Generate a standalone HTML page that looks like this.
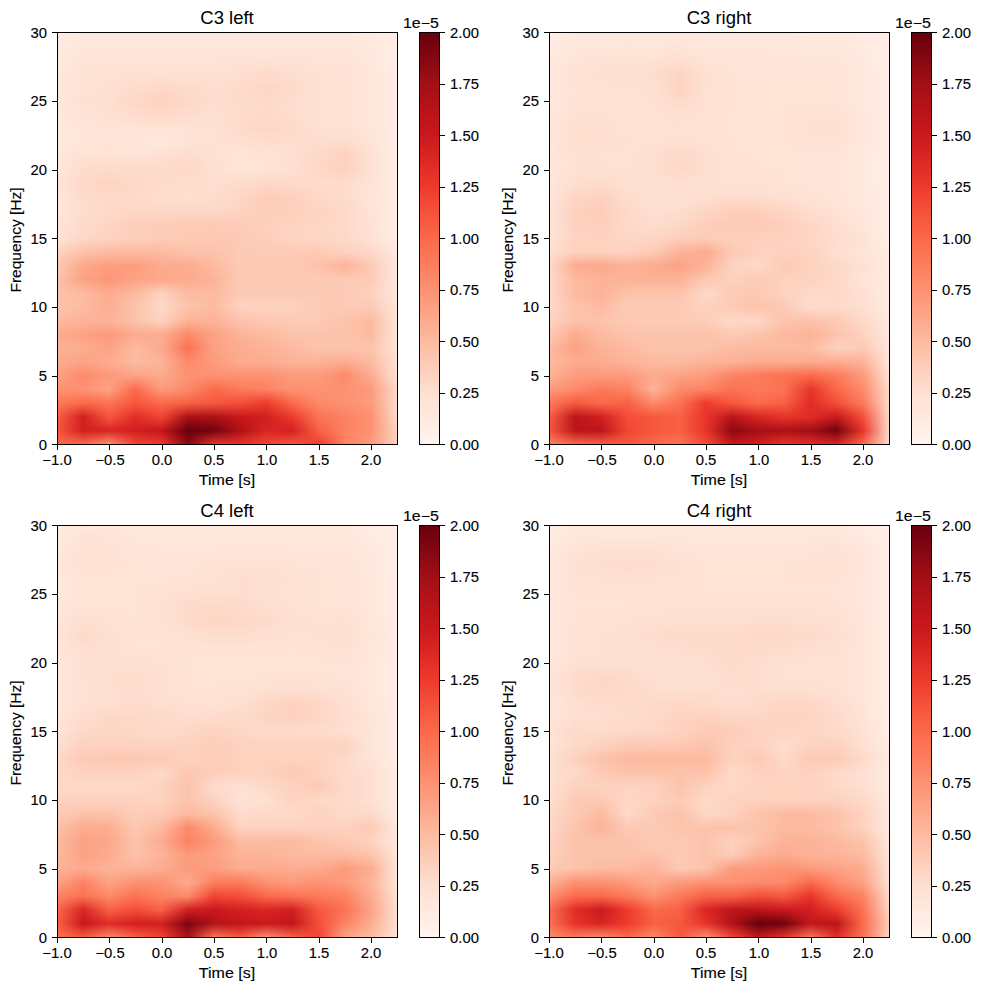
<!DOCTYPE html><html><head><meta charset="utf-8"><style>
html,body{margin:0;padding:0;background:#fff;}
body{width:982px;height:990px;position:relative;overflow:hidden;font-family:"Liberation Sans",sans-serif;color:#000;}
.hm{position:absolute;overflow:hidden;}
.hm i{display:block;height:1px;margin-left:0.40px;width:340.10px;}
.cb{position:absolute;}
.sp{position:absolute;border:1px solid #000;}
b{position:absolute;background:#000;}
span{position:absolute;white-space:nowrap;line-height:1;transform-origin:0 0;-webkit-text-stroke:0.12px #000;}
.tl{font-size:13.89px;}
.ti{font-size:18.4px;}
.xt{transform:scaleX(1.07) translateX(-50%);}
.yt{transform:scaleX(1.07) translateX(-100%);}
.cl{transform:scaleX(1.07);}
.of{transform:scaleX(1.15);}
.xl{font-size:14.3px;transform:scaleX(1.12) translateX(-50%);}
.yl{font-size:14.3px;transform:rotate(-90deg) scaleX(1.085) translate(-50%,-50%);}
.tt{font-size:18.4px;-webkit-text-stroke:0;transform:scaleX(1.005) translateX(-50%);}
</style></head><body>
<div class="hm" style="left:57px;top:32px;width:341px;height:413px">
<i style="background:linear-gradient(90deg,#ffece3,#fee8dd,#fee8dd,#fee8dd,#fee8dd,#fee8dd,#fee8dd,#fee8dd,#fee8dd,#fee8dd,#fee8dd,#fee8dd,#feeae1,#ffede5)"></i>
<i style="background:linear-gradient(90deg,#ffece3,#fee8dd,#fee8dd,#fee8dd,#fee8dd,#fee8dd,#fee8dd,#fee8dd,#fee8dd,#fee8dd,#fee8dd,#fee8dd,#feeae1,#ffede5)"></i>
<i style="background:linear-gradient(90deg,#ffece3,#fee8dd,#fee8dd,#fee8dd,#fee8dd,#fee8dd,#fee8dd,#fee8dd,#fee8dd,#fee8dd,#fee8dd,#fee8dd,#feeae1,#ffede5)"></i>
<i style="background:linear-gradient(90deg,#ffebe2,#fee7dd,#fee7dd,#fee7dd,#fee7dd,#fee7dd,#fee7dd,#fee7dd,#fee7dd,#fee7dd,#fee7dd,#fee7dd,#feeae1,#ffede5)"></i>
<i style="background:linear-gradient(90deg,#ffebe2,#fee7dc,#fee7dc,#fee7dc,#fee7dc,#fee7dc,#fee7dc,#fee7dc,#fee7dc,#fee7dc,#fee7dc,#fee7dc,#feeae0,#ffede5)"></i>
<i style="background:linear-gradient(90deg,#ffebe2,#fee7dc,#fee7dc,#fee7dc,#fee7dc,#fee7dc,#fee7dc,#fee7dc,#fee7dc,#fee7dc,#fee7dc,#fee7dc,#feeae0,#ffede5)"></i>
<i style="background:linear-gradient(90deg,#ffebe2,#fee7dc,#fee7dc,#fee7dc,#fee7dc,#fee7dc,#fee7dc,#fee7dc,#fee7dc,#fee7dc,#fee7dc,#fee7dc,#feeae0,#ffede5)"></i>
<i style="background:linear-gradient(90deg,#ffebe2,#fee7dc,#fee7dc,#fee7dc,#fee7dc,#fee7dc,#fee7dc,#fee7dc,#fee7dc,#fee7dc,#fee7dc,#fee7dc,#feeae0,#ffede5)"></i>
<i style="background:linear-gradient(90deg,#ffebe2,#fee7dc,#fee7dc,#fee7dc,#fee7dc,#fee7dc,#fee7dc,#fee7dc,#fee7dc,#fee7dc,#fee7dc,#fee7dc,#feeae0,#ffede5)"></i>
<i style="background:linear-gradient(90deg,#ffebe2,#fee7db,#fee7db,#fee7db,#fee7db,#fee7db,#fee7db,#fee7db,#fee7db,#fee7db,#fee7db,#fee7db,#feeae0,#ffede5)"></i>
<i style="background:linear-gradient(90deg,#ffebe1,#fee6db,#fee6db,#fee6db,#fee6db,#fee6db,#fee6db,#fee6db,#fee6db,#fee6db,#fee6db,#fee6db,#fee9e0,#ffede5)"></i>
<i style="background:linear-gradient(90deg,#ffebe1,#fee6db,#fee6db,#fee6db,#fee6db,#fee6db,#fee6db,#fee6db,#fee6db,#fee6db,#fee6db,#fee6db,#fee9df,#ffede5)"></i>
<i style="background:linear-gradient(90deg,#ffebe1,#fee6db,#fee6db,#fee6db,#fee6db,#fee6db,#fee6db,#fee6db,#fee6db,#fee6db,#fee6db,#fee6db,#fee9df,#ffede5)"></i>
<i style="background:linear-gradient(90deg,#ffebe1,#fee6da,#fee6da,#fee6da,#fee6da,#fee6da,#fee6da,#fee6da,#fee6da,#fee6da,#fee6da,#fee6da,#fee9df,#ffede5)"></i>
<i style="background:linear-gradient(90deg,#feeae1,#fee6da,#fee6da,#fee6da,#fee6da,#fee6da,#fee6da,#fee6da,#fee6da,#fee6da,#fee6da,#fee6da,#fee9df,#ffede5)"></i>
<i style="background:linear-gradient(90deg,#feeae1,#fee6da,#fee6da,#fee6da,#fee6da,#fee6da,#fee6da,#fee6da,#fee6da,#fee6da,#fee6da,#fee6da,#fee9df,#ffede5)"></i>
<i style="background:linear-gradient(90deg,#feeae1,#fee6da,#fee6da,#fee6da,#fee6da,#fee6da,#fee6da,#fee5da,#fee5da,#fee5da,#fee6da,#fee6da,#fee9df,#ffede5)"></i>
<i style="background:linear-gradient(90deg,#feeae0,#fee5da,#fee5da,#fee5da,#fee5da,#fee5da,#fee5da,#fee5d9,#fee5d9,#fee5d9,#fee5da,#fee5da,#fee9de,#ffede5)"></i>
<i style="background:linear-gradient(90deg,#feeae0,#fee5d9,#fee5d9,#fee5d9,#fee5d9,#fee5d9,#fee5d9,#fee5d9,#fee5d9,#fee5d9,#fee5d9,#fee5d9,#fee9de,#ffede5)"></i>
<i style="background:linear-gradient(90deg,#feeae0,#fee5d9,#fee5d9,#fee5d9,#fee5d9,#fee5d9,#fee5d9,#fee5d9,#fee5d9,#fee5d9,#fee5d9,#fee5d9,#fee8de,#ffede5)"></i>
<i style="background:linear-gradient(90deg,#feeae0,#fee5d9,#fee5d9,#fee5d9,#fee5d9,#fee5d9,#fee5d9,#fee5d9,#fee4d8,#fee5d9,#fee5d9,#fee5d9,#fee8de,#ffede5)"></i>
<i style="background:linear-gradient(90deg,#feeae0,#fee5d9,#fee5d9,#fee5d9,#fee5d9,#fee5d9,#fee5d9,#fee4d8,#fee4d8,#fee4d8,#fee5d9,#fee5d9,#fee8de,#ffede5)"></i>
<i style="background:linear-gradient(90deg,#feeae0,#fee5d9,#fee5d9,#fee5d9,#fee5d9,#fee5d9,#fee5d9,#fee4d8,#fee4d7,#fee4d8,#fee5d9,#fee5d9,#fee8dd,#ffede5)"></i>
<i style="background:linear-gradient(90deg,#feeae0,#fee4d8,#fee4d8,#fee4d8,#fee4d8,#fee4d8,#fee4d8,#fee4d8,#fee4d7,#fee4d8,#fee4d8,#fee4d8,#fee8dd,#ffede5)"></i>
<i style="background:linear-gradient(90deg,#fee9e0,#fee4d8,#fee4d8,#fee4d8,#fee4d8,#fee4d8,#fee4d8,#fee4d8,#fee3d7,#fee4d8,#fee4d8,#fee4d8,#fee8dd,#ffede5)"></i>
<i style="background:linear-gradient(90deg,#fee9df,#fee4d8,#fee4d8,#fee4d8,#fee4d8,#fee4d8,#fee4d8,#fee4d7,#fee3d6,#fee4d7,#fee4d8,#fee4d8,#fee8dd,#ffede5)"></i>
<i style="background:linear-gradient(90deg,#fee9df,#fee4d8,#fee4d8,#fee4d8,#fee4d8,#fee4d8,#fee4d8,#fee3d7,#fee3d6,#fee3d7,#fee4d8,#fee4d8,#fee7dd,#ffede5)"></i>
<i style="background:linear-gradient(90deg,#fee9df,#fee4d8,#fee4d8,#fee4d8,#fee4d8,#fee4d8,#fee4d8,#fee3d7,#fee3d6,#fee3d7,#fee4d8,#fee4d8,#fee7dc,#ffede5)"></i>
<i style="background:linear-gradient(90deg,#fee9df,#fee4d7,#fee4d7,#fee4d7,#fee4d7,#fee4d7,#fee4d7,#fee3d6,#fee2d5,#fee3d6,#fee4d7,#fee4d7,#fee7dc,#ffede5)"></i>
<i style="background:linear-gradient(90deg,#fee9df,#fee4d7,#fee4d7,#fee4d7,#fee3d7,#fee4d7,#fee4d7,#fee3d6,#fee2d4,#fee3d6,#fee4d7,#fee4d7,#fee7dc,#ffede5)"></i>
<i style="background:linear-gradient(90deg,#fee9df,#fee3d7,#fee3d7,#fee3d7,#fee3d7,#fee3d7,#fee3d7,#fee2d5,#fee1d4,#fee2d5,#fee3d7,#fee3d7,#fee7dc,#ffede5)"></i>
<i style="background:linear-gradient(90deg,#fee9df,#fee3d7,#fee3d7,#fee3d7,#fee3d6,#fee3d7,#fee3d7,#fee2d5,#fee1d3,#fee2d5,#fee3d7,#fee3d7,#fee7dc,#ffede5)"></i>
<i style="background:linear-gradient(90deg,#fee9de,#fee3d7,#fee3d7,#fee3d6,#fee3d6,#fee3d6,#fee3d6,#fee2d4,#fee0d2,#fee2d4,#fee3d6,#fee3d7,#fee7dc,#ffede5)"></i>
<i style="background:linear-gradient(90deg,#fee9de,#fee3d6,#fee3d6,#fee3d6,#fee3d6,#fee3d6,#fee3d6,#fee1d4,#fee0d2,#fee1d4,#fee3d6,#fee3d6,#fee7db,#ffede5)"></i>
<i style="background:linear-gradient(90deg,#fee9de,#fee3d6,#fee3d6,#fee3d6,#fee2d5,#fee3d6,#fee3d6,#fee1d4,#fedfd1,#fee1d4,#fee3d6,#fee3d6,#fee7db,#ffede5)"></i>
<i style="background:linear-gradient(90deg,#fee8de,#fee3d6,#fee3d6,#fee2d5,#fee2d5,#fee2d5,#fee2d5,#fee1d3,#feded0,#fee1d3,#fee2d5,#fee3d6,#fee6db,#ffede5)"></i>
<i style="background:linear-gradient(90deg,#fee8de,#fee3d6,#fee3d6,#fee2d5,#fee2d5,#fee2d5,#fee2d5,#fee0d3,#fedecf,#fee0d3,#fee2d5,#fee3d6,#fee6db,#ffede5)"></i>
<i style="background:linear-gradient(90deg,#fee8de,#fee2d6,#fee2d6,#fee2d5,#fee2d4,#fee2d5,#fee2d5,#fee0d2,#feddcf,#fee0d2,#fee2d5,#fee2d6,#fee6db,#ffede5)"></i>
<i style="background:linear-gradient(90deg,#fee8de,#fee2d5,#fee2d5,#fee2d5,#fee1d4,#fee2d5,#fee2d5,#fee0d2,#feddce,#fee0d2,#fee2d5,#fee2d5,#fee6db,#ffede5)"></i>
<i style="background:linear-gradient(90deg,#fee8dd,#fee2d5,#fee2d5,#fee2d4,#fee1d4,#fee2d4,#fee2d4,#fedfd1,#fedccd,#fedfd1,#fee2d4,#fee2d5,#fee6db,#ffede5)"></i>
<i style="background:linear-gradient(90deg,#fee8dd,#fee2d5,#fee2d5,#fee1d4,#fee1d3,#fee1d4,#fee1d4,#fedfd1,#fedccc,#fedfd1,#fee1d4,#fee2d5,#fee6db,#ffede5)"></i>
<i style="background:linear-gradient(90deg,#fee8dd,#fee2d5,#fee2d5,#fee1d4,#fee1d3,#fee1d4,#fee1d4,#fedfd0,#fedbcc,#fedfd0,#fee1d4,#fee2d5,#fee6da,#ffede5)"></i>
<i style="background:linear-gradient(90deg,#fee8dd,#fee2d5,#fee2d5,#fee1d3,#fee0d2,#fee1d3,#fee1d4,#feded0,#fedbcb,#feded0,#fee1d4,#fee2d5,#fee6da,#ffede5)"></i>
<i style="background:linear-gradient(90deg,#fee8dd,#fee2d5,#fee2d4,#fee1d3,#fee0d1,#fee0d3,#fee1d3,#feded0,#fedacb,#feded0,#fee1d4,#fee2d5,#fee6da,#ffede5)"></i>
<i style="background:linear-gradient(90deg,#fee8dd,#fee2d5,#fee2d4,#fee0d2,#fedfd1,#fee0d2,#fee1d3,#fedecf,#fedaca,#fedecf,#fee1d4,#fee2d5,#fee6da,#ffede5)"></i>
<i style="background:linear-gradient(90deg,#fee8dd,#fee2d5,#fee2d4,#fee0d2,#feded0,#fee0d1,#fee1d3,#fedecf,#fedac9,#fedecf,#fee1d4,#fee2d5,#fee6da,#ffede5)"></i>
<i style="background:linear-gradient(90deg,#fee8dd,#fee2d5,#fee1d4,#fee0d1,#fedecf,#fedfd1,#fee0d3,#feddcf,#fed9c9,#feddcf,#fee1d4,#fee2d5,#fee6da,#ffede5)"></i>
<i style="background:linear-gradient(90deg,#fee8dd,#fee2d5,#fee1d4,#fedfd1,#feddce,#fedfd0,#fee0d2,#feddce,#fed9c8,#feddce,#fee1d4,#fee2d5,#fee6da,#ffede5)"></i>
<i style="background:linear-gradient(90deg,#fee8dd,#fee2d5,#fee1d4,#fedfd0,#feddce,#feded0,#fee0d2,#feddce,#fed8c8,#feddce,#fee1d4,#fee2d5,#fee6da,#ffede5)"></i>
<i style="background:linear-gradient(90deg,#fee8dd,#fee2d5,#fee1d4,#feded0,#fedccd,#fedecf,#fee0d2,#feddce,#fed8c7,#feddce,#fee1d4,#fee2d5,#fee6da,#ffede5)"></i>
<i style="background:linear-gradient(90deg,#fee8dd,#fee2d5,#fee1d3,#feded0,#fedccc,#feddcf,#fee0d2,#fedccd,#fed7c7,#fedccd,#fee1d4,#fee2d5,#fee6da,#ffede5)"></i>
<i style="background:linear-gradient(90deg,#fee8dd,#fee2d5,#fee1d3,#fedecf,#fedbcb,#feddce,#fedfd1,#fedccd,#fed7c6,#fedccd,#fee1d4,#fee2d5,#fee6da,#ffede5)"></i>
<i style="background:linear-gradient(90deg,#fee8dd,#fee2d5,#fee1d3,#feddcf,#fedacb,#fedccd,#fedfd1,#fedccd,#fdd7c6,#fedccd,#fee1d4,#fee2d5,#fee6da,#ffede5)"></i>
<i style="background:linear-gradient(90deg,#fee8dd,#fee2d5,#fee1d3,#feddce,#fedaca,#fedccd,#fedfd1,#fedccc,#fdd6c5,#fedccc,#fee1d4,#fee2d5,#fee6da,#ffede5)"></i>
<i style="background:linear-gradient(90deg,#fee8dd,#fee2d5,#fee1d3,#feddce,#fed9c9,#fedccc,#fedfd0,#fedbcc,#fdd6c4,#fedbcc,#fee1d4,#fee2d5,#fee6da,#ffede5)"></i>
<i style="background:linear-gradient(90deg,#fee8dd,#fee2d5,#fee1d3,#fedccd,#fed9c8,#fedbcc,#fedfd0,#fedbcc,#fdd5c4,#fedbcc,#fee1d4,#fee2d5,#fee6da,#ffede5)"></i>
<i style="background:linear-gradient(90deg,#fee8dd,#fee2d5,#fee0d3,#fedccd,#fed8c8,#fedbcb,#fedfd0,#fedbcc,#fdd6c4,#fedbcc,#fee1d4,#fee2d5,#fee6da,#ffede5)"></i>
<i style="background:linear-gradient(90deg,#fee8dd,#fee2d5,#fee0d2,#fedbcc,#fed8c7,#fedacb,#fedfd0,#fedbcc,#fdd6c5,#fedccc,#fee1d4,#fee2d5,#fee6da,#ffede5)"></i>
<i style="background:linear-gradient(90deg,#fee8dd,#fee2d4,#fee0d2,#fedbcb,#fed7c6,#fedaca,#feded0,#fedbcc,#fdd6c5,#fedccc,#fee1d4,#fee2d5,#fee6da,#ffede5)"></i>
<i style="background:linear-gradient(90deg,#fee8dd,#fee2d4,#fee0d2,#fedbcb,#fed7c6,#fedaca,#feded0,#fedccc,#fdd6c5,#fedccd,#fee1d4,#fee2d5,#fee6da,#ffede5)"></i>
<i style="background:linear-gradient(90deg,#fee8dd,#fee2d4,#fee0d2,#fedaca,#fdd6c5,#fed9c9,#feded0,#fedccc,#fdd7c6,#fedccd,#fee1d4,#fee2d5,#fee6da,#ffede5)"></i>
<i style="background:linear-gradient(90deg,#fee8dd,#fee2d4,#fee0d2,#fedaca,#fdd6c4,#fed9c9,#feded0,#fedccc,#fed7c6,#fedccd,#fee1d4,#fee2d5,#fee6da,#ffede5)"></i>
<i style="background:linear-gradient(90deg,#fee8dd,#fee2d4,#fee0d1,#fed9c9,#fdd5c4,#fed9c8,#fedecf,#fedccc,#fed7c6,#fedccd,#fee1d4,#fee2d5,#fee6da,#ffede5)"></i>
<i style="background:linear-gradient(90deg,#fee8dd,#fee2d4,#fedfd1,#fed9c9,#fdd5c3,#fed8c8,#fedecf,#fedccd,#fed7c7,#feddcd,#fee1d4,#fee2d5,#fee6da,#ffede5)"></i>
<i style="background:linear-gradient(90deg,#fee8dd,#fee1d4,#fedfd1,#fed8c8,#fdd4c2,#fed8c8,#fedecf,#fedccd,#fed8c7,#feddce,#fee1d4,#fee2d5,#fee6da,#ffede5)"></i>
<i style="background:linear-gradient(90deg,#fee8dd,#fee1d4,#fedfd1,#fed8c8,#fdd4c2,#fed8c7,#fedecf,#fedccd,#fed8c7,#feddce,#fee1d4,#fee2d5,#fee6da,#ffede5)"></i>
<i style="background:linear-gradient(90deg,#fee8dd,#fee1d4,#fedfd1,#fed8c7,#fdd3c1,#fed7c7,#fedecf,#fedccd,#fed8c8,#feddce,#fee1d4,#fee2d5,#fee6da,#ffede5)"></i>
<i style="background:linear-gradient(90deg,#fee8dd,#fee1d4,#fedfd1,#fed7c6,#fdd3c0,#fed7c6,#fedecf,#fedccd,#fed8c8,#feddce,#fee1d4,#fee2d5,#fee6da,#ffede5)"></i>
<i style="background:linear-gradient(90deg,#fee8dd,#fee1d4,#fedfd0,#fed7c6,#fdd2c0,#fed7c6,#fedecf,#fedccd,#fed9c8,#feddcf,#fee1d4,#fee2d5,#fee6da,#ffede5)"></i>
<i style="background:linear-gradient(90deg,#fee8dd,#fee1d4,#fedfd0,#fed7c6,#fdd2c0,#fed7c6,#fedecf,#fedccd,#fed9c9,#fedecf,#fee1d4,#fee2d5,#fee6da,#ffede5)"></i>
<i style="background:linear-gradient(90deg,#fee8dd,#fee1d4,#fedfd1,#fed7c6,#fdd3c0,#fed7c6,#fedecf,#fedccd,#fed9c9,#fedecf,#fee1d4,#fee2d5,#fee6da,#ffede5)"></i>
<i style="background:linear-gradient(90deg,#fee8dd,#fee1d4,#fedfd1,#fed8c7,#fdd3c1,#fed8c7,#fedecf,#fedccd,#fed9c9,#fedecf,#fee1d4,#fee2d5,#fee6da,#ffede5)"></i>
<i style="background:linear-gradient(90deg,#fee8dd,#fee2d4,#fedfd1,#fed8c7,#fdd4c2,#fed8c7,#feded0,#fedccd,#fed9c9,#fedecf,#fee1d4,#fee2d5,#fee6da,#ffede5)"></i>
<i style="background:linear-gradient(90deg,#fee8dd,#fee2d4,#fedfd1,#fed8c8,#fdd4c2,#fed8c8,#feded0,#fedccd,#fed9c9,#fedecf,#fee1d4,#fee2d5,#fee6da,#ffede5)"></i>
<i style="background:linear-gradient(90deg,#fee8dd,#fee2d5,#fedfd1,#fed9c9,#fdd5c3,#fed9c9,#feded0,#fedccd,#fed9c9,#fedecf,#fee1d4,#fee2d5,#fee6da,#ffede5)"></i>
<i style="background:linear-gradient(90deg,#fee8dd,#fee2d5,#fee0d1,#fed9c9,#fdd5c4,#fed9c9,#fedfd0,#fedccd,#fed9c9,#fedecf,#fee1d4,#fee2d5,#fee6da,#ffede5)"></i>
<i style="background:linear-gradient(90deg,#fee8dd,#fee2d5,#fee0d2,#fedaca,#fdd6c4,#fedaca,#fedfd0,#fedccd,#fed9c9,#fedecf,#fee1d4,#fee2d5,#fee6da,#ffede5)"></i>
<i style="background:linear-gradient(90deg,#fee8dd,#fee2d5,#fee0d2,#fedaca,#fdd6c5,#fedaca,#fedfd1,#fedccd,#fed9c9,#fedecf,#fee1d4,#fee2d5,#fee6da,#ffede5)"></i>
<i style="background:linear-gradient(90deg,#fee8dd,#fee2d5,#fee0d2,#fedbcb,#fdd7c6,#fedbcb,#fedfd1,#fedccd,#fed9c9,#fedecf,#fee1d4,#fee2d5,#fee6da,#ffede5)"></i>
<i style="background:linear-gradient(90deg,#fee8dd,#fee2d5,#fee0d2,#fedbcb,#fed7c6,#fedbcb,#fedfd1,#fedccd,#fed9c9,#fedecf,#fee1d4,#fee2d5,#fee6da,#ffede5)"></i>
<i style="background:linear-gradient(90deg,#fee8dd,#fee2d5,#fee0d2,#fedbcc,#fed8c7,#fedbcc,#fedfd1,#fedccd,#fed9c9,#fedecf,#fee1d4,#fee2d5,#fee6da,#ffede5)"></i>
<i style="background:linear-gradient(90deg,#fee8dd,#fee2d5,#fee0d3,#fedccc,#fed8c8,#fedccc,#fee0d2,#fedccd,#fed9c9,#fedecf,#fee1d4,#fee2d5,#fee6da,#ffede5)"></i>
<i style="background:linear-gradient(90deg,#fee8dd,#fee3d6,#fee1d3,#fedccd,#fed9c8,#fedccd,#fee0d2,#fedccd,#fed9c9,#fedecf,#fee1d4,#fee2d5,#fee6da,#ffede5)"></i>
<i style="background:linear-gradient(90deg,#fee8dd,#fee3d6,#fee1d3,#feddce,#fed9c9,#feddce,#fee0d2,#fedccd,#fed9c8,#feddcf,#fee1d4,#fee2d5,#fee6da,#ffede5)"></i>
<i style="background:linear-gradient(90deg,#fee8dd,#fee3d6,#fee1d3,#feddce,#fedaca,#feddce,#fee0d2,#fedccd,#fed8c8,#feddce,#fee1d4,#fee2d5,#fee6da,#ffede5)"></i>
<i style="background:linear-gradient(90deg,#fee8de,#fee3d6,#fee1d4,#fedecf,#fedbcb,#fedecf,#fee0d2,#fedccd,#fed8c8,#feddce,#fee1d4,#fee2d5,#fee6da,#ffede5)"></i>
<i style="background:linear-gradient(90deg,#fee8de,#fee3d7,#fee1d4,#feded0,#fedccc,#fedecf,#fee0d2,#fedccd,#fed8c7,#feddce,#fee1d4,#fee2d4,#fee6da,#ffede5)"></i>
<i style="background:linear-gradient(90deg,#fee8de,#fee3d7,#fee2d4,#fedfd0,#fedccd,#feded0,#fee0d2,#fedccd,#fed8c7,#feddce,#fee1d3,#fee2d4,#fee6da,#ffede5)"></i>
<i style="background:linear-gradient(90deg,#fee8de,#fee4d7,#fee2d5,#fedfd1,#feddce,#fedfd1,#fee0d2,#fedccd,#fed7c7,#feddcd,#fee1d3,#fee2d4,#fee6da,#ffede5)"></i>
<i style="background:linear-gradient(90deg,#fee8de,#fee4d7,#fee2d5,#fee0d2,#fedecf,#fedfd1,#fee0d2,#fedccc,#fed7c6,#fedccd,#fee1d3,#fee2d4,#fee6da,#ffede5)"></i>
<i style="background:linear-gradient(90deg,#fee9de,#fee4d8,#fee2d5,#fee0d2,#fedfd0,#fee0d2,#fee0d2,#fedccc,#fed7c6,#fedccd,#fee1d3,#fee2d4,#fee6da,#ffede5)"></i>
<i style="background:linear-gradient(90deg,#fee9de,#fee4d8,#fee3d6,#fee1d3,#fedfd1,#fee0d3,#fee0d2,#fedccc,#fdd7c6,#fedccd,#fee1d3,#fee1d4,#fee6da,#ffede5)"></i>
<i style="background:linear-gradient(90deg,#fee9df,#fee4d8,#fee3d6,#fee1d4,#fee0d2,#fee1d3,#fee0d3,#fedccc,#fdd6c5,#fedccd,#fee1d3,#fee1d4,#fee6da,#ffede5)"></i>
<i style="background:linear-gradient(90deg,#fee9df,#fee5d9,#fee3d6,#fee2d5,#fee1d3,#fee1d4,#fee0d3,#fedbcc,#fdd6c5,#fedccc,#fee1d3,#fee1d4,#fee6da,#ffede5)"></i>
<i style="background:linear-gradient(90deg,#fee9df,#fee5d9,#fee3d7,#fee2d5,#fee2d5,#fee2d4,#fee0d3,#fedbcc,#fdd6c5,#fedccc,#fee1d3,#fee1d4,#fee6da,#ffede5)"></i>
<i style="background:linear-gradient(90deg,#fee9df,#fee5d9,#fee4d7,#fee3d6,#fee2d6,#fee2d5,#fee1d3,#fedbcc,#fdd6c4,#fedbcc,#fee1d3,#fee1d4,#fee6da,#ffede5)"></i>
<i style="background:linear-gradient(90deg,#fee9df,#fee5d9,#fee4d8,#fee3d7,#fee3d7,#fee3d6,#fee1d3,#fedbcc,#fdd5c4,#fedbcc,#fee1d3,#fee1d4,#fee6da,#ffede5)"></i>
<i style="background:linear-gradient(90deg,#fee9df,#fee5d9,#fee4d8,#fee3d7,#fee3d7,#fee3d6,#fee1d3,#fedccc,#fdd6c5,#fedbcc,#fee0d3,#fee1d3,#fee6da,#ffede5)"></i>
<i style="background:linear-gradient(90deg,#fee9df,#fee5d9,#fee4d8,#fee4d7,#fee4d7,#fee3d6,#fee1d3,#fedccd,#fdd6c5,#fedccc,#fee0d2,#fee1d3,#fee6da,#ffede5)"></i>
<i style="background:linear-gradient(90deg,#fee9df,#fee5d9,#fee4d8,#fee4d7,#fee4d8,#fee3d6,#fee1d3,#fedccd,#fed7c6,#fedccc,#fee0d2,#fee0d2,#fee5da,#ffede5)"></i>
<i style="background:linear-gradient(90deg,#fee9df,#fee5d9,#fee4d8,#fee4d8,#fee4d8,#fee3d6,#fee1d3,#feddcd,#fed7c7,#fedccd,#fee0d2,#fee0d2,#fee5da,#ffede5)"></i>
<i style="background:linear-gradient(90deg,#fee9df,#fee5d9,#fee4d8,#fee4d8,#fee5d9,#fee3d6,#fee1d3,#feddce,#fed8c7,#fedccd,#fedfd1,#fedfd1,#fee5d9,#ffede5)"></i>
<i style="background:linear-gradient(90deg,#fee9df,#fee5d9,#fee4d8,#fee4d8,#fee5d9,#fee3d6,#fee1d3,#feddce,#fed8c8,#fedccd,#fedfd1,#fedfd1,#fee5d9,#ffede5)"></i>
<i style="background:linear-gradient(90deg,#fee9df,#fee5d9,#fee4d8,#fee5d8,#fee5d9,#fee3d6,#fee1d3,#fedecf,#fed9c9,#fedccd,#fedfd1,#fedfd0,#fee5d9,#ffede5)"></i>
<i style="background:linear-gradient(90deg,#fee9df,#fee5d9,#fee4d8,#fee5d9,#fee6da,#fee3d6,#fee1d3,#fedecf,#fed9c9,#feddcd,#fedfd0,#feded0,#fee5d9,#ffede5)"></i>
<i style="background:linear-gradient(90deg,#fee9df,#fee5d9,#fee4d8,#fee5d9,#fee6da,#fee3d6,#fee1d3,#feded0,#fedaca,#feddce,#fedfd0,#fedecf,#fee5d9,#ffede5)"></i>
<i style="background:linear-gradient(90deg,#fee9df,#fee5d9,#fee4d8,#fee5d9,#fee6db,#fee3d6,#fee1d4,#fedfd0,#fedacb,#feddce,#feded0,#fedecf,#fee4d8,#ffede5)"></i>
<i style="background:linear-gradient(90deg,#fee9df,#fee5d9,#fee4d8,#fee5da,#fee6db,#fee3d6,#fee1d4,#fedfd1,#fedbcb,#feddce,#feded0,#feddcf,#fee4d8,#ffede5)"></i>
<i style="background:linear-gradient(90deg,#fee9df,#fee5d9,#fee4d8,#fee6da,#fee7dc,#fee3d6,#fee1d4,#fedfd1,#fedbcc,#feddce,#fedecf,#feddce,#fee4d8,#ffede5)"></i>
<i style="background:linear-gradient(90deg,#fee9df,#fee5d9,#fee4d8,#fee6da,#fee7dc,#fee3d7,#fee1d4,#fee0d1,#fedccd,#feddcf,#fedecf,#feddce,#fee4d8,#ffede5)"></i>
<i style="background:linear-gradient(90deg,#fee9df,#fee5d9,#fee4d8,#fee6da,#fee7dc,#fee3d6,#fee1d4,#fee0d2,#fedccd,#fedecf,#feddcf,#fedccd,#fee4d7,#ffede5)"></i>
<i style="background:linear-gradient(90deg,#fee9df,#fee5d9,#fee4d8,#fee5da,#fee7db,#fee2d6,#fee1d4,#fee0d2,#feddce,#fedecf,#feddce,#fedbcc,#fee4d7,#ffede5)"></i>
<i style="background:linear-gradient(90deg,#fee9df,#fee5d9,#fee4d8,#fee5d9,#fee6db,#fee2d5,#fee1d4,#fee1d3,#feddcf,#fedecf,#feddcd,#fedacb,#fee3d7,#ffede5)"></i>
<i style="background:linear-gradient(90deg,#fee9df,#fee4d8,#fee4d7,#fee5d9,#fee6da,#fee1d4,#fee1d4,#fee1d3,#fedecf,#fedecf,#fedccd,#fedaca,#fee3d6,#ffede5)"></i>
<i style="background:linear-gradient(90deg,#fee9de,#fee4d8,#fee4d7,#fee5d9,#fee5d9,#fee1d3,#fee1d3,#fee1d4,#feded0,#feded0,#fedccc,#fed9c8,#fee3d6,#ffede5)"></i>
<i style="background:linear-gradient(90deg,#fee9de,#fee4d8,#fee3d7,#fee4d8,#fee5d9,#fee0d2,#fee1d3,#fee2d4,#fedfd1,#feded0,#fedbcc,#fed8c7,#fee3d6,#ffede5)"></i>
<i style="background:linear-gradient(90deg,#fee9de,#fee4d7,#fee3d6,#fee4d8,#fee4d8,#fee0d2,#fee1d3,#fee2d5,#fedfd1,#fedfd0,#fedbcb,#fed7c6,#fee2d5,#ffede5)"></i>
<i style="background:linear-gradient(90deg,#fee8de,#fee3d7,#fee3d6,#fee4d7,#fee4d7,#fedfd1,#fee1d3,#fee2d5,#fee0d2,#fedfd0,#fedacb,#fdd6c5,#fee2d5,#ffede5)"></i>
<i style="background:linear-gradient(90deg,#fee8de,#fee3d7,#fee3d6,#fee3d7,#fee3d7,#feded0,#fee1d3,#fee3d6,#fee0d3,#fedfd1,#fedaca,#fdd5c4,#fee2d5,#ffede5)"></i>
<i style="background:linear-gradient(90deg,#fee8de,#fee3d6,#fee2d5,#fee3d7,#fee3d6,#fedecf,#fee1d3,#fee3d6,#fee1d4,#fedfd1,#fedaca,#fdd5c3,#fee2d4,#ffede5)"></i>
<i style="background:linear-gradient(90deg,#fee8de,#fee3d6,#fee2d5,#fee3d6,#fee2d5,#feddce,#fee1d3,#fee3d7,#fee1d4,#fedfd1,#fed9c9,#fdd4c2,#fee1d4,#ffede5)"></i>
<i style="background:linear-gradient(90deg,#fee8de,#fee2d6,#fee2d5,#fee3d6,#fee2d5,#feddce,#fee1d3,#fee4d7,#fee2d5,#fedfd1,#fed9c8,#fdd3c1,#fee1d4,#ffede5)"></i>
<i style="background:linear-gradient(90deg,#fee8dd,#fee2d5,#fee2d4,#fee2d5,#fee1d4,#fedccd,#fee1d3,#fee4d8,#fee2d6,#fee0d1,#fed8c8,#fdd2c0,#fee1d3,#ffede5)"></i>
<i style="background:linear-gradient(90deg,#fee8dd,#fee2d5,#fee1d4,#fee2d5,#fee1d3,#fedccc,#fee1d3,#fee4d8,#fee3d6,#fee0d2,#fed8c7,#fdd1be,#fee1d3,#ffede5)"></i>
<i style="background:linear-gradient(90deg,#fee8dd,#fee2d4,#fee1d3,#fee2d4,#fee0d3,#fedbcb,#fee1d3,#fee5d8,#fee3d7,#fee0d2,#fed8c7,#fdd1be,#fee1d3,#ffede5)"></i>
<i style="background:linear-gradient(90deg,#fee8dd,#fee1d4,#fee0d3,#fee1d4,#fee0d2,#fedbcb,#fee0d3,#fee4d8,#fee3d6,#fee0d2,#fed8c7,#fdd1be,#fee1d3,#ffede5)"></i>
<i style="background:linear-gradient(90deg,#fee8dd,#fee1d3,#fee0d2,#fee1d3,#fedfd1,#fedbcb,#fee0d3,#fee4d8,#fee3d6,#fee0d2,#fed8c7,#fdd1be,#fee1d3,#ffede5)"></i>
<i style="background:linear-gradient(90deg,#fee7dd,#fee0d3,#fedfd1,#fee0d2,#fedfd1,#fedaca,#fee0d3,#fee4d8,#fee3d6,#fee0d2,#fed8c7,#fdd1be,#fee1d3,#ffede5)"></i>
<i style="background:linear-gradient(90deg,#fee7dd,#fee0d2,#fedfd1,#fee0d2,#feded0,#fedaca,#fee0d2,#fee4d8,#fee3d6,#fee0d2,#fed8c7,#fdd1be,#fee1d3,#ffede5)"></i>
<i style="background:linear-gradient(90deg,#fee7dc,#fee0d2,#feded0,#fedfd1,#fedecf,#fedaca,#fee0d2,#fee4d8,#fee3d6,#fee0d2,#fed8c7,#fdd1be,#fee1d3,#ffede5)"></i>
<i style="background:linear-gradient(90deg,#fee7dc,#fedfd1,#fedecf,#fedfd0,#feddcf,#fedac9,#fee0d2,#fee4d8,#fee3d6,#fee0d2,#fed8c7,#fdd1be,#fee1d3,#ffede5)"></i>
<i style="background:linear-gradient(90deg,#fee7dc,#fedfd1,#feddce,#feded0,#feddce,#fed9c9,#fee0d2,#fee4d8,#fee3d6,#fee0d2,#fed8c7,#fdd1be,#fee1d3,#ffede5)"></i>
<i style="background:linear-gradient(90deg,#fee7dc,#feded0,#feddce,#fedecf,#feddcd,#fed9c9,#fee0d2,#fee4d8,#fee3d6,#fee0d2,#fed8c7,#fdd1be,#fee1d3,#ffede5)"></i>
<i style="background:linear-gradient(90deg,#fee7dc,#feded0,#fedccd,#feddce,#fedccd,#fed9c8,#fee0d2,#fee4d8,#fee3d6,#fee0d2,#fed8c7,#fdd1be,#fee1d3,#ffede5)"></i>
<i style="background:linear-gradient(90deg,#fee7dc,#fedecf,#fedccc,#feddce,#fedccc,#fed9c8,#fee0d2,#fee4d8,#fee3d6,#fee0d2,#fed8c7,#fdd1be,#fee1d3,#ffede5)"></i>
<i style="background:linear-gradient(90deg,#fee7dc,#feddce,#fedbcc,#fedccd,#fedbcc,#fed8c8,#fee0d2,#fee4d8,#fee3d6,#fee0d2,#fed8c7,#fdd1be,#fee1d3,#ffede5)"></i>
<i style="background:linear-gradient(90deg,#fee7db,#feddce,#fedbcb,#fedccc,#fedbcb,#fed8c7,#fee0d2,#fee4d8,#fee3d6,#fee0d2,#fed8c7,#fdd1be,#fee1d3,#ffede5)"></i>
<i style="background:linear-gradient(90deg,#fee7db,#fedccd,#fedaca,#fedbcc,#fedaca,#fed8c7,#fee0d2,#fee4d8,#fee3d6,#fee0d2,#fed8c7,#fdd1be,#fee1d3,#ffede5)"></i>
<i style="background:linear-gradient(90deg,#fee6db,#fedccd,#fedaca,#fedbcb,#fedaca,#fed8c7,#fee0d2,#fee3d7,#fee2d5,#fee0d1,#fed8c7,#fdd1bf,#fee1d3,#ffede5)"></i>
<i style="background:linear-gradient(90deg,#fee6db,#fedccc,#fed9c9,#fedbcb,#fedacb,#fed8c8,#fee0d2,#fee3d6,#fee1d4,#fedfd1,#fed8c8,#fdd2c0,#fee1d3,#ffede5)"></i>
<i style="background:linear-gradient(90deg,#fee6db,#fedbcc,#fed9c8,#fedbcb,#fedbcb,#fed9c9,#fee0d1,#fee2d5,#fee0d3,#fedfd0,#fed8c8,#fdd3c1,#fee1d4,#ffede5)"></i>
<i style="background:linear-gradient(90deg,#fee6db,#fedbcc,#fed8c8,#fedaca,#fedbcb,#fed9c9,#fee0d1,#fee2d5,#fee0d2,#feded0,#fed9c8,#fdd4c2,#fee1d4,#ffede5)"></i>
<i style="background:linear-gradient(90deg,#fee6db,#fedbcb,#fed8c7,#fedaca,#fedbcb,#fedaca,#fedfd1,#fee1d4,#fedfd1,#fedecf,#fed9c9,#fdd4c3,#fee1d4,#ffede5)"></i>
<i style="background:linear-gradient(90deg,#fee6db,#fedacb,#fed7c6,#fedaca,#fedbcb,#fedaca,#fedfd1,#fee1d3,#feded0,#feddcf,#fed9c9,#fdd5c4,#fee2d4,#ffede5)"></i>
<i style="background:linear-gradient(90deg,#fee6db,#fedaca,#fdd7c6,#fed9c9,#fedbcc,#fedbcb,#fedfd1,#fee0d2,#feddce,#feddce,#fed9c9,#fdd6c5,#fee2d5,#ffede5)"></i>
<i style="background:linear-gradient(90deg,#fee6db,#fedaca,#fdd6c5,#fed9c9,#fedbcc,#fedbcb,#fedfd1,#fee0d2,#fedccd,#feddcd,#fedaca,#fdd7c6,#fee2d5,#ffede5)"></i>
<i style="background:linear-gradient(90deg,#fee6db,#fed9c9,#fdd6c4,#fed9c9,#fedccc,#fedbcc,#fedfd1,#fedfd1,#fedccc,#fedccd,#fedaca,#fed7c7,#fee2d5,#ffede5)"></i>
<i style="background:linear-gradient(90deg,#fee6db,#fed9c9,#fdd5c4,#fed9c8,#fedccc,#fedccd,#fedfd1,#fedfd0,#fedbcb,#fedccc,#fedaca,#fed8c8,#fee2d6,#ffede5)"></i>
<i style="background:linear-gradient(90deg,#fee6db,#fed9c8,#fdd5c3,#fed8c8,#fedccd,#fedccd,#fedfd1,#fedecf,#fedaca,#fedbcc,#fedacb,#fed9c9,#fee3d6,#ffede5)"></i>
<i style="background:linear-gradient(90deg,#fee6da,#fed8c8,#fdd4c2,#fed8c8,#fedccd,#feddce,#fedfd0,#feddcf,#fed9c9,#fedbcb,#fedbcb,#fedaca,#fee3d6,#ffede5)"></i>
<i style="background:linear-gradient(90deg,#fee6da,#fed8c7,#fdd4c2,#fed8c7,#fedccd,#feddce,#fedfd0,#feddce,#fed8c8,#fedacb,#fedbcb,#fedacb,#fee3d6,#ffede5)"></i>
<i style="background:linear-gradient(90deg,#fee6da,#fed8c7,#fdd3c1,#fed8c7,#fedccd,#fedecf,#fedfd0,#fedccd,#fed8c7,#fedaca,#fedbcc,#fedbcc,#fee3d7,#ffede5)"></i>
<i style="background:linear-gradient(90deg,#fee6da,#fed8c7,#fdd3c1,#fed8c7,#fedccd,#fedecf,#fedfd0,#fedccd,#fed7c6,#fed9c9,#fedbcb,#fedbcc,#fee3d7,#ffede5)"></i>
<i style="background:linear-gradient(90deg,#fee6da,#fed8c8,#fdd4c2,#fed8c8,#feddcd,#fedecf,#fedfd0,#fedbcc,#fdd6c5,#fed9c8,#fedbcb,#fedbcc,#fee3d7,#ffede5)"></i>
<i style="background:linear-gradient(90deg,#fee6db,#fed8c8,#fdd4c2,#fed8c8,#feddce,#fedecf,#feded0,#fedbcb,#fdd5c4,#fed8c7,#fedacb,#fedbcc,#fee3d7,#ffede5)"></i>
<i style="background:linear-gradient(90deg,#fee6db,#fed9c8,#fdd4c3,#fed8c8,#feddce,#fedecf,#feded0,#fedaca,#fdd4c3,#fed7c7,#fedaca,#fedccc,#fee3d7,#ffede5)"></i>
<i style="background:linear-gradient(90deg,#fee6db,#fed9c9,#fdd5c3,#fed9c8,#feddce,#fedecf,#feded0,#fedaca,#fdd3c1,#fdd7c6,#fedaca,#fedccc,#fee3d7,#ffede5)"></i>
<i style="background:linear-gradient(90deg,#fee6db,#fed9c9,#fdd5c4,#fed9c8,#feddce,#fedecf,#feded0,#fed9c9,#fdd3c0,#fdd6c5,#fedaca,#fedccc,#fee4d7,#ffede5)"></i>
<i style="background:linear-gradient(90deg,#fee6db,#fedac9,#fdd5c4,#fed9c9,#feddce,#feded0,#fedecf,#fed9c8,#fdd2bf,#fdd5c4,#fed9c9,#fedccc,#fee4d7,#ffede5)"></i>
<i style="background:linear-gradient(90deg,#fee6db,#fedaca,#fdd6c4,#fed9c9,#feddce,#feded0,#fedecf,#fed8c8,#fdd1be,#fdd5c3,#fed9c9,#fedccd,#fee4d7,#ffede5)"></i>
<i style="background:linear-gradient(90deg,#fee6db,#fedaca,#fdd6c5,#fed9c9,#feddce,#feded0,#fedecf,#fed8c7,#fdd0bd,#fdd4c2,#fed9c9,#fedccd,#fee4d7,#ffede5)"></i>
<i style="background:linear-gradient(90deg,#fee6db,#fedaca,#fdd6c5,#fed9c9,#feddce,#feded0,#fedecf,#fed7c6,#fdcfbc,#fdd3c1,#fed9c8,#fedccd,#fee4d7,#ffede5)"></i>
<i style="background:linear-gradient(90deg,#fee6db,#fedbcb,#fed7c6,#fedaca,#feddce,#feded0,#fedecf,#fed7c6,#fdcebb,#fdd3c0,#fed8c8,#fedccd,#fee4d7,#ffede5)"></i>
<i style="background:linear-gradient(90deg,#fee6db,#fedbcb,#fed7c6,#fedaca,#feddcf,#fedfd0,#fedecf,#fdd6c5,#fdceba,#fdd2bf,#fed8c8,#fedccd,#fee4d7,#ffede5)"></i>
<i style="background:linear-gradient(90deg,#fee6db,#fedbcb,#fed7c7,#fedaca,#feddcf,#fedfd0,#fedecf,#fdd6c4,#fdcdb8,#fdd1be,#fed8c7,#fedccd,#fee4d7,#ffede5)"></i>
<i style="background:linear-gradient(90deg,#fee7db,#fedbcc,#fed8c7,#fedaca,#feddcf,#fedfd0,#feddcf,#fdd5c4,#fdccb8,#fdd1be,#fed8c7,#fedccd,#fee4d8,#ffede5)"></i>
<i style="background:linear-gradient(90deg,#fee7db,#fedbcc,#fed8c7,#fedaca,#feddce,#fedecf,#feddce,#fdd5c4,#fdccb8,#fdd1be,#fed7c6,#fedccd,#fee4d7,#ffede5)"></i>
<i style="background:linear-gradient(90deg,#fee7db,#fedccc,#fed8c7,#fed9c9,#fedccd,#fedecf,#feddcd,#fdd5c3,#fdcdb8,#fdd1be,#fed7c6,#fedccc,#fee4d7,#ffede5)"></i>
<i style="background:linear-gradient(90deg,#fee7db,#fedccc,#fed8c7,#fed9c9,#fedccd,#feddce,#fedccd,#fdd5c3,#fdcdb8,#fdd0bd,#fdd7c6,#fedbcc,#fee4d7,#ffede5)"></i>
<i style="background:linear-gradient(90deg,#fee7db,#fedccd,#fed8c8,#fed9c9,#fedbcc,#feddcd,#fedccc,#fdd5c3,#fdcdb9,#fdd0bd,#fdd6c5,#fedbcb,#fee4d7,#ffede5)"></i>
<i style="background:linear-gradient(90deg,#fee7db,#fedccd,#fed8c8,#fed9c8,#fedbcb,#fedccd,#fedbcc,#fdd5c3,#fdcdb9,#fdd0bd,#fdd6c5,#fedbcb,#fee4d7,#ffede5)"></i>
<i style="background:linear-gradient(90deg,#fee7db,#fedccd,#fed8c8,#fed8c8,#fedacb,#fedbcc,#fedbcb,#fdd4c3,#fdcdb9,#fdd0bd,#fdd6c4,#fedaca,#fee4d7,#ffede5)"></i>
<i style="background:linear-gradient(90deg,#fee7db,#fedccd,#fed8c8,#fed8c8,#fedaca,#fedbcb,#fedacb,#fdd4c2,#fdcdb9,#fdd0bd,#fdd5c4,#fedaca,#fee4d7,#ffede5)"></i>
<i style="background:linear-gradient(90deg,#fee7db,#feddce,#fed8c8,#fed8c7,#fed9c9,#fedacb,#fedaca,#fdd4c2,#fdceba,#fdd0bd,#fdd5c3,#fedac9,#fee3d7,#ffede5)"></i>
<i style="background:linear-gradient(90deg,#fee7db,#feddce,#fed9c8,#fed8c7,#fed9c8,#fedaca,#fedaca,#fdd4c2,#fdceba,#fdd0bd,#fdd5c3,#fed9c9,#fee3d7,#ffede5)"></i>
<i style="background:linear-gradient(90deg,#fee7db,#feddce,#fed9c8,#fed7c7,#fed8c8,#fed9c9,#fed9c9,#fdd4c2,#fdceba,#fdd0bd,#fdd4c2,#fed9c9,#fee3d7,#ffede5)"></i>
<i style="background:linear-gradient(90deg,#fee7db,#feddce,#fed9c8,#fed7c6,#fed8c7,#fed9c9,#fed9c8,#fdd3c1,#fdceba,#fdd0bd,#fdd4c2,#fed9c8,#fee3d7,#ffede5)"></i>
<i style="background:linear-gradient(90deg,#fee7db,#feddce,#fed9c8,#fed7c6,#fed7c6,#fed8c8,#fed8c8,#fdd3c1,#fdceba,#fdd0bc,#fdd4c2,#fed8c8,#fee3d7,#ffede5)"></i>
<i style="background:linear-gradient(90deg,#fee7db,#feddcf,#fed9c9,#fdd7c6,#fed7c6,#fed8c7,#fed8c7,#fdd3c1,#fdcebb,#fdd0bc,#fdd3c1,#fed8c7,#fee3d7,#ffede5)"></i>
<i style="background:linear-gradient(90deg,#fee6db,#feddcf,#fed9c8,#fdd6c5,#fdd6c5,#fed7c6,#fed7c6,#fdd3c1,#fdcebb,#fdd0bc,#fdd3c1,#fed8c7,#fee3d7,#ffede5)"></i>
<i style="background:linear-gradient(90deg,#fee6db,#feddce,#fed8c8,#fdd6c4,#fdd5c4,#fdd6c5,#fdd6c5,#fdd2c0,#fdcfbb,#fdd0bd,#fdd3c1,#fed8c7,#fee3d6,#ffede5)"></i>
<i style="background:linear-gradient(90deg,#fee6db,#feddce,#fed8c7,#fdd5c3,#fdd5c3,#fdd5c4,#fdd5c4,#fdd2bf,#fdcfbb,#fdd0bd,#fdd4c1,#fed8c7,#fee3d6,#ffede5)"></i>
<i style="background:linear-gradient(90deg,#fee6db,#feddce,#fed8c7,#fdd4c3,#fdd4c2,#fdd4c3,#fdd4c3,#fdd1bf,#fdcfbb,#fdd1bd,#fdd4c2,#fed8c7,#fee3d6,#ffede5)"></i>
<i style="background:linear-gradient(90deg,#fee6db,#fedccd,#fed7c7,#fdd4c2,#fdd3c1,#fdd3c1,#fdd3c1,#fdd1be,#fdcfbb,#fdd1be,#fdd4c2,#fed8c8,#fee3d6,#ffede5)"></i>
<i style="background:linear-gradient(90deg,#fee6db,#fedccd,#fed7c6,#fdd3c1,#fdd2c0,#fdd3c0,#fdd3c0,#fdd0bd,#fdcfbb,#fdd1be,#fdd4c2,#fed8c8,#fee3d6,#ffede5)"></i>
<i style="background:linear-gradient(90deg,#fee6da,#fedccd,#fdd7c6,#fdd3c0,#fdd2bf,#fdd2bf,#fdd2bf,#fdd0bc,#fdcfbb,#fdd1be,#fdd4c2,#fed8c8,#fee3d6,#ffede5)"></i>
<i style="background:linear-gradient(90deg,#fee6da,#fedccc,#fdd6c5,#fdd2c0,#fdd1be,#fdd1be,#fdd1be,#fdcfbc,#fdcfbc,#fdd2bf,#fdd4c3,#fed8c8,#fee3d6,#ffede5)"></i>
<i style="background:linear-gradient(90deg,#fee6da,#fedbcc,#fdd6c5,#fdd2bf,#fdd0bd,#fdd0bc,#fdd0bc,#fdcfbb,#fdcfbc,#fdd2bf,#fdd5c3,#fed8c8,#fee3d6,#ffede5)"></i>
<i style="background:linear-gradient(90deg,#fee6da,#fedbcc,#fdd6c4,#fdd1be,#fdcfbc,#fdcfbb,#fdcfbb,#fdceba,#fdcfbc,#fdd2bf,#fdd5c3,#fed9c8,#fee3d6,#ffede5)"></i>
<i style="background:linear-gradient(90deg,#fee5da,#fedbcb,#fdd5c4,#fdd0bd,#fdcfbb,#fdceba,#fdceba,#fdceba,#fdcfbc,#fdd2c0,#fdd5c3,#fed9c8,#fee3d6,#ffede5)"></i>
<i style="background:linear-gradient(90deg,#fee5da,#fedbcb,#fdd5c3,#fdd0bc,#fdceba,#fdcdb9,#fdcdb9,#fdcdb9,#fdcfbc,#fdd3c0,#fdd5c3,#fed9c8,#fee3d6,#ffede5)"></i>
<i style="background:linear-gradient(90deg,#fee5da,#fedacb,#fdd5c3,#fdcfbc,#fdcdb9,#fdccb8,#fdccb8,#fdcdb8,#fdd0bc,#fdd3c1,#fdd5c4,#fed9c8,#fee3d6,#ffede5)"></i>
<i style="background:linear-gradient(90deg,#fee5d9,#fedaca,#fdd4c3,#fdcfbb,#fdccb8,#fdcbb6,#fdcbb6,#fdccb8,#fdd0bc,#fdd3c1,#fdd5c4,#fed9c9,#fee3d6,#ffede5)"></i>
<i style="background:linear-gradient(90deg,#fee5d9,#fedaca,#fdd4c2,#fdcfbb,#fdccb8,#fdcbb6,#fdcbb6,#fdccb7,#fdd0bc,#fdd3c1,#fdd5c4,#fed9c8,#fee2d6,#ffede5)"></i>
<i style="background:linear-gradient(90deg,#fee5d9,#fedaca,#fdd4c2,#fdcfbb,#fdccb8,#fdcbb6,#fdcab6,#fdccb7,#fdcfbc,#fdd3c1,#fdd6c4,#fed9c8,#fee2d5,#ffede5)"></i>
<i style="background:linear-gradient(90deg,#fee5d9,#fed9c9,#fdd4c2,#fdcfbb,#fdccb8,#fdcbb6,#fdcab5,#fdccb7,#fdcfbc,#fdd3c1,#fdd6c4,#fed9c8,#fee2d5,#ffede5)"></i>
<i style="background:linear-gradient(90deg,#fee5d9,#fed9c9,#fdd4c2,#fdcfbb,#fdccb8,#fdcbb6,#fdcab5,#fdcbb7,#fdcfbc,#fdd3c1,#fdd6c4,#fed9c8,#fee2d5,#ffede5)"></i>
<i style="background:linear-gradient(90deg,#fee4d8,#fed9c8,#fdd4c2,#fdcfbb,#fdccb8,#fdcbb6,#fdcab5,#fdcbb7,#fdcfbc,#fdd3c1,#fdd6c5,#fed8c8,#fee2d5,#ffede5)"></i>
<i style="background:linear-gradient(90deg,#fee4d8,#fed9c8,#fdd4c2,#fdcfbb,#fdccb8,#fdcab5,#fdc9b4,#fdcbb6,#fdcfbc,#fdd4c2,#fdd6c5,#fed8c8,#fee2d5,#ffede5)"></i>
<i style="background:linear-gradient(90deg,#fee4d8,#fed8c8,#fdd4c2,#fdcfbc,#fdccb8,#fdcab5,#fdc9b4,#fdcbb6,#fdcfbc,#fdd4c2,#fdd6c5,#fed8c8,#fee2d5,#ffede5)"></i>
<i style="background:linear-gradient(90deg,#fee4d8,#fed8c7,#fdd4c2,#fdcfbc,#fdccb8,#fdcab5,#fdc9b4,#fdcbb6,#fdcfbb,#fdd4c2,#fdd6c5,#fed8c8,#fee2d5,#ffede5)"></i>
<i style="background:linear-gradient(90deg,#fee4d8,#fed8c7,#fdd4c1,#fdcfbc,#fdccb8,#fdcab5,#fdc9b3,#fdcbb6,#fdcfbb,#fdd4c2,#fdd6c5,#fed8c8,#fee2d4,#ffede5)"></i>
<i style="background:linear-gradient(90deg,#fee4d7,#fed8c7,#fdd3c1,#fdcfbc,#fdccb8,#fdcab5,#fdc8b3,#fdcab5,#fdcfbb,#fdd4c2,#fdd6c5,#fed8c7,#fee2d4,#ffede5)"></i>
<i style="background:linear-gradient(90deg,#fee4d7,#fed7c6,#fdd3c1,#fdcfbc,#fdccb8,#fdcab5,#fdc8b2,#fdcab5,#fdcfbb,#fdd4c2,#fdd6c5,#fed8c7,#fee2d4,#ffede5)"></i>
<i style="background:linear-gradient(90deg,#fee3d7,#fed7c6,#fdd3c1,#fdcfbc,#fdccb8,#fdcab5,#fdc8b2,#fdcab5,#fdcfbb,#fdd4c2,#fdd6c5,#fed8c7,#fee1d4,#ffede5)"></i>
<i style="background:linear-gradient(90deg,#fee3d7,#fed7c6,#fdd3c1,#fdd0bc,#fdccb8,#fdcab5,#fdc8b2,#fdcab5,#fdcfbb,#fdd4c2,#fdd6c5,#fed8c7,#fee1d4,#ffede5)"></i>
<i style="background:linear-gradient(90deg,#fee3d6,#fdd6c5,#fdd3c1,#fdcfbc,#fdccb8,#fdcab5,#fdc7b1,#fdcab5,#fdcebb,#fdd4c2,#fdd6c5,#fed8c7,#fee1d4,#ffede5)"></i>
<i style="background:linear-gradient(90deg,#fee2d5,#fdd5c3,#fdd1be,#fdceba,#fdcbb6,#fdc9b4,#fdc7b1,#fdcab5,#fdceba,#fdd3c1,#fdd6c4,#fed7c6,#fee1d3,#ffede4)"></i>
<i style="background:linear-gradient(90deg,#fee1d3,#fdd4c2,#fdcfbc,#fdccb8,#fdc9b4,#fdc9b3,#fdc7b1,#fdcab5,#fdceba,#fdd3c0,#fdd5c3,#fed7c6,#fee0d2,#ffece4)"></i>
<i style="background:linear-gradient(90deg,#fedfd1,#fdd2c0,#fdceba,#fdcbb6,#fdc8b2,#fdc8b3,#fdc6b0,#fdcab5,#fdcdb9,#fdd2bf,#fdd4c2,#fdd6c5,#fedfd1,#ffece3)"></i>
<i style="background:linear-gradient(90deg,#feded0,#fdd1be,#fdccb7,#fdc9b4,#fdc7b1,#fdc8b2,#fdc6b0,#fdcab5,#fdcdb9,#fdd1be,#fdd3c0,#fdd6c5,#fedfd0,#ffece3)"></i>
<i style="background:linear-gradient(90deg,#feddce,#fdcfbc,#fdcab5,#fdc8b2,#fdc6af,#fdc7b1,#fdc6af,#fdcab5,#fdcdb8,#fdd0bd,#fdd2bf,#fdd6c4,#feded0,#ffebe2)"></i>
<i style="background:linear-gradient(90deg,#fedccc,#fdceba,#fdc8b3,#fdc6b0,#fdc4ad,#fdc7b1,#fdc5af,#fdcab5,#fdccb8,#fdd0bc,#fdd1be,#fdd5c4,#fedecf,#ffebe2)"></i>
<i style="background:linear-gradient(90deg,#fedacb,#fdccb8,#fdc6b0,#fdc5ae,#fcc3ac,#fdc6b0,#fdc5ae,#fdcab5,#fdccb8,#fdcfbb,#fdd0bd,#fdd5c3,#feddce,#ffebe1)"></i>
<i style="background:linear-gradient(90deg,#fed9c9,#fdcbb6,#fdc5ae,#fcc3ac,#fcc2aa,#fdc6af,#fdc5ae,#fdcab5,#fdccb7,#fdceba,#fdcfbc,#fdd4c3,#fedccd,#feeae1)"></i>
<i style="background:linear-gradient(90deg,#fed8c7,#fdc9b4,#fcc3ac,#fcc2aa,#fcc1a8,#fdc5ae,#fdc4ad,#fdcab5,#fdcbb7,#fdcdb9,#fdceba,#fdd4c2,#fedccc,#feeae0)"></i>
<i style="background:linear-gradient(90deg,#fdd6c6,#fdc8b2,#fcc1a9,#fcc0a8,#fcbfa7,#fdc5ae,#fcc4ad,#fdcab5,#fdcbb6,#fdcdb8,#fdcdb9,#fdd3c1,#fedbcc,#feeae0)"></i>
<i style="background:linear-gradient(90deg,#fdd5c4,#fdc7b0,#fcbfa7,#fcbfa6,#fcbea5,#fcc4ad,#fcc4ad,#fdcab5,#fdcbb6,#fdccb7,#fdccb8,#fdd3c1,#fedacb,#fee9df)"></i>
<i style="background:linear-gradient(90deg,#fdd4c2,#fdc5ae,#fcbea4,#fcbda4,#fcbda3,#fcc4ac,#fcc3ac,#fdcab5,#fdcab5,#fdcbb6,#fdcbb7,#fdd3c0,#fedaca,#fee9df)"></i>
<i style="background:linear-gradient(90deg,#fdd3c0,#fcc4ad,#fcbca2,#fcbca2,#fcbba2,#fcc3ac,#fcc3ac,#fdcab5,#fdcab5,#fdcab5,#fdcab5,#fdd2c0,#fed9c9,#fee9de)"></i>
<i style="background:linear-gradient(90deg,#fdd2bf,#fcc2aa,#fcbaa0,#fcbaa0,#fcbaa0,#fcc2ab,#fcc3ab,#fdcab5,#fdcab5,#fdcab5,#fdcab4,#fdd1be,#fed8c8,#fee8de)"></i>
<i style="background:linear-gradient(90deg,#fdd1be,#fcc0a8,#fcb89d,#fcb89d,#fcb99f,#fcc0a9,#fcc2aa,#fdcab5,#fdcab5,#fdcab5,#fdc9b4,#fdcfbb,#fed7c7,#fee8de)"></i>
<i style="background:linear-gradient(90deg,#fdd1be,#fcbea6,#fcb69b,#fcb69b,#fcb89e,#fcbfa6,#fcc1aa,#fdcab5,#fdcab5,#fdcab5,#fdc9b3,#fdcdb9,#fdd6c5,#fee8de)"></i>
<i style="background:linear-gradient(90deg,#fdd0bd,#fcbca3,#fcb398,#fcb398,#fcb79c,#fcbda4,#fcc1a9,#fdcab5,#fdcab5,#fdcab5,#fdc8b2,#fdcab6,#fdd5c4,#fee8de)"></i>
<i style="background:linear-gradient(90deg,#fdcfbc,#fcbaa1,#fcb196,#fcb196,#fcb69b,#fcbba2,#fcc0a8,#fdcab5,#fdcab5,#fdcab5,#fdc8b2,#fdc8b3,#fdd4c2,#fee8de)"></i>
<i style="background:linear-gradient(90deg,#fdcfbb,#fcb89f,#fcaf93,#fcaf93,#fcb59a,#fcbaa0,#fcc0a7,#fdcab5,#fdcab5,#fdcab5,#fdc7b1,#fdc6b0,#fdd3c1,#fee8de)"></i>
<i style="background:linear-gradient(90deg,#fdceba,#fcb69c,#fcad91,#fcad91,#fcb498,#fcb89e,#fcbfa6,#fdcab5,#fdcab5,#fdcab5,#fdc7b0,#fdc4ad,#fdd2bf,#fee8de)"></i>
<i style="background:linear-gradient(90deg,#fdceba,#fcb49a,#fcab8e,#fcab8e,#fcb297,#fcb69c,#fcbea6,#fdcab5,#fdcab5,#fdcab5,#fdc6b0,#fdc1aa,#fdd1be,#fee8de)"></i>
<i style="background:linear-gradient(90deg,#fdcdb9,#fcb297,#fca98c,#fca98c,#fcb196,#fcb49a,#fcbea5,#fdcab5,#fdcab5,#fdcab5,#fdc6af,#fcbfa7,#fdd0bc,#fee8de)"></i>
<i style="background:linear-gradient(90deg,#fdccb8,#fcb095,#fca78a,#fca78a,#fcb095,#fcb398,#fcbda4,#fdcab5,#fdcab5,#fdcab5,#fdc5ae,#fcbda4,#fdcfbb,#fee8de)"></i>
<i style="background:linear-gradient(90deg,#fdccb7,#fcae93,#fca487,#fca487,#fcaf93,#fcb196,#fcbda3,#fdcab5,#fdcab5,#fdcab5,#fdc5ae,#fcbba1,#fdcdb9,#fee8de)"></i>
<i style="background:linear-gradient(90deg,#fdcbb6,#fcac90,#fca285,#fca285,#fcae92,#fcaf94,#fcbca2,#fdcab5,#fdcab5,#fdcab5,#fcc4ad,#fcb89f,#fdccb8,#fee8de)"></i>
<i style="background:linear-gradient(90deg,#fdcbb6,#fcaa8e,#fca082,#fca082,#fcad91,#fcae92,#fcbba2,#fdcab5,#fdcab5,#fdcab5,#fcc4ac,#fcb69c,#fdcbb7,#fee8de)"></i>
<i style="background:linear-gradient(90deg,#fdcab5,#fca88b,#fc9e80,#fc9e80,#fcac8f,#fcac90,#fcbba1,#fdcab5,#fdcab5,#fdcab5,#fcc3ac,#fcb499,#fdcab5,#fee8de)"></i>
<i style="background:linear-gradient(90deg,#fdc9b4,#fca78a,#fc9d7e,#fc9d7f,#fcab8f,#fcab8f,#fcbaa0,#fdcab5,#fdcab5,#fdcab5,#fcc3ac,#fcb499,#fdcab5,#fee8de)"></i>
<i style="background:linear-gradient(90deg,#fdc9b4,#fca78a,#fc9c7e,#fc9e7f,#fcab8e,#fcab8f,#fcbaa0,#fdcab5,#fdcab5,#fdcab5,#fcc4ac,#fcb69b,#fdcab5,#fee8de)"></i>
<i style="background:linear-gradient(90deg,#fdc8b3,#fca689,#fc9c7d,#fc9e80,#fcab8e,#fcab8f,#fcb99f,#fdcab5,#fdcab5,#fdcab5,#fcc4ad,#fcb79d,#fdcab5,#fee8de)"></i>
<i style="background:linear-gradient(90deg,#fdc8b2,#fca689,#fc9b7d,#fc9e80,#fcaa8e,#fcab8f,#fcb99e,#fdcab5,#fdcab5,#fdcab5,#fdc5ae,#fcb99f,#fdcab5,#fee8de)"></i>
<i style="background:linear-gradient(90deg,#fdc7b1,#fca689,#fc9b7c,#fc9f81,#fcaa8d,#fcab8f,#fcb89e,#fdcab5,#fdcab5,#fdcab5,#fdc5ae,#fcbba2,#fdcab5,#fee8de)"></i>
<i style="background:linear-gradient(90deg,#fdc7b1,#fca588,#fc9a7c,#fc9f81,#fcaa8d,#fcab8f,#fcb89d,#fdcab5,#fdcab5,#fdcab5,#fdc6af,#fcbca4,#fdcab5,#fee8de)"></i>
<i style="background:linear-gradient(90deg,#fdc6b0,#fca588,#fc9a7b,#fca082,#fca98d,#fcab8f,#fcb79c,#fdcab5,#fdcab5,#fdcab5,#fdc6b0,#fcbea6,#fdcab5,#fee8de)"></i>
<i style="background:linear-gradient(90deg,#fdc6af,#fca587,#fc9a7b,#fca082,#fca98c,#fcab8f,#fcb69c,#fdcab5,#fdcab5,#fdcab5,#fdc7b1,#fcc0a8,#fdcab5,#fee8de)"></i>
<i style="background:linear-gradient(90deg,#fdc5af,#fca487,#fc997a,#fca082,#fca98c,#fcab8f,#fcb69b,#fdcab5,#fdcab5,#fdcab5,#fdc7b1,#fdc1aa,#fdcab5,#fee8de)"></i>
<i style="background:linear-gradient(90deg,#fdc5ae,#fca486,#fc997a,#fca183,#fca98c,#fcab8f,#fcb59a,#fdcab5,#fdcab5,#fdcab5,#fdc8b2,#fdc3ac,#fdcab5,#fee8de)"></i>
<i style="background:linear-gradient(90deg,#fdc4ad,#fca386,#fc9879,#fca183,#fca88c,#fcab8f,#fcb59a,#fdcab5,#fdcab5,#fdcab5,#fdc8b3,#fdc5ae,#fdcab5,#fee8de)"></i>
<i style="background:linear-gradient(90deg,#fcc4ad,#fca386,#fc9878,#fca184,#fca88b,#fcab8f,#fcb499,#fdcab5,#fdcab5,#fdcab5,#fdc9b3,#fdc6b0,#fdcab5,#fee8de)"></i>
<i style="background:linear-gradient(90deg,#fcc3ac,#fca385,#fc9778,#fca284,#fca88b,#fcab8f,#fcb498,#fdcab5,#fdcab5,#fdcab5,#fdc9b4,#fdc8b2,#fdcab5,#fee8de)"></i>
<i style="background:linear-gradient(90deg,#fcc3ab,#fca285,#fc9777,#fca285,#fca78b,#fcab8f,#fcb398,#fdcab5,#fdcab5,#fdcab5,#fdcab5,#fdcab4,#fdcab5,#fee8de)"></i>
<i style="background:linear-gradient(90deg,#fcc3ab,#fca486,#fc9879,#fca486,#fcaa8e,#fcac90,#fcb398,#fdcab5,#fdcab5,#fdcab5,#fdcab5,#fdcab5,#fdcab5,#fee8de)"></i>
<i style="background:linear-gradient(90deg,#fcc3ab,#fca688,#fc9a7b,#fca688,#fcad92,#fcad91,#fcb499,#fdcab5,#fdcab5,#fdcab5,#fdcab5,#fdcab5,#fdcbb6,#fee8de)"></i>
<i style="background:linear-gradient(90deg,#fcc3ab,#fca78b,#fc9b7c,#fca78b,#fcb096,#fcaf93,#fcb59a,#fdcab5,#fdcab5,#fdcab5,#fdcab5,#fdcab5,#fdccb7,#fee8de)"></i>
<i style="background:linear-gradient(90deg,#fcc3ab,#fca98d,#fc9d7e,#fca98d,#fcb39a,#fcb094,#fcb59a,#fdcab5,#fdcab5,#fdcab5,#fdcab5,#fdcab5,#fdccb8,#fee8de)"></i>
<i style="background:linear-gradient(90deg,#fcc3ab,#fcab8f,#fc9e80,#fcab8f,#fcb79d,#fcb195,#fcb69b,#fdcab5,#fdcab5,#fdcab5,#fdcab5,#fdcab5,#fdcdb8,#fee8de)"></i>
<i style="background:linear-gradient(90deg,#fcc3ab,#fcad91,#fca081,#fcad91,#fdbaa1,#fcb297,#fcb69c,#fdcab5,#fdcab5,#fdcab5,#fdcab5,#fdcab5,#fdcdb9,#fee8de)"></i>
<i style="background:linear-gradient(90deg,#fcc3ab,#fcaf93,#fca183,#fcaf93,#fdbda5,#fcb398,#fcb79c,#fdcab5,#fdcab5,#fdcab5,#fdcab5,#fdcab5,#fdceba,#fee8de)"></i>
<i style="background:linear-gradient(90deg,#fcc3ab,#fcb095,#fca385,#fcb095,#fdc0a9,#fcb499,#fcb79d,#fdcab5,#fdcab5,#fdcab5,#fdcab5,#fdcab5,#fdcebb,#fee8de)"></i>
<i style="background:linear-gradient(90deg,#fcc3ab,#fcb297,#fca487,#fcb297,#fdc3ad,#fcb59a,#fcb89e,#fdcab5,#fdcab5,#fdcab5,#fdcab5,#fdcab5,#fdcfbc,#fee8de)"></i>
<i style="background:linear-gradient(90deg,#fcc3ab,#fcb499,#fca588,#fcb499,#fdc6b1,#fcb69c,#fcb99e,#fdcab5,#fdcab5,#fdcab5,#fdcab5,#fdcab5,#fdd0bc,#fee8de)"></i>
<i style="background:linear-gradient(90deg,#fcc3ab,#fcb69b,#fca78a,#fcb69b,#fdc9b4,#fcb79d,#fcb99f,#fdcab5,#fdcab5,#fdcab5,#fdcab5,#fdcab5,#fdd0bd,#fee8de)"></i>
<i style="background:linear-gradient(90deg,#fcc3ab,#fcb79d,#fca88c,#fcb79d,#fdccb8,#fcb99e,#fcba9f,#fdcab5,#fdcab5,#fdcab5,#fdcab5,#fdcab5,#fdd1be,#fee8de)"></i>
<i style="background:linear-gradient(90deg,#fcc3ab,#fcb99f,#fcaa8e,#fcb99f,#fdcfbc,#fcbaa0,#fcbaa0,#fdcab5,#fdcab5,#fdcab5,#fdcab5,#fdcab5,#fdd1bf,#fee8de)"></i>
<i style="background:linear-gradient(90deg,#fcc3ab,#fcbba1,#fcab8f,#fcbba1,#fdd2bf,#fcbba1,#fcbba1,#fdcab5,#fdcab5,#fdcab5,#fdcab5,#fdcab5,#fdd2bf,#fee8de)"></i>
<i style="background:linear-gradient(90deg,#fcc3ab,#fcbba1,#fcab8f,#fcbba2,#fdd3c0,#fcbba2,#fcbba1,#fdcab6,#fdcab6,#fdcab6,#fdcab5,#fdcab5,#fdd1be,#fee8de)"></i>
<i style="background:linear-gradient(90deg,#fcc3ab,#fcbba1,#fcac8f,#fcbca2,#fdd3c1,#fcbca2,#fcbba1,#fdcbb6,#fdcbb6,#fdcbb6,#fdcab5,#fdcab5,#fdd1be,#fee8dd)"></i>
<i style="background:linear-gradient(90deg,#fcc3ab,#fcbba1,#fcac90,#fcbda3,#fdd4c1,#fcbda3,#fcbba1,#fdccb7,#fdccb7,#fdccb7,#fdcab5,#fdcab5,#fdd0bd,#fee8dd)"></i>
<i style="background:linear-gradient(90deg,#fcc3ab,#fcbba1,#fcac90,#fcbda4,#fdd4c2,#fcbda4,#fcbba1,#fdccb8,#fdccb8,#fdccb8,#fdcab5,#fdcab5,#fdcfbc,#fee7dc)"></i>
<i style="background:linear-gradient(90deg,#fcc3ab,#fcbba1,#fcac90,#fcbea5,#fdd5c3,#fcbea5,#fcbba1,#fdcdb9,#fdcdb9,#fdcdb9,#fdcab5,#fdcab5,#fdcfbb,#fee7dc)"></i>
<i style="background:linear-gradient(90deg,#fcc3ab,#fcbba1,#fcac90,#fcbea5,#fdd5c4,#fcbea5,#fcbba1,#fdcdb9,#fdcdb9,#fdcdb9,#fdcab5,#fdcab5,#fdcebb,#fee7dc)"></i>
<i style="background:linear-gradient(90deg,#fcc3ab,#fcbba1,#fcad90,#fcbfa6,#fdd6c4,#fcbfa6,#fcbba1,#fdceba,#fdceba,#fdceba,#fdcab5,#fdcab5,#fdceba,#fee6db)"></i>
<i style="background:linear-gradient(90deg,#fcc3ab,#fcbba1,#fcad91,#fcc0a7,#fdd6c5,#fcc0a7,#fcbba1,#fdcfbb,#fdcfbb,#fdcfbb,#fdcab5,#fdcab5,#fdcdb9,#fee6db)"></i>
<i style="background:linear-gradient(90deg,#fcc3ab,#fcbba1,#fcad91,#fcc0a8,#fdd7c6,#fcc0a8,#fcbba1,#fdcfbc,#fdcfbc,#fdcfbc,#fdcab5,#fdcab5,#fdcdb8,#fee6da)"></i>
<i style="background:linear-gradient(90deg,#fcc3ab,#fcbba1,#fcad91,#fcc1a9,#fed7c6,#fcc1a9,#fcbba1,#fdd0bd,#fdd0bd,#fdd0bd,#fdcab5,#fdcab5,#fdccb7,#fee6da)"></i>
<i style="background:linear-gradient(90deg,#fcc3ab,#fcbba1,#fcad91,#fcc1a9,#fed8c7,#fcc1a9,#fcbba1,#fdd0bd,#fdd0bd,#fdd0bd,#fdcab5,#fdcab5,#fdcbb7,#fee5da)"></i>
<i style="background:linear-gradient(90deg,#fcc3ab,#fcbba1,#fcae92,#fcc2aa,#fed8c8,#fcc2aa,#fcbba1,#fdd1be,#fdd1be,#fdd1be,#fdcab5,#fdcab5,#fdcbb6,#fee5d9)"></i>
<i style="background:linear-gradient(90deg,#fcc3ab,#fcbba1,#fcae92,#fcc2ab,#fed9c8,#fcc2ab,#fcbba1,#fdd2bf,#fdd2bf,#fdd2bf,#fdcab5,#fdcab5,#fdcab5,#fee5d9)"></i>
<i style="background:linear-gradient(90deg,#fcc3ab,#fcbaa0,#fcae92,#fcc3ab,#fed9c8,#fcc2ab,#fcbaa0,#fdd1bf,#fdd2bf,#fdd2bf,#fdcab5,#fdcab4,#fdc9b4,#fee5d8)"></i>
<i style="background:linear-gradient(90deg,#fcc2aa,#fcbaa0,#fcae93,#fcc3ab,#fed8c8,#fcc1a9,#fcbaa0,#fdd0bd,#fdd1be,#fdd1be,#fdcab5,#fdc9b4,#fdc8b3,#fee5d8)"></i>
<i style="background:linear-gradient(90deg,#fcc1a9,#fcb99f,#fcaf93,#fcc3ab,#fed8c7,#fcc0a8,#fcb99f,#fdcfbc,#fdd0bd,#fdd0bd,#fdcab5,#fdc9b3,#fdc7b1,#fee5d8)"></i>
<i style="background:linear-gradient(90deg,#fcc1a9,#fcb99e,#fcaf93,#fcc3ab,#fed7c6,#fcbfa6,#fcb99e,#fdceba,#fdd0bd,#fdd0bd,#fdcab5,#fdc8b2,#fdc6b0,#fee5d8)"></i>
<i style="background:linear-gradient(90deg,#fcc0a8,#fcb89e,#fcaf94,#fcc3ab,#fdd7c6,#fcbea5,#fcb89e,#fdcdb9,#fdcfbc,#fdcfbc,#fdcab5,#fdc8b2,#fdc5ae,#fee5d8)"></i>
<i style="background:linear-gradient(90deg,#fcc0a7,#fcb89d,#fcb094,#fcc3ab,#fdd6c5,#fcbda4,#fcb89d,#fdccb7,#fdcfbb,#fdcfbb,#fdcab5,#fdc7b1,#fcc4ad,#fee5d8)"></i>
<i style="background:linear-gradient(90deg,#fcbfa6,#fcb79c,#fcb095,#fcc3ab,#fdd6c4,#fcbba2,#fcb79c,#fdcbb6,#fdceba,#fdceba,#fdcab5,#fdc7b0,#fcc3ab,#fee5d8)"></i>
<i style="background:linear-gradient(90deg,#fcbea6,#fcb79c,#fcb195,#fcc3ab,#fdd5c4,#fcbaa1,#fcb79c,#fdcab5,#fdceba,#fdceba,#fdcab5,#fdc6b0,#fcc2aa,#fee5d8)"></i>
<i style="background:linear-gradient(90deg,#fcbea5,#fcb69b,#fcb196,#fcc3ab,#fdd5c3,#fcb99f,#fcb69b,#fdc9b3,#fdcdb9,#fdcdb9,#fdcab5,#fdc6af,#fcc1a8,#fee5d8)"></i>
<i style="background:linear-gradient(90deg,#fcbda4,#fcb59b,#fcb196,#fcc3ab,#fdd4c2,#fcb89e,#fcb59b,#fdc8b2,#fdccb8,#fdccb8,#fdcab5,#fdc5ae,#fcbfa7,#fee5d8)"></i>
<i style="background:linear-gradient(90deg,#fcbda3,#fcb59a,#fcb296,#fcc3ab,#fdd4c2,#fcb79c,#fcb59a,#fdc6b0,#fdccb7,#fdccb7,#fdcab5,#fdc5ae,#fcbea5,#fee5d8)"></i>
<i style="background:linear-gradient(90deg,#fcbca2,#fcb499,#fcb297,#fcc3ab,#fdd3c1,#fcb69b,#fcb499,#fdc5af,#fdcbb6,#fdcbb6,#fdcab5,#fcc4ad,#fcbda4,#fee5d8)"></i>
<i style="background:linear-gradient(90deg,#fcbba2,#fcb499,#fcb297,#fcc3ab,#fdd3c0,#fcb49a,#fcb499,#fdc4ad,#fdcbb6,#fdcbb6,#fdcab5,#fcc3ac,#fcbca3,#fee5d8)"></i>
<i style="background:linear-gradient(90deg,#fcbba1,#fcb398,#fcb398,#fcc3ab,#fdd2c0,#fcb398,#fcb398,#fcc3ac,#fdcab5,#fdcab5,#fdcab5,#fcc3ac,#fcbba1,#fee5d8)"></i>
<i style="background:linear-gradient(90deg,#fcbaa0,#fcb297,#fcb296,#fcc2aa,#fdd0bd,#fcb195,#fcb297,#fcc2aa,#fdc9b4,#fdc9b4,#fdc9b4,#fcc3ab,#fcbba1,#fee5d8)"></i>
<i style="background:linear-gradient(90deg,#fcb99e,#fcb195,#fcb094,#fcc0a8,#fdcdb9,#fcae92,#fcb195,#fcc1a9,#fdc8b2,#fdc9b3,#fdc9b3,#fcc3ab,#fcbba1,#fee5d8)"></i>
<i style="background:linear-gradient(90deg,#fcb89d,#fcb094,#fcae92,#fcbea6,#fdcab6,#fcab8f,#fcb094,#fcc0a8,#fdc7b1,#fdc8b3,#fdc8b3,#fcc3ab,#fcbba1,#fee5d8)"></i>
<i style="background:linear-gradient(90deg,#fcb79c,#fcae93,#fcac90,#fcbca4,#fdc8b2,#fca88b,#fcae93,#fcbfa6,#fdc6af,#fdc8b2,#fdc8b2,#fcc3ab,#fcbba1,#fee5d8)"></i>
<i style="background:linear-gradient(90deg,#fcb59b,#fcad91,#fcab8e,#fcbba2,#fdc5af,#fca588,#fcad91,#fcbda5,#fdc5ae,#fdc7b1,#fdc7b1,#fcc3ab,#fcbba1,#fee5d8)"></i>
<i style="background:linear-gradient(90deg,#fcb499,#fcac90,#fca98c,#fcb9a0,#fdc2ab,#fca285,#fcac90,#fcbca3,#fcc4ac,#fdc7b1,#fdc7b1,#fcc3ab,#fcbba1,#fee5d8)"></i>
<i style="background:linear-gradient(90deg,#fcb398,#fcab8e,#fca78a,#fcb79e,#fdbfa8,#fc9f81,#fcab8e,#fcbba2,#fcc2ab,#fdc6b0,#fdc6b0,#fcc3ab,#fcbba1,#fee5d8)"></i>
<i style="background:linear-gradient(90deg,#fcb297,#fcaa8d,#fca588,#fcb69b,#fdbca4,#fc9c7e,#fcaa8d,#fcbaa0,#fcc1a9,#fdc6af,#fdc6af,#fcc3ab,#fcbba1,#fee5d8)"></i>
<i style="background:linear-gradient(90deg,#fcb195,#fca88c,#fca386,#fcb499,#fcb9a1,#fc997b,#fca88c,#fcb99f,#fcc0a8,#fdc5af,#fdc5af,#fcc3ab,#fcbba1,#fee5d8)"></i>
<i style="background:linear-gradient(90deg,#fcb094,#fca78a,#fca284,#fcb297,#fcb79d,#fc9677,#fca78a,#fcb89e,#fcbfa6,#fdc5ae,#fdc5ae,#fcc3ab,#fcbba1,#fee5d8)"></i>
<i style="background:linear-gradient(90deg,#fcaf93,#fca689,#fca082,#fcb095,#fcb49a,#fc9374,#fca689,#fcb69c,#fcbea5,#fdc4ad,#fdc4ad,#fcc3ab,#fcbba1,#fee5d8)"></i>
<i style="background:linear-gradient(90deg,#fcae92,#fca587,#fc9e80,#fcaf93,#fcb196,#fc9071,#fca587,#fcb59b,#fcbda4,#fcc4ad,#fcc4ad,#fcc3ab,#fcbba1,#fee5d8)"></i>
<i style="background:linear-gradient(90deg,#fcac90,#fca386,#fc9c7e,#fcad91,#fcae93,#fc8d6d,#fca386,#fcb499,#fcbca2,#fcc3ac,#fcc3ac,#fcc3ab,#fcbba1,#fee5d8)"></i>
<i style="background:linear-gradient(90deg,#fcab8f,#fca285,#fc9b7c,#fcab8f,#fcab8f,#fc8a6a,#fca285,#fcb398,#fcbba1,#fcc3ab,#fcc3ab,#fcc3ab,#fcbba1,#fee5d8)"></i>
<i style="background:linear-gradient(90deg,#fcac90,#fca385,#fc9b7c,#fcac90,#fcab8f,#fc8868,#fca285,#fcb297,#fcbaa0,#fcc2ab,#fcc3ab,#fcc3ab,#fcbba1,#fee5d8)"></i>
<i style="background:linear-gradient(90deg,#fcac90,#fca486,#fc9c7d,#fcad91,#fcab8f,#fc8767,#fca285,#fcb297,#fcba9f,#fcc2aa,#fcc3ab,#fcc3ab,#fcbca2,#fee5d8)"></i>
<i style="background:linear-gradient(90deg,#fcad91,#fca487,#fc9c7e,#fcaf93,#fcab8f,#fc8565,#fca285,#fcb196,#fcb99f,#fcc1a9,#fcc3ab,#fcc3ab,#fcbca3,#fee5d8)"></i>
<i style="background:linear-gradient(90deg,#fcad91,#fca588,#fc9d7e,#fcb094,#fcab8f,#fc8363,#fca285,#fcb195,#fcb89e,#fcc0a8,#fcc3ab,#fcc3ab,#fcbda4,#fee5d8)"></i>
<i style="background:linear-gradient(90deg,#fcae92,#fca588,#fc9d7f,#fcb195,#fcab8f,#fc8161,#fca285,#fcb095,#fcb89d,#fcc0a7,#fcc3ab,#fcc3ab,#fcbea5,#fee5d8)"></i>
<i style="background:linear-gradient(90deg,#fcaf93,#fca689,#fc9e80,#fcb297,#fcab8f,#fc8060,#fca285,#fcb094,#fcb79d,#fcbfa7,#fcc3ab,#fcc3ab,#fcbea5,#fee5d8)"></i>
<i style="background:linear-gradient(90deg,#fcaf93,#fca78a,#fc9e80,#fcb398,#fcab8f,#fb7e5e,#fca285,#fcaf93,#fcb79c,#fcbfa6,#fcc3ab,#fcc3ab,#fcbfa6,#fee5d8)"></i>
<i style="background:linear-gradient(90deg,#fcb094,#fca78b,#fc9f81,#fcb499,#fcab8f,#fb7c5c,#fca285,#fcae93,#fcb69b,#fcbea5,#fcc3ab,#fcc3ab,#fcbfa7,#fee5d8)"></i>
<i style="background:linear-gradient(90deg,#fcb095,#fca88b,#fca082,#fcb59a,#fcab8f,#fb7a5a,#fca285,#fcae92,#fcb69b,#fcbea4,#fcc3ab,#fcc3ab,#fcc0a8,#fee5d8)"></i>
<i style="background:linear-gradient(90deg,#fcb195,#fca98c,#fca082,#fcb69c,#fcab8f,#fb7959,#fca285,#fcad91,#fcb59a,#fcbda4,#fcc3ab,#fcc3ab,#fcc1a8,#fee5d8)"></i>
<i style="background:linear-gradient(90deg,#fcb196,#fca98d,#fca183,#fcb89d,#fcab8f,#fb7757,#fca285,#fcad91,#fcb59a,#fcbca3,#fcc3ab,#fcc3ab,#fcc1a9,#fee5d8)"></i>
<i style="background:linear-gradient(90deg,#fcb297,#fcaa8e,#fca183,#fcb99e,#fcab8f,#fb7555,#fca285,#fcac90,#fcb499,#fcbca2,#fcc3ab,#fcc3ab,#fcc2aa,#fee5d8)"></i>
<i style="background:linear-gradient(90deg,#fcb397,#fcab8e,#fca284,#fcbaa0,#fcab8f,#fb7353,#fca285,#fcac8f,#fcb398,#fcbba1,#fcc3ab,#fcc3ab,#fcc2ab,#fee5d8)"></i>
<i style="background:linear-gradient(90deg,#fcb398,#fcab8f,#fca285,#fcbba1,#fcab8f,#fb7353,#fca284,#fcab8f,#fcb398,#fcbba0,#fcc3ab,#fcc2ab,#fcc3ab,#fee4d8)"></i>
<i style="background:linear-gradient(90deg,#fcb297,#fcaa8e,#fca386,#fcbba1,#fcac90,#fb7454,#fca284,#fcab8f,#fcb297,#fcbaa0,#fcc1aa,#fcc1a9,#fcc2aa,#fee4d8)"></i>
<i style="background:linear-gradient(90deg,#fcb296,#fcaa8d,#fca486,#fcbba1,#fcac90,#fb7656,#fca183,#fcab8f,#fcb296,#fcb99f,#fcc0a8,#fcbfa7,#fcc2aa,#fee4d7)"></i>
<i style="background:linear-gradient(90deg,#fcb196,#fca98d,#fca487,#fcbba1,#fcad91,#fb7858,#fca083,#fcab8f,#fcb196,#fcb99f,#fcbfa7,#fcbda5,#fcc1a9,#fee3d7)"></i>
<i style="background:linear-gradient(90deg,#fcb195,#fca88c,#fca588,#fcbba1,#fcae92,#fb7a5a,#fca082,#fcab8f,#fcb195,#fcb89e,#fcbea5,#fcbca3,#fcc0a8,#fee3d6)"></i>
<i style="background:linear-gradient(90deg,#fcb094,#fca88b,#fca689,#fcbba1,#fcae92,#fb7b5b,#fc9f81,#fcab8f,#fcb094,#fcb89d,#fcbda4,#fcbaa1,#fcc0a7,#fee3d6)"></i>
<i style="background:linear-gradient(90deg,#fcaf94,#fca78a,#fca689,#fcbba1,#fcaf93,#fb7d5d,#fc9f81,#fcab8f,#fcaf94,#fcb79d,#fcbca2,#fcb89e,#fcbfa6,#fee2d5)"></i>
<i style="background:linear-gradient(90deg,#fcaf93,#fca78a,#fca78a,#fcbba1,#fcaf94,#fc7f5f,#fc9e80,#fcab8f,#fcaf93,#fcb79c,#fcbaa1,#fcb69c,#fcbfa6,#fee2d5)"></i>
<i style="background:linear-gradient(90deg,#fcae92,#fca689,#fca88b,#fcbba1,#fcb094,#fc8060,#fc9e7f,#fcab8f,#fcae92,#fcb69b,#fcb9a0,#fcb59a,#fcbea5,#fee2d4)"></i>
<i style="background:linear-gradient(90deg,#fcae92,#fca588,#fca88c,#fcbba1,#fcb095,#fc8262,#fc9d7f,#fcab8f,#fcae92,#fcb59b,#fcb89e,#fcb398,#fcbda4,#fee1d4)"></i>
<i style="background:linear-gradient(90deg,#fcad91,#fca587,#fca98c,#fcbba1,#fcb196,#fc8464,#fc9c7e,#fcab8f,#fcad91,#fcb59a,#fcb79d,#fcb196,#fcbda3,#fee1d4)"></i>
<i style="background:linear-gradient(90deg,#fcad91,#fca486,#fcaa8d,#fcbba1,#fcb296,#fc8666,#fc9c7d,#fcab8f,#fcad91,#fcb499,#fcb69b,#fcb094,#fcbca3,#fee1d3)"></i>
<i style="background:linear-gradient(90deg,#fcac90,#fca386,#fcaa8e,#fcbba1,#fcb297,#fc8767,#fc9b7d,#fcab8f,#fcac90,#fcb499,#fcb59a,#fcae92,#fcbca2,#fee0d3)"></i>
<i style="background:linear-gradient(90deg,#fcac8f,#fca385,#fcab8f,#fcbba1,#fcb397,#fc8969,#fc9b7c,#fcab8f,#fcac8f,#fcb398,#fcb498,#fcac90,#fcbba1,#fee0d2)"></i>
<i style="background:linear-gradient(90deg,#fcab8f,#fca184,#fcab8e,#fcbaa0,#fcb397,#fc8a6a,#fc9a7b,#fcaa8e,#fcaa8e,#fcb297,#fcb297,#fcaa8e,#fcbaa0,#fee0d2)"></i>
<i style="background:linear-gradient(90deg,#fcaa8e,#fca082,#fca98d,#fcb89e,#fcb297,#fc8b6b,#fc9a7b,#fca88c,#fca88c,#fcb095,#fcb095,#fca88b,#fcb99f,#fee0d2)"></i>
<i style="background:linear-gradient(90deg,#fcaa8d,#fc9e80,#fca88b,#fcb69c,#fcb296,#fc8b6b,#fc997a,#fca78a,#fca78a,#fcaf93,#fcaf93,#fca588,#fcb89d,#fee0d2)"></i>
<i style="background:linear-gradient(90deg,#fca98c,#fc9c7e,#fca78a,#fcb499,#fcb196,#fc8c6c,#fc9879,#fca587,#fca587,#fcad91,#fcad91,#fca386,#fcb79c,#fee0d2)"></i>
<i style="background:linear-gradient(90deg,#fca88c,#fc9a7c,#fca689,#fcb397,#fcb095,#fc8c6c,#fc9878,#fca385,#fca385,#fcab8f,#fcab8f,#fca083,#fcb69b,#fee0d2)"></i>
<i style="background:linear-gradient(90deg,#fca88b,#fc997a,#fca587,#fcb195,#fcb094,#fc8d6d,#fc9778,#fca183,#fca183,#fca98d,#fca98d,#fc9e80,#fcb49a,#fee0d2)"></i>
<i style="background:linear-gradient(90deg,#fca78a,#fc9778,#fca386,#fcaf93,#fcaf94,#fc8e6e,#fc9677,#fc9f81,#fc9f81,#fca78b,#fca78b,#fc9c7d,#fcb398,#fee0d2)"></i>
<i style="background:linear-gradient(90deg,#fca689,#fc9576,#fca284,#fcad91,#fcaf93,#fc8e6e,#fc9676,#fc9d7f,#fc9d7f,#fca688,#fca688,#fc997b,#fcb297,#fee0d2)"></i>
<i style="background:linear-gradient(90deg,#fca689,#fc9374,#fca183,#fcac8f,#fcae92,#fc8f6f,#fc9575,#fc9b7d,#fc9b7d,#fca486,#fca486,#fc9778,#fcb196,#fee0d2)"></i>
<i style="background:linear-gradient(90deg,#fca588,#fc9172,#fca082,#fcaa8d,#fcae92,#fc8f6f,#fc9475,#fc997b,#fc997b,#fca284,#fca284,#fc9475,#fcb094,#fee0d2)"></i>
<i style="background:linear-gradient(90deg,#fca487,#fc9070,#fc9e80,#fca88b,#fcad91,#fc9070,#fc9474,#fc9878,#fc9878,#fca082,#fca082,#fc9273,#fcaf93,#fee0d2)"></i>
<i style="background:linear-gradient(90deg,#fca486,#fc8e6e,#fc9d7f,#fca689,#fcac90,#fc9070,#fc9373,#fc9676,#fc9676,#fc9e80,#fc9e80,#fc8f70,#fcae92,#fee0d2)"></i>
<i style="background:linear-gradient(90deg,#fca386,#fc8c6c,#fc9c7d,#fca487,#fcac90,#fc9171,#fc9272,#fc9474,#fc9474,#fc9d7e,#fc9d7e,#fc8d6d,#fcad91,#fee0d2)"></i>
<i style="background:linear-gradient(90deg,#fca285,#fc8a6a,#fc9b7c,#fca385,#fcab8f,#fc9171,#fc9272,#fc9272,#fc9272,#fc9b7c,#fc9b7c,#fc8b6b,#fcac8f,#fee0d2)"></i>
<i style="background:linear-gradient(90deg,#fca184,#fc8a6a,#fc9b7c,#fc9f81,#fcaa8e,#fc9171,#fc8f6f,#fc9070,#fc9171,#fc9a7b,#fc9a7b,#fc8a6a,#fcaa8e,#fedfd1)"></i>
<i style="background:linear-gradient(90deg,#fca082,#fc8b6b,#fc9c7d,#fc9b7d,#fca98c,#fc9171,#fc8c6c,#fc8e6e,#fc9070,#fc997a,#fc997a,#fc8b6b,#fca98c,#fedfd1)"></i>
<i style="background:linear-gradient(90deg,#fc9f81,#fc8c6c,#fc9c7e,#fc9779,#fca88b,#fc9070,#fc8969,#fc8d6d,#fc8e6e,#fc997a,#fc997a,#fc8c6c,#fca88b,#feded0)"></i>
<i style="background:linear-gradient(90deg,#fc9e7f,#fc8c6c,#fc9d7e,#fc9374,#fca78a,#fc8f6f,#fc8667,#fc8b6b,#fc8d6d,#fc9879,#fc9879,#fc8c6c,#fca78a,#fedecf)"></i>
<i style="background:linear-gradient(90deg,#fc9c7e,#fc8d6d,#fc9d7f,#fc8e70,#fca588,#fc8f6f,#fc8464,#fc8969,#fc8c6c,#fc9778,#fc9778,#fc8d6d,#fca588,#feddcf)"></i>
<i style="background:linear-gradient(90deg,#fc9b7d,#fc8d6d,#fc9e7f,#fc8a6c,#fca487,#fc8e6e,#fb8161,#fc8868,#fc8b6b,#fc9777,#fc9777,#fc8d6d,#fca487,#feddce)"></i>
<i style="background:linear-gradient(90deg,#fc9a7b,#fc8e6e,#fc9e80,#fb8668,#fca385,#fc8e6e,#fb7e5e,#fc8666,#fc8a6a,#fc9677,#fc9677,#fc8e6e,#fca385,#fedccd)"></i>
<i style="background:linear-gradient(90deg,#fc997a,#fc8e6e,#fc9f81,#fb8263,#fca284,#fc8d6d,#fb7b5b,#fc8464,#fc8969,#fc9576,#fc9576,#fc8e6e,#fca284,#fedccd)"></i>
<i style="background:linear-gradient(90deg,#fc9878,#fc8f6f,#fc9f81,#fb7e5f,#fca183,#fc8d6d,#fb7858,#fc8262,#fc8868,#fc9575,#fc9575,#fc8f6f,#fca183,#fedbcc)"></i>
<i style="background:linear-gradient(90deg,#fc9677,#fc8f6f,#fca082,#fb7a5b,#fc9f81,#fc8c6c,#fb7555,#fc8161,#fc8767,#fc9474,#fc9474,#fc8f6f,#fc9f81,#fedbcb)"></i>
<i style="background:linear-gradient(90deg,#fc9576,#fc9070,#fca183,#fb7656,#fc9e80,#fc8c6c,#fb7252,#fc7f5f,#fc8666,#fc9374,#fc9374,#fc9070,#fc9e80,#fedacb)"></i>
<i style="background:linear-gradient(90deg,#fc9474,#fc9070,#fca183,#fb7152,#fc9d7f,#fc8b6b,#fb6f4f,#fb7d5d,#fc8565,#fc9373,#fc9373,#fc9070,#fc9d7f,#fedaca)"></i>
<i style="background:linear-gradient(90deg,#fc9373,#fc9171,#fca284,#fb6d4e,#fc9c7d,#fc8b6b,#fb6c4c,#fb7b5b,#fc8464,#fc9272,#fc9272,#fc9171,#fc9c7d,#fed9c9)"></i>
<i style="background:linear-gradient(90deg,#fc9171,#fc9171,#fca284,#fb694a,#fc9a7c,#fc8a6a,#fb694a,#fb7a5a,#fc8262,#fc9171,#fc9272,#fc9272,#fc9b7c,#fed9c9)"></i>
<i style="background:linear-gradient(90deg,#fc9070,#fc8e6f,#fc9f81,#fa6849,#fc9778,#fc8767,#fa6849,#fb7657,#fb7d5e,#fc8e6f,#fc9171,#fc9272,#fc9b7c,#fed9c9)"></i>
<i style="background:linear-gradient(90deg,#fc8e6e,#fc8c6c,#fc9b7d,#fa6748,#fc9374,#fb8464,#fa6748,#fa7355,#fa785a,#fc8c6c,#fc9070,#fc9272,#fc9b7c,#fed9c9)"></i>
<i style="background:linear-gradient(90deg,#fc8c6c,#fc8969,#fc9879,#fa6547,#fc9071,#fb8162,#fa6547,#fa7052,#f97356,#fc8969,#fc9070,#fc9272,#fc9b7c,#fed9c9)"></i>
<i style="background:linear-gradient(90deg,#fc8b6b,#fc8666,#fc9476,#f96446,#fc8c6d,#fb7e5f,#f96446,#f96d50,#f86d52,#fc8666,#fc8f6f,#fc9272,#fc9b7c,#fed9c9)"></i>
<i style="background:linear-gradient(90deg,#fc8969,#fc8363,#fc9172,#f96345,#fc8869,#fb7b5c,#f96345,#f9694d,#f7684e,#fc8363,#fc8f6f,#fc9272,#fc9b7c,#fed9c9)"></i>
<i style="background:linear-gradient(90deg,#fc8767,#fb8060,#fc8d6e,#f96145,#fb8566,#fa7859,#f96145,#f8664b,#f6634a,#fb8060,#fc8e6e,#fc9272,#fc9b7c,#fed9c9)"></i>
<i style="background:linear-gradient(90deg,#fc8565,#fb7d5d,#fc8a6b,#f86044,#fb8162,#fa7556,#f86044,#f76348,#f55e46,#fb7d5d,#fc8e6e,#fc9272,#fc9b7c,#fed9c9)"></i>
<i style="background:linear-gradient(90deg,#fc8464,#fb7a5a,#fc8667,#f85f43,#fb7e5e,#fa7254,#f85f43,#f76046,#f45842,#fb7a5a,#fc8d6d,#fc9272,#fc9b7c,#fed9c9)"></i>
<i style="background:linear-gradient(90deg,#fc8262,#fb7757,#fb8363,#f85e42,#fb7a5b,#fa6f51,#f85e42,#f65c43,#f3533e,#fb7757,#fc8d6d,#fc9272,#fc9b7c,#fed9c9)"></i>
<i style="background:linear-gradient(90deg,#fc8060,#fb7454,#fb7f60,#f85c41,#fb7757,#f96c4e,#f85c41,#f65941,#f24e3a,#fb7454,#fc8c6c,#fc9272,#fc9b7c,#fed9c9)"></i>
<i style="background:linear-gradient(90deg,#fc7e5e,#fb7151,#fb7c5c,#f75b40,#fb7353,#f9694b,#f75b40,#f5563e,#f14836,#fb7151,#fc8b6b,#fc9272,#fc9b7c,#fed9c9)"></i>
<i style="background:linear-gradient(90deg,#fb7d5d,#fb6e4e,#fb7858,#f75a40,#fb6f50,#f96649,#f75a40,#f5533c,#f04332,#fb6e4e,#fc8b6b,#fc9272,#fc9b7c,#fed9c9)"></i>
<i style="background:linear-gradient(90deg,#fb7b5b,#fb6b4c,#fb7555,#f7583f,#fb6c4c,#f96346,#f7583f,#f45039,#ef3e2e,#fb6b4c,#fc8a6a,#fc9272,#fc9b7c,#fed9c9)"></i>
<i style="background:linear-gradient(90deg,#fb7959,#fa6849,#fb7252,#f6573e,#fb6849,#f75f43,#f5563d,#f34c37,#ee3a2b,#fb6849,#fc8969,#fc9171,#fc9a7c,#fed9c9)"></i>
<i style="background:linear-gradient(90deg,#fb7758,#f76246,#fb7050,#f4543c,#fa6647,#f15940,#ef513a,#f04835,#ec382b,#fa6547,#fc8868,#fc9070,#fc9a7b,#fed9c9)"></i>
<i style="background:linear-gradient(90deg,#fb7556,#f45d43,#fa6e4f,#f3503a,#f96346,#ec533c,#ea4c38,#ed4433,#ea362a,#f96145,#fc8666,#fc8f6f,#fc997a,#fed9c9)"></i>
<i style="background:linear-gradient(90deg,#fb7454,#f15740,#fa6c4d,#f14d38,#f96044,#e64d39,#e54735,#ea4031,#e83429,#f85e42,#fc8464,#fc8e6e,#fc9879,#fed9c9)"></i>
<i style="background:linear-gradient(90deg,#fb7253,#ee523d,#fa6a4c,#f04a37,#f85e42,#e14736,#df4132,#e73d2f,#e53228,#f75b40,#fc8363,#fc8d6d,#fc9879,#fed9c9)"></i>
<i style="background:linear-gradient(90deg,#fa7051,#eb4d39,#f9684a,#ee4735,#f75b40,#db4232,#da3c2f,#e4392d,#e33027,#f6573e,#fc8161,#fc8c6c,#fc9778,#fed9c9)"></i>
<i style="background:linear-gradient(90deg,#fa6e50,#e84736,#f96649,#ec4433,#f6583f,#d63c2f,#d4372c,#e1352b,#e12e26,#f5543c,#fc7f5f,#fc8b6b,#fc9677,#fed9c9)"></i>
<i style="background:linear-gradient(90deg,#fa6c4e,#e54233,#f96448,#eb4131,#f6563d,#d0362c,#cf3229,#de3129,#df2c25,#f4503a,#fb7d5d,#fc8a6a,#fc9676,#fed9c9)"></i>
<i style="background:linear-gradient(90deg,#fa6a4d,#e23c30,#f86246,#e93e30,#f5533b,#ca3028,#ca2d26,#db2d27,#dd2a25,#f34d38,#fb7c5c,#fc8868,#fc9576,#fed9c9)"></i>
<i style="background:linear-gradient(90deg,#f9694b,#df372d,#f86045,#e83b2e,#f4503a,#c52a25,#c42823,#d82925,#db2824,#f24935,#fb7a5a,#fc8767,#fc9475,#fed9c9)"></i>
<i style="background:linear-gradient(90deg,#f96749,#dc312a,#f85e43,#e6382c,#f44e38,#bf2522,#bf2220,#d42524,#d92623,#f14633,#fb7858,#fc8666,#fc9474,#fed9c9)"></i>
<i style="background:linear-gradient(90deg,#f96548,#d92c27,#f75c42,#e5352a,#f34b36,#ba1f1f,#b91d1e,#d12122,#d72422,#f14331,#fb7656,#fc8565,#fc9373,#fed9c9)"></i>
<i style="background:linear-gradient(90deg,#f96346,#d62724,#f75a40,#e33229,#f24834,#b4191b,#b4181b,#ce1d20,#d52221,#f03f2f,#fb7555,#fc8464,#fc9273,#fed9c9)"></i>
<i style="background:linear-gradient(90deg,#f96145,#d32121,#f6583f,#e12e27,#f24633,#af1318,#af1318,#cb191e,#d32020,#ef3c2d,#fb7353,#fc8363,#fc9272,#fed9c9)"></i>
<i style="background:linear-gradient(90deg,#f86044,#d21f20,#f5563d,#e02d26,#ef4231,#a91016,#aa1016,#c9171d,#d21f20,#ed392b,#fb7152,#fc8262,#fc9272,#fed9c8)"></i>
<i style="background:linear-gradient(90deg,#f85f43,#d21f20,#f3523b,#df2c25,#ec3f2f,#a40f15,#a60f16,#c7171c,#d32020,#eb372a,#fb7051,#fc8262,#fc9272,#fed8c8)"></i>
<i style="background:linear-gradient(90deg,#f85f43,#d21f20,#f14e39,#de2a25,#e93c2e,#9f0e15,#a20e15,#c5161c,#d32020,#e9352a,#fb6f4f,#fc8262,#fc9272,#fed8c7)"></i>
<i style="background:linear-gradient(90deg,#f85e42,#d21f20,#ef4b37,#dd2924,#e5382c,#9a0c14,#9d0d14,#c2161b,#d42121,#e73329,#fb6e4e,#fc8262,#fc9272,#fed7c6)"></i>
<i style="background:linear-gradient(90deg,#f85d42,#d21f20,#ec4735,#dc2824,#e2352a,#950b13,#990c14,#c0151b,#d42121,#e53128,#fa6c4d,#fc8262,#fc9272,#fdd7c6)"></i>
<i style="background:linear-gradient(90deg,#f85d42,#d21f20,#ea4333,#db2724,#df3229,#900a13,#950b13,#be151a,#d52221,#e32f27,#fa6b4c,#fc8262,#fc9272,#fdd6c5)"></i>
<i style="background:linear-gradient(90deg,#f75c41,#d21f20,#e84031,#da2623,#db2e27,#8b0912,#910a13,#bc141a,#d52221,#e12d26,#fa6a4b,#fc8262,#fc9272,#fdd6c4)"></i>
<i style="background:linear-gradient(90deg,#f75c41,#d21f20,#e63c2f,#d92523,#d82b25,#860811,#8d0912,#ba1419,#d62221,#df2b25,#fa684a,#fc8262,#fc9272,#fdd5c4)"></i>
<i style="background:linear-gradient(90deg,#f75b40,#d21f20,#e4382d,#d82422,#d42824,#810611,#880812,#b81319,#d62322,#dd2924,#fa6749,#fc8262,#fc9272,#fdd5c3)"></i>
<i style="background:linear-gradient(90deg,#f75a40,#d21f20,#e2352b,#d72322,#d12422,#7c0510,#840711,#b51318,#d72322,#db2724,#f96648,#fc8262,#fc9272,#fdd4c2)"></i>
<i style="background:linear-gradient(90deg,#f75a40,#d21f20,#e03129,#d52221,#ce2121,#77040f,#800610,#b31218,#d72422,#d92523,#f96547,#fc8262,#fc9272,#fdd4c1)"></i>
<i style="background:linear-gradient(90deg,#f7593f,#d21f20,#dd2d27,#d42121,#ca1d1f,#72030f,#7c0510,#b11218,#d82422,#d72322,#f96346,#fc8262,#fc9272,#fdd3c1)"></i>
<i style="background:linear-gradient(90deg,#f6583f,#d21f20,#db2a25,#d32020,#c71a1d,#6d010e,#78040f,#af1117,#d82523,#d42121,#f96245,#fc8262,#fc9272,#fdd3c0)"></i>
<i style="background:linear-gradient(90deg,#f6583e,#d21f20,#d92623,#d21f20,#c4171c,#68000d,#73030f,#ad1117,#d92523,#d21f20,#f96144,#fc8262,#fc9272,#fdd2bf)"></i>
<i style="background:linear-gradient(90deg,#f7593f,#d52322,#db2c28,#d42121,#c6181c,#69010d,#7a0610,#b01318,#da2724,#d42222,#f85e42,#fc8262,#fc9272,#fdd2bf)"></i>
<i style="background:linear-gradient(90deg,#f75a40,#d72925,#de342d,#d62422,#c91b1d,#6c010e,#820912,#b41519,#dc2a25,#d72624,#f75b41,#fc8262,#fc9373,#fdd2bf)"></i>
<i style="background:linear-gradient(90deg,#f75b41,#da2e29,#e03c33,#d92724,#cc1e1f,#6f020e,#8b0d14,#b9181a,#de2c26,#da2b26,#f6593f,#fc8262,#fc9374,#fdd2bf)"></i>
<i style="background:linear-gradient(90deg,#f85d41,#dd342c,#e34439,#db2925,#cf2020,#71020e,#931016,#bd1a1c,#e02e27,#dc2f28,#f6563d,#fc8262,#fc9474,#fdd2bf)"></i>
<i style="background:linear-gradient(90deg,#f85e42,#e0392f,#e54b3e,#dd2c26,#d22321,#74030f,#9c1418,#c11d1d,#e13028,#df332b,#f5533b,#fc8262,#fc9575,#fdd2bf)"></i>
<i style="background:linear-gradient(90deg,#f85f43,#e33e32,#e85344,#df2f28,#d52522,#77040f,#a4181a,#c5201e,#e33329,#e1372d,#f4503a,#fc8262,#fc9576,#fdd2bf)"></i>
<i style="background:linear-gradient(90deg,#f96044,#e64435,#ea5b4a,#e23229,#d92823,#79040f,#ad1b1c,#ca2220,#e5352a,#e43b2f,#f34d38,#fc8262,#fc9677,#fdd2bf)"></i>
<i style="background:linear-gradient(90deg,#f96245,#e94938,#ed6350,#e4342a,#dc2b25,#7c0510,#b51f1e,#ce2521,#e7372b,#e73f31,#f34b36,#fc8262,#fc9777,#fdd2bf)"></i>
<i style="background:linear-gradient(90deg,#f96345,#ec4f3b,#ef6b55,#e6372c,#df2d26,#7f0610,#be221f,#d22722,#e9392d,#e94333,#f24834,#fc8262,#fc9778,#fdd2bf)"></i>
<i style="background:linear-gradient(90deg,#fa6446,#ef543e,#f2735b,#e83a2d,#e23027,#810610,#c62621,#d72a24,#ea3c2e,#ec4736,#f14533,#fc8262,#fc9879,#fdd2bf)"></i>
<i style="background:linear-gradient(90deg,#fa6647,#f25a41,#f57b61,#eb3c2e,#e53328,#840711,#cf2923,#db2c25,#ec3e2f,#ef4c38,#f04231,#fc8262,#fc997a,#fdd2bf)"></i>
<i style="background:linear-gradient(90deg,#fa6748,#f55f44,#f78367,#ed3f30,#e83529,#870811,#d72d25,#df2f26,#ee4030,#f1503a,#f0402f,#fc8262,#fc997a,#fdd2bf)"></i>
<i style="background:linear-gradient(90deg,#fb6849,#f86447,#fa8a6c,#ef4231,#eb382b,#8a0811,#e03127,#e43128,#f04231,#f4543c,#ef3d2d,#fc8262,#fc9a7b,#fdd2bf)"></i>
<i style="background:linear-gradient(90deg,#fb694a,#fb694a,#fc9272,#f14432,#ee3a2c,#8c0912,#e83429,#e83429,#f14432,#f6583e,#ee3a2c,#fc8262,#fc9b7c,#fdd2bf)"></i>
</div>
<div class="sp" style="left:57px;top:32px;width:339px;height:411px"></div>
<b style="left:57px;top:445px;width:1px;height:5px"></b>
<span class="tl xt" style="left:57.40px;top:453.50px;">−1.0</span>
<b style="left:109px;top:445px;width:1px;height:5px"></b>
<span class="tl xt" style="left:109.72px;top:453.50px;">−0.5</span>
<b style="left:162px;top:445px;width:1px;height:5px"></b>
<span class="tl xt" style="left:162.05px;top:453.50px;">0.0</span>
<b style="left:214px;top:445px;width:1px;height:5px"></b>
<span class="tl xt" style="left:214.37px;top:453.50px;">0.5</span>
<b style="left:266px;top:445px;width:1px;height:5px"></b>
<span class="tl xt" style="left:266.69px;top:453.50px;">1.0</span>
<b style="left:319px;top:445px;width:1px;height:5px"></b>
<span class="tl xt" style="left:319.02px;top:453.50px;">1.5</span>
<b style="left:371px;top:445px;width:1px;height:5px"></b>
<span class="tl xt" style="left:371.34px;top:453.50px;">2.0</span>
<b style="left:52px;top:444px;width:5px;height:1px"></b>
<span class="tl yt" style="left:46.50px;top:438.60px;">0</span>
<b style="left:52px;top:376px;width:5px;height:1px"></b>
<span class="tl yt" style="left:46.50px;top:369.93px;">5</span>
<b style="left:52px;top:307px;width:5px;height:1px"></b>
<span class="tl yt" style="left:46.50px;top:301.27px;">10</span>
<b style="left:52px;top:238px;width:5px;height:1px"></b>
<span class="tl yt" style="left:46.50px;top:232.60px;">15</span>
<b style="left:52px;top:170px;width:5px;height:1px"></b>
<span class="tl yt" style="left:46.50px;top:163.93px;">20</span>
<b style="left:52px;top:101px;width:5px;height:1px"></b>
<span class="tl yt" style="left:46.50px;top:95.27px;">25</span>
<b style="left:52px;top:32px;width:5px;height:1px"></b>
<span class="tl yt" style="left:46.50px;top:26.60px;">30</span>
<div class="cb" style="left:419px;top:32px;width:21px;height:413px;background:linear-gradient(0deg,#fff5f0 0.00%,#feeae1 6.25%,#fee0d2 12.50%,#fdcdb9 18.75%,#fcbba1 25.00%,#fca689 31.25%,#fc9272 37.50%,#fb7d5d 43.75%,#fb694a 50.00%,#f5523a 56.25%,#ee3a2c 62.50%,#dc2924 68.75%,#ca181d 75.00%,#b71319 81.25%,#a30f15 87.50%,#840711 93.75%,#67000d 100.00%)"></div>
<div class="sp" style="left:419px;top:32px;width:19px;height:411px;background:none"></div>
<b style="left:440px;top:444px;width:5px;height:1px"></b>
<span class="tl cl" style="left:450.00px;top:438.60px;">0.00</span>
<b style="left:440px;top:393px;width:5px;height:1px"></b>
<span class="tl cl" style="left:450.00px;top:387.10px;">0.25</span>
<b style="left:440px;top:341px;width:5px;height:1px"></b>
<span class="tl cl" style="left:450.00px;top:335.60px;">0.50</span>
<b style="left:440px;top:290px;width:5px;height:1px"></b>
<span class="tl cl" style="left:450.00px;top:284.10px;">0.75</span>
<b style="left:440px;top:238px;width:5px;height:1px"></b>
<span class="tl cl" style="left:450.00px;top:232.60px;">1.00</span>
<b style="left:440px;top:187px;width:5px;height:1px"></b>
<span class="tl cl" style="left:450.00px;top:181.10px;">1.25</span>
<b style="left:440px;top:135px;width:5px;height:1px"></b>
<span class="tl cl" style="left:450.00px;top:129.60px;">1.50</span>
<b style="left:440px;top:84px;width:5px;height:1px"></b>
<span class="tl cl" style="left:450.00px;top:78.10px;">1.75</span>
<b style="left:440px;top:32px;width:5px;height:1px"></b>
<span class="tl cl" style="left:450.00px;top:26.60px;">2.00</span>
<span class="tl of" style="left:402.50px;top:17.00px;">1e−5</span>
<span class="xl" style="left:227.45px;top:472.70px;">Time [s]</span>
<span class="yl" style="left:15.60px;top:239.60px;">Frequency [Hz]</span>
<span class="tt" style="left:227.45px;top:8.80px;">C3 left</span>
<div class="hm" style="left:549px;top:32px;width:341px;height:413px">
<i style="background:linear-gradient(90deg,#ffece4,#fee8de,#fee8de,#fee8de,#fee8de,#fee8de,#fee8de,#fee8de,#fee8de,#fee8de,#fee9df,#fee9df,#ffece3,#ffede5)"></i>
<i style="background:linear-gradient(90deg,#ffece4,#fee8de,#fee8de,#fee8de,#fee8de,#fee8de,#fee8de,#fee8de,#fee8de,#fee8de,#fee9df,#fee9df,#ffece3,#ffede5)"></i>
<i style="background:linear-gradient(90deg,#ffece3,#fee8de,#fee8de,#fee8dd,#fee8de,#fee8dd,#fee8de,#fee8de,#fee8de,#fee8de,#fee9df,#fee9df,#ffece3,#ffede5)"></i>
<i style="background:linear-gradient(90deg,#ffece3,#fee8dd,#fee8dd,#fee8dd,#fee8dd,#fee8dd,#fee8dd,#fee8dd,#fee8dd,#fee8dd,#fee9de,#fee9de,#ffebe2,#ffede5)"></i>
<i style="background:linear-gradient(90deg,#ffece3,#fee8dd,#fee8dd,#fee7dd,#fee8dd,#fee7dc,#fee8dd,#fee8dd,#fee8dd,#fee8dd,#fee9de,#fee9de,#ffebe2,#ffede5)"></i>
<i style="background:linear-gradient(90deg,#ffece3,#fee8dd,#fee8dd,#fee7dc,#fee8dd,#fee7dc,#fee8dd,#fee8dd,#fee8dd,#fee8dd,#fee8de,#fee8de,#ffebe2,#ffede5)"></i>
<i style="background:linear-gradient(90deg,#ffece3,#fee8dd,#fee7dc,#fee7dc,#fee7dc,#fee7dc,#fee8dd,#fee8dd,#fee8dd,#fee8dd,#fee8de,#fee8de,#ffebe2,#ffede5)"></i>
<i style="background:linear-gradient(90deg,#ffebe2,#fee7dd,#fee7dc,#fee7dc,#fee7dc,#fee6db,#fee7dd,#fee7dd,#fee7dd,#fee7dd,#fee8de,#fee8de,#ffebe2,#ffede5)"></i>
<i style="background:linear-gradient(90deg,#ffebe2,#fee7dc,#fee7dc,#fee7db,#fee7dc,#fee6db,#fee7dc,#fee7dc,#fee7dc,#fee7dc,#fee8dd,#fee8dd,#ffebe2,#ffede5)"></i>
<i style="background:linear-gradient(90deg,#ffebe2,#fee7dc,#fee7dc,#fee6db,#fee7dc,#fee6da,#fee7dc,#fee7dc,#fee7dc,#fee7dc,#fee8dd,#fee8dd,#ffebe2,#ffede5)"></i>
<i style="background:linear-gradient(90deg,#ffebe2,#fee7dc,#fee7db,#fee6db,#fee7db,#fee6da,#fee7dc,#fee7dc,#fee7dc,#fee7dc,#fee8dd,#fee8dd,#ffebe1,#ffede5)"></i>
<i style="background:linear-gradient(90deg,#ffebe1,#fee7dc,#fee6db,#fee6da,#fee6db,#fee5da,#fee7dc,#fee7dc,#fee7dc,#fee7dc,#fee8dd,#fee8dd,#ffebe1,#ffede5)"></i>
<i style="background:linear-gradient(90deg,#ffebe1,#fee7dc,#fee6db,#fee6da,#fee6db,#fee5d9,#fee7dc,#fee7dc,#fee7dc,#fee7dc,#fee7dd,#fee7dd,#ffebe1,#ffede5)"></i>
<i style="background:linear-gradient(90deg,#ffebe1,#fee7db,#fee6db,#fee5da,#fee6db,#fee5d9,#fee7db,#fee7db,#fee7db,#fee7db,#fee7dc,#fee7dc,#ffebe1,#ffede5)"></i>
<i style="background:linear-gradient(90deg,#feeae1,#fee6db,#fee6da,#fee5d9,#fee6da,#fee4d8,#fee6db,#fee6db,#fee6db,#fee6db,#fee7dc,#fee7dc,#feeae1,#ffede5)"></i>
<i style="background:linear-gradient(90deg,#feeae1,#fee6db,#fee5da,#fee5d9,#fee5da,#fee4d8,#fee6db,#fee6db,#fee6db,#fee6db,#fee7dc,#fee7dc,#feeae1,#ffede5)"></i>
<i style="background:linear-gradient(90deg,#feeae1,#fee6db,#fee5d9,#fee5d8,#fee5d9,#fee4d7,#fee6da,#fee6db,#fee6db,#fee6db,#fee7dc,#fee7dc,#feeae1,#ffede5)"></i>
<i style="background:linear-gradient(90deg,#feeae0,#fee6da,#fee5d9,#fee4d8,#fee5d9,#fee3d6,#fee6da,#fee6db,#fee6db,#fee6db,#fee7dc,#fee7dc,#feeae0,#ffede5)"></i>
<i style="background:linear-gradient(90deg,#feeae0,#fee6da,#fee5d9,#fee4d8,#fee5d9,#fee3d6,#fee5da,#fee6da,#fee6da,#fee6db,#fee7db,#fee7db,#feeae0,#ffede5)"></i>
<i style="background:linear-gradient(90deg,#feeae0,#fee5da,#fee4d8,#fee4d7,#fee4d8,#fee2d5,#fee5d9,#fee6da,#fee6da,#fee6db,#fee6db,#fee6db,#feeae0,#ffede5)"></i>
<i style="background:linear-gradient(90deg,#feeae0,#fee5da,#fee4d8,#fee3d7,#fee4d8,#fee2d5,#fee5d9,#fee6da,#fee6da,#fee6da,#fee6db,#fee6db,#feeae0,#ffede5)"></i>
<i style="background:linear-gradient(90deg,#feeae0,#fee5d9,#fee4d7,#fee3d6,#fee4d7,#fee1d4,#fee5d9,#fee5da,#fee5da,#fee6da,#fee6db,#fee6db,#feeae0,#ffede5)"></i>
<i style="background:linear-gradient(90deg,#feeae0,#fee5d9,#fee3d7,#fee3d6,#fee3d7,#fee1d3,#fee4d8,#fee5da,#fee5da,#fee6da,#fee6db,#fee6db,#feeae0,#ffede5)"></i>
<i style="background:linear-gradient(90deg,#feeae0,#fee5d9,#fee3d7,#fee2d6,#fee3d7,#fee1d3,#fee4d8,#fee5d9,#fee5d9,#fee6da,#fee6da,#fee6da,#feeae0,#ffede5)"></i>
<i style="background:linear-gradient(90deg,#fee9e0,#fee5d8,#fee3d6,#fee2d5,#fee3d6,#fee0d2,#fee4d8,#fee5d9,#fee5d9,#fee6da,#fee6da,#fee6da,#fee9e0,#ffede5)"></i>
<i style="background:linear-gradient(90deg,#fee9df,#fee4d8,#fee3d6,#fee2d5,#fee3d6,#fee0d2,#fee4d7,#fee5d9,#fee5d9,#fee5da,#fee6da,#fee6da,#fee9df,#ffede5)"></i>
<i style="background:linear-gradient(90deg,#fee9df,#fee4d8,#fee2d5,#fee2d4,#fee2d5,#fedfd1,#fee4d7,#fee5d9,#fee5d9,#fee5da,#fee5da,#fee5da,#fee9df,#ffede5)"></i>
<i style="background:linear-gradient(90deg,#fee9df,#fee4d8,#fee2d5,#fee1d4,#fee2d5,#fedfd0,#fee3d7,#fee5d9,#fee5d9,#fee5d9,#fee5d9,#fee5d9,#fee9df,#ffede5)"></i>
<i style="background:linear-gradient(90deg,#fee9df,#fee4d7,#fee2d5,#fee1d4,#fee2d4,#feded0,#fee3d6,#fee4d8,#fee4d8,#fee5d9,#fee5d9,#fee5d9,#fee9df,#ffede5)"></i>
<i style="background:linear-gradient(90deg,#fee9df,#fee4d7,#fee2d4,#fee1d3,#fee1d4,#feddcf,#fee3d6,#fee4d8,#fee4d8,#fee5d9,#fee5d9,#fee5d9,#fee9df,#ffede5)"></i>
<i style="background:linear-gradient(90deg,#fee9df,#fee3d7,#fee2d4,#fee1d3,#fee1d4,#feddce,#fee3d6,#fee4d8,#fee4d8,#fee5d9,#fee5d9,#fee5d9,#fee9df,#ffede5)"></i>
<i style="background:linear-gradient(90deg,#fee9df,#fee3d7,#fee1d4,#fee1d3,#fee1d3,#fedccd,#fee3d6,#fee4d8,#fee4d8,#fee5d9,#fee5d9,#fee5d9,#fee9df,#ffede5)"></i>
<i style="background:linear-gradient(90deg,#fee9de,#fee3d7,#fee1d4,#fee0d3,#fee0d3,#fedbcc,#fee2d5,#fee4d8,#fee4d8,#fee5d8,#fee5d8,#fee5d9,#fee9de,#ffede5)"></i>
<i style="background:linear-gradient(90deg,#fee9de,#fee3d6,#fee1d4,#fee0d2,#fee0d2,#fedacb,#fee2d5,#fee4d7,#fee4d7,#fee4d8,#fee4d8,#fee5d9,#fee9de,#ffede5)"></i>
<i style="background:linear-gradient(90deg,#fee9de,#fee3d6,#fee1d3,#fee0d2,#fee0d2,#fedaca,#fee2d5,#fee4d7,#fee4d7,#fee4d8,#fee4d8,#fee5d9,#fee9de,#ffede5)"></i>
<i style="background:linear-gradient(90deg,#fee8de,#fee3d6,#fee1d3,#fee0d2,#fedfd1,#fed9c9,#fee2d4,#fee3d7,#fee3d7,#fee4d8,#fee4d8,#fee4d8,#fee8de,#ffede5)"></i>
<i style="background:linear-gradient(90deg,#fee8de,#fee3d6,#fee1d3,#fee0d2,#fedfd1,#fed8c8,#fee2d4,#fee3d7,#fee3d7,#fee4d8,#fee4d8,#fee4d8,#fee8de,#ffede5)"></i>
<i style="background:linear-gradient(90deg,#fee8de,#fee2d6,#fee0d3,#fedfd1,#fedfd1,#fed7c7,#fee1d4,#fee3d6,#fee3d6,#fee4d7,#fee4d7,#fee4d8,#fee8de,#ffede5)"></i>
<i style="background:linear-gradient(90deg,#fee8de,#fee2d5,#fee0d2,#fedfd1,#fedfd0,#fdd7c6,#fee1d4,#fee3d6,#fee3d6,#fee4d7,#fee4d7,#fee4d8,#fee8de,#ffede5)"></i>
<i style="background:linear-gradient(90deg,#fee8dd,#fee2d5,#fee0d2,#fedfd1,#feded0,#fdd6c5,#fee1d3,#fee3d6,#fee3d6,#fee4d7,#fee4d7,#fee4d8,#fee8dd,#ffede5)"></i>
<i style="background:linear-gradient(90deg,#fee8dd,#fee2d5,#fee0d2,#fedfd1,#fedecf,#fdd5c4,#fee1d3,#fee3d6,#fee3d6,#fee3d7,#fee3d7,#fee4d8,#fee8dd,#ffede5)"></i>
<i style="background:linear-gradient(90deg,#fee8dd,#fee2d5,#fee0d2,#fedfd0,#fedecf,#fdd4c3,#fee1d3,#fee3d6,#fee3d6,#fee3d7,#fee3d7,#fee4d8,#fee8dd,#ffede5)"></i>
<i style="background:linear-gradient(90deg,#fee8dd,#fee2d5,#fee0d2,#fedfd0,#fedecf,#fdd4c2,#fee1d3,#fee3d6,#fee3d6,#fee3d7,#fee3d7,#fee4d8,#fee8dd,#ffede5)"></i>
<i style="background:linear-gradient(90deg,#fee8dd,#fee2d5,#fee0d2,#fedfd1,#fedecf,#fdd4c2,#fee1d3,#fee3d6,#fee3d6,#fee3d7,#fee3d7,#fee4d8,#fee8dd,#ffede5)"></i>
<i style="background:linear-gradient(90deg,#fee8dd,#fee2d5,#fee0d2,#fedfd1,#fedecf,#fdd4c2,#fee1d3,#fee3d6,#fee3d6,#fee3d7,#fee3d7,#fee4d8,#fee8dd,#ffede5)"></i>
<i style="background:linear-gradient(90deg,#fee8dd,#fee2d5,#fee0d3,#fedfd1,#feded0,#fdd4c2,#fee1d3,#fee3d6,#fee3d6,#fee3d7,#fee3d7,#fee4d8,#fee8dd,#ffede5)"></i>
<i style="background:linear-gradient(90deg,#fee8dd,#fee2d5,#fee1d3,#fee0d2,#feded0,#fdd4c2,#fee1d3,#fee3d6,#fee3d6,#fee3d7,#fee3d7,#fee4d8,#fee8dd,#ffede5)"></i>
<i style="background:linear-gradient(90deg,#fee8dd,#fee2d5,#fee1d3,#fee0d2,#fedfd0,#fdd4c2,#fee1d3,#fee3d6,#fee3d6,#fee3d7,#fee3d7,#fee4d8,#fee8dd,#ffede5)"></i>
<i style="background:linear-gradient(90deg,#fee8dd,#fee2d5,#fee1d3,#fee0d2,#fedfd0,#fdd4c2,#fee1d3,#fee3d6,#fee3d6,#fee3d7,#fee3d7,#fee4d8,#fee8dd,#ffede5)"></i>
<i style="background:linear-gradient(90deg,#fee8dd,#fee2d5,#fee1d3,#fee0d2,#fedfd1,#fdd4c2,#fee1d3,#fee3d6,#fee3d6,#fee3d7,#fee3d7,#fee4d8,#fee8dd,#ffede5)"></i>
<i style="background:linear-gradient(90deg,#fee8dd,#fee2d5,#fee1d4,#fee0d3,#fedfd1,#fdd3c1,#fee1d3,#fee3d6,#fee3d6,#fee3d7,#fee3d7,#fee4d8,#fee8dd,#ffede5)"></i>
<i style="background:linear-gradient(90deg,#fee8dd,#fee2d5,#fee1d4,#fee1d3,#fedfd1,#fdd3c1,#fee1d3,#fee3d6,#fee3d6,#fee3d7,#fee3d7,#fee4d8,#fee8dd,#ffede5)"></i>
<i style="background:linear-gradient(90deg,#fee8dd,#fee2d5,#fee1d4,#fee1d3,#fedfd1,#fdd3c1,#fee1d3,#fee3d6,#fee3d6,#fee3d7,#fee3d7,#fee4d8,#fee8dd,#ffede5)"></i>
<i style="background:linear-gradient(90deg,#fee8dd,#fee2d6,#fee2d4,#fee1d3,#fee0d1,#fdd3c1,#fee1d3,#fee3d6,#fee3d6,#fee3d7,#fee3d7,#fee4d8,#fee8dd,#ffede5)"></i>
<i style="background:linear-gradient(90deg,#fee8dd,#fee3d6,#fee2d5,#fee1d4,#fee0d2,#fdd3c1,#fee1d3,#fee3d6,#fee3d6,#fee3d7,#fee3d7,#fee4d8,#fee8dd,#ffede5)"></i>
<i style="background:linear-gradient(90deg,#fee8dd,#fee3d6,#fee2d5,#fee1d4,#fee0d2,#fdd3c1,#fee1d3,#fee3d6,#fee3d6,#fee3d7,#fee3d7,#fee4d8,#fee8dd,#ffede5)"></i>
<i style="background:linear-gradient(90deg,#fee8dd,#fee3d6,#fee2d5,#fee1d4,#fee0d2,#fdd4c2,#fee1d3,#fee3d6,#fee3d6,#fee3d7,#fee3d7,#fee4d8,#fee8dd,#ffede5)"></i>
<i style="background:linear-gradient(90deg,#fee8dd,#fee3d6,#fee2d5,#fee1d4,#fee0d2,#fdd4c2,#fee1d3,#fee3d6,#fee3d6,#fee3d7,#fee3d7,#fee4d8,#fee8dd,#ffede5)"></i>
<i style="background:linear-gradient(90deg,#fee8dd,#fee3d6,#fee2d5,#fee2d4,#fee0d2,#fdd4c3,#fee1d3,#fee3d6,#fee3d6,#fee3d7,#fee3d7,#fee4d8,#fee8dd,#ffede5)"></i>
<i style="background:linear-gradient(90deg,#fee8dd,#fee3d6,#fee2d5,#fee2d4,#fee0d2,#fdd5c3,#fee1d3,#fee3d6,#fee3d6,#fee3d7,#fee3d7,#fee4d8,#fee8dd,#ffede5)"></i>
<i style="background:linear-gradient(90deg,#fee8dd,#fee3d6,#fee2d5,#fee2d4,#fee0d3,#fdd5c4,#fee1d3,#fee3d6,#fee3d6,#fee3d7,#fee3d7,#fee4d8,#fee8dd,#ffede5)"></i>
<i style="background:linear-gradient(90deg,#fee8dd,#fee3d6,#fee2d5,#fee2d5,#fee0d3,#fdd6c4,#fee1d3,#fee3d6,#fee3d6,#fee3d7,#fee3d7,#fee4d8,#fee8dd,#ffede5)"></i>
<i style="background:linear-gradient(90deg,#fee8dd,#fee3d6,#fee2d5,#fee2d5,#fee1d3,#fdd6c5,#fee1d3,#fee3d6,#fee3d6,#fee3d7,#fee3d7,#fee4d8,#fee8dd,#ffede5)"></i>
<i style="background:linear-gradient(90deg,#fee8dd,#fee3d6,#fee2d5,#fee2d5,#fee1d3,#fdd7c5,#fee1d3,#fee3d6,#fee3d6,#fee3d7,#fee3d7,#fee4d8,#fee8dd,#ffede5)"></i>
<i style="background:linear-gradient(90deg,#fee8dd,#fee3d6,#fee2d5,#fee2d5,#fee1d3,#fed7c6,#fee1d3,#fee3d6,#fee3d6,#fee3d7,#fee3d7,#fee4d8,#fee8dd,#ffede5)"></i>
<i style="background:linear-gradient(90deg,#fee8dd,#fee3d6,#fee2d5,#fee2d5,#fee1d3,#fed7c7,#fee1d4,#fee3d6,#fee3d6,#fee3d7,#fee3d7,#fee4d8,#fee8dd,#ffede5)"></i>
<i style="background:linear-gradient(90deg,#fee8dd,#fee3d6,#fee2d5,#fee2d5,#fee1d3,#fed8c7,#fee1d4,#fee3d6,#fee3d6,#fee3d7,#fee3d7,#fee4d8,#fee8dd,#ffede5)"></i>
<i style="background:linear-gradient(90deg,#fee8dd,#fee3d6,#fee2d6,#fee2d5,#fee1d4,#fed8c8,#fee1d4,#fee3d6,#fee3d6,#fee3d7,#fee3d7,#fee4d8,#fee8dd,#ffede5)"></i>
<i style="background:linear-gradient(90deg,#fee8dd,#fee3d6,#fee3d6,#fee2d6,#fee1d4,#fed9c8,#fee1d4,#fee3d6,#fee3d6,#fee3d7,#fee3d7,#fee4d8,#fee8dd,#ffede5)"></i>
<i style="background:linear-gradient(90deg,#fee8dd,#fee3d6,#fee3d6,#fee3d6,#fee1d4,#fed9c9,#fee1d4,#fee3d6,#fee3d6,#fee3d7,#fee3d7,#fee4d7,#fee8dd,#ffede5)"></i>
<i style="background:linear-gradient(90deg,#fee8dd,#fee2d5,#fee2d5,#fee3d6,#fee1d4,#fedaca,#fee1d4,#fee3d6,#fee3d6,#fee3d6,#fee3d6,#fee4d7,#fee8dd,#ffede5)"></i>
<i style="background:linear-gradient(90deg,#fee8dd,#fee2d5,#fee2d5,#fee3d6,#fee1d4,#fedaca,#fee1d4,#fee3d6,#fee3d6,#fee3d6,#fee3d6,#fee4d7,#fee8dd,#ffede5)"></i>
<i style="background:linear-gradient(90deg,#fee8dd,#fee2d5,#fee2d5,#fee3d6,#fee1d4,#fedbcb,#fee1d4,#fee3d6,#fee3d6,#fee3d6,#fee3d6,#fee3d7,#fee8dd,#ffede5)"></i>
<i style="background:linear-gradient(90deg,#fee8dd,#fee2d5,#fee2d5,#fee3d6,#fee1d4,#fedbcc,#fee1d4,#fee3d6,#fee3d6,#fee3d6,#fee3d6,#fee3d7,#fee8dd,#ffede5)"></i>
<i style="background:linear-gradient(90deg,#fee8dd,#fee2d5,#fee2d5,#fee3d6,#fee1d4,#fedccc,#fee1d4,#fee3d6,#fee3d6,#fee3d6,#fee3d6,#fee3d6,#fee8dd,#ffede5)"></i>
<i style="background:linear-gradient(90deg,#fee8dd,#fee2d5,#fee2d5,#fee3d6,#fee2d4,#fedccd,#fee2d4,#fee3d6,#fee3d6,#fee3d6,#fee3d6,#fee3d6,#fee8dd,#ffede5)"></i>
<i style="background:linear-gradient(90deg,#fee7dd,#fee2d5,#fee2d5,#fee3d6,#fee2d4,#feddce,#fee2d4,#fee3d6,#fee3d6,#fee3d6,#fee2d6,#fee3d6,#fee7dd,#ffede5)"></i>
<i style="background:linear-gradient(90deg,#fee7dd,#fee2d4,#fee2d4,#fee3d6,#fee2d4,#feddce,#fee2d4,#fee3d6,#fee3d6,#fee3d6,#fee2d5,#fee3d6,#fee7dd,#ffede5)"></i>
<i style="background:linear-gradient(90deg,#fee7dd,#fee2d4,#fee2d4,#fee3d6,#fee2d4,#fedecf,#fee2d4,#fee3d6,#fee3d6,#fee3d6,#fee2d5,#fee3d6,#fee7dd,#ffede5)"></i>
<i style="background:linear-gradient(90deg,#fee7dc,#fee2d4,#fee2d4,#fee3d6,#fee2d4,#feded0,#fee2d4,#fee3d6,#fee3d6,#fee3d6,#fee2d5,#fee2d5,#fee7dc,#ffede5)"></i>
<i style="background:linear-gradient(90deg,#fee7dc,#fee1d4,#fee1d4,#fee3d6,#fee2d5,#fedfd0,#fee2d5,#fee3d6,#fee3d6,#fee3d6,#fee2d5,#fee2d5,#fee7dc,#ffede5)"></i>
<i style="background:linear-gradient(90deg,#fee7dc,#fee1d4,#fee1d4,#fee3d6,#fee2d5,#fedfd1,#fee2d5,#fee3d6,#fee3d6,#fee3d6,#fee2d5,#fee2d5,#fee7dc,#ffede5)"></i>
<i style="background:linear-gradient(90deg,#fee7dc,#fee1d4,#fee1d4,#fee3d6,#fee2d5,#fee0d2,#fee2d5,#fee3d6,#fee3d6,#fee3d6,#fee2d5,#fee2d5,#fee7dc,#ffede5)"></i>
<i style="background:linear-gradient(90deg,#fee7dc,#fee1d4,#fee1d4,#fee3d6,#fee2d5,#fee0d2,#fee2d5,#fee3d6,#fee3d6,#fee3d6,#fee2d5,#fee2d5,#fee7dc,#ffede5)"></i>
<i style="background:linear-gradient(90deg,#fee7dc,#fee1d3,#fee1d3,#fee2d6,#fee2d5,#fee0d2,#fee2d5,#fee3d6,#fee3d6,#fee3d6,#fee2d4,#fee2d4,#fee7dc,#ffede5)"></i>
<i style="background:linear-gradient(90deg,#fee7dc,#fee1d3,#fee1d3,#fee2d5,#fee2d5,#fee0d2,#fee2d5,#fee3d6,#fee3d6,#fee3d6,#fee2d4,#fee1d4,#fee7dc,#ffede5)"></i>
<i style="background:linear-gradient(90deg,#fee7dc,#fee0d2,#fee1d3,#fee2d5,#fee2d5,#fee0d2,#fee2d5,#fee3d6,#fee3d6,#fee3d6,#fee2d4,#fee1d4,#fee7dc,#ffede5)"></i>
<i style="background:linear-gradient(90deg,#fee7dc,#fee0d2,#fee0d3,#fee2d5,#fee2d5,#fee0d2,#fee2d5,#fee3d6,#fee3d6,#fee3d6,#fee1d4,#fee1d4,#fee7dc,#ffede5)"></i>
<i style="background:linear-gradient(90deg,#fee7dc,#fee0d2,#fee0d2,#fee2d5,#fee2d5,#fee0d3,#fee2d5,#fee3d6,#fee3d6,#fee3d6,#fee1d4,#fee1d4,#fee7dc,#ffede5)"></i>
<i style="background:linear-gradient(90deg,#fee7dc,#fedfd1,#fee0d2,#fee2d5,#fee2d5,#fee1d3,#fee2d5,#fee3d6,#fee3d6,#fee3d6,#fee1d4,#fee1d3,#fee7dc,#ffede5)"></i>
<i style="background:linear-gradient(90deg,#fee7dc,#fedfd1,#fee0d2,#fee2d5,#fee2d5,#fee1d3,#fee2d5,#fee3d6,#fee3d6,#fee3d6,#fee1d4,#fee1d3,#fee7dc,#ffede5)"></i>
<i style="background:linear-gradient(90deg,#fee7dc,#fedfd1,#fee0d2,#fee2d5,#fee2d5,#fee1d3,#fee2d5,#fee3d6,#fee3d6,#fee3d6,#fee1d4,#fee1d3,#fee7dc,#ffede5)"></i>
<i style="background:linear-gradient(90deg,#fee7dc,#fedfd0,#fedfd1,#fee2d5,#fee2d5,#fee1d3,#fee2d5,#fee3d6,#fee3d6,#fee3d6,#fee1d3,#fee0d3,#fee7dc,#ffede5)"></i>
<i style="background:linear-gradient(90deg,#fee7dc,#feded0,#fedfd1,#fee2d5,#fee2d5,#fee1d3,#fee2d5,#fee3d6,#fee3d6,#fee3d6,#fee1d3,#fee0d2,#fee7dc,#ffede5)"></i>
<i style="background:linear-gradient(90deg,#fee7db,#fedecf,#fedfd1,#fee2d5,#fee2d6,#fee1d3,#fee2d6,#fee3d6,#fee3d6,#fee3d6,#fee1d3,#fee0d2,#fee7db,#ffede5)"></i>
<i style="background:linear-gradient(90deg,#fee7db,#fedecf,#fedfd1,#fee2d5,#fee3d6,#fee1d4,#fee3d6,#fee3d6,#fee3d6,#fee3d6,#fee1d3,#fee0d2,#fee7db,#ffede5)"></i>
<i style="background:linear-gradient(90deg,#fee7db,#fedecf,#fedfd0,#fee2d5,#fee3d6,#fee1d4,#fee3d6,#fee3d6,#fee3d6,#fee3d6,#fee1d3,#fee0d2,#fee7db,#ffede5)"></i>
<i style="background:linear-gradient(90deg,#fee7db,#fedecf,#fedfd0,#fee2d5,#fee2d6,#fee1d4,#fee2d6,#fee3d6,#fee3d6,#fee3d6,#fee1d3,#fee0d2,#fee7db,#ffede5)"></i>
<i style="background:linear-gradient(90deg,#fee7db,#fedecf,#fedfd0,#fee2d5,#fee2d5,#fee1d3,#fee2d5,#fee3d6,#fee3d6,#fee3d6,#fee1d3,#fee0d2,#fee7db,#ffede5)"></i>
<i style="background:linear-gradient(90deg,#fee7db,#fedecf,#fedfd0,#fee2d5,#fee2d5,#fee1d3,#fee2d5,#fee3d6,#fee3d6,#fee3d6,#fee1d3,#fee0d2,#fee7db,#ffede5)"></i>
<i style="background:linear-gradient(90deg,#fee7db,#fedecf,#fedfd0,#fee2d4,#fee2d5,#fee1d3,#fee2d5,#fee3d6,#fee3d6,#fee3d6,#fee1d3,#fee0d3,#fee7dc,#ffede5)"></i>
<i style="background:linear-gradient(90deg,#fee7db,#fedecf,#fedfd0,#fee2d4,#fee2d5,#fee1d3,#fee2d5,#fee3d6,#fee3d6,#fee3d6,#fee1d4,#fee1d3,#fee7dc,#ffede5)"></i>
<i style="background:linear-gradient(90deg,#fee7db,#fedecf,#fedfd0,#fee2d4,#fee2d5,#fee1d3,#fee2d5,#fee3d6,#fee3d6,#fee3d6,#fee1d4,#fee1d3,#fee7dc,#ffede5)"></i>
<i style="background:linear-gradient(90deg,#fee7db,#fedecf,#fedfd0,#fee2d4,#fee2d5,#fee1d3,#fee2d5,#fee3d6,#fee3d6,#fee3d6,#fee1d4,#fee1d3,#fee7dc,#ffede5)"></i>
<i style="background:linear-gradient(90deg,#fee7db,#fedecf,#fedfd0,#fee2d4,#fee2d5,#fee0d3,#fee2d5,#fee3d6,#fee3d6,#fee3d6,#fee1d4,#fee1d3,#fee7dc,#ffede5)"></i>
<i style="background:linear-gradient(90deg,#fee7db,#fedecf,#fedfd0,#fee1d4,#fee2d4,#fee0d2,#fee2d4,#fee3d6,#fee3d6,#fee3d6,#fee1d4,#fee1d4,#fee7dc,#ffede5)"></i>
<i style="background:linear-gradient(90deg,#fee7db,#fedecf,#fedfd0,#fee1d4,#fee2d4,#fee0d2,#fee2d4,#fee3d6,#fee3d6,#fee3d6,#fee2d4,#fee1d4,#fee7dc,#ffede5)"></i>
<i style="background:linear-gradient(90deg,#fee7db,#fedecf,#fedfd0,#fee1d4,#fee2d4,#fee0d2,#fee2d4,#fee3d6,#fee3d6,#fee3d6,#fee2d4,#fee1d4,#fee7dc,#ffede5)"></i>
<i style="background:linear-gradient(90deg,#fee7db,#fedecf,#fedfd0,#fee1d4,#fee1d4,#fee0d2,#fee1d4,#fee3d6,#fee3d6,#fee3d6,#fee2d4,#fee2d4,#fee7dc,#ffede5)"></i>
<i style="background:linear-gradient(90deg,#fee7db,#fedecf,#fedfd0,#fee1d4,#fee1d4,#fee0d2,#fee1d4,#fee3d6,#fee3d6,#fee3d6,#fee2d5,#fee2d5,#fee7dc,#ffede5)"></i>
<i style="background:linear-gradient(90deg,#fee7db,#fedecf,#fedfd0,#fee1d4,#fee1d4,#fee0d2,#fee1d4,#fee3d6,#fee3d6,#fee3d6,#fee2d5,#fee2d5,#fee7dc,#ffede5)"></i>
<i style="background:linear-gradient(90deg,#fee7db,#fedecf,#fedfd1,#fee1d4,#fee1d3,#fedfd1,#fee1d3,#fee3d6,#fee3d6,#fee3d6,#fee2d5,#fee2d5,#fee7dc,#ffede5)"></i>
<i style="background:linear-gradient(90deg,#fee7db,#fedecf,#fedfd1,#fee1d4,#fee1d3,#fedfd0,#fee1d3,#fee3d6,#fee3d6,#fee3d6,#fee2d5,#fee2d5,#fee7dd,#ffede5)"></i>
<i style="background:linear-gradient(90deg,#fee7dc,#feded0,#fedfd1,#fee1d4,#fee1d3,#fedecf,#fee1d3,#fee3d6,#fee3d6,#fee3d6,#fee2d5,#fee3d6,#fee7dd,#ffede5)"></i>
<i style="background:linear-gradient(90deg,#fee7dc,#feded0,#fedfd1,#fee1d4,#fee0d3,#feddce,#fee0d3,#fee3d6,#fee3d6,#fee3d6,#fee3d6,#fee3d6,#fee8dd,#ffede5)"></i>
<i style="background:linear-gradient(90deg,#fee7dc,#fedfd0,#fee0d2,#fee1d4,#fee0d2,#feddce,#fee0d2,#fee3d6,#fee3d6,#fee3d6,#fee3d6,#fee3d6,#fee8dd,#ffede5)"></i>
<i style="background:linear-gradient(90deg,#fee7dc,#fedfd1,#fee0d2,#fee2d4,#fee0d2,#fedccd,#fee0d2,#fee3d6,#fee3d6,#fee3d6,#fee3d6,#fee3d6,#fee8dd,#ffede5)"></i>
<i style="background:linear-gradient(90deg,#fee7dc,#fedfd1,#fee0d2,#fee2d4,#fee0d2,#fedccc,#fee0d2,#fee3d6,#fee3d6,#fee3d6,#fee3d6,#fee3d7,#fee8dd,#ffede5)"></i>
<i style="background:linear-gradient(90deg,#fee7dc,#fedfd1,#fee0d2,#fee2d4,#fee0d2,#fedbcb,#fee0d2,#fee3d6,#fee3d6,#fee3d6,#fee3d6,#fee3d7,#fee8dd,#ffede5)"></i>
<i style="background:linear-gradient(90deg,#fee7dc,#fee0d1,#fee0d3,#fee2d4,#fee0d1,#fedacb,#fee0d1,#fee3d6,#fee3d6,#fee3d6,#fee3d7,#fee4d7,#fee8de,#ffede5)"></i>
<i style="background:linear-gradient(90deg,#fee7dc,#fee0d2,#fee1d3,#fee2d4,#fedfd1,#fedaca,#fedfd1,#fee3d6,#fee3d6,#fee3d6,#fee3d7,#fee4d8,#fee8de,#ffede5)"></i>
<i style="background:linear-gradient(90deg,#fee7dc,#fee0d2,#fee1d3,#fee2d5,#fedfd1,#fed9c9,#fedfd1,#fee3d6,#fee3d6,#fee3d6,#fee4d7,#fee4d8,#fee8de,#ffede5)"></i>
<i style="background:linear-gradient(90deg,#fee7dc,#fee0d2,#fee1d3,#fee2d5,#fedfd1,#fed9c8,#fedfd1,#fee3d6,#fee3d6,#fee3d6,#fee4d7,#fee4d8,#fee8de,#ffede5)"></i>
<i style="background:linear-gradient(90deg,#fee7dc,#fee0d3,#fee1d4,#fee2d5,#fedfd0,#fed8c7,#fedfd0,#fee3d6,#fee3d6,#fee3d7,#fee4d7,#fee4d8,#fee8de,#ffede5)"></i>
<i style="background:linear-gradient(90deg,#fee7dc,#fee1d3,#fee1d4,#fee2d5,#fedfd0,#fed8c7,#fedfd0,#fee3d6,#fee3d6,#fee3d7,#fee4d8,#fee5d9,#fee9de,#ffede5)"></i>
<i style="background:linear-gradient(90deg,#fee7dc,#fee1d3,#fee1d4,#fee2d5,#fedfd0,#fed8c7,#fedfd0,#fee2d6,#fee3d6,#fee3d7,#fee4d8,#fee5d9,#fee9de,#ffede5)"></i>
<i style="background:linear-gradient(90deg,#fee7dc,#fee1d3,#fee1d4,#fee2d5,#fedfd0,#fed8c7,#fedfd0,#fee2d5,#fee3d6,#fee3d7,#fee4d8,#fee5d9,#fee9de,#ffede5)"></i>
<i style="background:linear-gradient(90deg,#fee7dc,#fee1d3,#fee1d4,#fee2d4,#fedfd0,#fed8c7,#fedfd0,#fee2d5,#fee3d6,#fee3d7,#fee4d8,#fee5d9,#fee9de,#ffede5)"></i>
<i style="background:linear-gradient(90deg,#fee7dc,#fee1d3,#fee1d3,#fee2d4,#fedfd0,#fed8c7,#fedfd0,#fee2d5,#fee3d6,#fee3d7,#fee4d8,#fee5d9,#fee9de,#ffede5)"></i>
<i style="background:linear-gradient(90deg,#fee7dc,#fee1d3,#fee1d3,#fee2d4,#fedfd0,#fed8c7,#fedfd0,#fee2d5,#fee3d6,#fee3d7,#fee4d8,#fee5d9,#fee9de,#ffede5)"></i>
<i style="background:linear-gradient(90deg,#fee7dc,#fee1d3,#fee1d3,#fee2d4,#fedfd0,#fed8c7,#fedfd0,#fee2d5,#fee3d6,#fee3d7,#fee4d8,#fee5d9,#fee9df,#ffede5)"></i>
<i style="background:linear-gradient(90deg,#fee7dc,#fee1d3,#fee1d3,#fee2d4,#fedfd0,#fed8c7,#fedfd0,#fee2d5,#fee3d6,#fee3d7,#fee4d8,#fee5d9,#fee9df,#ffede5)"></i>
<i style="background:linear-gradient(90deg,#fee7dc,#fee1d3,#fee1d3,#fee1d4,#fedfd0,#fed8c7,#fedfd0,#fee2d5,#fee3d6,#fee3d7,#fee4d8,#fee5d9,#fee9df,#ffede5)"></i>
<i style="background:linear-gradient(90deg,#fee7dc,#fee1d3,#fee1d3,#fee1d4,#fedfd0,#fed8c7,#fedfd0,#fee2d5,#fee3d6,#fee3d7,#fee4d8,#fee5d9,#fee9df,#ffede5)"></i>
<i style="background:linear-gradient(90deg,#fee7dc,#fee1d4,#fee1d3,#fee1d4,#fedfd0,#fed8c7,#fedfd0,#fee2d5,#fee3d6,#fee3d7,#fee4d8,#fee5d9,#fee9df,#ffede5)"></i>
<i style="background:linear-gradient(90deg,#fee7dc,#fee1d4,#fee1d3,#fee1d4,#fedfd0,#fed8c7,#fedfd0,#fee2d5,#fee3d6,#fee3d7,#fee4d8,#fee5d9,#fee9df,#ffede5)"></i>
<i style="background:linear-gradient(90deg,#fee7dc,#fee1d4,#fee1d3,#fee1d4,#fedfd0,#fed8c7,#fedfd0,#fee2d5,#fee3d6,#fee3d7,#fee4d8,#fee5d9,#fee9df,#ffede5)"></i>
<i style="background:linear-gradient(90deg,#fee7dc,#fee1d4,#fee1d3,#fee1d4,#fedfd0,#fed8c7,#fedfd0,#fee2d5,#fee3d6,#fee3d7,#fee4d8,#fee5d9,#fee9df,#ffede5)"></i>
<i style="background:linear-gradient(90deg,#fee7dc,#fee1d3,#fee0d2,#fee1d4,#fedfd0,#fed8c8,#fedfd0,#fee2d5,#fee3d6,#fee3d7,#fee4d8,#fee5d9,#fee9df,#ffede5)"></i>
<i style="background:linear-gradient(90deg,#fee7dc,#fee1d3,#fee0d2,#fee1d4,#fedfd1,#fed9c8,#fedfd1,#fee2d5,#fee2d6,#fee3d6,#fee4d8,#fee5d9,#fee9df,#ffede5)"></i>
<i style="background:linear-gradient(90deg,#fee7dc,#fee0d3,#fedfd1,#fee1d3,#fedfd1,#fed9c9,#fedfd1,#fee2d5,#fee2d5,#fee3d6,#fee4d8,#fee5d9,#fee9df,#ffede5)"></i>
<i style="background:linear-gradient(90deg,#fee7dc,#fee0d2,#fedfd1,#fee1d3,#fedfd1,#fedaca,#fedfd1,#fee2d5,#fee2d5,#fee3d6,#fee4d8,#fee5d9,#fee9df,#ffede5)"></i>
<i style="background:linear-gradient(90deg,#fee7dc,#fee0d2,#fedfd0,#fee1d3,#fedfd1,#fedaca,#fedfd1,#fee2d5,#fee2d5,#fee3d6,#fee4d8,#fee5d9,#fee9df,#ffede5)"></i>
<i style="background:linear-gradient(90deg,#fee7dc,#fee0d2,#feded0,#fee1d3,#fedfd1,#fedbcb,#fedfd1,#fee2d5,#fee2d5,#fee3d6,#fee4d8,#fee5d9,#fee9df,#ffede5)"></i>
<i style="background:linear-gradient(90deg,#fee7dc,#fedfd1,#fedecf,#fee1d3,#fee0d2,#fedbcc,#fee0d2,#fee2d5,#fee2d5,#fee3d6,#fee4d8,#fee5d9,#fee9df,#ffede5)"></i>
<i style="background:linear-gradient(90deg,#fee7dc,#fedfd1,#fedecf,#fee0d3,#fee0d2,#fedccc,#fee0d2,#fee2d5,#fee2d5,#fee3d6,#fee4d8,#fee5d9,#fee9df,#ffede5)"></i>
<i style="background:linear-gradient(90deg,#fee7dc,#fedfd1,#feddce,#fee0d3,#fee0d2,#fedccd,#fee0d2,#fee2d5,#fee2d5,#fee3d6,#fee4d8,#fee5d9,#fee9de,#ffede5)"></i>
<i style="background:linear-gradient(90deg,#fee7dc,#fedfd0,#feddce,#fee0d2,#fee0d2,#feddce,#fee0d2,#fee2d5,#fee2d5,#fee3d6,#fee4d8,#fee5d9,#fee9de,#ffede5)"></i>
<i style="background:linear-gradient(90deg,#fee7db,#feded0,#fedccd,#fee0d2,#fee0d2,#feddce,#fee0d2,#fee2d5,#fee2d5,#fee3d6,#fee4d8,#fee5d9,#fee9de,#ffede5)"></i>
<i style="background:linear-gradient(90deg,#fee7db,#fedecf,#fedccd,#fee0d2,#fee0d2,#fedecf,#fee0d2,#fee2d5,#fee2d5,#fee3d6,#fee4d8,#fee5d9,#fee9de,#ffede5)"></i>
<i style="background:linear-gradient(90deg,#fee7db,#fedecf,#fedccc,#fee0d2,#fee0d3,#feded0,#fee0d3,#fee2d5,#fee2d5,#fee3d6,#fee4d8,#fee5d9,#fee9de,#ffede5)"></i>
<i style="background:linear-gradient(90deg,#fee7db,#fedecf,#fedbcc,#fee0d2,#fee1d3,#fedfd0,#fee1d3,#fee2d5,#fee2d5,#fee3d6,#fee4d8,#fee5d9,#fee8de,#ffede5)"></i>
<i style="background:linear-gradient(90deg,#fee6db,#feddce,#fedbcb,#fee0d1,#fee1d3,#fedfd0,#fee0d3,#fee1d4,#fee2d4,#fee2d5,#fee4d7,#fee5d9,#fee8de,#ffede5)"></i>
<i style="background:linear-gradient(90deg,#fee6db,#fedccd,#fedaca,#fedfd1,#fee1d3,#fedfd1,#fee0d2,#fee1d4,#fee1d4,#fee2d5,#fee4d7,#fee5d9,#fee8de,#ffede5)"></i>
<i style="background:linear-gradient(90deg,#fee6db,#fedccc,#fed9c9,#fedfd1,#fee1d3,#fedfd1,#fee0d2,#fee1d3,#fee1d3,#fee2d5,#fee4d7,#fee5d9,#fee8de,#ffede5)"></i>
<i style="background:linear-gradient(90deg,#fee6db,#fedbcc,#fed8c8,#fedfd0,#fee1d3,#fedfd1,#fee0d2,#fee0d3,#fee1d3,#fee2d5,#fee3d7,#fee5d9,#fee8de,#ffede5)"></i>
<i style="background:linear-gradient(90deg,#fee6db,#fedbcb,#fed8c7,#fedfd0,#fee1d3,#fedfd1,#fee0d2,#fee0d2,#fee0d3,#fee2d4,#fee3d7,#fee5d9,#fee8de,#ffede5)"></i>
<i style="background:linear-gradient(90deg,#fee6db,#fedaca,#fed7c6,#feded0,#fee1d3,#fee0d1,#fee0d2,#fedfd1,#fee0d2,#fee1d4,#fee3d7,#fee5d9,#fee8de,#ffede5)"></i>
<i style="background:linear-gradient(90deg,#fee6db,#fed9c9,#fdd6c5,#fedecf,#fee1d3,#fee0d2,#fee0d2,#fedfd1,#fee0d2,#fee1d4,#fee3d7,#fee5d9,#fee8de,#ffede5)"></i>
<i style="background:linear-gradient(90deg,#fee6db,#fed9c8,#fdd6c4,#fedecf,#fee1d3,#fee0d2,#fedfd1,#fedfd0,#fedfd1,#fee1d3,#fee3d6,#fee5d9,#fee8de,#ffede5)"></i>
<i style="background:linear-gradient(90deg,#fee6db,#fed8c8,#fdd5c4,#fedecf,#fee1d3,#fee0d2,#fedfd1,#feded0,#fedfd1,#fee1d3,#fee3d6,#fee5d9,#fee8de,#ffede5)"></i>
<i style="background:linear-gradient(90deg,#fee6db,#fed8c7,#fdd4c3,#feddce,#fee1d4,#fee0d2,#fedfd1,#fedecf,#fedfd0,#fee1d3,#fee3d6,#fee5d9,#fee8de,#ffede5)"></i>
<i style="background:linear-gradient(90deg,#fee6db,#fed7c6,#fdd4c2,#feddce,#fee1d4,#fee0d2,#fedfd1,#feddcf,#feded0,#fee0d3,#fee3d6,#fee5d9,#fee8de,#ffede5)"></i>
<i style="background:linear-gradient(90deg,#fee6da,#fdd6c5,#fdd3c1,#feddce,#fee1d4,#fee0d3,#fedfd1,#feddce,#fedecf,#fee0d2,#fee3d6,#fee5d9,#fee8de,#ffede5)"></i>
<i style="background:linear-gradient(90deg,#fee6da,#fdd6c5,#fdd2c0,#feddcd,#fee1d4,#fee0d3,#fedfd0,#feddce,#fedecf,#fee0d2,#fee3d6,#fee5d9,#fee8de,#ffede5)"></i>
<i style="background:linear-gradient(90deg,#fee6da,#fdd5c4,#fdd2bf,#fedccd,#fee1d4,#fee1d3,#feded0,#fedccd,#feddce,#fee0d2,#fee2d5,#fee4d8,#fee8de,#ffede5)"></i>
<i style="background:linear-gradient(90deg,#fee6da,#fdd5c3,#fdd1bf,#fedccd,#fee1d4,#fee0d2,#fedecf,#fedbcb,#fedccd,#fedfd0,#fee2d5,#fee4d8,#fee8de,#ffede5)"></i>
<i style="background:linear-gradient(90deg,#fee6da,#fdd5c3,#fdd1be,#fedccc,#fee1d3,#fee0d2,#feddce,#fedaca,#fedbcc,#fedecf,#fee2d4,#fee4d8,#fee8de,#ffede5)"></i>
<i style="background:linear-gradient(90deg,#fee6da,#fdd4c2,#fdd1be,#fedccc,#fee1d3,#fee0d2,#fedccd,#fed9c9,#fedaca,#feddce,#fee1d4,#fee4d8,#fee8de,#ffede5)"></i>
<i style="background:linear-gradient(90deg,#fee5da,#fdd4c2,#fdd0bd,#fedbcc,#fee1d3,#fee0d2,#fedccc,#fed8c7,#fed9c9,#feddcd,#fee1d3,#fee4d8,#fee8de,#ffede5)"></i>
<i style="background:linear-gradient(90deg,#fee5da,#fdd4c2,#fdd0bd,#fedbcb,#fee1d3,#fedfd1,#fedbcc,#fed7c6,#fed8c8,#fedccc,#fee1d3,#fee4d7,#fee8dd,#ffede5)"></i>
<i style="background:linear-gradient(90deg,#fee5d9,#fdd3c1,#fdd0bd,#fedbcb,#fee1d3,#fedfd1,#fedacb,#fdd6c5,#fed7c6,#fedbcb,#fee0d2,#fee4d7,#fee8dd,#ffede5)"></i>
<i style="background:linear-gradient(90deg,#fee5d9,#fdd3c1,#fdcfbc,#fedbcb,#fee1d3,#fedfd1,#fedaca,#fdd5c3,#fdd6c5,#fedaca,#fee0d2,#fee3d7,#fee8dd,#ffede5)"></i>
<i style="background:linear-gradient(90deg,#fee5d9,#fdd3c0,#fdcfbc,#fedaca,#fee0d3,#fedfd0,#fed9c9,#fdd4c2,#fdd5c4,#fedac9,#fee0d1,#fee3d7,#fee8dd,#ffede5)"></i>
<i style="background:linear-gradient(90deg,#fee5d9,#fdd2c0,#fdcfbb,#fedaca,#fee0d2,#fedfd0,#fed8c8,#fdd3c1,#fdd4c2,#fed9c8,#fedfd1,#fee3d7,#fee8dd,#ffede5)"></i>
<i style="background:linear-gradient(90deg,#fee5d9,#fdd2bf,#fdcebb,#fedaca,#fee0d2,#feded0,#fed8c7,#fdd2bf,#fdd3c1,#fed8c7,#fedfd0,#fee3d6,#fee7dd,#ffede5)"></i>
<i style="background:linear-gradient(90deg,#fee5d9,#fdd2bf,#fdceba,#fedac9,#fee0d2,#fedecf,#fed7c6,#fdd1be,#fdd2c0,#fed7c6,#feded0,#fee3d6,#fee7dd,#ffede5)"></i>
<i style="background:linear-gradient(90deg,#fee5d9,#fdd1be,#fdceba,#fed9c9,#fee0d2,#fedecf,#fdd6c5,#fdd0bd,#fdd1be,#fdd6c5,#fedecf,#fee3d6,#fee7dc,#ffede5)"></i>
<i style="background:linear-gradient(90deg,#fee5d9,#fdd1be,#fdcdb9,#fed9c9,#fee0d2,#fedecf,#fdd6c4,#fdcfbb,#fdd0bd,#fdd6c4,#fedecf,#fee3d6,#fee7dc,#ffede5)"></i>
<i style="background:linear-gradient(90deg,#fee5d8,#fdd1be,#fdcdb9,#fed9c9,#fee0d2,#feddce,#fdd5c4,#fdceba,#fdcfbc,#fdd5c4,#feddce,#fee2d5,#fee7dc,#ffede5)"></i>
<i style="background:linear-gradient(90deg,#fee4d8,#fdd1be,#fdcdb9,#fed9c8,#fedfd1,#feddce,#fdd5c3,#fdceba,#fdcfbc,#fdd5c3,#feddce,#fee2d5,#fee7dc,#ffede5)"></i>
<i style="background:linear-gradient(90deg,#fee4d8,#fdd1be,#fdcdb9,#fed9c8,#fedfd1,#fedccd,#fdd4c2,#fdceba,#fdcfbb,#fdd4c2,#fedccd,#fee2d5,#fee7dc,#ffede5)"></i>
<i style="background:linear-gradient(90deg,#fee4d8,#fdd1be,#fdceba,#fed9c8,#fedfd1,#fedccc,#fdd4c2,#fdcdb9,#fdcebb,#fdd4c2,#fedccc,#fee2d5,#fee7dc,#ffede5)"></i>
<i style="background:linear-gradient(90deg,#fee4d8,#fdd1be,#fdceba,#fed9c8,#fedfd0,#fedbcc,#fdd3c1,#fdcdb9,#fdceba,#fdd3c1,#fedbcc,#fee2d4,#fee7dc,#ffede5)"></i>
<i style="background:linear-gradient(90deg,#fee4d8,#fdd1be,#fdceba,#fed8c8,#feded0,#fedbcb,#fdd3c0,#fdcdb8,#fdceba,#fdd3c0,#fedbcb,#fee1d4,#fee7db,#ffede5)"></i>
<i style="background:linear-gradient(90deg,#fee4d8,#fdd1bf,#fdceba,#fed8c8,#feded0,#fedaca,#fdd2c0,#fdccb8,#fdcdb9,#fdd2c0,#fedaca,#fee1d4,#fee7db,#ffede5)"></i>
<i style="background:linear-gradient(90deg,#fee4d8,#fdd1bf,#fdceba,#fed8c8,#fedecf,#fedaca,#fdd2bf,#fdccb7,#fdcdb9,#fdd2bf,#fedaca,#fee1d4,#fee6db,#ffede5)"></i>
<i style="background:linear-gradient(90deg,#fee4d8,#fdd1bf,#fdceba,#fed8c8,#fedecf,#fed9c9,#fdd1be,#fdccb7,#fdcdb8,#fdd1be,#fed9c9,#fee1d3,#fee6db,#ffede5)"></i>
<i style="background:linear-gradient(90deg,#fee4d8,#fdd2bf,#fdceba,#fed8c8,#feddcf,#fed9c8,#fdd1be,#fdcbb6,#fdccb8,#fdd1be,#fed9c8,#fee1d3,#fee6db,#ffede5)"></i>
<i style="background:linear-gradient(90deg,#fee4d8,#fdd2bf,#fdceba,#fed8c7,#feddce,#fed8c8,#fdd0bd,#fdcbb6,#fdccb8,#fdd0bd,#fed8c8,#fee0d3,#fee6db,#ffede5)"></i>
<i style="background:linear-gradient(90deg,#fee4d8,#fdd2bf,#fdcebb,#fed8c7,#feddce,#fed8c7,#fdd0bc,#fdcbb6,#fdccb7,#fdd0bc,#fed8c7,#fee0d2,#fee6db,#ffede5)"></i>
<i style="background:linear-gradient(90deg,#fee4d8,#fdd2bf,#fdcebb,#fed8c7,#feddce,#fed7c6,#fdcfbc,#fdcab5,#fdcbb7,#fdcfbc,#fed7c6,#fee0d2,#fee6db,#ffede5)"></i>
<i style="background:linear-gradient(90deg,#fee4d8,#fdd2bf,#fdcebb,#fed8c7,#fedccd,#fdd7c6,#fdcfbb,#fdcab5,#fdcbb6,#fdcfbb,#fdd7c6,#fee0d2,#fee6da,#ffede5)"></i>
<i style="background:linear-gradient(90deg,#fee4d7,#fdd2bf,#fdcfbb,#fed8c7,#fedccd,#fdd6c5,#fdcebb,#fdcab5,#fdcbb7,#fdcfbb,#fdd6c5,#fee0d1,#fee6da,#ffede5)"></i>
<i style="background:linear-gradient(90deg,#fee4d7,#fdd2c0,#fdcfbb,#fed8c7,#fedbcc,#fdd5c4,#fdceba,#fdcbb6,#fdccb7,#fdcfbb,#fdd6c5,#fedfd1,#fee5da,#ffede5)"></i>
<i style="background:linear-gradient(90deg,#fee4d7,#fdd2c0,#fdcfbc,#fed7c7,#fedbcb,#fdd5c3,#fdceba,#fdcbb6,#fdccb8,#fdcfbc,#fdd6c5,#fedfd1,#fee5da,#ffede5)"></i>
<i style="background:linear-gradient(90deg,#fee4d7,#fdd2c0,#fdcfbc,#fed7c7,#fedacb,#fdd4c3,#fdceba,#fdcbb7,#fdcdb8,#fdcfbc,#fdd6c5,#fedfd0,#fee5d9,#ffede5)"></i>
<i style="background:linear-gradient(90deg,#fee3d7,#fdd2c0,#fdd0bc,#fed7c7,#fedaca,#fdd4c2,#fdceba,#fdccb7,#fdcdb9,#fdd0bc,#fdd6c5,#feded0,#fee5d9,#ffede5)"></i>
<i style="background:linear-gradient(90deg,#fee3d7,#fdd2c0,#fdd0bd,#fed7c6,#fed9c9,#fdd3c1,#fdcdb9,#fdccb8,#fdcdb9,#fdd0bd,#fdd6c5,#fedecf,#fee5d9,#ffede5)"></i>
<i style="background:linear-gradient(90deg,#fee3d7,#fdd3c0,#fdd0bd,#fed7c6,#fed9c9,#fdd3c0,#fdcdb9,#fdcdb8,#fdceba,#fdd0bd,#fdd6c5,#fedecf,#fee5d8,#ffede5)"></i>
<i style="background:linear-gradient(90deg,#fee3d6,#fdd3c0,#fdd0bd,#fed7c6,#fed8c8,#fdd2bf,#fdcdb9,#fdcdb9,#fdcebb,#fdd0bd,#fdd6c5,#feddce,#fee4d8,#ffede5)"></i>
<i style="background:linear-gradient(90deg,#fee3d6,#fdd3c0,#fdd1be,#fed7c6,#fed8c7,#fdd1bf,#fdcdb9,#fdceba,#fdcfbb,#fdd1be,#fdd6c5,#feddce,#fee4d8,#ffede5)"></i>
<i style="background:linear-gradient(90deg,#fee3d6,#fdd3c0,#fdd1be,#fed7c6,#fed7c7,#fdd1be,#fdcdb9,#fdceba,#fdcfbc,#fdd1be,#fdd6c4,#feddcd,#fee4d8,#ffede5)"></i>
<i style="background:linear-gradient(90deg,#fee3d6,#fdd3c1,#fdd1be,#fed7c6,#fed7c6,#fdd0bd,#fdcdb8,#fdcebb,#fdd0bc,#fdd1be,#fdd6c4,#fedccd,#fee4d7,#ffede5)"></i>
<i style="background:linear-gradient(90deg,#fee3d6,#fdd3c1,#fdd1bf,#fdd7c6,#fdd6c5,#fdd0bc,#fdccb8,#fdcfbb,#fdd0bd,#fdd1bf,#fdd6c4,#fedccd,#fee4d7,#ffede5)"></i>
<i style="background:linear-gradient(90deg,#fee3d6,#fdd3c1,#fdd2bf,#fdd7c6,#fdd6c5,#fdcfbb,#fdccb8,#fdcfbc,#fdd0bd,#fdd2bf,#fdd5c4,#fedccc,#fee3d7,#ffede5)"></i>
<i style="background:linear-gradient(90deg,#fee3d6,#fdd3c1,#fdd2bf,#fdd7c5,#fdd5c4,#fdceba,#fdccb7,#fdd0bc,#fdd1be,#fdd2bf,#fdd5c4,#fedbcc,#fee3d7,#ffede5)"></i>
<i style="background:linear-gradient(90deg,#fee2d5,#fdd3c1,#fdd2bf,#fdd6c5,#fdd4c3,#fdccb8,#fdc9b4,#fdcfbc,#fdd1be,#fdd2bf,#fdd5c4,#fedccc,#fee3d7,#ffede4)"></i>
<i style="background:linear-gradient(90deg,#fee2d5,#fdd3c1,#fdd2bf,#fdd6c5,#fdd4c2,#fdcab5,#fdc7b1,#fdcfbb,#fdd1be,#fdd2bf,#fdd5c3,#fedccd,#fee3d7,#ffede4)"></i>
<i style="background:linear-gradient(90deg,#fee2d5,#fdd3c1,#fdd2bf,#fdd6c4,#fdd3c1,#fdc8b3,#fdc5ae,#fdcebb,#fdd1be,#fdd2bf,#fdd5c3,#fedccd,#fee4d7,#ffede4)"></i>
<i style="background:linear-gradient(90deg,#fee2d5,#fdd3c0,#fdd2bf,#fdd5c4,#fdd2bf,#fdc6b0,#fdc2ac,#fdceba,#fdd1be,#fdd2bf,#fdd4c3,#feddcd,#fee4d7,#ffede4)"></i>
<i style="background:linear-gradient(90deg,#fee2d4,#fdd3c0,#fdd2bf,#fdd5c3,#fdd1be,#fdc4ae,#fdc0a9,#fdcdb9,#fdd1be,#fdd2bf,#fdd4c2,#feddce,#fee4d7,#ffece4)"></i>
<i style="background:linear-gradient(90deg,#fee1d4,#fdd3c0,#fdd2bf,#fdd5c3,#fdd0bd,#fdc2ab,#fdbea6,#fdcdb9,#fdd1bf,#fdd2bf,#fdd4c2,#feddce,#fee4d7,#ffece3)"></i>
<i style="background:linear-gradient(90deg,#fee1d4,#fdd2c0,#fdd2bf,#fdd4c2,#fdcfbc,#fdc0a9,#fcbba3,#fdcdb8,#fdd1bf,#fdd2bf,#fdd4c2,#fedecf,#fee4d8,#ffece3)"></i>
<i style="background:linear-gradient(90deg,#fee1d3,#fdd2c0,#fdd2bf,#fdd4c2,#fdcfbb,#fcbea6,#fcb9a0,#fdccb8,#fdd1bf,#fdd2bf,#fdd3c1,#fedecf,#fee4d8,#ffece3)"></i>
<i style="background:linear-gradient(90deg,#fee1d3,#fdd2c0,#fdd2bf,#fdd3c1,#fdceba,#fcbca4,#fcb69d,#fdccb7,#fdd2bf,#fdd2bf,#fdd3c1,#feded0,#fee4d8,#ffece3)"></i>
<i style="background:linear-gradient(90deg,#fee1d3,#fdd2c0,#fdd2bf,#fdd3c1,#fdcdb9,#fcbaa1,#fcb49a,#fdcbb7,#fdd2bf,#fdd2bf,#fdd3c1,#fedfd0,#fee4d8,#ffece3)"></i>
<i style="background:linear-gradient(90deg,#fee0d3,#fdd2c0,#fdd2bf,#fdd3c1,#fdccb8,#fcb89e,#fcb297,#fdcbb6,#fdd2bf,#fdd2bf,#fdd3c0,#fedfd1,#fee4d8,#ffebe2)"></i>
<i style="background:linear-gradient(90deg,#fee0d2,#fdd2c0,#fdd2bf,#fdd2c0,#fdcbb6,#fcb69c,#fcaf94,#fdcab6,#fdd2bf,#fdd2bf,#fdd2c0,#fedfd1,#fee4d8,#ffebe2)"></i>
<i style="background:linear-gradient(90deg,#fee0d2,#fdd2bf,#fdd2bf,#fdd2c0,#fdcab5,#fcb499,#fcad91,#fdcab5,#fdd2bf,#fdd2bf,#fdd2c0,#fee0d2,#fee4d8,#ffebe2)"></i>
<i style="background:linear-gradient(90deg,#fee0d2,#fdd1be,#fdd1be,#fdd1be,#fdc9b4,#fcb397,#fcab8f,#fdcab5,#fdd2c0,#fdd2bf,#fdd2bf,#fee0d2,#fee4d8,#ffebe2)"></i>
<i style="background:linear-gradient(90deg,#fedfd1,#fdcebb,#fdceba,#fdcfbb,#fdc7b1,#fcb196,#fcac90,#fdcbb6,#fdd3c0,#fdd1be,#fdd2bf,#fedfd1,#fee4d8,#ffebe2)"></i>
<i style="background:linear-gradient(90deg,#fedfd0,#fdcbb7,#fdcbb6,#fdcdb9,#fdc5ae,#fcb094,#fcad90,#fdcbb6,#fdd3c1,#fdd1be,#fdd2bf,#fedfd0,#fee4d7,#ffebe2)"></i>
<i style="background:linear-gradient(90deg,#feded0,#fdc8b3,#fdc7b2,#fdcab6,#fdc2ab,#fcaf93,#fcad91,#fdccb7,#fdd4c2,#fdd0bd,#fdd2bf,#feded0,#fee3d7,#ffebe2)"></i>
<i style="background:linear-gradient(90deg,#fedecf,#fdc6b0,#fdc4af,#fdc8b3,#fdc0a9,#fcae92,#fcae92,#fdccb8,#fdd4c2,#fdcfbc,#fdd2bf,#fedecf,#fee3d6,#ffebe2)"></i>
<i style="background:linear-gradient(90deg,#feddce,#fdc3ac,#fdc1ab,#fdc6b0,#fcbea6,#fcac90,#fcae92,#fdcdb9,#fdd5c3,#fdcfbb,#fdd2bf,#feddce,#fee3d6,#ffebe2)"></i>
<i style="background:linear-gradient(90deg,#feddce,#fdc0a9,#fdbea7,#fdc4ad,#fcbca3,#fcab8f,#fcaf93,#fdceba,#fdd5c4,#fdceba,#fdd2bf,#feddce,#fee2d5,#ffebe2)"></i>
<i style="background:linear-gradient(90deg,#fedccd,#fdbda5,#fdbba3,#fdc1aa,#fcb9a0,#fcaa8e,#fcaf94,#fdceba,#fdd6c4,#fdceba,#fdd2bf,#fedccd,#fee2d5,#ffebe2)"></i>
<i style="background:linear-gradient(90deg,#fedccc,#fcbaa2,#fcb89f,#fcbfa7,#fcb79e,#fca98c,#fcb094,#fdcfbb,#fdd6c5,#fdcdb9,#fdd2bf,#fedccc,#fee2d4,#ffebe2)"></i>
<i style="background:linear-gradient(90deg,#fedbcc,#fcb89e,#fcb59b,#fcbda4,#fcb59b,#fca88b,#fcb195,#fdcfbc,#fdd7c6,#fdccb8,#fdd2bf,#fedbcc,#fee1d4,#ffebe2)"></i>
<i style="background:linear-gradient(90deg,#fedbcb,#fcb59b,#fcb297,#fcbba1,#fcb398,#fca689,#fcb196,#fdd0bd,#fed7c6,#fdccb7,#fdd2bf,#fedbcb,#fee1d3,#ffebe2)"></i>
<i style="background:linear-gradient(90deg,#fedaca,#fcb297,#fcaf94,#fcb89f,#fcb195,#fca588,#fcb296,#fdd1be,#fed8c7,#fdcbb6,#fdd2bf,#fedaca,#fee1d3,#ffebe2)"></i>
<i style="background:linear-gradient(90deg,#fedaca,#fcaf94,#fcac90,#fcb69c,#fcae93,#fca487,#fcb297,#fdd1be,#fed8c8,#fdcbb6,#fdd2bf,#fedaca,#fee0d2,#ffebe2)"></i>
<i style="background:linear-gradient(90deg,#fed9c9,#fcac90,#fca98c,#fcb499,#fcac90,#fca385,#fcb398,#fdd2bf,#fed9c8,#fdcab5,#fdd2bf,#fed9c9,#fee0d2,#ffebe2)"></i>
<i style="background:linear-gradient(90deg,#fed9c9,#fcac90,#fca88b,#fcb398,#fcac8f,#fca385,#fcb499,#fdd2bf,#fed8c8,#fdcab5,#fdd2bf,#fed9c9,#fee0d2,#ffebe2)"></i>
<i style="background:linear-gradient(90deg,#fed9c9,#fcad91,#fca98c,#fcb398,#fcac90,#fca487,#fcb59b,#fdd2bf,#fed7c6,#fdcbb6,#fdd2bf,#fed9c9,#fee0d3,#ffebe2)"></i>
<i style="background:linear-gradient(90deg,#fed9c9,#fcae92,#fcaa8d,#fcb398,#fcad91,#fca588,#fcb79d,#fdd2bf,#fdd6c5,#fdcbb7,#fdd2bf,#fed9c9,#fee1d3,#ffebe2)"></i>
<i style="background:linear-gradient(90deg,#fed9c9,#fcaf94,#fcaa8e,#fcb398,#fcad91,#fca78a,#fcb89f,#fdd2bf,#fdd5c3,#fdccb7,#fdd2bf,#fed9c9,#fee1d4,#ffebe2)"></i>
<i style="background:linear-gradient(90deg,#fed9c9,#fcb095,#fcab8f,#fcb398,#fcae92,#fca88b,#fcbaa0,#fdd2bf,#fdd4c2,#fdcdb8,#fdd2bf,#fed9c9,#fee1d4,#ffebe2)"></i>
<i style="background:linear-gradient(90deg,#fed9c9,#fcb296,#fcac90,#fcb398,#fcae93,#fca98c,#fcbba2,#fdd2bf,#fdd3c0,#fdcdb9,#fdd2bf,#fed9c9,#fee2d5,#ffebe2)"></i>
<i style="background:linear-gradient(90deg,#fed9c9,#fcb397,#fcad91,#fcb398,#fcaf93,#fcaa8e,#fcbda4,#fdd2bf,#fdd2bf,#fdceba,#fdd2bf,#fed9c9,#fee2d5,#ffebe2)"></i>
<i style="background:linear-gradient(90deg,#fed9c9,#fcb499,#fcae92,#fcb398,#fcb094,#fcac8f,#fcbea6,#fdd2bf,#fdd1bd,#fdcebb,#fdd2bf,#fed9c9,#fee2d6,#ffebe2)"></i>
<i style="background:linear-gradient(90deg,#fed9c9,#fcb59a,#fcaf93,#fcb398,#fcb094,#fcad91,#fcc0a8,#fdd2bf,#fdcfbc,#fdcfbb,#fdd2bf,#fed9c9,#fee3d6,#ffebe2)"></i>
<i style="background:linear-gradient(90deg,#fed9c9,#fcb69b,#fcb094,#fcb398,#fcb195,#fcae92,#fcc1aa,#fdd2bf,#fdcebb,#fdcfbc,#fdd2bf,#fed9c9,#fee3d6,#ffebe2)"></i>
<i style="background:linear-gradient(90deg,#fed9c9,#fcb79d,#fcb095,#fcb398,#fcb196,#fcaf93,#fdc3ac,#fdd2bf,#fdcdb9,#fdd0bd,#fdd2bf,#fed9c9,#fee3d7,#ffebe2)"></i>
<i style="background:linear-gradient(90deg,#fed9c9,#fcb89e,#fcb196,#fcb398,#fcb296,#fcb095,#fdc4ae,#fdd2bf,#fdccb8,#fdd1be,#fdd2bf,#fed9c9,#fee4d7,#ffebe2)"></i>
<i style="background:linear-gradient(90deg,#fed9c9,#fcb99f,#fcb297,#fcb398,#fcb297,#fcb296,#fdc6af,#fdd2bf,#fdcbb6,#fdd1be,#fdd2bf,#fed9c9,#fee4d8,#ffebe2)"></i>
<i style="background:linear-gradient(90deg,#fed9c9,#fcbba1,#fcb398,#fcb398,#fcb398,#fcb398,#fdc7b1,#fdd2bf,#fdcab5,#fdd2bf,#fdd2bf,#fed9c9,#fee4d8,#ffebe2)"></i>
<i style="background:linear-gradient(90deg,#fed9c9,#fcbba1,#fcb398,#fcb499,#fcb499,#fcb499,#fdc9b3,#fdd1bf,#fdcab5,#fdd2bf,#fdd2c0,#fed9c9,#fee4d8,#ffebe2)"></i>
<i style="background:linear-gradient(90deg,#fed9c9,#fcbba1,#fcb398,#fcb59a,#fcb59a,#fcb59a,#fdcab5,#fdd1be,#fdcab5,#fdd2bf,#fdd3c1,#fed9c9,#fee4d8,#ffebe2)"></i>
<i style="background:linear-gradient(90deg,#fed9c9,#fcbba1,#fcb398,#fcb69c,#fcb69c,#fcb69c,#fdcbb6,#fdd0bd,#fdcab5,#fdd2bf,#fdd3c1,#fed9c9,#fee4d7,#ffebe2)"></i>
<i style="background:linear-gradient(90deg,#fed9c9,#fcbba1,#fcb398,#fcb79d,#fcb79d,#fcb79d,#fdccb8,#fdd0bc,#fdcab5,#fdd2bf,#fdd4c2,#fed9c9,#fee3d7,#ffebe2)"></i>
<i style="background:linear-gradient(90deg,#fed9c9,#fcbba1,#fcb398,#fcb99f,#fcb99f,#fcb99f,#fdceba,#fdcfbc,#fdcab5,#fdd2bf,#fdd4c3,#fed9c9,#fee3d6,#ffebe2)"></i>
<i style="background:linear-gradient(90deg,#fed9c9,#fcbba1,#fcb398,#fcbaa0,#fcbaa0,#fcbaa0,#fdcfbb,#fdcebb,#fdcab5,#fdd2bf,#fdd5c3,#fed9c9,#fee3d6,#ffebe2)"></i>
<i style="background:linear-gradient(90deg,#fed9c9,#fcbba1,#fcb398,#fcbba2,#fcbba2,#fcbba2,#fdd0bd,#fdceba,#fdcab5,#fdd2bf,#fdd5c4,#fed9c9,#fee2d5,#ffebe2)"></i>
<i style="background:linear-gradient(90deg,#fed9c9,#fcbba1,#fcb398,#fcbca3,#fcbca3,#fcbca3,#fdd1bf,#fdcdb9,#fdcab5,#fdd2bf,#fdd6c5,#fed9c9,#fee2d5,#ffebe2)"></i>
<i style="background:linear-gradient(90deg,#fed9c9,#fcbba1,#fcb398,#fcbda4,#fcbda4,#fcbda4,#fdd3c0,#fdcdb8,#fdcab5,#fdd2bf,#fdd6c5,#fed9c9,#fee2d4,#ffebe2)"></i>
<i style="background:linear-gradient(90deg,#fed9c9,#fcbba1,#fcb398,#fcbea6,#fcbea6,#fcbea6,#fdd4c2,#fdccb8,#fdcab5,#fdd2bf,#fed7c6,#fed9c9,#fee1d4,#ffebe2)"></i>
<i style="background:linear-gradient(90deg,#fed9c9,#fcbba1,#fcb398,#fcc0a7,#fcc0a7,#fcc0a7,#fdd5c4,#fdcbb7,#fdcab5,#fdd2bf,#fed7c7,#fed9c9,#fee1d3,#ffebe2)"></i>
<i style="background:linear-gradient(90deg,#fed9c9,#fcbba1,#fcb398,#fcc1a9,#fcc1a9,#fcc1a9,#fdd7c6,#fdcbb6,#fdcab5,#fdd2bf,#fed8c7,#fed9c9,#fee0d3,#ffebe2)"></i>
<i style="background:linear-gradient(90deg,#fed9c9,#fcbba1,#fcb398,#fcc2aa,#fcc2aa,#fcc2aa,#fed8c7,#fdcab5,#fdcab5,#fdd2bf,#fed8c8,#fed9c9,#fee0d2,#ffebe2)"></i>
<i style="background:linear-gradient(90deg,#fed9c9,#fcbba1,#fcb398,#fcc3ab,#fcc3ab,#fcc3ab,#fed9c8,#fdcab5,#fdcab4,#fdd2bf,#fed9c9,#fed9c9,#fee0d2,#ffebe2)"></i>
<i style="background:linear-gradient(90deg,#fed9c9,#fcbba2,#fcb499,#fcc3ac,#fcc3ac,#fcc3ac,#fed8c8,#fdcab5,#fdc9b4,#fdd1be,#fed9c9,#fed9c9,#fee0d2,#ffebe2)"></i>
<i style="background:linear-gradient(90deg,#fed9c9,#fcbca2,#fcb499,#fcc4ad,#fcc4ad,#fcc4ad,#fed8c7,#fdcab5,#fdc9b3,#fdd1be,#fed9c9,#fed9c9,#fee0d2,#ffebe2)"></i>
<i style="background:linear-gradient(90deg,#fed9c9,#fcbda3,#fcb59a,#fdc4ae,#fdc4ae,#fdc4ae,#fed7c6,#fdcab5,#fdc8b2,#fdd0bd,#fedaca,#fed9c9,#fee0d2,#ffebe2)"></i>
<i style="background:linear-gradient(90deg,#fed9c9,#fcbda4,#fcb59a,#fdc5ae,#fdc5ae,#fdc5ae,#fed7c6,#fdcab5,#fdc8b2,#fdcfbc,#fedaca,#fed9c9,#fee0d2,#ffebe2)"></i>
<i style="background:linear-gradient(90deg,#fed9c9,#fcbea5,#fcb69b,#fdc5af,#fdc5af,#fdc5af,#fdd6c5,#fdcab5,#fdc7b1,#fdcfbb,#fedaca,#fed9c9,#fee0d2,#ffebe2)"></i>
<i style="background:linear-gradient(90deg,#fed9c9,#fcbea5,#fcb69c,#fdc6b0,#fdc6b0,#fdc6b0,#fdd6c4,#fdcab5,#fdc7b0,#fdcebb,#fedacb,#fed9c9,#fee0d2,#ffebe2)"></i>
<i style="background:linear-gradient(90deg,#fed9c9,#fcbfa6,#fcb79c,#fdc6b0,#fdc6b0,#fdc6b0,#fdd5c4,#fdcab5,#fdc6b0,#fdceba,#fedbcb,#fed9c9,#fee0d2,#ffebe2)"></i>
<i style="background:linear-gradient(90deg,#fed9c9,#fcc0a7,#fcb89d,#fdc7b1,#fdc7b1,#fdc7b1,#fdd5c3,#fdcab5,#fdc6af,#fdcdb9,#fedbcb,#fed9c9,#fee0d2,#ffebe2)"></i>
<i style="background:linear-gradient(90deg,#fed9c9,#fcc0a8,#fcb89e,#fdc7b2,#fdc7b2,#fdc7b2,#fdd4c2,#fdcab5,#fdc5ae,#fdcdb8,#fedbcc,#fed9c9,#fee0d2,#ffebe2)"></i>
<i style="background:linear-gradient(90deg,#fed9c9,#fcc1a9,#fcb99e,#fdc8b2,#fdc8b2,#fdc8b2,#fdd4c2,#fdcab5,#fdc5ae,#fdccb7,#fedbcc,#fed9c9,#fee0d2,#ffebe2)"></i>
<i style="background:linear-gradient(90deg,#fed9c9,#fcc1a9,#fcb99f,#fdc8b3,#fdc8b3,#fdc8b3,#fdd3c1,#fdcab5,#fcc4ad,#fdcbb7,#fedccc,#fed9c9,#fee0d2,#ffebe2)"></i>
<i style="background:linear-gradient(90deg,#fed9c9,#fcc2aa,#fcbaa0,#fdc9b4,#fdc9b4,#fdc9b4,#fdd3c0,#fdcab5,#fcc4ac,#fdcbb6,#fedccd,#fed9c9,#fee0d2,#ffebe2)"></i>
<i style="background:linear-gradient(90deg,#fed9c9,#fcc2ab,#fcbaa0,#fdcab4,#fdcab4,#fdcab4,#fdd2c0,#fdcab5,#fcc3ac,#fdcab5,#fedccd,#fed9c9,#fee0d2,#ffebe2)"></i>
<i style="background:linear-gradient(90deg,#fed9c8,#fcc3ab,#fcbba1,#fdcab5,#fdcab5,#fdcab5,#fdd2bf,#fdcab5,#fcc3ac,#fdcab4,#fedccc,#fed8c8,#fee0d2,#ffebe2)"></i>
<i style="background:linear-gradient(90deg,#fed8c8,#fcc3ab,#fcbca2,#fdcab5,#fdcab5,#fdcab5,#fdd1bf,#fdcbb7,#fdc5ae,#fdc9b4,#fedaca,#fed7c6,#fedfd1,#ffebe1)"></i>
<i style="background:linear-gradient(90deg,#fed8c7,#fcc3ab,#fcbca3,#fdcab5,#fdcab5,#fdcab5,#fdd1be,#fdccb8,#fdc6b0,#fdc9b3,#fed8c7,#fdd6c5,#fedfd0,#ffebe1)"></i>
<i style="background:linear-gradient(90deg,#fed7c6,#fcc3ab,#fcbda3,#fdcab5,#fdcab5,#fdcab5,#fdd1be,#fdceba,#fdc8b2,#fdc8b2,#fdd6c5,#fdd5c4,#feded0,#feeae1)"></i>
<i style="background:linear-gradient(90deg,#fdd7c6,#fcc3ab,#fcbda4,#fdcab5,#fdcab5,#fdcab5,#fdd0bd,#fdcfbb,#fdc9b4,#fdc8b2,#fdd4c2,#fdd4c2,#fedecf,#feeae1)"></i>
<i style="background:linear-gradient(90deg,#fdd6c5,#fcc3ab,#fcbea5,#fdcab5,#fdcab5,#fdcab5,#fdd0bd,#fdd0bd,#fdcbb6,#fdc7b1,#fdd2c0,#fdd3c1,#feddce,#feeae0)"></i>
<i style="background:linear-gradient(90deg,#fdd6c4,#fcc3ab,#fcbea6,#fdcab5,#fdcab5,#fdcab5,#fdd0bc,#fdd1be,#fdccb8,#fdc7b0,#fdd0bd,#fdd2bf,#feddcd,#feeae0)"></i>
<i style="background:linear-gradient(90deg,#fdd5c4,#fcc3ab,#fcbfa6,#fdcab5,#fdcab5,#fdcab5,#fdcfbc,#fdd2bf,#fdceba,#fdc6b0,#fdcfbb,#fdd1be,#fedccd,#feeae0)"></i>
<i style="background:linear-gradient(90deg,#fdd5c3,#fcc3ab,#fcc0a7,#fdcab5,#fdcab5,#fdcab5,#fdcfbc,#fdd3c1,#fdcfbb,#fdc6af,#fdcdb8,#fdd0bc,#fedccc,#fee9e0)"></i>
<i style="background:linear-gradient(90deg,#fdd4c2,#fcc3ab,#fcc0a8,#fdcab5,#fdcab5,#fdcab5,#fdcfbb,#fdd4c2,#fdd0bd,#fdc5ae,#fdcbb6,#fdcfbb,#fedbcb,#fee9df)"></i>
<i style="background:linear-gradient(90deg,#fdd4c2,#fcc3ab,#fcc1a9,#fdcab5,#fdcab5,#fdcab5,#fdcebb,#fdd5c4,#fdd2bf,#fdc5ae,#fdc9b4,#fdcdb9,#fedbcb,#fee9df)"></i>
<i style="background:linear-gradient(90deg,#fdd3c1,#fcc3ab,#fcc1aa,#fdcab5,#fdcab5,#fdcab5,#fdceba,#fdd6c5,#fdd3c1,#fcc4ad,#fdc7b1,#fdccb8,#fedaca,#fee9df)"></i>
<i style="background:linear-gradient(90deg,#fdd3c0,#fcc3ab,#fcc2aa,#fdcab5,#fdcab5,#fdcab5,#fdceba,#fed7c7,#fdd5c3,#fcc3ac,#fdc5af,#fdcbb6,#fedac9,#fee9de)"></i>
<i style="background:linear-gradient(90deg,#fdd2c0,#fcc3ab,#fcc3ab,#fdcab5,#fdcab5,#fdcab5,#fdcdb9,#fed9c8,#fdd6c5,#fcc3ac,#fcc3ac,#fdcab5,#fed9c9,#fee9de)"></i>
<i style="background:linear-gradient(90deg,#fdd2bf,#fcc2aa,#fcc2ab,#fdc9b4,#fdc9b4,#fdc9b4,#fdcdb9,#fed8c8,#fdd6c4,#fcc2ab,#fcc2aa,#fdc9b4,#fed9c8,#fee8de)"></i>
<i style="background:linear-gradient(90deg,#fdd1be,#fcc0a8,#fcc2aa,#fdc9b3,#fdc9b3,#fdc9b3,#fdccb7,#fed7c6,#fdd4c2,#fcc2aa,#fcc1a9,#fdc9b3,#fed8c7,#fee8de)"></i>
<i style="background:linear-gradient(90deg,#fdd0bd,#fcbea6,#fcc1a9,#fdc8b3,#fdc8b3,#fdc8b3,#fdcbb6,#fdd6c5,#fdd3c0,#fcc1a9,#fcc0a8,#fdc8b3,#fed8c7,#fee8de)"></i>
<i style="background:linear-gradient(90deg,#fdd0bc,#fcbca4,#fcc1a8,#fdc8b2,#fdc8b2,#fdc8b2,#fdcab5,#fdd5c3,#fdd1be,#fcc1a8,#fcbfa6,#fdc8b2,#fed7c6,#fee8de)"></i>
<i style="background:linear-gradient(90deg,#fdcfbc,#fcbba2,#fcc0a8,#fdc7b1,#fdc7b1,#fdc7b1,#fdcab4,#fdd4c2,#fdd0bd,#fcc0a8,#fcbda5,#fdc7b1,#fdd7c5,#fee8de)"></i>
<i style="background:linear-gradient(90deg,#fdcfbb,#fcb9a0,#fcbfa7,#fdc7b1,#fdc7b1,#fdc7b1,#fdc9b3,#fdd3c0,#fdcebb,#fcbfa7,#fcbca3,#fdc7b1,#fdd6c5,#fee8de)"></i>
<i style="background:linear-gradient(90deg,#fdceba,#fcb79e,#fcbfa6,#fdc6b0,#fdc6b0,#fdc6b0,#fdc8b2,#fdd2bf,#fdcdb9,#fcbfa6,#fcbba2,#fdc6b0,#fdd5c4,#fee8de)"></i>
<i style="background:linear-gradient(90deg,#fdcdb9,#fcb69b,#fcbea5,#fdc6af,#fdc6af,#fdc6af,#fdc7b1,#fdd0bd,#fdccb7,#fcbea5,#fcbaa0,#fdc6af,#fdd5c3,#fee8de)"></i>
<i style="background:linear-gradient(90deg,#fdcdb9,#fcb499,#fcbea5,#fdc5af,#fdc5af,#fdc5af,#fdc7b0,#fdcfbc,#fdcab5,#fcbea5,#fcb99f,#fdc5af,#fdd4c3,#fee8de)"></i>
<i style="background:linear-gradient(90deg,#fdccb8,#fcb297,#fcbda4,#fdc5ae,#fdc5ae,#fdc5ae,#fdc6af,#fdceba,#fdc9b3,#fcbda4,#fcb89e,#fdc5ae,#fdd4c2,#fee8de)"></i>
<i style="background:linear-gradient(90deg,#fdccb7,#fcb095,#fcbca3,#fdc4ad,#fdc4ad,#fdc4ad,#fdc5ae,#fdcdb9,#fdc7b1,#fcbca3,#fcb69c,#fdc4ad,#fdd3c1,#fee8de)"></i>
<i style="background:linear-gradient(90deg,#fdcbb6,#fcaf93,#fcbca2,#fcc4ad,#fcc4ad,#fcc4ad,#fdc4ad,#fdccb8,#fdc6af,#fcbca2,#fcb59b,#fcc4ad,#fdd3c1,#fee8de)"></i>
<i style="background:linear-gradient(90deg,#fdcab5,#fcad91,#fcbba1,#fcc3ac,#fcc3ac,#fcc3ac,#fcc4ac,#fdcbb6,#fdc4ad,#fcbba1,#fcb499,#fcc3ac,#fdd2c0,#fee8de)"></i>
<i style="background:linear-gradient(90deg,#fdcab5,#fcab8f,#fcbba1,#fcc3ab,#fcc3ab,#fcc3ab,#fcc3ab,#fdcab5,#fcc3ab,#fcbba1,#fcb398,#fcc3ab,#fdd2bf,#fee8de)"></i>
<i style="background:linear-gradient(90deg,#fdc9b3,#fcab8e,#fcbaa0,#fcc2ab,#fcc3ab,#fcc3ab,#fcc3ab,#fdc9b3,#fcc2ab,#fcbba1,#fcb498,#fcc4ad,#fdd1bf,#fee8de)"></i>
<i style="background:linear-gradient(90deg,#fdc8b2,#fcaa8d,#fcba9f,#fcc2aa,#fcc3ab,#fcc3ab,#fcc3ab,#fdc8b2,#fcc2aa,#fcbba1,#fcb499,#fdc5ae,#fdd1be,#fee8de)"></i>
<i style="background:linear-gradient(90deg,#fdc7b0,#fca98d,#fcb99f,#fcc1a9,#fcc3ab,#fcc3ab,#fcc3ab,#fdc7b0,#fcc1a9,#fcbba1,#fcb59a,#fdc6b0,#fdd0bd,#fee8dd)"></i>
<i style="background:linear-gradient(90deg,#fdc5af,#fca98c,#fcb89e,#fcc0a8,#fcc3ab,#fcc3ab,#fcc3ab,#fdc5af,#fcc0a8,#fcbba1,#fcb59a,#fdc7b1,#fdd0bc,#fee8dd)"></i>
<i style="background:linear-gradient(90deg,#fdc4ad,#fca88b,#fcb89d,#fcc0a7,#fcc3ab,#fcc3ab,#fcc3ab,#fdc4ad,#fcc0a7,#fcbba1,#fcb69b,#fdc8b3,#fdcfbb,#fee8dd)"></i>
<i style="background:linear-gradient(90deg,#fcc3ac,#fca78a,#fcb79d,#fcbfa7,#fcc3ab,#fcc3ab,#fcc3ab,#fcc3ac,#fcbfa7,#fcbba1,#fcb69c,#fdc9b4,#fdcebb,#fee7dc)"></i>
<i style="background:linear-gradient(90deg,#fcc2aa,#fca78a,#fcb79c,#fcbfa6,#fcc3ab,#fcc3ab,#fcc3ab,#fcc2aa,#fcbfa6,#fcbba1,#fcb79c,#fdcab6,#fdceba,#fee7dc)"></i>
<i style="background:linear-gradient(90deg,#fcc1a9,#fca689,#fcb69b,#fcbea5,#fcc3ab,#fcc3ab,#fcc3ab,#fcc1a9,#fcbea5,#fcbba1,#fcb79d,#fdccb7,#fdcdb9,#fee7dc)"></i>
<i style="background:linear-gradient(90deg,#fcc0a8,#fca588,#fcb69b,#fcbea4,#fcc3ab,#fcc3ab,#fcc3ab,#fcc0a8,#fcbea4,#fcbba1,#fcb89e,#fdcdb8,#fdcdb8,#fee7dc)"></i>
<i style="background:linear-gradient(90deg,#fcbfa6,#fca587,#fcb59a,#fcbda4,#fcc3ab,#fcc3ab,#fcc3ab,#fcbfa6,#fcbda4,#fcbba1,#fcb99e,#fdceba,#fdccb8,#fee7db)"></i>
<i style="background:linear-gradient(90deg,#fcbea5,#fca487,#fcb59a,#fcbca3,#fcc3ab,#fcc3ab,#fcc3ab,#fcbea5,#fcbca3,#fcbba1,#fcb99f,#fdcfbb,#fdcbb7,#fee6db)"></i>
<i style="background:linear-gradient(90deg,#fcbda3,#fca386,#fcb499,#fcbca2,#fcc3ab,#fcc3ab,#fcc3ab,#fcbda3,#fcbca2,#fcbba1,#fcba9f,#fdd0bd,#fdcbb6,#fee6db)"></i>
<i style="background:linear-gradient(90deg,#fcbca2,#fca385,#fcb398,#fcbba1,#fcc3ab,#fcc3ab,#fcc3ab,#fcbca2,#fcbba1,#fcbba1,#fcbaa0,#fdd1be,#fdcab5,#fee6db)"></i>
<i style="background:linear-gradient(90deg,#fcbba1,#fca285,#fcb398,#fcbba0,#fcc3ab,#fcc3ab,#fcc3ab,#fcbba0,#fcbaa0,#fcbaa0,#fcbaa0,#fdd1bf,#fdc9b4,#fee6da)"></i>
<i style="background:linear-gradient(90deg,#fcbba1,#fca386,#fcb297,#fcbaa0,#fcc2aa,#fcc2aa,#fcc1aa,#fcbaa0,#fcb99f,#fcb99f,#fcb99f,#fdcebb,#fdc8b2,#fee6da)"></i>
<i style="background:linear-gradient(90deg,#fcbba1,#fca486,#fcb296,#fcb99f,#fcc2aa,#fcc2aa,#fcc0a8,#fcb99f,#fcb89e,#fcb89e,#fcb89e,#fdccb7,#fdc6b0,#fee6da)"></i>
<i style="background:linear-gradient(90deg,#fcbba1,#fca487,#fcb196,#fcb99f,#fcc1a9,#fcc1a9,#fcbfa7,#fcb99f,#fcb79c,#fcb79c,#fcb79c,#fdc9b4,#fdc4ae,#fee6da)"></i>
<i style="background:linear-gradient(90deg,#fcbba1,#fca588,#fcb195,#fcb89e,#fcc0a8,#fcc0a8,#fcbea5,#fcb89e,#fcb69b,#fcb69b,#fcb69b,#fdc6b0,#fdc3ac,#fee5da)"></i>
<i style="background:linear-gradient(90deg,#fcbba1,#fca689,#fcb094,#fcb89d,#fcc0a7,#fcc0a7,#fcbda4,#fcb89d,#fcb59a,#fcb59a,#fcb59a,#fdc3ad,#fcc1aa,#fee5da)"></i>
<i style="background:linear-gradient(90deg,#fcbba1,#fca689,#fcaf94,#fcb79d,#fcbfa6,#fcbfa6,#fcbca2,#fcb79d,#fcb499,#fcb499,#fcb499,#fdc0a9,#fcbfa8,#fee5d9)"></i>
<i style="background:linear-gradient(90deg,#fcbba1,#fca78a,#fcaf93,#fcb79c,#fcbfa6,#fcbfa6,#fcbaa1,#fcb79c,#fcb397,#fcb397,#fcb397,#fdbea6,#fcbea5,#fee5d9)"></i>
<i style="background:linear-gradient(90deg,#fcbba1,#fca88b,#fcae92,#fcb69b,#fcbea5,#fcbea5,#fcb9a0,#fcb69b,#fcb196,#fcb196,#fcb196,#fcbba2,#fcbca3,#fee5d9)"></i>
<i style="background:linear-gradient(90deg,#fcbba1,#fca88c,#fcae92,#fcb59b,#fcbda4,#fcbda4,#fcb89e,#fcb59b,#fcb095,#fcb095,#fcb095,#fcb89f,#fcbaa1,#fee5d9)"></i>
<i style="background:linear-gradient(90deg,#fcbba1,#fca98c,#fcad91,#fcb59a,#fcbda3,#fcbda3,#fcb79d,#fcb59a,#fcaf93,#fcaf93,#fcaf93,#fcb59b,#fcb99f,#fee5d9)"></i>
<i style="background:linear-gradient(90deg,#fcbba1,#fcaa8d,#fcad91,#fcb499,#fcbca3,#fcbca3,#fcb69b,#fcb499,#fcae92,#fcae92,#fcae92,#fcb298,#fcb79d,#fee5d9)"></i>
<i style="background:linear-gradient(90deg,#fcbba1,#fcaa8e,#fcac90,#fcb499,#fcbca2,#fcbca2,#fcb59a,#fcb499,#fcad91,#fcad91,#fcad91,#fcaf94,#fcb59b,#fee5d9)"></i>
<i style="background:linear-gradient(90deg,#fcbba1,#fcab8f,#fcac8f,#fcb398,#fcbba1,#fcbba1,#fcb498,#fcb398,#fcac90,#fcac90,#fcac90,#fcad91,#fcb499,#fee5d9)"></i>
<i style="background:linear-gradient(90deg,#fcbaa0,#fcab8e,#fcab8e,#fcb297,#fcbaa0,#fcbaa0,#fcb297,#fcb196,#fca98d,#fca98d,#fca98c,#fca98d,#fcb297,#fee4d8)"></i>
<i style="background:linear-gradient(90deg,#fcbaa0,#fca98d,#fca98d,#fcb095,#fcb99f,#fcb89e,#fcb095,#fcae92,#fca689,#fca588,#fca487,#fca689,#fcb095,#fee4d8)"></i>
<i style="background:linear-gradient(90deg,#fcb99f,#fca88b,#fca88b,#fcaf93,#fcb89d,#fcb69c,#fcaf93,#fcaa8e,#fca285,#fca184,#fc9f82,#fca285,#fcaf93,#fee4d7)"></i>
<i style="background:linear-gradient(90deg,#fcb99e,#fca78a,#fca78a,#fcad91,#fcb79c,#fcb499,#fcad91,#fca78a,#fc9f81,#fc9d7f,#fc9a7d,#fc9f81,#fcad91,#fee3d7)"></i>
<i style="background:linear-gradient(90deg,#fcb89e,#fca689,#fca689,#fcab8f,#fcb69b,#fcb397,#fcab8f,#fca386,#fc9b7d,#fc997b,#fc9678,#fc9b7d,#fcab8f,#fee3d6)"></i>
<i style="background:linear-gradient(90deg,#fcb89d,#fca587,#fca587,#fca98d,#fcb49a,#fcb195,#fca98d,#fca082,#fc977a,#fc9477,#fc9173,#fc977a,#fca98d,#fee3d6)"></i>
<i style="background:linear-gradient(90deg,#fcb79c,#fca386,#fca386,#fca78b,#fcb398,#fcaf93,#fca78b,#fc9c7f,#fc9476,#fc9072,#fb8c6e,#fc9476,#fca78b,#fee2d5)"></i>
<i style="background:linear-gradient(90deg,#fcb69c,#fca284,#fca284,#fca688,#fcb297,#fcad91,#fca688,#fc987b,#fc9072,#fc8c6e,#fb8769,#fc9072,#fca688,#fee2d5)"></i>
<i style="background:linear-gradient(90deg,#fcb69b,#fca183,#fca183,#fca486,#fcb196,#fcac8f,#fca486,#fc9577,#fc8d6e,#fc8869,#fb8264,#fc8d6e,#fca486,#fee2d4)"></i>
<i style="background:linear-gradient(90deg,#fcb59b,#fca082,#fca082,#fca284,#fcb094,#fcaa8d,#fca284,#fc9173,#fc896a,#fb8465,#fb7e5f,#fc896a,#fca284,#fee1d4)"></i>
<i style="background:linear-gradient(90deg,#fcb59a,#fc9e80,#fc9e80,#fca082,#fcaf93,#fca88b,#fca082,#fc8e6f,#fc8566,#fb8060,#fb795a,#fc8566,#fca082,#fee1d3)"></i>
<i style="background:linear-gradient(90deg,#fcb499,#fc9d7f,#fc9d7f,#fc9e80,#fcae92,#fca689,#fc9e80,#fc8a6b,#fb8262,#fb7b5c,#fb7455,#fb8262,#fc9e80,#fee1d3)"></i>
<i style="background:linear-gradient(90deg,#fcb499,#fc9c7d,#fc9c7d,#fc9d7e,#fcad91,#fca487,#fc9d7e,#fc8767,#fb7e5e,#fb7758,#fb6f50,#fb7e5e,#fc9d7e,#fee0d2)"></i>
<i style="background:linear-gradient(90deg,#fcb398,#fc9b7c,#fc9b7c,#fc9b7c,#fcac8f,#fca385,#fc9b7c,#fc8363,#fb7b5b,#fb7353,#fb6a4b,#fb7b5b,#fc9b7c,#fee0d2)"></i>
<i style="background:linear-gradient(90deg,#fcb296,#fc9a7b,#fc997a,#fc997a,#fcac8f,#fca183,#fc997a,#fc8262,#fb7a5a,#fb7252,#fa6648,#fb7959,#fc9a7b,#fedfd1)"></i>
<i style="background:linear-gradient(90deg,#fcb094,#fc9879,#fc9677,#fc9779,#fcac90,#fc9f81,#fc9779,#fc8060,#fb7a5a,#fb7252,#f86245,#fb7858,#fc9879,#fedfd1)"></i>
<i style="background:linear-gradient(90deg,#fcae92,#fc9778,#fc9475,#fc9677,#fcad91,#fc9d7f,#fc9677,#fc7f5f,#fb7a5a,#fb7252,#f75e43,#fb7656,#fc9778,#feded0)"></i>
<i style="background:linear-gradient(90deg,#fcac90,#fc9677,#fc9272,#fc9475,#fcad91,#fc9c7d,#fc9475,#fb7e5e,#fb7a5a,#fb7252,#f65b41,#fb7555,#fc9677,#fedecf)"></i>
<i style="background:linear-gradient(90deg,#fcaa8e,#fc9576,#fc8f70,#fc9273,#fcae92,#fc9a7b,#fc9273,#fb7d5d,#fb7a5a,#fb7252,#f4573e,#fb7454,#fc9576,#feddcf)"></i>
<i style="background:linear-gradient(90deg,#fca98c,#fc9474,#fc8d6d,#fc9071,#fcae93,#fc9879,#fc9071,#fb7c5c,#fb7a5a,#fb7252,#f3533c,#fb7353,#fc9474,#feddce)"></i>
<i style="background:linear-gradient(90deg,#fca78a,#fc9273,#fc8a6b,#fc8f6f,#fcaf93,#fc9678,#fc8f6f,#fb7a5a,#fb7a5a,#fb7252,#f14f39,#fb7252,#fc9273,#fedccd)"></i>
<i style="background:linear-gradient(90deg,#fca588,#fc9172,#fc8868,#fc8d6d,#fcb094,#fc9576,#fc8d6d,#fb7959,#fb7a5a,#fb7252,#f04b37,#fb7051,#fc9172,#fedccd)"></i>
<i style="background:linear-gradient(90deg,#fca386,#fc9070,#fc8666,#fc8b6c,#fcb095,#fc9374,#fc8b6c,#fb7858,#fb7a5a,#fb7252,#ee4735,#fb6f4f,#fc9070,#fedbcc)"></i>
<i style="background:linear-gradient(90deg,#fca284,#fc8f6f,#fc8364,#fc896a,#fcb195,#fc9172,#fc896a,#fb7757,#fb7a5a,#fb7252,#ed4332,#fb6e4e,#fc8f6f,#fedbcb)"></i>
<i style="background:linear-gradient(90deg,#fca082,#fc8e6e,#fc8161,#fc8868,#fcb196,#fc8f70,#fc8868,#fb7656,#fb7a5a,#fb7252,#ec3f30,#fb6d4d,#fc8e6e,#fedacb)"></i>
<i style="background:linear-gradient(90deg,#fc9e80,#fc8c6d,#fb7e5f,#fc8666,#fcb297,#fc8d6e,#fc8666,#fb7454,#fb7a5a,#fb7252,#ea3b2e,#fb6c4c,#fc8c6d,#fedaca)"></i>
<i style="background:linear-gradient(90deg,#fc9c7e,#fc8b6b,#fb7c5c,#fc8464,#fcb297,#fc8c6c,#fc8464,#fb7353,#fb7a5a,#fb7252,#e9372b,#fb6a4b,#fc8b6b,#fed9c9)"></i>
<i style="background:linear-gradient(90deg,#fc9a7c,#fc8a6a,#fb7a5a,#fc8262,#fcb398,#fc8a6a,#fc8262,#fb7252,#fb7a5a,#fb7252,#e83429,#fb6949,#fc8a6a,#fed9c9)"></i>
<i style="background:linear-gradient(90deg,#fc9879,#fb8667,#fb7858,#fb8060,#fcb094,#fc8868,#fb7d5e,#fb7051,#fb7858,#fb7151,#e73329,#fa6748,#fc8969,#fed9c9)"></i>
<i style="background:linear-gradient(90deg,#fc9677,#fb8364,#fb7757,#fb7d5e,#fcad91,#fc8666,#fa785a,#fa6e4f,#fb7757,#fb7050,#e73328,#fa6547,#fc8868,#fed9c9)"></i>
<i style="background:linear-gradient(90deg,#fc9374,#fb7f60,#fb7656,#fb7b5c,#fcaa8e,#fc8565,#f97356,#fa6c4e,#fb7656,#fb6e4f,#e63228,#f96346,#fc8666,#fed9c9)"></i>
<i style="background:linear-gradient(90deg,#fc9172,#fa7b5d,#fb7555,#fb7859,#fca78a,#fc8363,#f86d52,#fa6a4c,#fb7555,#fa6d4e,#e63228,#f96144,#fc8565,#fed9c9)"></i>
<i style="background:linear-gradient(90deg,#fc8e6f,#fa785a,#fb7454,#fa7657,#fca487,#fc8161,#f7684e,#f9684b,#fb7454,#fa6c4d,#e53128,#f85f43,#fc8464,#fed9c9)"></i>
<i style="background:linear-gradient(90deg,#fc8c6d,#f97457,#fb7253,#fa7455,#fca184,#fc8060,#f6634a,#f96649,#fb7253,#fa6a4c,#e53128,#f85d42,#fc8363,#fed9c9)"></i>
<i style="background:linear-gradient(90deg,#fc8a6a,#f97054,#fb7151,#fa7153,#fc9e80,#fb7e5e,#f55e46,#f96548,#fb7151,#fa694b,#e43027,#f75b40,#fc8262,#fed9c9)"></i>
<i style="background:linear-gradient(90deg,#fc8768,#f96d50,#fb7050,#fa6f51,#fc9b7d,#fb7c5c,#f45842,#f86347,#fb7050,#fa684a,#e43027,#f7593f,#fc8060,#fed9c9)"></i>
<i style="background:linear-gradient(90deg,#fc8565,#f8694d,#fb6f4f,#fa6c4e,#fc987a,#fb7a5a,#f3533e,#f86145,#fb6f4f,#f96649,#e32f27,#f6573e,#fc7f5f,#fed9c9)"></i>
<i style="background:linear-gradient(90deg,#fc8363,#f8654a,#fb6e4e,#f96a4c,#fc9576,#fb7959,#f24e3a,#f85f44,#fb6e4e,#f96548,#e32f27,#f6553c,#fc7e5e,#fed9c9)"></i>
<i style="background:linear-gradient(90deg,#fc8060,#f76147,#fb6c4d,#f9674a,#fc9273,#fb7757,#f14836,#f75d42,#fb6c4d,#f96447,#e22e27,#f5533b,#fb7d5d,#fed9c9)"></i>
<i style="background:linear-gradient(90deg,#fb7e5e,#f75e44,#fb6b4c,#f96548,#fc8f70,#fb7555,#f04332,#f75b41,#fb6b4c,#f96346,#e22e26,#f5513a,#fb7c5c,#fed9c9)"></i>
<i style="background:linear-gradient(90deg,#fb7b5b,#f75a40,#fb6a4a,#f96245,#fc8c6c,#fb7353,#ef3e2e,#f7593f,#fb6a4a,#f96145,#e12d26,#f44f39,#fb7b5b,#fed9c9)"></i>
<i style="background:linear-gradient(90deg,#fb7959,#f5563d,#fa6849,#f86044,#fc8969,#fb7252,#ee3a2c,#f5563d,#fa6849,#f85f43,#e12d26,#f34c37,#fb7959,#fed9c9)"></i>
<i style="background:linear-gradient(90deg,#fb7758,#f1513b,#f76246,#f85f43,#fb8566,#fb7051,#ee3a2b,#f1513b,#f86346,#f75c41,#e12d26,#f04835,#fb7556,#fed9c8)"></i>
<i style="background:linear-gradient(90deg,#fb7556,#ec4c38,#f45d43,#f85d42,#fb8263,#fb6f50,#ed392b,#ec4c38,#f55e43,#f6593f,#e12d26,#ed4433,#fa7254,#fed9c8)"></i>
<i style="background:linear-gradient(90deg,#fb7454,#e84735,#f15740,#f75c41,#fa7e5f,#fb6e4f,#ed392b,#e84735,#f35940,#f4563d,#e12d26,#ea4031,#fa6f52,#fed8c8)"></i>
<i style="background:linear-gradient(90deg,#fb7253,#e44333,#ee523d,#f75a40,#fa7a5c,#fa6d4e,#ec382b,#e44333,#f0543d,#f3523b,#e12d26,#e73d2f,#f96c4f,#fed8c8)"></i>
<i style="background:linear-gradient(90deg,#fa7051,#e03e30,#eb4d39,#f7593f,#fa7759,#fa6b4d,#ec382b,#e03e30,#ee4f3b,#f24f39,#e12d26,#e4392d,#f8694d,#fed8c7)"></i>
<i style="background:linear-gradient(90deg,#fa6e50,#db392e,#e84736,#f6583e,#f97356,#fa6a4c,#eb372a,#db392e,#eb4a38,#f14c37,#e12d26,#e1352b,#f8654a,#fed8c7)"></i>
<i style="background:linear-gradient(90deg,#fa6c4e,#d7342b,#e54233,#f6563d,#f96f53,#fa694b,#eb372a,#d7342b,#e94535,#ef4936,#e12d26,#de3129,#f76248,#fed8c7)"></i>
<i style="background:linear-gradient(90deg,#fa6a4d,#d32f28,#e23c30,#f6553c,#f86c50,#fa674a,#ea362a,#d32f28,#e64032,#ee4534,#e12d26,#db2d27,#f75f45,#fed7c7)"></i>
<i style="background:linear-gradient(90deg,#f9694b,#cf2a26,#df372d,#f5533c,#f8684c,#f96648,#ea362a,#cf2a26,#e43b2f,#ed4232,#e12d26,#d82925,#f65c43,#fed7c7)"></i>
<i style="background:linear-gradient(90deg,#f96749,#ca2523,#dc312a,#f5523b,#f86449,#f96547,#e9352a,#ca2523,#e1362c,#ec3f30,#e12d26,#d42524,#f65840,#fed7c6)"></i>
<i style="background:linear-gradient(90deg,#f96548,#c62020,#d92c27,#f5513a,#f76146,#f96446,#e93529,#c62020,#df312a,#eb3c2e,#e12d26,#d12122,#f5553e,#fed7c6)"></i>
<i style="background:linear-gradient(90deg,#f96346,#c21b1e,#d62724,#f44f39,#f75d43,#f96245,#e83429,#c21b1e,#dc2d27,#e9382c,#e12d26,#ce1d20,#f4523b,#fed7c6)"></i>
<i style="background:linear-gradient(90deg,#f96145,#be171b,#d32121,#f44e38,#f65940,#f96144,#e83429,#be171b,#da2824,#e8352a,#e12d26,#cb191e,#f44f39,#fdd7c6)"></i>
<i style="background:linear-gradient(90deg,#f86044,#bc141a,#d11e20,#f44d37,#f6583e,#f96044,#e83429,#ba1419,#d72522,#e53228,#de2c25,#c6171c,#f34c37,#fdd7c6)"></i>
<i style="background:linear-gradient(90deg,#f85f43,#bc141a,#d01e1f,#f34c37,#f6583e,#f96044,#e83429,#b61319,#d32321,#e13027,#da2a24,#c0151b,#f24a36,#fdd7c6)"></i>
<i style="background:linear-gradient(90deg,#f85f43,#bc141a,#ce1d1f,#f34c37,#f6583e,#f96044,#e83429,#b31218,#cf2120,#dc2d25,#d52723,#ba141a,#f14835,#fdd7c6)"></i>
<i style="background:linear-gradient(90deg,#f85e42,#bc141a,#cc1c1e,#f34b36,#f6583e,#f96044,#e83429,#af1118,#cb201f,#d82b24,#d12522,#b31219,#f14734,#fdd7c6)"></i>
<i style="background:linear-gradient(90deg,#f85d42,#bc141a,#cb1b1e,#f34a36,#f6583e,#f96044,#e83429,#ac1117,#c71e1e,#d42823,#cc2320,#ad1118,#f04533,#fdd7c6)"></i>
<i style="background:linear-gradient(90deg,#f85d42,#bc141a,#c91b1d,#f34a35,#f6583e,#f96044,#e83429,#a81017,#c31c1d,#d02621,#c8211f,#a70f17,#ef4332,#fdd7c6)"></i>
<i style="background:linear-gradient(90deg,#f75c41,#bc141a,#c71a1d,#f34935,#f6583e,#f96044,#e83429,#a50f16,#bf1b1c,#cb2320,#c31f1e,#a00e16,#ee4131,#fdd7c6)"></i>
<i style="background:linear-gradient(90deg,#f75c41,#bc141a,#c6191d,#f24835,#f6583e,#f96044,#e83429,#a10e15,#bb191b,#c7201f,#bf1c1d,#9a0c15,#ed3f30,#fdd7c6)"></i>
<i style="background:linear-gradient(90deg,#f75b40,#bc141a,#c4181c,#f24834,#f6583e,#f96044,#e83429,#9e0d15,#b7171a,#c31e1d,#ba1a1b,#940b14,#ec3d2e,#fdd7c6)"></i>
<i style="background:linear-gradient(90deg,#f75a40,#bc141a,#c3181c,#f24734,#f6583e,#f96044,#e83429,#9a0c14,#b41619,#be1b1c,#b6181a,#8d0913,#eb3b2d,#fdd7c6)"></i>
<i style="background:linear-gradient(90deg,#f75a40,#bc141a,#c1171b,#f24633,#f6583e,#f96044,#e83429,#970c14,#b01418,#ba191b,#b11619,#870812,#ea3a2c,#fdd7c6)"></i>
<i style="background:linear-gradient(90deg,#f7593f,#bc141a,#bf161b,#f24633,#f6583e,#f96044,#e83429,#940b13,#ac1217,#b61619,#ad1318,#800611,#e9382b,#fdd7c6)"></i>
<i style="background:linear-gradient(90deg,#f6583f,#bc141a,#be151a,#f24532,#f6583e,#f96044,#e83429,#900a12,#a81116,#b11418,#a91116,#7a0510,#e9362a,#fdd7c6)"></i>
<i style="background:linear-gradient(90deg,#f6583e,#bc141a,#bc151a,#f14532,#f6583e,#f96044,#e83429,#8d0912,#a40f15,#ad1117,#a40f15,#74030f,#e83429,#fdd7c6)"></i>
<i style="background:linear-gradient(90deg,#f75a40,#c01a1d,#bf191c,#f24633,#f7593f,#f96145,#e8352a,#900a12,#a61015,#b01318,#a71016,#790510,#e9372b,#fdd7c6)"></i>
<i style="background:linear-gradient(90deg,#f75d43,#c42020,#c41f1f,#f24734,#f75a40,#f96346,#e9372b,#940b13,#aa1116,#b41519,#ac1317,#800711,#ea3b2d,#fed7c6)"></i>
<i style="background:linear-gradient(90deg,#f76046,#c92624,#c82422,#f24835,#f75b41,#f96447,#ea392c,#990c14,#ad1217,#b9181a,#b01518,#880a13,#eb3f30,#fed7c6)"></i>
<i style="background:linear-gradient(90deg,#f86448,#cd2c27,#cd2a26,#f34a35,#f85d41,#f96548,#eb3b2d,#9d0d15,#b01318,#bd1a1c,#b4171a,#8f0c14,#ed4332,#fed7c6)"></i>
<i style="background:linear-gradient(90deg,#f8674b,#d2322b,#d12f29,#f34b36,#f85e42,#f96749,#ec3d2e,#a20e16,#b41419,#c11d1d,#b9191b,#970f16,#ee4734,#fed7c7)"></i>
<i style="background:linear-gradient(90deg,#f96a4e,#d7382e,#d6352c,#f34d37,#f85f43,#fa684a,#ed3f2f,#a60f16,#b7161a,#c5201e,#bd1c1c,#9e1217,#f04a37,#fed8c7)"></i>
<i style="background:linear-gradient(90deg,#f96d50,#db3f32,#da3a2f,#f44e38,#f96044,#fa694b,#ee4030,#ab1017,#bb171a,#ca2220,#c21e1d,#a61419,#f14e39,#fed8c7)"></i>
<i style="background:linear-gradient(90deg,#f97053,#e04535,#de4032,#f44f39,#f96245,#fa6b4c,#ee4231,#af1118,#be181b,#ce2521,#c6201f,#ad171a,#f3523c,#fed8c7)"></i>
<i style="background:linear-gradient(90deg,#fa7356,#e44b38,#e34535,#f5513a,#f96345,#fa6c4d,#ef4432,#b41219,#c1191c,#d22722,#cb2220,#b4191c,#f4563e,#fed8c7)"></i>
<i style="background:linear-gradient(90deg,#fa7658,#e9513c,#e74b38,#f5523b,#fa6446,#fa6d4e,#f04633,#b8141a,#c51a1d,#d72a24,#cf2421,#bc1c1d,#f55a40,#fed8c8)"></i>
<i style="background:linear-gradient(90deg,#fa795b,#ee573f,#ec503b,#f5543c,#fa6647,#fb6e4f,#f14835,#bd151a,#c81b1e,#db2c25,#d42722,#c31e1e,#f75e43,#fed8c8)"></i>
<i style="background:linear-gradient(90deg,#fb7d5d,#f25e43,#f0563e,#f6553d,#fa6748,#fb7050,#f24a36,#c2161b,#cc1d1e,#df2f26,#d82924,#cb2120,#f86245,#fed9c8)"></i>
<i style="background:linear-gradient(90deg,#fb8060,#f76446,#f55b41,#f6563d,#fb6849,#fb7151,#f34c37,#c6171c,#cf1e1f,#e43128,#dd2b25,#d22321,#fa6647,#fed9c8)"></i>
<i style="background:linear-gradient(90deg,#fc8262,#fb694a,#f96044,#f6583e,#fb694a,#fb7252,#f44d38,#ca181d,#d21f20,#e83429,#e12d26,#d92523,#fb694a,#fed9c9)"></i>
</div>
<div class="sp" style="left:549px;top:32px;width:339px;height:411px"></div>
<b style="left:549px;top:445px;width:1px;height:5px"></b>
<span class="tl xt" style="left:549.40px;top:453.50px;">−1.0</span>
<b style="left:601px;top:445px;width:1px;height:5px"></b>
<span class="tl xt" style="left:601.72px;top:453.50px;">−0.5</span>
<b style="left:654px;top:445px;width:1px;height:5px"></b>
<span class="tl xt" style="left:654.05px;top:453.50px;">0.0</span>
<b style="left:706px;top:445px;width:1px;height:5px"></b>
<span class="tl xt" style="left:706.37px;top:453.50px;">0.5</span>
<b style="left:758px;top:445px;width:1px;height:5px"></b>
<span class="tl xt" style="left:758.69px;top:453.50px;">1.0</span>
<b style="left:811px;top:445px;width:1px;height:5px"></b>
<span class="tl xt" style="left:811.02px;top:453.50px;">1.5</span>
<b style="left:863px;top:445px;width:1px;height:5px"></b>
<span class="tl xt" style="left:863.34px;top:453.50px;">2.0</span>
<b style="left:544px;top:444px;width:5px;height:1px"></b>
<span class="tl yt" style="left:538.50px;top:438.60px;">0</span>
<b style="left:544px;top:376px;width:5px;height:1px"></b>
<span class="tl yt" style="left:538.50px;top:369.93px;">5</span>
<b style="left:544px;top:307px;width:5px;height:1px"></b>
<span class="tl yt" style="left:538.50px;top:301.27px;">10</span>
<b style="left:544px;top:238px;width:5px;height:1px"></b>
<span class="tl yt" style="left:538.50px;top:232.60px;">15</span>
<b style="left:544px;top:170px;width:5px;height:1px"></b>
<span class="tl yt" style="left:538.50px;top:163.93px;">20</span>
<b style="left:544px;top:101px;width:5px;height:1px"></b>
<span class="tl yt" style="left:538.50px;top:95.27px;">25</span>
<b style="left:544px;top:32px;width:5px;height:1px"></b>
<span class="tl yt" style="left:538.50px;top:26.60px;">30</span>
<div class="cb" style="left:911px;top:32px;width:21px;height:413px;background:linear-gradient(0deg,#fff5f0 0.00%,#feeae1 6.25%,#fee0d2 12.50%,#fdcdb9 18.75%,#fcbba1 25.00%,#fca689 31.25%,#fc9272 37.50%,#fb7d5d 43.75%,#fb694a 50.00%,#f5523a 56.25%,#ee3a2c 62.50%,#dc2924 68.75%,#ca181d 75.00%,#b71319 81.25%,#a30f15 87.50%,#840711 93.75%,#67000d 100.00%)"></div>
<div class="sp" style="left:911px;top:32px;width:19px;height:411px;background:none"></div>
<b style="left:932px;top:444px;width:5px;height:1px"></b>
<span class="tl cl" style="left:942.00px;top:438.60px;">0.00</span>
<b style="left:932px;top:393px;width:5px;height:1px"></b>
<span class="tl cl" style="left:942.00px;top:387.10px;">0.25</span>
<b style="left:932px;top:341px;width:5px;height:1px"></b>
<span class="tl cl" style="left:942.00px;top:335.60px;">0.50</span>
<b style="left:932px;top:290px;width:5px;height:1px"></b>
<span class="tl cl" style="left:942.00px;top:284.10px;">0.75</span>
<b style="left:932px;top:238px;width:5px;height:1px"></b>
<span class="tl cl" style="left:942.00px;top:232.60px;">1.00</span>
<b style="left:932px;top:187px;width:5px;height:1px"></b>
<span class="tl cl" style="left:942.00px;top:181.10px;">1.25</span>
<b style="left:932px;top:135px;width:5px;height:1px"></b>
<span class="tl cl" style="left:942.00px;top:129.60px;">1.50</span>
<b style="left:932px;top:84px;width:5px;height:1px"></b>
<span class="tl cl" style="left:942.00px;top:78.10px;">1.75</span>
<b style="left:932px;top:32px;width:5px;height:1px"></b>
<span class="tl cl" style="left:942.00px;top:26.60px;">2.00</span>
<span class="tl of" style="left:894.50px;top:17.00px;">1e−5</span>
<span class="xl" style="left:719.45px;top:472.70px;">Time [s]</span>
<span class="yl" style="left:507.60px;top:239.60px;">Frequency [Hz]</span>
<span class="tt" style="left:719.45px;top:8.80px;">C3 right</span>
<div class="hm" style="left:57px;top:525px;width:341px;height:413px">
<i style="background:linear-gradient(90deg,#ffebe2,#fee7dc,#fee7dc,#fee8de,#fee8de,#fee8de,#fee8de,#fee8de,#fee8de,#fee8de,#fee8de,#fee8de,#ffebe2,#ffede5)"></i>
<i style="background:linear-gradient(90deg,#ffebe2,#fee7dc,#fee7dc,#fee8de,#fee8de,#fee8de,#fee8de,#fee8de,#fee8de,#fee8de,#fee8de,#fee8de,#ffebe2,#ffede5)"></i>
<i style="background:linear-gradient(90deg,#ffebe1,#fee6db,#fee7db,#fee8de,#fee8de,#fee8de,#fee8de,#fee8de,#fee8de,#fee8de,#fee8de,#fee8de,#ffebe2,#ffede5)"></i>
<i style="background:linear-gradient(90deg,#ffebe1,#fee6db,#fee6db,#fee8dd,#fee8de,#fee8de,#fee8de,#fee8de,#fee8de,#fee8de,#fee8de,#fee8de,#ffebe1,#ffede5)"></i>
<i style="background:linear-gradient(90deg,#ffebe1,#fee6da,#fee6db,#fee8dd,#fee8de,#fee8de,#fee8de,#fee8de,#fee8de,#fee8de,#fee8de,#fee8de,#ffebe1,#ffede5)"></i>
<i style="background:linear-gradient(90deg,#feeae1,#fee5da,#fee6da,#fee8dd,#fee8dd,#fee8dd,#fee8dd,#fee8dd,#fee8dd,#fee8dd,#fee8dd,#fee8dd,#ffebe1,#ffede5)"></i>
<i style="background:linear-gradient(90deg,#feeae1,#fee5d9,#fee5da,#fee7dc,#fee8dd,#fee8dd,#fee8dd,#fee8dd,#fee8dd,#fee8dd,#fee8dd,#fee8dd,#ffebe1,#ffede5)"></i>
<i style="background:linear-gradient(90deg,#feeae0,#fee5d9,#fee5d9,#fee7dc,#fee8dd,#fee8dd,#fee8dd,#fee8dd,#fee8dd,#fee8dd,#fee8dd,#fee8dd,#feeae1,#ffede5)"></i>
<i style="background:linear-gradient(90deg,#feeae0,#fee4d8,#fee5d9,#fee7dc,#fee8dd,#fee8dd,#fee8dd,#fee8dd,#fee8dd,#fee8dd,#fee8dd,#fee8dd,#feeae1,#ffede5)"></i>
<i style="background:linear-gradient(90deg,#feeae0,#fee4d8,#fee5d8,#fee7dc,#fee8dd,#fee8dd,#fee8dd,#fee8dd,#fee8dd,#fee8dd,#fee8dd,#fee8dd,#feeae1,#ffede5)"></i>
<i style="background:linear-gradient(90deg,#feeae0,#fee4d7,#fee4d8,#fee7db,#fee8dd,#fee8dd,#fee8dd,#fee8dd,#fee8dd,#fee8dd,#fee8dd,#fee8dd,#feeae0,#ffede5)"></i>
<i style="background:linear-gradient(90deg,#feeae0,#fee3d7,#fee4d8,#fee6db,#fee7dd,#fee7dd,#fee7dd,#fee7dd,#fee7dd,#fee7dd,#fee7dd,#fee7dd,#feeae0,#ffede5)"></i>
<i style="background:linear-gradient(90deg,#fee9df,#fee3d6,#fee4d7,#fee6db,#fee7dc,#fee7dc,#fee7dc,#fee7dc,#fee7dc,#fee7dc,#fee7dc,#fee7dc,#feeae0,#ffede5)"></i>
<i style="background:linear-gradient(90deg,#fee9df,#fee3d6,#fee3d7,#fee6db,#fee7dc,#fee7dc,#fee7dc,#fee7dc,#fee7dc,#fee7dc,#fee7dc,#fee7dc,#feeae0,#ffede5)"></i>
<i style="background:linear-gradient(90deg,#fee9df,#fee3d6,#fee3d7,#fee6da,#fee7dc,#fee7dc,#fee7dc,#fee7dc,#fee7dc,#fee7dc,#fee7dc,#fee7dc,#feeae0,#ffede5)"></i>
<i style="background:linear-gradient(90deg,#fee9df,#fee2d5,#fee3d6,#fee6da,#fee7dc,#fee7dc,#fee7dc,#fee7dc,#fee7dc,#fee7dc,#fee7dc,#fee7dc,#feeae0,#ffede5)"></i>
<i style="background:linear-gradient(90deg,#fee9df,#fee2d5,#fee3d6,#fee6da,#fee7dc,#fee7dc,#fee7dc,#fee7dc,#fee7dc,#fee7dc,#fee7dc,#fee7dc,#feeae0,#ffede5)"></i>
<i style="background:linear-gradient(90deg,#fee9df,#fee2d5,#fee3d6,#fee6da,#fee7dc,#fee7dc,#fee7dc,#fee7db,#fee7db,#fee7dc,#fee7dc,#fee7dc,#fee9e0,#ffede5)"></i>
<i style="background:linear-gradient(90deg,#fee9de,#fee2d5,#fee3d6,#fee5da,#fee7db,#fee7db,#fee7db,#fee6db,#fee6db,#fee7db,#fee7db,#fee7db,#fee9df,#ffede5)"></i>
<i style="background:linear-gradient(90deg,#fee9de,#fee2d5,#fee3d6,#fee5da,#fee6db,#fee6db,#fee6db,#fee6db,#fee6db,#fee6db,#fee6db,#fee6db,#fee9df,#ffede5)"></i>
<i style="background:linear-gradient(90deg,#fee9de,#fee2d5,#fee3d6,#fee5d9,#fee6db,#fee6db,#fee6db,#fee6da,#fee6da,#fee6db,#fee6db,#fee6db,#fee9df,#ffede5)"></i>
<i style="background:linear-gradient(90deg,#fee8de,#fee2d5,#fee3d6,#fee5d9,#fee6db,#fee6db,#fee6db,#fee6da,#fee6da,#fee6db,#fee6db,#fee6db,#fee9df,#ffede5)"></i>
<i style="background:linear-gradient(90deg,#fee8de,#fee2d5,#fee2d5,#fee5d9,#fee6db,#fee6db,#fee6db,#fee6da,#fee6da,#fee6db,#fee6db,#fee6db,#fee9df,#ffede5)"></i>
<i style="background:linear-gradient(90deg,#fee8de,#fee2d4,#fee2d5,#fee5d9,#fee6da,#fee6da,#fee6da,#fee5da,#fee5da,#fee6da,#fee6da,#fee6da,#fee9df,#ffede5)"></i>
<i style="background:linear-gradient(90deg,#fee8de,#fee2d4,#fee2d5,#fee5d9,#fee6da,#fee6da,#fee6da,#fee5d9,#fee5d9,#fee6da,#fee6da,#fee6da,#fee9df,#ffede5)"></i>
<i style="background:linear-gradient(90deg,#fee8de,#fee1d4,#fee2d5,#fee5d9,#fee6da,#fee6da,#fee6da,#fee5d9,#fee5d9,#fee6da,#fee6da,#fee6da,#fee9de,#ffede5)"></i>
<i style="background:linear-gradient(90deg,#fee8dd,#fee1d4,#fee2d5,#fee5d9,#fee5da,#fee5da,#fee5da,#fee5d9,#fee5d9,#fee5da,#fee5da,#fee5da,#fee9de,#ffede5)"></i>
<i style="background:linear-gradient(90deg,#fee8dd,#fee1d4,#fee2d5,#fee5d9,#fee5d9,#fee5d9,#fee5d9,#fee5d9,#fee5d9,#fee5d9,#fee5d9,#fee5d9,#fee9de,#ffede5)"></i>
<i style="background:linear-gradient(90deg,#fee8dd,#fee1d4,#fee2d5,#fee4d8,#fee5d9,#fee5d9,#fee5d9,#fee4d8,#fee4d8,#fee5d9,#fee5d9,#fee5d9,#fee8de,#ffede5)"></i>
<i style="background:linear-gradient(90deg,#fee8dd,#fee1d4,#fee2d5,#fee4d8,#fee5d9,#fee5d9,#fee5d9,#fee4d8,#fee4d8,#fee5d9,#fee5d9,#fee5d9,#fee8de,#ffede5)"></i>
<i style="background:linear-gradient(90deg,#fee8dd,#fee1d4,#fee2d5,#fee4d8,#fee5d9,#fee5d9,#fee5d9,#fee4d7,#fee4d8,#fee5d9,#fee5d9,#fee5d9,#fee8de,#ffede5)"></i>
<i style="background:linear-gradient(90deg,#fee8dd,#fee1d4,#fee2d5,#fee4d8,#fee5d9,#fee5d9,#fee4d8,#fee3d7,#fee4d7,#fee4d8,#fee5d9,#fee5d9,#fee8de,#ffede5)"></i>
<i style="background:linear-gradient(90deg,#fee8dd,#fee1d4,#fee2d5,#fee4d8,#fee5d8,#fee5d8,#fee4d8,#fee3d7,#fee3d7,#fee4d8,#fee5d8,#fee5d9,#fee8dd,#ffede5)"></i>
<i style="background:linear-gradient(90deg,#fee8dd,#fee2d4,#fee2d5,#fee4d8,#fee4d8,#fee4d8,#fee4d8,#fee3d6,#fee3d7,#fee4d8,#fee4d8,#fee5d9,#fee8dd,#ffede5)"></i>
<i style="background:linear-gradient(90deg,#fee8dd,#fee2d4,#fee2d5,#fee4d8,#fee4d8,#fee4d8,#fee4d8,#fee3d6,#fee3d6,#fee4d8,#fee4d8,#fee5d9,#fee8dd,#ffede5)"></i>
<i style="background:linear-gradient(90deg,#fee7dd,#fee2d4,#fee2d5,#fee4d7,#fee4d8,#fee4d8,#fee4d7,#fee2d5,#fee3d6,#fee4d7,#fee4d8,#fee4d8,#fee8dd,#ffede5)"></i>
<i style="background:linear-gradient(90deg,#fee7dd,#fee2d4,#fee2d5,#fee4d7,#fee4d8,#fee4d8,#fee4d7,#fee2d5,#fee2d6,#fee4d7,#fee4d8,#fee4d8,#fee8dd,#ffede5)"></i>
<i style="background:linear-gradient(90deg,#fee7dd,#fee2d4,#fee2d5,#fee4d7,#fee4d7,#fee4d7,#fee3d7,#fee2d5,#fee2d5,#fee3d7,#fee4d7,#fee4d8,#fee8dd,#ffede5)"></i>
<i style="background:linear-gradient(90deg,#fee7dc,#fee2d4,#fee2d5,#fee4d7,#fee4d7,#fee4d7,#fee3d6,#fee1d4,#fee2d5,#fee3d6,#fee4d7,#fee4d8,#fee7dd,#ffede5)"></i>
<i style="background:linear-gradient(90deg,#fee7dc,#fee2d5,#fee2d6,#fee3d7,#fee4d7,#fee4d7,#fee3d6,#fee1d4,#fee2d4,#fee3d6,#fee4d7,#fee4d8,#fee7dd,#ffede5)"></i>
<i style="background:linear-gradient(90deg,#fee7dc,#fee2d5,#fee3d6,#fee3d7,#fee3d7,#fee3d7,#fee3d6,#fee1d3,#fee1d4,#fee3d6,#fee3d7,#fee4d8,#fee7dc,#ffede5)"></i>
<i style="background:linear-gradient(90deg,#fee7dc,#fee2d5,#fee3d6,#fee3d7,#fee3d7,#fee3d7,#fee3d6,#fee1d3,#fee1d4,#fee3d6,#fee3d7,#fee4d8,#fee7dc,#ffede5)"></i>
<i style="background:linear-gradient(90deg,#fee7dc,#fee2d5,#fee3d6,#fee3d7,#fee3d7,#fee3d7,#fee2d6,#fee0d3,#fee1d4,#fee3d6,#fee3d7,#fee4d8,#fee7dc,#ffede5)"></i>
<i style="background:linear-gradient(90deg,#fee7dc,#fee2d5,#fee3d6,#fee3d7,#fee3d7,#fee3d6,#fee2d5,#fee0d2,#fee1d3,#fee2d6,#fee3d7,#fee4d8,#fee7dc,#ffede5)"></i>
<i style="background:linear-gradient(90deg,#fee7dc,#fee2d5,#fee3d6,#fee3d7,#fee3d7,#fee3d6,#fee2d5,#fee0d2,#fee1d3,#fee2d5,#fee3d7,#fee4d8,#fee7dc,#ffede5)"></i>
<i style="background:linear-gradient(90deg,#fee7dd,#fee2d5,#fee3d6,#fee3d7,#fee3d7,#fee3d6,#fee2d5,#fee0d2,#fee1d3,#fee2d5,#fee3d7,#fee4d8,#fee7dc,#ffede5)"></i>
<i style="background:linear-gradient(90deg,#fee7dd,#fee2d5,#fee3d6,#fee3d7,#fee3d7,#fee3d6,#fee2d5,#fedfd1,#fee0d3,#fee2d5,#fee3d7,#fee4d8,#fee7dc,#ffede5)"></i>
<i style="background:linear-gradient(90deg,#fee7dd,#fee2d6,#fee3d6,#fee3d7,#fee3d7,#fee3d6,#fee2d5,#fedfd1,#fee0d2,#fee2d5,#fee3d7,#fee4d8,#fee7dc,#ffede5)"></i>
<i style="background:linear-gradient(90deg,#fee7dd,#fee3d6,#fee3d6,#fee3d7,#fee3d7,#fee3d6,#fee2d5,#fedfd1,#fee0d2,#fee2d5,#fee3d7,#fee4d8,#fee7dc,#ffede5)"></i>
<i style="background:linear-gradient(90deg,#fee8dd,#fee3d6,#fee3d6,#fee3d7,#fee3d7,#fee3d6,#fee2d5,#fedfd0,#fee0d2,#fee2d5,#fee3d7,#fee4d8,#fee7dc,#ffede5)"></i>
<i style="background:linear-gradient(90deg,#fee8dd,#fee3d6,#fee3d6,#fee3d7,#fee3d7,#fee3d6,#fee2d4,#fedfd0,#fee0d2,#fee2d5,#fee3d7,#fee4d8,#fee7dc,#ffede5)"></i>
<i style="background:linear-gradient(90deg,#fee8dd,#fee3d6,#fee3d6,#fee3d7,#fee3d7,#fee3d6,#fee2d4,#feded0,#fedfd1,#fee2d5,#fee3d7,#fee4d8,#fee7dc,#ffede5)"></i>
<i style="background:linear-gradient(90deg,#fee8dd,#fee3d6,#fee3d6,#fee3d7,#fee3d7,#fee3d6,#fee2d4,#feded0,#fedfd1,#fee2d5,#fee3d7,#fee4d8,#fee7dc,#ffede5)"></i>
<i style="background:linear-gradient(90deg,#fee8dd,#fee3d6,#fee3d6,#fee3d7,#fee3d7,#fee3d6,#fee1d4,#fedecf,#fedfd1,#fee2d5,#fee3d7,#fee4d8,#fee7dc,#ffede5)"></i>
<i style="background:linear-gradient(90deg,#fee8dd,#fee3d6,#fee3d7,#fee3d7,#fee3d7,#fee3d6,#fee1d4,#fedecf,#fedfd0,#fee2d5,#fee3d7,#fee4d8,#fee7dc,#ffede5)"></i>
<i style="background:linear-gradient(90deg,#fee8dd,#fee3d7,#fee3d7,#fee3d7,#fee3d7,#fee3d6,#fee1d4,#fedecf,#fedfd0,#fee2d5,#fee3d7,#fee4d8,#fee7dc,#ffede5)"></i>
<i style="background:linear-gradient(90deg,#fee8dd,#fee3d7,#fee3d7,#fee3d7,#fee3d6,#fee2d5,#fee1d3,#fedecf,#fedfd0,#fee2d5,#fee3d7,#fee4d7,#fee7dc,#ffede5)"></i>
<i style="background:linear-gradient(90deg,#fee8dd,#fee3d7,#fee3d7,#fee3d7,#fee3d6,#fee2d5,#fee1d3,#fedecf,#fedfd1,#fee2d5,#fee3d7,#fee4d7,#fee7dc,#ffede5)"></i>
<i style="background:linear-gradient(90deg,#fee8dd,#fee3d7,#fee3d7,#fee3d7,#fee3d6,#fee2d5,#fee1d3,#fedecf,#fedfd1,#fee2d5,#fee3d7,#fee4d7,#fee7dc,#ffede5)"></i>
<i style="background:linear-gradient(90deg,#fee8dd,#fee3d7,#fee3d7,#fee3d7,#fee3d6,#fee2d4,#fee0d3,#fedecf,#fedfd1,#fee2d5,#fee3d7,#fee4d7,#fee7dc,#ffede5)"></i>
<i style="background:linear-gradient(90deg,#fee8dd,#fee3d7,#fee3d7,#fee3d7,#fee3d6,#fee2d4,#fee0d2,#fedecf,#fedfd1,#fee2d5,#fee3d7,#fee4d7,#fee7dc,#ffede5)"></i>
<i style="background:linear-gradient(90deg,#fee8dd,#fee3d7,#fee3d7,#fee3d7,#fee3d6,#fee1d4,#fee0d2,#fedecf,#fedfd1,#fee2d5,#fee3d7,#fee4d7,#fee7dc,#ffede5)"></i>
<i style="background:linear-gradient(90deg,#fee8dd,#fee3d7,#fee3d7,#fee3d7,#fee3d6,#fee1d4,#fee0d2,#fedecf,#fedfd1,#fee2d5,#fee3d7,#fee4d7,#fee7dc,#ffede5)"></i>
<i style="background:linear-gradient(90deg,#fee8dd,#fee3d7,#fee3d7,#fee3d7,#fee2d5,#fee1d3,#fee0d2,#fedecf,#fedfd1,#fee2d5,#fee3d7,#fee3d7,#fee7dc,#ffede5)"></i>
<i style="background:linear-gradient(90deg,#fee8dd,#fee3d7,#fee3d7,#fee3d7,#fee2d5,#fee1d3,#fee0d1,#fedecf,#fedfd1,#fee2d5,#fee3d7,#fee3d7,#fee7dc,#ffede5)"></i>
<i style="background:linear-gradient(90deg,#fee8dd,#fee3d7,#fee3d7,#fee3d7,#fee2d5,#fee1d3,#fedfd1,#fedecf,#fee0d1,#fee2d5,#fee3d7,#fee3d7,#fee7dc,#ffede5)"></i>
<i style="background:linear-gradient(90deg,#fee8dd,#fee3d7,#fee3d7,#fee3d7,#fee2d5,#fee0d3,#fedfd1,#fedecf,#fee0d2,#fee2d5,#fee3d7,#fee3d7,#fee7dc,#ffede5)"></i>
<i style="background:linear-gradient(90deg,#fee8dd,#fee3d7,#fee3d7,#fee3d7,#fee2d5,#fee0d2,#fedfd1,#fedecf,#fee0d2,#fee2d6,#fee3d7,#fee3d7,#fee7dc,#ffede5)"></i>
<i style="background:linear-gradient(90deg,#fee8dd,#fee3d7,#fee3d7,#fee3d7,#fee2d5,#fee0d2,#fedfd0,#fedecf,#fee0d2,#fee3d6,#fee3d7,#fee3d7,#fee7dc,#ffede5)"></i>
<i style="background:linear-gradient(90deg,#fee8dd,#fee3d7,#fee3d7,#fee3d7,#fee2d5,#fee0d2,#feded0,#feddcf,#fee0d2,#fee3d6,#fee3d7,#fee3d7,#fee7dc,#ffede5)"></i>
<i style="background:linear-gradient(90deg,#fee8dd,#fee3d6,#fee3d7,#fee3d7,#fee2d5,#fedfd1,#fedecf,#feddce,#fee0d2,#fee2d5,#fee3d6,#fee3d7,#fee7dc,#ffede5)"></i>
<i style="background:linear-gradient(90deg,#fee8dd,#fee3d6,#fee3d7,#fee3d7,#fee2d4,#fedfd0,#feddcf,#feddce,#fee0d2,#fee2d5,#fee3d6,#fee3d7,#fee7dc,#ffede5)"></i>
<i style="background:linear-gradient(90deg,#fee8dd,#fee3d6,#fee3d7,#fee3d7,#fee2d4,#feded0,#feddce,#feddce,#fee0d1,#fee2d5,#fee3d6,#fee3d7,#fee7dc,#ffede5)"></i>
<i style="background:linear-gradient(90deg,#fee8dd,#fee3d6,#fee3d7,#fee3d7,#fee1d4,#fedecf,#fedccd,#fedccd,#fedfd1,#fee2d5,#fee3d6,#fee3d7,#fee7dc,#ffede5)"></i>
<i style="background:linear-gradient(90deg,#fee8dd,#fee3d6,#fee3d7,#fee3d7,#fee1d4,#fedecf,#fedccd,#fedccd,#fedfd1,#fee2d5,#fee3d6,#fee3d7,#fee7dc,#ffede5)"></i>
<i style="background:linear-gradient(90deg,#fee8dd,#fee3d6,#fee3d7,#fee3d7,#fee1d4,#feddce,#fedbcc,#fedccd,#fedfd1,#fee2d5,#fee3d6,#fee3d7,#fee7dc,#ffede5)"></i>
<i style="background:linear-gradient(90deg,#fee7dd,#fee3d6,#fee3d7,#fee3d7,#fee1d4,#feddce,#fedbcb,#fedccc,#fedfd1,#fee2d5,#fee3d6,#fee3d7,#fee7dc,#ffede5)"></i>
<i style="background:linear-gradient(90deg,#fee7dd,#fee3d6,#fee3d7,#fee3d7,#fee1d4,#fedccd,#fedacb,#fedbcc,#fedfd1,#fee2d4,#fee3d6,#fee3d7,#fee7dc,#ffede5)"></i>
<i style="background:linear-gradient(90deg,#fee7dd,#fee3d6,#fee3d7,#fee3d7,#fee1d3,#fedccd,#fedaca,#fedbcc,#fedfd1,#fee2d4,#fee3d6,#fee3d7,#fee7dc,#ffede5)"></i>
<i style="background:linear-gradient(90deg,#fee7dc,#fee3d6,#fee3d7,#fee3d7,#fee1d3,#fedbcc,#fed9c9,#fedbcb,#fedfd1,#fee2d4,#fee3d6,#fee3d7,#fee7dc,#ffede5)"></i>
<i style="background:linear-gradient(90deg,#fee7dc,#fee3d6,#fee3d7,#fee3d7,#fee1d3,#fedbcb,#fed9c9,#fedbcb,#fedfd1,#fee1d4,#fee3d6,#fee3d7,#fee7dc,#ffede5)"></i>
<i style="background:linear-gradient(90deg,#fee7dc,#fee3d6,#fee3d7,#fee3d7,#fee1d3,#fedbcb,#fed8c8,#fedacb,#fedfd0,#fee1d4,#fee3d6,#fee3d7,#fee7dc,#ffede5)"></i>
<i style="background:linear-gradient(90deg,#fee7dc,#fee3d6,#fee3d7,#fee3d7,#fee1d3,#fedaca,#fed8c7,#fedaca,#fedfd0,#fee1d4,#fee3d6,#fee3d7,#fee7dc,#ffede5)"></i>
<i style="background:linear-gradient(90deg,#fee7dc,#fee2d5,#fee3d6,#fee3d7,#fee1d3,#fedaca,#fed8c7,#fedaca,#fedfd0,#fee1d4,#fee2d6,#fee3d6,#fee7dc,#ffede5)"></i>
<i style="background:linear-gradient(90deg,#fee7dc,#fee2d5,#fee3d6,#fee3d6,#fee1d3,#fedaca,#fed7c7,#fedaca,#feded0,#fee1d4,#fee2d5,#fee3d6,#fee7dc,#ffede5)"></i>
<i style="background:linear-gradient(90deg,#fee7dc,#fee2d5,#fee3d6,#fee3d6,#fee1d3,#fedaca,#fed7c6,#fed9c9,#fedecf,#fee1d3,#fee2d5,#fee3d6,#fee7dc,#ffede5)"></i>
<i style="background:linear-gradient(90deg,#fee7dc,#fee2d4,#fee3d6,#fee3d6,#fee1d3,#fedaca,#fed7c6,#fed9c9,#fedecf,#fee1d3,#fee2d5,#fee3d6,#fee7dc,#ffede5)"></i>
<i style="background:linear-gradient(90deg,#fee7dc,#fee1d4,#fee3d6,#fee3d6,#fee1d3,#fedaca,#fed7c6,#fed9c9,#fedecf,#fee1d3,#fee2d5,#fee2d5,#fee7dc,#ffede5)"></i>
<i style="background:linear-gradient(90deg,#fee7db,#fee1d3,#fee2d5,#fee3d6,#fee1d3,#fedaca,#fed7c6,#fed9c8,#feddce,#fee1d3,#fee2d5,#fee2d5,#fee7db,#ffede5)"></i>
<i style="background:linear-gradient(90deg,#fee7db,#fee1d3,#fee2d5,#fee3d6,#fee1d3,#fedaca,#fdd7c6,#fed8c8,#feddce,#fee1d3,#fee2d5,#fee2d5,#fee7db,#ffede5)"></i>
<i style="background:linear-gradient(90deg,#fee6db,#fee0d3,#fee2d5,#fee3d6,#fee1d3,#fedaca,#fdd6c5,#fed8c8,#feddce,#fee0d3,#fee2d5,#fee2d4,#fee6db,#ffede5)"></i>
<i style="background:linear-gradient(90deg,#fee6db,#fee0d2,#fee2d5,#fee3d6,#fee1d3,#fedaca,#fdd6c5,#fed8c7,#fedccd,#fee0d3,#fee2d4,#fee2d4,#fee6db,#ffede5)"></i>
<i style="background:linear-gradient(90deg,#fee6db,#fee0d2,#fee2d5,#fee3d6,#fee1d3,#fedaca,#fdd6c5,#fed8c7,#fedccd,#fee0d2,#fee2d4,#fee1d4,#fee6db,#ffede5)"></i>
<i style="background:linear-gradient(90deg,#fee6db,#fee0d1,#fee2d4,#fee3d6,#fee1d4,#fedaca,#fdd6c5,#fed7c7,#fedccd,#fee0d2,#fee2d4,#fee1d4,#fee6db,#ffede5)"></i>
<i style="background:linear-gradient(90deg,#fee6db,#fedfd1,#fee2d4,#fee3d6,#fee1d4,#fedaca,#fdd6c4,#fed7c6,#fedccc,#fee0d2,#fee1d4,#fee1d3,#fee6db,#ffede5)"></i>
<i style="background:linear-gradient(90deg,#fee6da,#fedfd1,#fee1d4,#fee3d6,#fee1d4,#fedaca,#fdd6c4,#fed7c6,#fedbcc,#fee0d2,#fee1d4,#fee1d3,#fee6da,#ffede5)"></i>
<i style="background:linear-gradient(90deg,#fee6da,#fedfd0,#fee1d4,#fee3d6,#fee1d4,#fedaca,#fdd5c4,#fdd7c6,#fedbcc,#fee0d2,#fee1d4,#fee1d3,#fee6da,#ffede5)"></i>
<i style="background:linear-gradient(90deg,#fee6da,#feded0,#fee1d4,#fee3d6,#fee1d4,#fedbcb,#fdd6c5,#fed7c6,#fedccc,#fee0d2,#fee1d4,#fee0d3,#fee6da,#ffede5)"></i>
<i style="background:linear-gradient(90deg,#fee6da,#fedecf,#fee1d3,#fee3d6,#fee1d4,#fedbcb,#fdd7c6,#fed8c7,#fedccd,#fee0d2,#fee1d4,#fee0d2,#fee6da,#ffede5)"></i>
<i style="background:linear-gradient(90deg,#fee6da,#fedecf,#fee1d3,#fee3d6,#fee2d4,#fedbcc,#fed7c6,#fed8c8,#fedccd,#fee0d2,#fee1d4,#fee0d2,#fee6da,#ffede5)"></i>
<i style="background:linear-gradient(90deg,#fee5da,#feddce,#fee1d3,#fee3d6,#fee2d4,#fedccd,#fed8c7,#fed9c8,#feddcd,#fee0d2,#fee1d3,#fee0d2,#fee6da,#ffede5)"></i>
<i style="background:linear-gradient(90deg,#fee5da,#feddce,#fee1d3,#fee3d6,#fee2d4,#fedccd,#fed8c8,#fed9c9,#feddce,#fee0d3,#fee1d3,#fee0d2,#fee6da,#ffede5)"></i>
<i style="background:linear-gradient(90deg,#fee5da,#feddce,#fee1d3,#fee3d6,#fee2d5,#feddce,#fed9c9,#fedaca,#feddce,#fee0d3,#fee1d3,#fee0d2,#fee6da,#ffede5)"></i>
<i style="background:linear-gradient(90deg,#fee5d9,#fedccd,#fee1d3,#fee3d6,#fee2d5,#feddcf,#fedac9,#fedaca,#fedecf,#fee1d3,#fee1d3,#fee0d2,#fee6da,#ffede5)"></i>
<i style="background:linear-gradient(90deg,#fee5d9,#fedccd,#fee0d3,#fee3d6,#fee2d5,#fedecf,#fedaca,#fedbcb,#fedecf,#fee1d3,#fee1d3,#fedfd1,#fee5da,#ffede5)"></i>
<i style="background:linear-gradient(90deg,#fee5d9,#fedccc,#fee0d2,#fee3d6,#fee2d5,#feded0,#fedbcb,#fedbcc,#feded0,#fee1d3,#fee1d3,#fedfd1,#fee5da,#ffede5)"></i>
<i style="background:linear-gradient(90deg,#fee5d9,#fedbcc,#fee0d2,#fee3d6,#fee2d5,#fedfd0,#fedbcc,#fedccc,#fedfd0,#fee1d3,#fee1d3,#fedfd1,#fee5da,#ffede5)"></i>
<i style="background:linear-gradient(90deg,#fee5d9,#fedbcb,#fee0d2,#fee3d6,#fee2d5,#fedfd1,#fedccd,#fedccd,#fedfd1,#fee1d3,#fee1d3,#fedfd1,#fee5da,#ffede5)"></i>
<i style="background:linear-gradient(90deg,#fee5d9,#fedbcb,#fee0d2,#fee3d6,#fee2d5,#fee0d2,#fedccd,#feddce,#fedfd1,#fee1d4,#fee1d3,#fedfd1,#fee5da,#ffede5)"></i>
<i style="background:linear-gradient(90deg,#fee5d9,#fedaca,#fee0d2,#fee3d6,#fee2d6,#fee0d2,#feddce,#feddce,#fee0d1,#fee1d4,#fee1d3,#fedfd0,#fee5d9,#ffede5)"></i>
<i style="background:linear-gradient(90deg,#fee5d9,#fedaca,#fee0d2,#fee3d6,#fee3d6,#fee1d3,#fedecf,#fedecf,#fee0d2,#fee1d4,#fee1d3,#fedfd0,#fee5d9,#ffede5)"></i>
<i style="background:linear-gradient(90deg,#fee5d9,#fedacb,#fee0d2,#fee3d6,#fee3d6,#fee1d3,#fedecf,#fedecf,#fee0d2,#fee1d4,#fee1d3,#fedfd1,#fee5d9,#ffede5)"></i>
<i style="background:linear-gradient(90deg,#fee5d9,#fedbcb,#fee0d2,#fee3d6,#fee3d6,#fee1d3,#feded0,#feded0,#fee0d2,#fee1d4,#fee1d3,#fedfd1,#fee5da,#ffede5)"></i>
<i style="background:linear-gradient(90deg,#fee5d9,#fedbcc,#fee0d2,#fee3d6,#fee3d6,#fee1d3,#fedfd0,#fedfd0,#fee0d3,#fee2d4,#fee1d3,#fedfd1,#fee5da,#ffede5)"></i>
<i style="background:linear-gradient(90deg,#fee5d9,#fedbcc,#fee0d2,#fee3d6,#fee3d6,#fee1d4,#fedfd1,#fedfd1,#fee1d3,#fee2d4,#fee1d3,#fedfd1,#fee5da,#ffede5)"></i>
<i style="background:linear-gradient(90deg,#fee5d9,#fedccc,#fee0d2,#fee3d6,#fee3d6,#fee1d4,#fedfd1,#fedfd1,#fee1d3,#fee2d4,#fee1d4,#fee0d2,#fee5da,#ffede5)"></i>
<i style="background:linear-gradient(90deg,#fee5d9,#fedccd,#fee0d2,#fee3d6,#fee3d6,#fee1d4,#fee0d2,#fee0d2,#fee1d4,#fee2d5,#fee1d4,#fee0d2,#fee5da,#ffede5)"></i>
<i style="background:linear-gradient(90deg,#fee5d9,#fedccd,#fee0d2,#fee3d6,#fee3d6,#fee2d4,#fee0d2,#fee0d2,#fee1d4,#fee2d5,#fee1d4,#fee0d2,#fee6da,#ffede5)"></i>
<i style="background:linear-gradient(90deg,#fee5da,#feddce,#fee0d2,#fee3d6,#fee3d6,#fee2d5,#fee1d3,#fee1d3,#fee1d4,#fee2d5,#fee1d4,#fee0d2,#fee6da,#ffede5)"></i>
<i style="background:linear-gradient(90deg,#fee5da,#feddce,#fee0d2,#fee3d6,#fee3d6,#fee2d5,#fee1d3,#fee1d3,#fee2d4,#fee2d5,#fee1d4,#fee0d3,#fee6da,#ffede5)"></i>
<i style="background:linear-gradient(90deg,#fee6da,#fedecf,#fee0d3,#fee3d6,#fee3d6,#fee2d5,#fee1d4,#fee1d4,#fee2d5,#fee2d5,#fee2d4,#fee1d3,#fee6da,#ffede5)"></i>
<i style="background:linear-gradient(90deg,#fee6da,#fedecf,#fee0d3,#fee3d6,#fee3d6,#fee2d5,#fee2d4,#fee2d4,#fee2d5,#fee2d5,#fee2d4,#fee1d3,#fee6da,#ffede5)"></i>
<i style="background:linear-gradient(90deg,#fee6da,#feded0,#fee0d3,#fee3d6,#fee3d6,#fee2d5,#fee2d5,#fee2d5,#fee2d5,#fee2d5,#fee2d5,#fee1d3,#fee6da,#ffede5)"></i>
<i style="background:linear-gradient(90deg,#fee6da,#fedfd0,#fee1d3,#fee3d6,#fee3d6,#fee2d6,#fee2d5,#fee2d5,#fee2d6,#fee3d6,#fee2d5,#fee1d4,#fee6da,#ffede5)"></i>
<i style="background:linear-gradient(90deg,#fee6da,#fedfd0,#fee1d3,#fee2d6,#fee3d6,#fee3d6,#fee3d6,#fee3d6,#fee3d6,#fee3d6,#fee2d5,#fee1d4,#fee6da,#ffede5)"></i>
<i style="background:linear-gradient(90deg,#fee6db,#fedfd1,#fee0d3,#fee2d5,#fee2d5,#fee3d6,#fee3d6,#fee3d6,#fee3d6,#fee3d6,#fee2d5,#fee1d4,#fee6da,#ffede5)"></i>
<i style="background:linear-gradient(90deg,#fee6db,#fedfd1,#fee0d3,#fee2d5,#fee2d5,#fee3d6,#fee3d6,#fee3d6,#fee3d6,#fee3d6,#fee2d5,#fee2d4,#fee6db,#ffede5)"></i>
<i style="background:linear-gradient(90deg,#fee6db,#fedfd1,#fee0d3,#fee2d5,#fee2d5,#fee3d6,#fee3d6,#fee3d6,#fee3d6,#fee3d6,#fee2d5,#fee2d4,#fee6db,#ffede5)"></i>
<i style="background:linear-gradient(90deg,#fee6db,#fee0d1,#fee0d2,#fee2d4,#fee2d5,#fee3d6,#fee3d6,#fee3d6,#fee3d6,#fee3d6,#fee2d5,#fee2d5,#fee6db,#ffede5)"></i>
<i style="background:linear-gradient(90deg,#fee6db,#fee0d2,#fee0d2,#fee1d4,#fee2d5,#fee3d6,#fee3d6,#fee3d6,#fee3d6,#fee3d6,#fee2d5,#fee2d5,#fee6db,#ffede5)"></i>
<i style="background:linear-gradient(90deg,#fee6db,#fee0d2,#fee0d2,#fee1d4,#fee2d5,#fee3d6,#fee3d6,#fee3d6,#fee3d6,#fee3d6,#fee3d6,#fee2d5,#fee6db,#ffede5)"></i>
<i style="background:linear-gradient(90deg,#fee7db,#fee0d2,#fee0d2,#fee1d4,#fee2d5,#fee3d6,#fee3d6,#fee3d6,#fee3d6,#fee3d6,#fee3d6,#fee2d5,#fee6db,#ffede5)"></i>
<i style="background:linear-gradient(90deg,#fee7dc,#fee0d2,#fee0d2,#fee1d3,#fee2d4,#fee3d6,#fee3d6,#fee3d6,#fee3d6,#fee3d6,#fee3d6,#fee2d6,#fee6db,#ffede5)"></i>
<i style="background:linear-gradient(90deg,#fee7dc,#fee0d3,#fee0d2,#fee1d3,#fee2d4,#fee3d6,#fee3d6,#fee3d6,#fee3d6,#fee3d6,#fee3d6,#fee3d6,#fee6db,#ffede5)"></i>
<i style="background:linear-gradient(90deg,#fee7dc,#fee1d3,#fee0d2,#fee0d3,#fee2d4,#fee3d6,#fee3d6,#fee3d6,#fee3d6,#fee3d6,#fee3d6,#fee3d6,#fee6db,#ffede5)"></i>
<i style="background:linear-gradient(90deg,#fee7dc,#fee1d3,#fee0d2,#fee0d2,#fee1d4,#fee3d6,#fee3d6,#fee3d6,#fee3d6,#fee3d6,#fee3d6,#fee3d6,#fee6db,#ffede5)"></i>
<i style="background:linear-gradient(90deg,#fee7dc,#fee1d3,#fee0d2,#fee0d2,#fee1d4,#fee3d7,#fee3d7,#fee3d7,#fee3d7,#fee3d7,#fee3d6,#fee3d6,#fee6db,#ffede5)"></i>
<i style="background:linear-gradient(90deg,#fee7dc,#fee1d4,#fee0d2,#fee0d2,#fee1d4,#fee3d7,#fee3d7,#fee3d7,#fee3d7,#fee3d7,#fee3d7,#fee3d7,#fee6db,#ffede5)"></i>
<i style="background:linear-gradient(90deg,#fee7dc,#fee1d4,#fee0d2,#fee0d2,#fee1d4,#fee3d7,#fee3d7,#fee3d7,#fee3d7,#fee3d7,#fee3d7,#fee3d7,#fee7db,#ffede5)"></i>
<i style="background:linear-gradient(90deg,#fee7dc,#fee1d4,#fee0d1,#fedfd1,#fee1d4,#fee3d6,#fee3d7,#fee3d7,#fee3d7,#fee3d6,#fee3d7,#fee3d7,#fee7db,#ffede5)"></i>
<i style="background:linear-gradient(90deg,#fee7dc,#fee1d4,#fedfd1,#fedfd1,#fee1d3,#fee3d6,#fee3d7,#fee3d7,#fee3d7,#fee3d6,#fee3d7,#fee3d7,#fee7db,#ffede5)"></i>
<i style="background:linear-gradient(90deg,#fee7dc,#fee1d4,#fedfd1,#fedfd1,#fee1d3,#fee3d6,#fee3d7,#fee3d7,#fee3d7,#fee3d6,#fee3d7,#fee3d7,#fee7dc,#ffede5)"></i>
<i style="background:linear-gradient(90deg,#fee7dc,#fee1d4,#fedfd1,#fedfd0,#fee1d3,#fee3d6,#fee3d7,#fee3d7,#fee3d7,#fee3d6,#fee3d7,#fee3d7,#fee7dc,#ffede5)"></i>
<i style="background:linear-gradient(90deg,#fee7dc,#fee1d4,#fedfd1,#feded0,#fee1d3,#fee3d6,#fee3d7,#fee3d7,#fee3d7,#fee3d6,#fee3d7,#fee3d7,#fee7dc,#ffede5)"></i>
<i style="background:linear-gradient(90deg,#fee7dc,#fee1d4,#fedfd0,#feded0,#fee1d3,#fee3d6,#fee3d7,#fee3d7,#fee3d7,#fee3d6,#fee3d7,#fee3d7,#fee7dc,#ffede5)"></i>
<i style="background:linear-gradient(90deg,#fee7dc,#fee1d4,#fedfd0,#fedecf,#fee0d3,#fee3d6,#fee3d7,#fee3d7,#fee3d7,#fee3d6,#fee3d7,#fee3d7,#fee7dc,#ffede5)"></i>
<i style="background:linear-gradient(90deg,#fee7dc,#fee1d4,#feded0,#fedecf,#fee0d3,#fee3d6,#fee3d7,#fee3d7,#fee3d7,#fee3d6,#fee3d7,#fee3d7,#fee7dc,#ffede5)"></i>
<i style="background:linear-gradient(90deg,#fee7dc,#fee1d4,#feded0,#feddcf,#fee0d2,#fee3d6,#fee3d7,#fee3d7,#fee3d7,#fee3d6,#fee3d7,#fee3d7,#fee7dc,#ffede5)"></i>
<i style="background:linear-gradient(90deg,#fee7dc,#fee1d4,#fedecf,#feddce,#fee0d2,#fee3d6,#fee3d7,#fee3d7,#fee3d7,#fee3d6,#fee3d7,#fee3d7,#fee7dc,#ffede5)"></i>
<i style="background:linear-gradient(90deg,#fee7dc,#fee1d4,#fedecf,#feddce,#fee0d2,#fee3d6,#fee3d7,#fee3d7,#fee3d7,#fee3d6,#fee3d7,#fee3d7,#fee7dc,#ffede5)"></i>
<i style="background:linear-gradient(90deg,#fee7dc,#fee1d4,#fedecf,#feddce,#fee0d2,#fee3d6,#fee3d7,#fee3d7,#fee3d7,#fee3d6,#fee3d7,#fee3d7,#fee7dc,#ffede5)"></i>
<i style="background:linear-gradient(90deg,#fee7dc,#fee1d4,#fedecf,#fedccd,#fee0d2,#fee3d6,#fee3d7,#fee3d7,#fee3d7,#fee3d6,#fee3d7,#fee3d7,#fee7dc,#ffede5)"></i>
<i style="background:linear-gradient(90deg,#fee7dc,#fee1d4,#fedecf,#fedccd,#fee0d2,#fee3d6,#fee3d7,#fee3d6,#fee3d6,#fee2d5,#fee3d6,#fee3d6,#fee7dc,#ffede5)"></i>
<i style="background:linear-gradient(90deg,#fee7dc,#fee1d4,#fedecf,#feddcd,#fee0d2,#fee3d6,#fee3d6,#fee3d6,#fee3d6,#fee2d5,#fee3d6,#fee3d6,#fee7dc,#ffede5)"></i>
<i style="background:linear-gradient(90deg,#fee7dc,#fee1d4,#fedecf,#feddce,#fee0d2,#fee3d6,#fee3d6,#fee3d6,#fee2d6,#fee2d4,#fee2d6,#fee3d6,#fee7dc,#ffede5)"></i>
<i style="background:linear-gradient(90deg,#fee7dc,#fee1d4,#fedecf,#feddce,#fee0d2,#fee3d6,#fee3d6,#fee3d6,#fee2d5,#fee1d4,#fee2d5,#fee3d6,#fee7dc,#ffede5)"></i>
<i style="background:linear-gradient(90deg,#fee7dc,#fee1d4,#fedecf,#feddce,#fee0d2,#fee3d6,#fee3d6,#fee3d6,#fee2d5,#fee1d4,#fee2d5,#fee3d6,#fee7dc,#ffede5)"></i>
<i style="background:linear-gradient(90deg,#fee7dc,#fee2d4,#fedecf,#feddce,#fee0d2,#fee3d6,#fee3d6,#fee3d6,#fee2d4,#fee1d3,#fee2d4,#fee3d6,#fee7dc,#ffede5)"></i>
<i style="background:linear-gradient(90deg,#fee7dc,#fee2d4,#feded0,#feddce,#fee0d2,#fee3d6,#fee3d6,#fee3d6,#fee1d4,#fee1d3,#fee1d4,#fee3d6,#fee7dc,#ffede5)"></i>
<i style="background:linear-gradient(90deg,#fee7dc,#fee2d4,#feded0,#feddce,#fee0d2,#fee3d6,#fee3d6,#fee2d5,#fee1d4,#fee0d3,#fee1d4,#fee2d5,#fee7dc,#ffede5)"></i>
<i style="background:linear-gradient(90deg,#fee7dc,#fee2d4,#feded0,#feddce,#fee0d2,#fee3d6,#fee3d6,#fee2d5,#fee1d3,#fee0d2,#fee1d3,#fee2d5,#fee7dc,#ffede5)"></i>
<i style="background:linear-gradient(90deg,#fee7dc,#fee2d4,#feded0,#feddce,#fee0d3,#fee3d6,#fee3d6,#fee2d5,#fee1d3,#fee0d2,#fee1d3,#fee2d5,#fee7dc,#ffede5)"></i>
<i style="background:linear-gradient(90deg,#fee7dc,#fee2d5,#feded0,#feddce,#fee0d3,#fee3d6,#fee3d6,#fee2d5,#fee1d3,#fedfd1,#fee1d3,#fee2d5,#fee7db,#ffede5)"></i>
<i style="background:linear-gradient(90deg,#fee7dc,#fee2d5,#fedfd0,#feddcf,#fee0d3,#fee3d6,#fee3d6,#fee2d5,#fee0d2,#fedfd1,#fee0d2,#fee2d5,#fee7db,#ffede5)"></i>
<i style="background:linear-gradient(90deg,#fee7dc,#fee2d5,#fedfd0,#feddcf,#fee1d3,#fee3d6,#fee3d6,#fee2d5,#fee0d2,#fedfd1,#fee0d2,#fee2d5,#fee7db,#ffede5)"></i>
<i style="background:linear-gradient(90deg,#fee7dc,#fee2d5,#fedfd0,#fedecf,#fee1d3,#fee3d6,#fee3d6,#fee2d5,#fee0d2,#feded0,#fee0d2,#fee2d5,#fee6db,#ffede5)"></i>
<i style="background:linear-gradient(90deg,#fee7dc,#fee2d5,#fedfd0,#feddcf,#fee0d3,#fee2d5,#fee2d6,#fee2d4,#fedfd1,#feddcf,#fedfd1,#fee2d4,#fee6db,#ffede5)"></i>
<i style="background:linear-gradient(90deg,#fee7dc,#fee2d5,#fedfd0,#feddce,#fee0d2,#fee2d5,#fee2d5,#fee1d4,#feded0,#feddcd,#feded0,#fee1d4,#fee6db,#ffede5)"></i>
<i style="background:linear-gradient(90deg,#fee7dc,#fee2d4,#fedfd0,#feddce,#fee0d2,#fee2d5,#fee2d5,#fee1d4,#fedecf,#fedccc,#fedecf,#fee1d4,#fee6db,#ffede5)"></i>
<i style="background:linear-gradient(90deg,#fee7dc,#fee2d4,#fedfd0,#feddce,#fee0d2,#fee2d5,#fee2d5,#fee1d3,#feddce,#fedbcb,#feddce,#fee1d3,#fee6db,#ffede5)"></i>
<i style="background:linear-gradient(90deg,#fee7dc,#fee2d4,#fedfd0,#feddce,#fee0d2,#fee2d5,#fee2d5,#fee1d3,#fedccd,#fedaca,#fedccd,#fee1d3,#fee6db,#ffede5)"></i>
<i style="background:linear-gradient(90deg,#fee7dc,#fee2d4,#fedfd0,#feddce,#fee0d2,#fee2d5,#fee2d5,#fee0d3,#fedccc,#fed9c9,#fedccc,#fee0d3,#fee6db,#ffede5)"></i>
<i style="background:linear-gradient(90deg,#fee7dc,#fee2d4,#fedfd0,#feddce,#fee0d1,#fee2d5,#fee2d5,#fee0d2,#fedbcb,#fed8c7,#fedbcb,#fee0d2,#fee6db,#ffede5)"></i>
<i style="background:linear-gradient(90deg,#fee7dc,#fee1d4,#fedfd0,#feddce,#fedfd1,#fee2d5,#fee2d5,#fee0d2,#fedaca,#fed7c6,#fedaca,#fee0d2,#fee6db,#ffede5)"></i>
<i style="background:linear-gradient(90deg,#fee7dc,#fee1d4,#fedfd0,#feddce,#fedfd1,#fee2d4,#fee2d5,#fee0d2,#fedac9,#fdd6c5,#fedac9,#fee0d2,#fee6db,#ffede5)"></i>
<i style="background:linear-gradient(90deg,#fee7dc,#fee1d4,#fedfd0,#feddce,#fedfd1,#fee2d4,#fee2d5,#fedfd1,#fed9c9,#fdd5c4,#fed9c9,#fedfd1,#fee6db,#ffede5)"></i>
<i style="background:linear-gradient(90deg,#fee7dc,#fee1d4,#fedfd0,#feddcd,#fedfd1,#fee1d4,#fee2d5,#fedfd1,#fed8c8,#fdd4c2,#fed8c8,#fedfd1,#fee6db,#ffede5)"></i>
<i style="background:linear-gradient(90deg,#fee7dc,#fee1d4,#fedfd0,#fedccd,#fedfd1,#fee1d4,#fee2d5,#fedfd1,#fed8c7,#fdd3c1,#fed8c7,#fedfd1,#fee6da,#ffede5)"></i>
<i style="background:linear-gradient(90deg,#fee7dc,#fee1d4,#fedfd0,#fedccd,#fedfd0,#fee1d4,#fee2d5,#fedfd0,#fed7c6,#fdd2c0,#fed7c6,#fedfd0,#fee6da,#ffede5)"></i>
<i style="background:linear-gradient(90deg,#fee7dc,#fee1d4,#feded0,#fedccd,#fedfd0,#fee1d3,#fee2d4,#fedfd0,#fdd6c5,#fdd2bf,#fdd7c5,#fedfd0,#fee6da,#ffede5)"></i>
<i style="background:linear-gradient(90deg,#fee7dc,#fee1d3,#fedecf,#fedccc,#feded0,#fee1d3,#fee1d4,#feded0,#fdd6c5,#fdd2bf,#fdd6c5,#fedfd0,#fee6da,#ffede5)"></i>
<i style="background:linear-gradient(90deg,#fee7dc,#fee1d3,#feddcf,#fedbcc,#fedecf,#fee0d3,#fee1d3,#fedecf,#fdd6c5,#fdd2bf,#fdd6c5,#feded0,#fee6da,#ffede5)"></i>
<i style="background:linear-gradient(90deg,#fee7dc,#fee0d2,#feddce,#fedbcb,#feddcf,#fee0d2,#fee0d2,#feddcf,#fdd6c5,#fdd2bf,#fdd6c5,#feded0,#fee6da,#ffede5)"></i>
<i style="background:linear-gradient(90deg,#fee7dc,#fee0d2,#fedccd,#fedacb,#feddce,#fee0d2,#fee0d2,#feddce,#fdd6c4,#fdd2bf,#fdd6c5,#feded0,#fee6da,#ffede5)"></i>
<i style="background:linear-gradient(90deg,#fee7db,#fee0d2,#fedccd,#fedaca,#feddce,#fedfd1,#fedfd1,#feddce,#fdd6c4,#fdd1bf,#fdd6c5,#feded0,#fee6da,#ffede5)"></i>
<i style="background:linear-gradient(90deg,#fee7db,#fedfd1,#fedbcc,#fedaca,#fedccd,#fedfd1,#fedfd0,#fedccd,#fdd5c4,#fdd1bf,#fdd6c5,#feded0,#fee6da,#ffede5)"></i>
<i style="background:linear-gradient(90deg,#fee6db,#fedfd1,#fedbcb,#fed9c9,#fedccd,#fedfd0,#feded0,#fedccd,#fdd5c4,#fdd1bf,#fdd6c5,#fedecf,#fee5da,#ffede5)"></i>
<i style="background:linear-gradient(90deg,#fee6db,#fedfd1,#fedacb,#fed9c8,#fedccc,#feded0,#fedecf,#fedccc,#fdd5c4,#fdd1be,#fdd6c5,#fedecf,#fee5da,#ffede5)"></i>
<i style="background:linear-gradient(90deg,#fee6db,#fedfd0,#fedaca,#fed8c8,#fedbcc,#fedecf,#feddce,#fedbcc,#fdd5c3,#fdd1be,#fdd6c4,#fedecf,#fee5da,#ffede5)"></i>
<i style="background:linear-gradient(90deg,#fee6db,#feded0,#fed9c9,#fed8c7,#fedbcc,#feddcf,#feddce,#fedbcc,#fdd5c3,#fdd1be,#fdd6c4,#fedecf,#fee5da,#ffede5)"></i>
<i style="background:linear-gradient(90deg,#fee6db,#feded0,#fed9c9,#fed7c7,#fedbcb,#feddce,#fedccd,#fedbcb,#fdd5c3,#fdd1be,#fdd6c4,#fedecf,#fee5da,#ffede5)"></i>
<i style="background:linear-gradient(90deg,#fee6db,#fedecf,#fed8c8,#fed7c6,#fedacb,#feddce,#fedccc,#fedacb,#fdd4c3,#fdd1be,#fdd6c4,#fedecf,#fee5d9,#ffede5)"></i>
<i style="background:linear-gradient(90deg,#fee6da,#fedecf,#fed8c7,#fdd7c6,#fedaca,#fedccd,#fedbcc,#fedaca,#fdd4c2,#fdd1be,#fdd5c4,#fedecf,#fee5d9,#ffede5)"></i>
<i style="background:linear-gradient(90deg,#fee6da,#feddce,#fed8c7,#fdd7c6,#fedaca,#fedccd,#fedbcb,#fedaca,#fdd5c3,#fdd1bf,#fdd6c5,#fedecf,#fee5d9,#ffede5)"></i>
<i style="background:linear-gradient(90deg,#fee6da,#feddce,#fed7c7,#fdd7c6,#fedaca,#fedccc,#fedaca,#fedaca,#fdd5c3,#fdd2bf,#fdd6c5,#fedecf,#fee5d9,#ffede5)"></i>
<i style="background:linear-gradient(90deg,#fee6da,#fedccd,#fed7c6,#fed7c6,#fedaca,#fedbcc,#fed9c9,#fed9c9,#fdd5c4,#fdd3c0,#fed7c6,#fedecf,#fee5d9,#ffede5)"></i>
<i style="background:linear-gradient(90deg,#fee5da,#fedccd,#fed7c6,#fed7c6,#fedaca,#fedbcb,#fed9c8,#fed9c9,#fdd6c5,#fdd3c1,#fed7c7,#feded0,#fee5d9,#ffede5)"></i>
<i style="background:linear-gradient(90deg,#fee5da,#fedbcc,#fed7c6,#fed7c6,#fedaca,#fedaca,#fed8c7,#fed9c8,#fdd6c5,#fdd4c2,#fed8c7,#feded0,#fee5d9,#ffede5)"></i>
<i style="background:linear-gradient(90deg,#fee5da,#fedbcb,#fdd7c6,#fed7c6,#fedaca,#fedaca,#fed7c6,#fed9c8,#fdd7c6,#fdd5c3,#fed8c8,#fedfd0,#fee5d9,#ffede5)"></i>
<i style="background:linear-gradient(90deg,#fee5d9,#fedbcb,#fdd7c6,#fed7c6,#fedaca,#fed9c9,#fdd7c6,#fed8c8,#fed7c6,#fdd5c4,#fed9c9,#fedfd0,#fee5d9,#ffede5)"></i>
<i style="background:linear-gradient(90deg,#fee5d9,#fedaca,#fdd6c5,#fed7c6,#fedaca,#fed9c9,#fdd6c5,#fed8c7,#fed8c7,#fdd6c5,#fed9c9,#fedfd0,#fee5d9,#ffede5)"></i>
<i style="background:linear-gradient(90deg,#fee5d9,#fedaca,#fdd6c5,#fed7c6,#fedaca,#fed9c8,#fdd5c4,#fed8c7,#fed8c7,#fdd7c6,#fedaca,#fedfd1,#fee5d9,#ffede5)"></i>
<i style="background:linear-gradient(90deg,#fee5d9,#fed9c9,#fdd6c5,#fed7c7,#fedaca,#fed8c8,#fdd5c3,#fed8c7,#fed8c8,#fed7c7,#fedacb,#fedfd1,#fee5d9,#ffede5)"></i>
<i style="background:linear-gradient(90deg,#fee5d9,#fed9c9,#fdd6c5,#fed7c7,#fedaca,#fed8c7,#fdd4c2,#fed7c6,#fed9c8,#fed8c8,#fedbcb,#fedfd1,#fee5d9,#ffede5)"></i>
<i style="background:linear-gradient(90deg,#fee5d9,#fed9c8,#fdd6c4,#fed8c7,#fedaca,#fed7c7,#fdd3c1,#fed7c6,#fed9c9,#fed9c8,#fedbcc,#fee0d1,#fee5d9,#ffede5)"></i>
<i style="background:linear-gradient(90deg,#fee5d9,#fed8c8,#fdd6c4,#fed8c7,#fedaca,#fed7c6,#fdd3c0,#fed7c6,#fedaca,#fed9c9,#fedccd,#fee0d2,#fee5d9,#ffede5)"></i>
<i style="background:linear-gradient(90deg,#fee4d8,#fed8c7,#fdd5c4,#fed8c7,#fedaca,#fdd7c5,#fdd2bf,#fdd7c5,#fedaca,#fedaca,#fedccd,#fee0d2,#fee5d9,#ffede5)"></i>
<i style="background:linear-gradient(90deg,#fee4d8,#fed7c6,#fdd5c4,#fed7c6,#fed9c9,#fdd6c5,#fdd2bf,#fdd6c5,#fed9c9,#fed9c9,#fedccc,#fedfd0,#fee5d9,#ffede5)"></i>
<i style="background:linear-gradient(90deg,#fee4d7,#fed7c6,#fdd5c3,#fed7c6,#fed9c8,#fdd6c5,#fdd1be,#fdd6c5,#fed9c8,#fed9c8,#fedbcb,#fedecf,#fee5d9,#ffede5)"></i>
<i style="background:linear-gradient(90deg,#fee3d7,#fdd6c5,#fdd5c3,#fdd6c5,#fed8c8,#fdd6c4,#fdd1be,#fdd6c4,#fed8c8,#fed8c8,#fedaca,#feddce,#fee5d9,#ffede5)"></i>
<i style="background:linear-gradient(90deg,#fee3d6,#fdd6c5,#fdd4c3,#fdd6c5,#fed8c7,#fdd5c4,#fdd1be,#fdd5c4,#fed8c7,#fed8c7,#fed9c9,#fedccc,#fee5d9,#ffede5)"></i>
<i style="background:linear-gradient(90deg,#fee3d6,#fdd6c4,#fdd4c2,#fdd6c4,#fed7c6,#fdd5c3,#fdd0bd,#fdd5c3,#fed7c6,#fed7c6,#fed8c8,#fedbcb,#fee5d9,#ffede5)"></i>
<i style="background:linear-gradient(90deg,#fee2d6,#fdd5c4,#fdd4c2,#fdd5c4,#fdd6c5,#fdd5c3,#fdd0bd,#fdd5c3,#fdd6c5,#fdd6c5,#fed8c7,#fedaca,#fee5d9,#ffede5)"></i>
<i style="background:linear-gradient(90deg,#fee2d5,#fdd5c3,#fdd4c2,#fdd5c3,#fdd6c5,#fdd4c2,#fdd0bc,#fdd4c2,#fdd6c5,#fdd6c5,#fed7c6,#fed9c8,#fee5d9,#ffede5)"></i>
<i style="background:linear-gradient(90deg,#fee2d5,#fdd4c3,#fdd3c1,#fdd4c3,#fdd5c4,#fdd4c2,#fdcfbc,#fdd4c2,#fdd5c4,#fdd5c4,#fdd6c5,#fed8c7,#fee5d9,#ffede5)"></i>
<i style="background:linear-gradient(90deg,#fee1d4,#fdd4c2,#fdd3c1,#fdd4c2,#fdd5c3,#fdd3c1,#fdcfbb,#fdd3c1,#fdd5c3,#fdd5c3,#fdd5c4,#fdd7c6,#fee5d9,#ffede5)"></i>
<i style="background:linear-gradient(90deg,#fee1d4,#fdd3c1,#fdd3c1,#fdd3c1,#fdd4c2,#fdd3c1,#fdcfbb,#fdd3c1,#fdd4c2,#fdd4c2,#fdd5c3,#fdd6c4,#fee5d9,#ffede5)"></i>
<i style="background:linear-gradient(90deg,#fee1d3,#fdd3c1,#fdd3c0,#fdd3c1,#fdd3c1,#fdd3c1,#fdceba,#fdd3c1,#fdd3c1,#fdd3c1,#fdd4c2,#fdd5c3,#fee5d9,#ffede5)"></i>
<i style="background:linear-gradient(90deg,#fee0d3,#fdd3c0,#fdd2c0,#fdd3c0,#fdd3c1,#fdd2c0,#fdceba,#fdd2c0,#fdd3c1,#fdd3c1,#fdd3c1,#fdd4c2,#fee5d9,#ffede5)"></i>
<i style="background:linear-gradient(90deg,#fee0d2,#fdd2c0,#fdd2c0,#fdd2c0,#fdd2c0,#fdd2c0,#fdcdb9,#fdd2c0,#fdd2c0,#fdd2c0,#fdd2c0,#fdd3c0,#fee5d9,#ffede5)"></i>
<i style="background:linear-gradient(90deg,#fee0d2,#fdd2bf,#fdd2bf,#fdd2bf,#fdd2bf,#fdd2bf,#fdcdb9,#fdd2bf,#fdd2bf,#fdd2bf,#fdd2bf,#fdd2c0,#fee5d8,#ffede5)"></i>
<i style="background:linear-gradient(90deg,#fedfd1,#fdd1be,#fdd1be,#fdd1be,#fdd1be,#fdd2bf,#fdcdb9,#fdd2bf,#fdd2bf,#fdd2bf,#fdd2bf,#fdd3c0,#fee5d8,#ffede5)"></i>
<i style="background:linear-gradient(90deg,#fedfd0,#fdd1be,#fdd0bd,#fdd0bd,#fdd1be,#fdd2bf,#fdcdb9,#fdd2bf,#fdd2bf,#fdd2bf,#fdd2bf,#fdd3c1,#fee5d8,#ffede5)"></i>
<i style="background:linear-gradient(90deg,#feded0,#fdd0bd,#fdcfbc,#fdcfbc,#fdd0bd,#fdd2bf,#fdcdb9,#fdd2bf,#fdd2bf,#fdd2bf,#fdd2bf,#fdd4c2,#fee5d8,#ffede5)"></i>
<i style="background:linear-gradient(90deg,#fedecf,#fdcfbc,#fdcfbb,#fdcfbb,#fdcfbc,#fdd2bf,#fdcdb9,#fdd2bf,#fdd2bf,#fdd2bf,#fdd2bf,#fdd4c2,#fee5d8,#ffede5)"></i>
<i style="background:linear-gradient(90deg,#feddce,#fdcfbb,#fdceba,#fdceba,#fdcfbb,#fdd2bf,#fdcdb9,#fdd2bf,#fdd2bf,#fdd2bf,#fdd2bf,#fdd5c3,#fee5d8,#ffede5)"></i>
<i style="background:linear-gradient(90deg,#feddce,#fdceba,#fdcdb9,#fdcdb9,#fdceba,#fdd2bf,#fdcdb9,#fdd2bf,#fdd2bf,#fdd2bf,#fdd2bf,#fdd5c4,#fee5d8,#ffede5)"></i>
<i style="background:linear-gradient(90deg,#fedccd,#fdceba,#fdccb8,#fdccb8,#fdceba,#fdd2bf,#fdcdb9,#fdd2bf,#fdd2bf,#fdd2bf,#fdd2bf,#fdd6c4,#fee5d8,#ffede5)"></i>
<i style="background:linear-gradient(90deg,#fedccc,#fdcdb9,#fdccb7,#fdccb7,#fdcdb9,#fdd2bf,#fdcdb9,#fdd2bf,#fdd2bf,#fdd2bf,#fdd2bf,#fdd6c5,#fee5d8,#ffede5)"></i>
<i style="background:linear-gradient(90deg,#fedbcc,#fdccb8,#fdcbb6,#fdcbb6,#fdccb8,#fdd2bf,#fdcdb9,#fdd2bf,#fdd2bf,#fdd2bf,#fdd2bf,#fdd7c6,#fee5d8,#ffede5)"></i>
<i style="background:linear-gradient(90deg,#fedbcb,#fdccb7,#fdcab5,#fdcab5,#fdccb7,#fdd2bf,#fdcdb9,#fdd2bf,#fdd2bf,#fdd2bf,#fdd2bf,#fed7c6,#fee5d8,#ffede5)"></i>
<i style="background:linear-gradient(90deg,#fedaca,#fdcbb6,#fdc9b4,#fdc9b4,#fdcbb6,#fdd2bf,#fdcdb9,#fdd2bf,#fdd2bf,#fdd2bf,#fdd2bf,#fed8c7,#fee5d8,#ffede5)"></i>
<i style="background:linear-gradient(90deg,#fedaca,#fdcbb6,#fdc9b3,#fdc9b3,#fdcbb6,#fdd2bf,#fdcdb9,#fdd2bf,#fdd2bf,#fdd2bf,#fdd2bf,#fed8c8,#fee5d8,#ffede5)"></i>
<i style="background:linear-gradient(90deg,#fed9c9,#fdcab5,#fdc8b2,#fdc8b2,#fdcab5,#fdd2bf,#fdcdb9,#fdd2bf,#fdd2bf,#fdd2bf,#fdd2bf,#fed9c8,#fee5d8,#ffede5)"></i>
<i style="background:linear-gradient(90deg,#fed9c9,#fdcab5,#fdc8b2,#fdc8b2,#fdcab6,#fdd1bf,#fdcdb9,#fdd2bf,#fdd2bf,#fdd2bf,#fdd2bf,#fed9c9,#fee4d8,#ffede5)"></i>
<i style="background:linear-gradient(90deg,#fed9c9,#fdcbb6,#fdc9b3,#fdc9b3,#fdccb7,#fdd1be,#fdcdb9,#fdd2bf,#fdd2bf,#fdd1be,#fdd2bf,#fed9c9,#fee4d8,#ffede4)"></i>
<i style="background:linear-gradient(90deg,#fed9c9,#fdcbb7,#fdc9b4,#fdc9b4,#fdcdb8,#fdd0bd,#fdcdb9,#fdd2bf,#fdd2bf,#fdd0bd,#fdd2bf,#fed9c9,#fee4d7,#ffede4)"></i>
<i style="background:linear-gradient(90deg,#fed9c9,#fdccb7,#fdcab5,#fdcab5,#fdceba,#fdcfbc,#fdcdb9,#fdd2bf,#fdd2bf,#fdd0bd,#fdd2bf,#fed9c9,#fee3d7,#ffede4)"></i>
<i style="background:linear-gradient(90deg,#fed9c9,#fdcdb8,#fdcbb6,#fdcbb6,#fdcfbb,#fdcebb,#fdcdb9,#fdd2bf,#fdd2bf,#fdcfbc,#fdd2bf,#fed9c9,#fee3d6,#ffece4)"></i>
<i style="background:linear-gradient(90deg,#fed9c9,#fdcdb9,#fdccb7,#fdccb7,#fdd0bd,#fdceba,#fdcdb9,#fdd2bf,#fdd2bf,#fdcfbb,#fdd2bf,#fed9c9,#fee3d6,#ffece4)"></i>
<i style="background:linear-gradient(90deg,#fed9c9,#fdceba,#fdcdb8,#fdcdb8,#fdd1be,#fdcdb9,#fdcdb9,#fdd2bf,#fdd2bf,#fdceba,#fdd2bf,#fed9c9,#fee2d5,#ffece3)"></i>
<i style="background:linear-gradient(90deg,#fed9c9,#fdcebb,#fdcdb9,#fdcdb9,#fdd2c0,#fdccb8,#fdcdb9,#fdd2bf,#fdd2bf,#fdcdb9,#fdd2bf,#fed9c9,#fee2d5,#ffece3)"></i>
<i style="background:linear-gradient(90deg,#fed9c9,#fdcfbb,#fdceba,#fdceba,#fdd3c1,#fdcbb7,#fdcdb9,#fdd2bf,#fdd2bf,#fdcdb9,#fdd2bf,#fed9c9,#fee2d4,#ffece3)"></i>
<i style="background:linear-gradient(90deg,#fed9c9,#fdcfbc,#fdcfbb,#fdcfbb,#fdd4c3,#fdcbb6,#fdcdb9,#fdd2bf,#fdd2bf,#fdccb8,#fdd2bf,#fed9c9,#fee1d4,#ffece3)"></i>
<i style="background:linear-gradient(90deg,#fed9c9,#fdd0bd,#fdd0bc,#fdd0bc,#fdd5c4,#fdcab5,#fdcdb9,#fdd2bf,#fdd2bf,#fdccb7,#fdd2bf,#fed9c9,#fee1d3,#ffece3)"></i>
<i style="background:linear-gradient(90deg,#fed9c9,#fdd1be,#fdd0bd,#fdd0bd,#fdd7c6,#fdc9b4,#fdcdb9,#fdd2bf,#fdd2bf,#fdcbb6,#fdd2bf,#fed9c9,#fee1d3,#ffebe2)"></i>
<i style="background:linear-gradient(90deg,#fed9c9,#fdd1be,#fdd1be,#fdd1be,#fed8c7,#fdc8b3,#fdcdb9,#fdd2bf,#fdd2bf,#fdcab5,#fdd2bf,#fed9c9,#fee0d2,#ffebe2)"></i>
<i style="background:linear-gradient(90deg,#fed9c9,#fdd2bf,#fdd2bf,#fdd2bf,#fed9c8,#fdc8b2,#fdcdb9,#fdd2bf,#fdd2bf,#fdcab5,#fdd2bf,#fed9c9,#fee0d2,#ffebe2)"></i>
<i style="background:linear-gradient(90deg,#fed9c9,#fdd2c0,#fdd2c0,#fdd2c0,#fed8c8,#fdc7b1,#fdcebb,#fdd3c1,#fdd2c0,#fdcab5,#fdd1bf,#fed9c9,#fee0d2,#ffebe2)"></i>
<i style="background:linear-gradient(90deg,#fed9c9,#fdd3c1,#fdd3c1,#fdd3c1,#fed8c7,#fdc7b1,#fdcfbc,#fdd4c2,#fdd3c1,#fdcbb6,#fdd1be,#fed9c9,#fee0d2,#ffebe2)"></i>
<i style="background:linear-gradient(90deg,#fed9c9,#fdd3c1,#fdd3c1,#fdd3c1,#fed7c7,#fdc6b0,#fdd0bd,#fdd5c3,#fdd3c1,#fdccb7,#fdd0bd,#fed9c9,#fee0d2,#ffebe2)"></i>
<i style="background:linear-gradient(90deg,#fed9c9,#fdd4c2,#fdd4c2,#fdd4c2,#fed7c6,#fdc6b0,#fdd2bf,#fdd6c5,#fdd4c2,#fdccb8,#fdd0bc,#fed9c9,#fee0d2,#ffebe2)"></i>
<i style="background:linear-gradient(90deg,#fed9c9,#fdd4c3,#fdd4c3,#fdd4c3,#fdd6c5,#fdc6af,#fdd3c0,#fed7c6,#fdd4c3,#fdcdb8,#fdcfbc,#fed9c9,#fee0d2,#ffebe2)"></i>
<i style="background:linear-gradient(90deg,#fed9c9,#fdd5c3,#fdd5c3,#fdd5c3,#fdd6c5,#fdc5af,#fdd4c2,#fed8c7,#fdd5c3,#fdcdb9,#fdcebb,#fed9c9,#fee0d2,#ffebe2)"></i>
<i style="background:linear-gradient(90deg,#fed9c9,#fdd5c4,#fdd5c4,#fdd5c4,#fdd5c4,#fdc5ae,#fdd5c3,#fed9c9,#fdd5c4,#fdceba,#fdceba,#fed9c9,#fee0d2,#ffebe2)"></i>
<i style="background:linear-gradient(90deg,#fed9c9,#fdd6c5,#fdd6c5,#fdd6c5,#fdd5c3,#fdc5ae,#fdd6c5,#fedaca,#fdd6c5,#fdcebb,#fdcdb9,#fed9c9,#fee0d2,#ffebe2)"></i>
<i style="background:linear-gradient(90deg,#fed9c9,#fdd6c5,#fdd6c5,#fdd6c5,#fdd4c3,#fdc4ae,#fed7c6,#fedbcb,#fdd6c5,#fdcfbc,#fdcdb8,#fed9c9,#fee0d2,#ffebe2)"></i>
<i style="background:linear-gradient(90deg,#fed9c9,#fed7c6,#fed7c6,#fed7c6,#fdd4c2,#fcc4ad,#fed8c8,#fedccd,#fed7c6,#fdd0bc,#fdccb8,#fed9c9,#fee0d2,#ffebe2)"></i>
<i style="background:linear-gradient(90deg,#fed9c9,#fed7c7,#fed7c7,#fed7c7,#fdd3c1,#fcc4ad,#fed9c9,#feddce,#fed7c7,#fdd0bd,#fdcbb7,#fed9c9,#fee0d2,#ffebe2)"></i>
<i style="background:linear-gradient(90deg,#fed9c9,#fed8c7,#fed8c7,#fed8c7,#fdd3c1,#fcc3ac,#fedacb,#fedecf,#fed8c7,#fdd1be,#fdcbb6,#fed9c9,#fee0d2,#ffebe2)"></i>
<i style="background:linear-gradient(90deg,#fed9c9,#fed8c8,#fed8c8,#fed8c8,#fdd2c0,#fcc3ac,#fedbcc,#fedfd1,#fed8c8,#fdd1bf,#fdcab5,#fed9c9,#fee0d2,#ffebe2)"></i>
<i style="background:linear-gradient(90deg,#fed9c8,#fed9c8,#fed9c8,#fed9c8,#fdd2bf,#fcc3ab,#fedccd,#fee0d2,#fed9c9,#fdd2bf,#fdcab5,#fed9c9,#fee0d2,#ffebe2)"></i>
<i style="background:linear-gradient(90deg,#fed8c8,#fed8c8,#fed8c8,#fed8c8,#fdd2bf,#fcc3ab,#fedbcc,#fee0d2,#fed9c9,#fdd2bf,#fdcbb6,#fed9c9,#fee0d2,#ffebe2)"></i>
<i style="background:linear-gradient(90deg,#fed8c7,#fed8c7,#fed8c7,#fed8c7,#fdd2bf,#fcc3ab,#fedbcb,#fee0d2,#fedaca,#fdd2bf,#fdccb8,#fed9c9,#fee0d2,#ffebe2)"></i>
<i style="background:linear-gradient(90deg,#fed7c6,#fed7c6,#fed7c6,#fed7c6,#fdd2bf,#fcc3ab,#fedaca,#fee0d3,#fedacb,#fdd2bf,#fdcdb9,#fed9c9,#fee0d2,#ffebe2)"></i>
<i style="background:linear-gradient(90deg,#fed7c6,#fed7c6,#fed7c6,#fed7c6,#fdd2bf,#fcc3ab,#fed9c9,#fee1d3,#fedbcb,#fdd2bf,#fdcebb,#fed9c9,#fee0d2,#ffebe2)"></i>
<i style="background:linear-gradient(90deg,#fdd6c5,#fdd6c5,#fdd6c5,#fdd6c5,#fdd2bf,#fcc3ab,#fed8c8,#fee1d3,#fedccc,#fdd2bf,#fdcfbc,#fed9c9,#fee0d2,#ffebe2)"></i>
<i style="background:linear-gradient(90deg,#fdd6c4,#fdd6c4,#fdd6c4,#fdd6c4,#fdd2bf,#fcc3ab,#fed8c7,#fee1d4,#fedccd,#fdd2bf,#fdd1be,#fed9c9,#fee0d2,#ffebe2)"></i>
<i style="background:linear-gradient(90deg,#fdd5c4,#fdd5c4,#fdd5c4,#fdd5c4,#fdd2bf,#fcc3ab,#fed7c6,#fee1d4,#feddcd,#fdd2bf,#fdd2bf,#fed9c9,#fee0d2,#ffebe2)"></i>
<i style="background:linear-gradient(90deg,#fdd5c3,#fdd5c3,#fdd5c3,#fdd5c3,#fdd2bf,#fcc3ab,#fdd6c5,#fee1d4,#feddce,#fdd2bf,#fdd3c0,#fed9c9,#fee0d2,#ffebe2)"></i>
<i style="background:linear-gradient(90deg,#fdd4c2,#fdd4c2,#fdd4c2,#fdd4c2,#fdd2bf,#fcc3ab,#fdd5c4,#fee2d4,#fedecf,#fdd2bf,#fdd4c2,#fed9c9,#fee0d2,#ffebe2)"></i>
<i style="background:linear-gradient(90deg,#fdd4c2,#fdd4c2,#fdd4c2,#fdd4c2,#fdd2bf,#fcc3ab,#fdd5c3,#fee2d5,#fedecf,#fdd2bf,#fdd5c3,#fed9c9,#fee0d2,#ffebe2)"></i>
<i style="background:linear-gradient(90deg,#fdd3c1,#fdd3c1,#fdd3c1,#fdd3c1,#fdd2bf,#fcc3ab,#fdd4c2,#fee2d5,#fedfd0,#fdd2bf,#fdd6c5,#fed9c9,#fee0d2,#ffebe2)"></i>
<i style="background:linear-gradient(90deg,#fdd3c0,#fdd3c0,#fdd3c0,#fdd3c0,#fdd2bf,#fcc3ab,#fdd3c1,#fee2d5,#fedfd1,#fdd2bf,#fed7c6,#fed9c9,#fee0d2,#ffebe2)"></i>
<i style="background:linear-gradient(90deg,#fdd2c0,#fdd2c0,#fdd2c0,#fdd2c0,#fdd2bf,#fcc3ab,#fdd2c0,#fee2d5,#fee0d1,#fdd2bf,#fed8c8,#fed9c9,#fee0d2,#ffebe2)"></i>
<i style="background:linear-gradient(90deg,#fdd2bf,#fdd1bf,#fdd1bf,#fdd2bf,#fdd2bf,#fcc3ab,#fdd1bf,#fee2d5,#fee0d2,#fdd2c0,#fed9c8,#fed9c9,#fee0d2,#ffebe2)"></i>
<i style="background:linear-gradient(90deg,#fdd1be,#fdd0bd,#fdd0bd,#fdd1bf,#fdd1be,#fcc2aa,#fdd0bd,#fee2d5,#fedfd1,#fdd3c0,#fed8c8,#fed9c9,#fedfd1,#ffebe2)"></i>
<i style="background:linear-gradient(90deg,#fdd0bd,#fdcfbc,#fdcfbc,#fdd1be,#fdd0bd,#fcc1a9,#fdcfbc,#fee1d4,#fedfd0,#fdd3c1,#fed8c7,#fed9c9,#fedfd0,#ffebe2)"></i>
<i style="background:linear-gradient(90deg,#fdd0bd,#fdceba,#fdceba,#fdd1be,#fdd0bd,#fcc1a9,#fdceba,#fee1d4,#feded0,#fdd4c2,#fed7c6,#fed9c9,#feded0,#ffebe2)"></i>
<i style="background:linear-gradient(90deg,#fdcfbc,#fdcdb9,#fdcdb9,#fdd0bd,#fdcfbc,#fcc0a8,#fdcdb9,#fee1d3,#fedecf,#fdd4c2,#fdd7c6,#fed9c9,#fedecf,#ffebe2)"></i>
<i style="background:linear-gradient(90deg,#fdcfbb,#fdccb7,#fdccb7,#fdd0bd,#fdcfbb,#fcc0a7,#fdccb7,#fee0d2,#feddce,#fdd5c3,#fdd6c5,#fed9c9,#feddce,#ffebe2)"></i>
<i style="background:linear-gradient(90deg,#fdceba,#fdcbb6,#fdcbb6,#fdd0bc,#fdceba,#fcbfa6,#fdcbb6,#fee0d2,#feddcd,#fdd5c4,#fdd6c4,#fed9c9,#feddcd,#ffebe2)"></i>
<i style="background:linear-gradient(90deg,#fdceba,#fdcab5,#fdcab5,#fdcfbc,#fdceba,#fcbea6,#fdcab5,#fedfd1,#fedccd,#fdd6c4,#fdd5c4,#fed9c9,#fedccd,#ffebe2)"></i>
<i style="background:linear-gradient(90deg,#fdcdb9,#fdc9b3,#fdc9b3,#fdcfbc,#fdcdb9,#fcbea5,#fdc9b3,#fedfd0,#fedccc,#fdd6c5,#fdd5c3,#fed9c9,#fedccc,#ffebe2)"></i>
<i style="background:linear-gradient(90deg,#fdccb8,#fdc8b2,#fdc8b2,#fdcfbb,#fdccb8,#fcbda4,#fdc8b2,#feded0,#fedbcb,#fdd7c6,#fdd4c2,#fed9c9,#fedbcb,#ffebe2)"></i>
<i style="background:linear-gradient(90deg,#fdccb7,#fdc6b0,#fdc6b0,#fdcebb,#fdccb7,#fcbda3,#fdc6b0,#fedecf,#fedbcb,#fed7c6,#fdd4c2,#fed9c9,#fedbcb,#ffebe2)"></i>
<i style="background:linear-gradient(90deg,#fdcbb6,#fdc5af,#fdc5af,#fdceba,#fdcbb6,#fcbca2,#fdc5af,#feddcf,#fedaca,#fed8c7,#fdd3c1,#fed9c9,#fedaca,#ffebe2)"></i>
<i style="background:linear-gradient(90deg,#fdcbb6,#fdc4ad,#fdc4ad,#fdceba,#fdcbb6,#fcbba2,#fdc4ad,#feddce,#fedac9,#fed8c8,#fdd3c0,#fed9c9,#fedac9,#ffebe2)"></i>
<i style="background:linear-gradient(90deg,#fdcab5,#fcc3ac,#fcc3ac,#fdcdb9,#fdcab5,#fcbba1,#fcc3ac,#feddcd,#fed9c9,#fed9c8,#fdd2c0,#fed9c9,#fed9c9,#ffebe2)"></i>
<i style="background:linear-gradient(90deg,#fdc9b4,#fcc2aa,#fcc2aa,#fdcdb9,#fdc9b4,#fcb89e,#fcc2aa,#fedccc,#fed9c8,#fed9c8,#fdd2bf,#fed9c8,#fed8c8,#ffebe2)"></i>
<i style="background:linear-gradient(90deg,#fdc9b3,#fcc0a8,#fcc0a8,#fdcdb8,#fdc8b2,#fcb59a,#fcc0a8,#fedbcb,#fed8c7,#fed8c7,#fdd2bf,#fed8c7,#fed7c6,#ffebe1)"></i>
<i style="background:linear-gradient(90deg,#fdc8b3,#fcbea6,#fcbfa6,#fdccb8,#fdc7b1,#fcb196,#fcbea6,#fedaca,#fed8c7,#fed8c7,#fdd2bf,#fed8c7,#fdd6c5,#ffebe1)"></i>
<i style="background:linear-gradient(90deg,#fdc8b2,#fcbca4,#fcbda5,#fdccb7,#fdc6af,#fcae92,#fcbca4,#fedac9,#fed7c6,#fed7c6,#fdd2bf,#fed7c6,#fdd5c3,#feeae1)"></i>
<i style="background:linear-gradient(90deg,#fdc7b1,#fcbba2,#fcbca3,#fdcbb7,#fdc5ae,#fcaa8e,#fcbba2,#fed9c8,#fdd7c5,#fdd7c5,#fdd2bf,#fdd7c5,#fdd4c2,#feeae1)"></i>
<i style="background:linear-gradient(90deg,#fdc7b1,#fcb9a0,#fcbaa1,#fdcbb6,#fcc4ac,#fca68a,#fcb9a0,#fed8c7,#fdd6c5,#fdd6c5,#fdd2bf,#fdd6c5,#fdd3c0,#feeae0)"></i>
<i style="background:linear-gradient(90deg,#fdc6b0,#fcb79e,#fcb99f,#fdcab5,#fcc2ab,#fca386,#fcb79e,#fed7c6,#fdd5c4,#fdd5c4,#fdd2bf,#fdd5c4,#fdd2bf,#feeae0)"></i>
<i style="background:linear-gradient(90deg,#fdc6af,#fcb69b,#fcb79d,#fdcab5,#fcc1a9,#fc9f82,#fcb69b,#fdd7c5,#fdd5c3,#fdd5c3,#fdd2bf,#fdd5c3,#fdd0bd,#feeae0)"></i>
<i style="background:linear-gradient(90deg,#fdc5af,#fcb499,#fcb69b,#fdcab4,#fcc0a8,#fc9c7e,#fcb499,#fdd6c4,#fdd4c3,#fdd4c3,#fdd2bf,#fdd4c3,#fdcfbc,#fee9df)"></i>
<i style="background:linear-gradient(90deg,#fdc5ae,#fcb297,#fcb499,#fdc9b4,#fcbfa6,#fc987a,#fcb297,#fdd5c3,#fdd4c2,#fdd4c2,#fdd2bf,#fdd4c2,#fdceba,#fee9df)"></i>
<i style="background:linear-gradient(90deg,#fdc4ad,#fcb095,#fcb298,#fdc9b3,#fcbea5,#fc9576,#fcb095,#fdd4c2,#fdd3c1,#fdd3c1,#fdd2bf,#fdd3c1,#fdcdb9,#fee9df)"></i>
<i style="background:linear-gradient(90deg,#fcc4ad,#fcaf93,#fcb196,#fdc8b3,#fcbda4,#fc9172,#fcaf93,#fdd3c1,#fdd3c1,#fdd3c1,#fdd2bf,#fdd3c1,#fdccb8,#fee9df)"></i>
<i style="background:linear-gradient(90deg,#fcc3ac,#fcad91,#fcaf94,#fdc8b2,#fcbca2,#fc8e6e,#fcad91,#fdd3c0,#fdd2c0,#fdd2c0,#fdd2bf,#fdd2c0,#fdcbb6,#fee9de)"></i>
<i style="background:linear-gradient(90deg,#fcc3ab,#fcab8f,#fcae92,#fdc7b2,#fcbba1,#fc8a6a,#fcab8f,#fdd2bf,#fdd2bf,#fdd2bf,#fdd2bf,#fdd2bf,#fdcab5,#fee8de)"></i>
<i style="background:linear-gradient(90deg,#fcc2ab,#fcab8e,#fcad91,#fdc7b1,#fcba9f,#fc8969,#fcaa8e,#fdd0bd,#fdd0bd,#fdd0bd,#fdd1be,#fdd1bf,#fdcab5,#fee8de)"></i>
<i style="background:linear-gradient(90deg,#fcc2aa,#fcaa8d,#fcad91,#fdc7b1,#fcb89e,#fc8969,#fca98c,#fdcfbb,#fdcfbb,#fdcfbb,#fdd0bc,#fdd1be,#fdcbb6,#fee8de)"></i>
<i style="background:linear-gradient(90deg,#fcc1a9,#fca98d,#fcac90,#fdc6b0,#fcb79d,#fc8868,#fca88b,#fdcdb9,#fdcdb9,#fdcdb9,#fdcfbb,#fdd0bd,#fdccb7,#fee8de)"></i>
<i style="background:linear-gradient(90deg,#fcc0a8,#fca98c,#fcac90,#fdc6b0,#fcb69c,#fc8868,#fca689,#fdcbb6,#fdcbb6,#fdcbb6,#fdceba,#fdd0bc,#fdccb8,#fee8de)"></i>
<i style="background:linear-gradient(90deg,#fcc0a7,#fca88b,#fcab8f,#fdc6af,#fcb59a,#fc8767,#fca588,#fdcab4,#fdcab4,#fdcab4,#fdccb8,#fdcfbb,#fdcdb8,#fee8de)"></i>
<i style="background:linear-gradient(90deg,#fcbfa7,#fca78a,#fcab8f,#fdc5af,#fcb499,#fc8767,#fca487,#fdc8b2,#fdc8b2,#fdc8b2,#fdcbb7,#fdcebb,#fdcdb9,#fee8de)"></i>
<i style="background:linear-gradient(90deg,#fcbfa6,#fca78a,#fcab8e,#fdc5ae,#fcb398,#fc8666,#fca385,#fdc6b0,#fdc6b0,#fdc6b0,#fdcab5,#fdceba,#fdceba,#fee8de)"></i>
<i style="background:linear-gradient(90deg,#fcbea5,#fca689,#fcaa8e,#fdc5ae,#fcb296,#fc8666,#fca284,#fdc4ae,#fdc4ae,#fdc4ae,#fdc9b4,#fdcdb9,#fdcfbb,#fee8de)"></i>
<i style="background:linear-gradient(90deg,#fcbea4,#fca588,#fcaa8d,#fdc4ae,#fcb195,#fc8565,#fca082,#fcc3ab,#fcc3ab,#fcc3ab,#fdc8b2,#fdcdb8,#fdcfbc,#fee8de)"></i>
<i style="background:linear-gradient(90deg,#fcbda4,#fca587,#fca98d,#fcc4ad,#fcaf94,#fc8565,#fc9f81,#fcc1a9,#fcc1a9,#fcc1a9,#fdc7b1,#fdccb8,#fdd0bc,#fee8de)"></i>
<i style="background:linear-gradient(90deg,#fcbca3,#fca487,#fca98c,#fcc4ad,#fcae93,#fc8464,#fc9e80,#fcbfa7,#fcbfa7,#fcbfa7,#fdc6af,#fdcbb7,#fdd0bd,#fee8de)"></i>
<i style="background:linear-gradient(90deg,#fcbca2,#fca386,#fca88b,#fcc3ac,#fcad91,#fc8363,#fc9d7e,#fcbea5,#fcbea5,#fcbea5,#fdc5ae,#fdcbb6,#fdd1be,#fee8de)"></i>
<i style="background:linear-gradient(90deg,#fcbba1,#fca385,#fca88b,#fcc3ac,#fcac90,#fc8363,#fc9b7d,#fcbca2,#fcbca2,#fcbca2,#fcc4ac,#fdcab5,#fdd1bf,#fee8de)"></i>
<i style="background:linear-gradient(90deg,#fcbba1,#fca285,#fca78b,#fcc3ab,#fcab8f,#fc8363,#fc9b7c,#fcbba0,#fcbba0,#fcbba1,#fcc3ab,#fdcab4,#fdd2bf,#fee8de)"></i>
<i style="background:linear-gradient(90deg,#fcbba1,#fca285,#fca88b,#fcc3ab,#fcac90,#fc8565,#fc9b7d,#fcbaa0,#fcbaa0,#fcbba1,#fcc2aa,#fdc8b3,#fdd1be,#fee8de)"></i>
<i style="background:linear-gradient(90deg,#fcbba1,#fca285,#fca88b,#fcc3ab,#fcac90,#fc8667,#fc9c7d,#fcb99f,#fcb99f,#fcbba1,#fcc2aa,#fdc7b1,#fdcfbc,#fee8de)"></i>
<i style="background:linear-gradient(90deg,#fcbba1,#fca285,#fca88c,#fcc3ab,#fcad91,#fc8868,#fc9c7e,#fcb99f,#fcb99f,#fcbba1,#fcc1a9,#fdc6b0,#fdcebb,#fee8dd)"></i>
<i style="background:linear-gradient(90deg,#fcbba1,#fca285,#fca98c,#fcc3ab,#fcae92,#fc8a6a,#fc9d7e,#fcb89e,#fcb89e,#fcbba1,#fcc0a8,#fdc5ae,#fdcdb9,#fee8dd)"></i>
<i style="background:linear-gradient(90deg,#fcbba1,#fca285,#fca98c,#fcc3ab,#fcae92,#fc8c6c,#fc9d7f,#fcb89d,#fcb89d,#fcbba1,#fcc0a7,#fcc4ad,#fdccb8,#fee7dd)"></i>
<i style="background:linear-gradient(90deg,#fcbba1,#fca285,#fca98d,#fcc3ab,#fcaf93,#fc8d6e,#fc9e80,#fcb79d,#fcb79d,#fcbba1,#fcbfa6,#fcc3ac,#fdcbb6,#fee7dc)"></i>
<i style="background:linear-gradient(90deg,#fcbba1,#fca285,#fca98d,#fcc3ab,#fcaf94,#fc8f70,#fc9f80,#fcb79c,#fcb79c,#fcbba1,#fcbfa6,#fcc2aa,#fdcab5,#fee7dc)"></i>
<i style="background:linear-gradient(90deg,#fcbba1,#fca285,#fcaa8d,#fcc3ab,#fcb094,#fc9172,#fc9f81,#fcb69b,#fcb69b,#fcbba1,#fcbea5,#fcc1a9,#fdc9b3,#fee7dc)"></i>
<i style="background:linear-gradient(90deg,#fcbba1,#fca285,#fcaa8d,#fcc3ab,#fcb095,#fc9373,#fca082,#fcb59b,#fcb59b,#fcbba1,#fcbda4,#fcc0a7,#fdc8b2,#fee7dc)"></i>
<i style="background:linear-gradient(90deg,#fcbba1,#fca285,#fcaa8e,#fcc3ab,#fcb196,#fc9475,#fca082,#fcb59a,#fcb59a,#fcbba1,#fcbda3,#fcbfa6,#fdc7b0,#fee7db)"></i>
<i style="background:linear-gradient(90deg,#fcbba1,#fca285,#fcab8e,#fcc3ab,#fcb296,#fc9677,#fca183,#fcb499,#fcb499,#fcbba1,#fcbca3,#fcbda4,#fdc6af,#fee6db)"></i>
<i style="background:linear-gradient(90deg,#fcbba1,#fca285,#fcab8e,#fcc3ab,#fcb297,#fc9879,#fca184,#fcb499,#fcb499,#fcbba1,#fcbca2,#fcbca3,#fdc4ae,#fee6db)"></i>
<i style="background:linear-gradient(90deg,#fcbba1,#fca285,#fcab8f,#fcc3ab,#fcb397,#fc9a7b,#fca284,#fcb398,#fcb398,#fcbba1,#fcbba1,#fcbba1,#fcc3ac,#fee6da)"></i>
<i style="background:linear-gradient(90deg,#fcbaa0,#fca385,#fcac8f,#fcc2ab,#fcb397,#fc9b7c,#fca284,#fcb397,#fcb397,#fcbaa0,#fcbaa0,#fcba9f,#fcc2aa,#fee6da)"></i>
<i style="background:linear-gradient(90deg,#fcbaa0,#fca386,#fcac90,#fcc1a9,#fcb297,#fc9b7c,#fca284,#fcb297,#fcb297,#fcb99f,#fcb99f,#fcb79d,#fcc0a8,#fee6da)"></i>
<i style="background:linear-gradient(90deg,#fcb99f,#fca486,#fcad91,#fcc0a8,#fcb296,#fc9b7c,#fca184,#fcb296,#fcb296,#fcb89d,#fcb89d,#fcb59a,#fcbfa6,#fee6da)"></i>
<i style="background:linear-gradient(90deg,#fcb99e,#fca587,#fcad91,#fcbfa6,#fcb196,#fc9b7c,#fca183,#fcb196,#fcb196,#fcb79c,#fcb79c,#fcb297,#fcbda4,#fee6da)"></i>
<i style="background:linear-gradient(90deg,#fcb89e,#fca588,#fcae92,#fcbea5,#fcb095,#fc9b7c,#fca183,#fcb095,#fcb095,#fcb69b,#fcb69b,#fcb095,#fcbba2,#fee5da)"></i>
<i style="background:linear-gradient(90deg,#fcb89d,#fca689,#fcae92,#fcbca4,#fcb094,#fc9b7c,#fca082,#fcb094,#fcb094,#fcb49a,#fcb49a,#fcae92,#fcb9a0,#fee5da)"></i>
<i style="background:linear-gradient(90deg,#fcb79c,#fca78a,#fcaf93,#fcbba2,#fcaf94,#fc9b7c,#fca082,#fcaf94,#fcaf94,#fcb398,#fcb398,#fcab8f,#fcb89e,#fee5d9)"></i>
<i style="background:linear-gradient(90deg,#fcb69c,#fca78a,#fcaf94,#fcbaa1,#fcaf93,#fc9b7c,#fc9f81,#fcaf93,#fcaf93,#fcb297,#fcb297,#fca98d,#fcb69c,#fee5d9)"></i>
<i style="background:linear-gradient(90deg,#fcb69b,#fca88b,#fcb094,#fcb99f,#fcae92,#fc9b7c,#fc9f81,#fcae92,#fcae92,#fcb196,#fcb196,#fca78a,#fcb49a,#fee5d9)"></i>
<i style="background:linear-gradient(90deg,#fcb59b,#fca88c,#fcb195,#fcb89e,#fcae92,#fc9b7c,#fc9f81,#fcae92,#fcae92,#fcb094,#fcb094,#fca487,#fcb398,#fee5d9)"></i>
<i style="background:linear-gradient(90deg,#fcb59a,#fca98d,#fcb196,#fcb79c,#fcad91,#fc9b7c,#fc9e80,#fcad91,#fcad91,#fcaf93,#fcaf93,#fca284,#fcb196,#fee5d9)"></i>
<i style="background:linear-gradient(90deg,#fcb499,#fcaa8d,#fcb296,#fcb69b,#fcac90,#fc9b7c,#fc9e80,#fcac90,#fcac90,#fcae92,#fcae92,#fca082,#fcaf94,#fee5d9)"></i>
<i style="background:linear-gradient(90deg,#fcb499,#fcaa8e,#fcb297,#fcb49a,#fcac90,#fc9b7c,#fc9e7f,#fcac90,#fcac90,#fcad91,#fcad91,#fc9d7f,#fcad91,#fee5d9)"></i>
<i style="background:linear-gradient(90deg,#fcb398,#fcab8f,#fcb398,#fcb398,#fcab8f,#fc9b7c,#fc9d7f,#fcab8f,#fcab8f,#fcac8f,#fcac8f,#fc9b7c,#fcac8f,#fee5d9)"></i>
<i style="background:linear-gradient(90deg,#fcb297,#fca98c,#fcb297,#fcb196,#fcaa8d,#fc9b7d,#fc9b7d,#fca88c,#fcaa8d,#fcaa8e,#fcaa8d,#fc9b7c,#fcac8f,#fee5d8)"></i>
<i style="background:linear-gradient(90deg,#fcb195,#fca689,#fcb195,#fcaf93,#fca88b,#fc9d7e,#fc997a,#fca588,#fca88b,#fca98c,#fca88b,#fc9b7c,#fcac90,#fee5d8)"></i>
<i style="background:linear-gradient(90deg,#fcb094,#fca386,#fcb094,#fcac90,#fca689,#fc9e80,#fc9778,#fca184,#fca689,#fca88b,#fca689,#fc9b7c,#fcad91,#fee5d8)"></i>
<i style="background:linear-gradient(90deg,#fcae93,#fca083,#fcae93,#fcaa8d,#fca487,#fc9f81,#fc9476,#fc9e80,#fca487,#fca78a,#fca487,#fc9b7c,#fcad91,#fee5d8)"></i>
<i style="background:linear-gradient(90deg,#fcad91,#fc9d80,#fcad91,#fca78b,#fca285,#fca082,#fc9273,#fc9a7c,#fca285,#fca588,#fca285,#fc9b7c,#fcae92,#fee5d8)"></i>
<i style="background:linear-gradient(90deg,#fcac90,#fc9a7c,#fcac90,#fca588,#fca083,#fca284,#fc9071,#fc9679,#fca083,#fca487,#fca083,#fc9b7c,#fcae93,#fee5d8)"></i>
<i style="background:linear-gradient(90deg,#fcab8e,#fc9779,#fcab8e,#fca285,#fc9f80,#fca385,#fc8e6e,#fc9375,#fc9f80,#fca385,#fc9f80,#fc9b7c,#fcaf93,#fee5d8)"></i>
<i style="background:linear-gradient(90deg,#fcaa8d,#fc9476,#fcaa8d,#fca082,#fc9d7e,#fca487,#fc8b6c,#fc8f71,#fc9d7e,#fca284,#fc9d7e,#fc9b7c,#fcb094,#fee5d8)"></i>
<i style="background:linear-gradient(90deg,#fca88c,#fc9173,#fca88c,#fc9e7f,#fc9b7c,#fca588,#fc8969,#fc8c6d,#fc9b7c,#fca183,#fc9b7c,#fc9b7c,#fcb095,#fee5d8)"></i>
<i style="background:linear-gradient(90deg,#fca78a,#fc8e6f,#fca78a,#fc9b7d,#fc997a,#fca689,#fc8767,#fc8869,#fc997a,#fc9f81,#fc997a,#fc9b7c,#fcb195,#fee5d8)"></i>
<i style="background:linear-gradient(90deg,#fca689,#fc8b6c,#fca689,#fc997a,#fc9778,#fca88b,#fc8465,#fc8465,#fc9778,#fc9e80,#fc9778,#fc9b7c,#fcb196,#fee5d8)"></i>
<i style="background:linear-gradient(90deg,#fca587,#fc8869,#fca587,#fc9677,#fc9576,#fca98c,#fc8262,#fb8161,#fc9576,#fc9d7f,#fc9576,#fc9b7c,#fcb297,#fee5d8)"></i>
<i style="background:linear-gradient(90deg,#fca386,#fc8566,#fca386,#fc9474,#fc9374,#fcaa8e,#fc8060,#fb7d5d,#fc9374,#fc9c7d,#fc9374,#fc9b7c,#fcb297,#fee5d8)"></i>
<i style="background:linear-gradient(90deg,#fca285,#fc8262,#fca285,#fc9171,#fc9171,#fcab8f,#fb7d5d,#fb7a5a,#fc9171,#fc9a7c,#fc9171,#fc9a7c,#fcb398,#fee5d8)"></i>
<i style="background:linear-gradient(90deg,#fca082,#fc8161,#fca083,#fc8f6f,#fc9070,#fca98c,#fb795a,#fb7657,#fc8e6f,#fc9779,#fc9070,#fc997a,#fcb297,#fee4d8)"></i>
<i style="background:linear-gradient(90deg,#fc9e80,#fc8060,#fc9f81,#fc8d6d,#fc8f6f,#fca689,#fa7557,#fa7355,#fc8c6c,#fc9576,#fc8e6e,#fc9778,#fcb296,#fee4d7)"></i>
<i style="background:linear-gradient(90deg,#fc9b7d,#fc7f5f,#fc9d7f,#fc8b6b,#fc8e6e,#fca487,#f97154,#fa7052,#fc8969,#fc9273,#fc8c6c,#fc9576,#fcb196,#fee3d7)"></i>
<i style="background:linear-gradient(90deg,#fc997b,#fb7e5e,#fc9b7d,#fc8868,#fc8d6d,#fca184,#f96d51,#f96d50,#fc8666,#fc8f70,#fc8b6b,#fc9374,#fcb195,#fee3d7)"></i>
<i style="background:linear-gradient(90deg,#fc9778,#fb7c5c,#fc997b,#fc8666,#fc8c6c,#fc9f81,#f8694e,#f9694d,#fc8363,#fc8c6d,#fc8969,#fc9272,#fcb095,#fee3d6)"></i>
<i style="background:linear-gradient(90deg,#fc9476,#fb7b5b,#fc9879,#fc8464,#fc8b6b,#fc9d7f,#f7644a,#f8664b,#fb8060,#fc8969,#fc8767,#fc9071,#fcb094,#fee2d6)"></i>
<i style="background:linear-gradient(90deg,#fc9273,#fb7a5a,#fc9677,#fc8161,#fc8a6a,#fc9a7c,#f66047,#f76348,#fb7d5d,#fc8666,#fc8565,#fc8e6f,#fcaf93,#fee2d5)"></i>
<i style="background:linear-gradient(90deg,#fc9071,#fb7959,#fc9475,#fc7f5f,#fc8969,#fc9879,#f65c44,#f76046,#fb7a5a,#fc8363,#fc8464,#fc8c6d,#fcae93,#fee2d5)"></i>
<i style="background:linear-gradient(90deg,#fc8d6e,#fb7858,#fc9273,#fb7d5d,#fc8868,#fc9577,#f55841,#f65c43,#fb7757,#fb8060,#fc8262,#fc8b6b,#fcae92,#fee1d4)"></i>
<i style="background:linear-gradient(90deg,#fc8b6c,#fb7757,#fc9171,#fb7b5b,#fc8767,#fc9374,#f4543e,#f65941,#fb7454,#fb7d5d,#fc8060,#fc8969,#fcad91,#fee1d4)"></i>
<i style="background:linear-gradient(90deg,#fc8969,#fb7555,#fc8f6f,#fb7858,#fc8565,#fc9171,#f3503b,#f5563e,#fb7151,#fb7a5a,#fc7e5e,#fc8767,#fcad91,#fee1d3)"></i>
<i style="background:linear-gradient(90deg,#fc8667,#fb7454,#fc8d6d,#fb7656,#fc8464,#fc8e6f,#f34b37,#f5533c,#fb6e4e,#fb7757,#fb7d5d,#fc8566,#fcac90,#fee0d3)"></i>
<i style="background:linear-gradient(90deg,#fc8464,#fb7353,#fc8b6b,#fb7454,#fc8363,#fc8c6c,#f24734,#f45039,#fb6b4c,#fb7454,#fb7b5b,#fc8464,#fcac8f,#fee0d2)"></i>
<i style="background:linear-gradient(90deg,#fc8262,#fa7051,#fc8969,#fb7152,#fc8262,#fb8868,#f14332,#f34c37,#fa6849,#fa7051,#fb7959,#fc8262,#fcab8f,#fee0d2)"></i>
<i style="background:linear-gradient(90deg,#fc8060,#f86b4e,#fb8666,#fa6f50,#fb7f60,#f88063,#ee4030,#f04935,#f86346,#f76a4d,#fb7657,#fc8161,#fcaa8e,#fee0d2)"></i>
<i style="background:linear-gradient(90deg,#fb7e5e,#f5654a,#fb8364,#fa6c4e,#fb7d5d,#f5785e,#eb3d2e,#ee4534,#f55e43,#f4644a,#fb7455,#fc8060,#fcaa8d,#fee0d2)"></i>
<i style="background:linear-gradient(90deg,#fb7c5c,#f36047,#fb8061,#f9694c,#fb7a5b,#f27058,#e83a2d,#ec4232,#f35940,#f15e46,#fa7153,#fc7f5f,#fca98c,#fee0d2)"></i>
<i style="background:linear-gradient(90deg,#fb7b5b,#f05a43,#fb7d5e,#f9674a,#fb7859,#ef6853,#e5362b,#e93f30,#f0543d,#ee5842,#fa6f51,#fb7d5d,#fca88c,#fee0d2)"></i>
<i style="background:linear-gradient(90deg,#fb7959,#ee5540,#fb7a5b,#f86448,#fa7557,#ec614d,#e2332a,#e73b2e,#ee4f3b,#eb523f,#f96d4f,#fb7c5c,#fca88b,#fee0d2)"></i>
<i style="background:linear-gradient(90deg,#fb7757,#eb4f3c,#fa7759,#f86146,#fa7354,#e95948,#df3028,#e4382d,#eb4a38,#e84c3b,#f96a4d,#fb7b5b,#fca78a,#fee0d2)"></i>
<i style="background:linear-gradient(90deg,#fb7555,#e94939,#fa7456,#f75f44,#fa7052,#e65143,#dd2d27,#e2352b,#e94535,#e54637,#f9684b,#fb7a5a,#fca689,#fee0d2)"></i>
<i style="background:linear-gradient(90deg,#fb7353,#e64436,#fa7153,#f75c42,#fa6e50,#e3493d,#da2925,#df3129,#e64032,#e24034,#f86549,#fb7959,#fca689,#fee0d2)"></i>
<i style="background:linear-gradient(90deg,#fb7152,#e43e32,#fa6e50,#f65940,#fa6b4e,#e04138,#d72624,#dd2e28,#e43b2f,#df3a30,#f86347,#fb7757,#fca588,#fee0d2)"></i>
<i style="background:linear-gradient(90deg,#fb7050,#e1392f,#f96b4d,#f6563e,#f9694c,#dc3a32,#d42322,#da2a26,#e1362c,#dc342c,#f86045,#fb7656,#fca487,#fee0d2)"></i>
<i style="background:linear-gradient(90deg,#fb6e4e,#df332b,#f9684b,#f5543c,#f96649,#d9322d,#d12021,#d82724,#df312a,#d92e29,#f75e43,#fb7555,#fca486,#fee0d2)"></i>
<i style="background:linear-gradient(90deg,#fb6c4c,#dc2d28,#f96548,#f4513a,#f96447,#d62a28,#ce1c1f,#d62422,#dc2d27,#d62825,#f75b41,#fb7454,#fca386,#fee0d2)"></i>
<i style="background:linear-gradient(90deg,#fb6a4a,#da2824,#f96245,#f44e38,#f96145,#d32222,#cb191d,#d32021,#da2824,#d32122,#f6593f,#fb7353,#fca385,#fee0d2)"></i>
<i style="background:linear-gradient(90deg,#fb6949,#d82523,#f85e43,#f24b37,#f75e42,#cf1e1f,#c9181d,#d11f20,#d82523,#d11f20,#f6573e,#fb7353,#fca385,#fee0d2)"></i>
<i style="background:linear-gradient(90deg,#fb6849,#d72422,#f65b40,#f04835,#f45940,#c91c1e,#c8171c,#d01e1f,#d72422,#d01e1f,#f6563d,#fb7454,#fca386,#fee0d2)"></i>
<i style="background:linear-gradient(90deg,#fa6848,#d62322,#f4573e,#ed4533,#f1543d,#c21a1d,#c6171c,#cf1d1f,#d62322,#cf1d1f,#f6563d,#fb7555,#fca487,#fee0d2)"></i>
<i style="background:linear-gradient(90deg,#fa6748,#d52221,#f2533c,#eb4131,#ef4f3b,#bc181c,#c4161c,#ce1d1f,#d52221,#ce1d1f,#f6553d,#fb7656,#fca587,#fee0d2)"></i>
<i style="background:linear-gradient(90deg,#fa6648,#d42121,#f14f3a,#e83e30,#ec4b38,#b6161b,#c3161b,#cd1c1e,#d42121,#cd1c1e,#f5543c,#fb7858,#fca588,#fee0d2)"></i>
<i style="background:linear-gradient(90deg,#fa6647,#d32020,#ef4c38,#e63a2e,#e94635,#b01519,#c1161b,#cc1b1e,#d32020,#cc1b1e,#f5533c,#fb7959,#fca689,#fee0d2)"></i>
<i style="background:linear-gradient(90deg,#fa6547,#d21f20,#ed4836,#e4372c,#e64133,#aa1318,#bf151b,#cb1b1e,#d21f20,#cb1b1e,#f5533b,#fb7a5a,#fca78a,#fee0d2)"></i>
<i style="background:linear-gradient(90deg,#fa6446,#d11e1f,#eb4433,#e1342b,#e33c30,#a41117,#be151a,#ca1a1d,#d11e1f,#ca1a1d,#f5523b,#fb7b5b,#fca78a,#fee0d2)"></i>
<i style="background:linear-gradient(90deg,#f96446,#d01d1f,#ea4031,#df3029,#e1382d,#9e0f16,#bc141a,#c9191d,#d01d1f,#c9191d,#f5513a,#fb7c5c,#fca88b,#fee0d2)"></i>
<i style="background:linear-gradient(90deg,#f96346,#cf1c1f,#e83d2f,#dc2d27,#de332b,#980d15,#ba1419,#c8191d,#cf1c1f,#c8191d,#f4503a,#fb7e5e,#fca98c,#fee0d2)"></i>
<i style="background:linear-gradient(90deg,#f96245,#ce1b1e,#e6392d,#da2a25,#db2e28,#920b14,#b91419,#c6181c,#ce1b1e,#c6181c,#f45039,#fc7f5f,#fca98d,#fee0d2)"></i>
<i style="background:linear-gradient(90deg,#f96245,#cc1a1e,#e4352b,#d72624,#d82926,#8c0a13,#b71319,#c5171c,#cc1a1e,#c5171c,#f44f39,#fc8060,#fcaa8d,#fee0d2)"></i>
<i style="background:linear-gradient(90deg,#f96144,#cb191d,#e33129,#d52322,#d52423,#850811,#b51318,#c4171c,#cb191d,#c4171c,#f44e38,#fc8161,#fcaa8e,#fee0d2)"></i>
<i style="background:linear-gradient(90deg,#f96144,#ca181d,#e12e26,#d21f20,#d32020,#7f0610,#b41218,#c3161b,#ca181d,#c3161b,#f44d38,#fc8262,#fcab8f,#fee0d2)"></i>
<i style="background:linear-gradient(90deg,#f96145,#cd1c1f,#e2332a,#d42322,#d42121,#810610,#b8191c,#c61a1d,#cd1f22,#c61b1e,#f44d37,#fc8465,#fcac90,#fee0d2)"></i>
<i style="background:linear-gradient(90deg,#f96346,#d02021,#e43a2f,#d72825,#d62422,#840711,#bd2021,#ca1f20,#d12828,#ca2021,#f34c37,#fc8767,#fcad91,#fee0d3)"></i>
<i style="background:linear-gradient(90deg,#f96447,#d32524,#e64034,#da2c27,#d92724,#880811,#c22826,#ce2423,#d4312e,#ce2524,#f34b36,#fc896a,#fcae93,#fee1d3)"></i>
<i style="background:linear-gradient(90deg,#f96548,#d62a26,#e84739,#dd312a,#db2925,#8b0912,#c82f2a,#d12825,#d83a34,#d22b27,#f34b36,#fc8b6c,#fcb094,#fee1d4)"></i>
<i style="background:linear-gradient(90deg,#f96749,#da2e29,#ea4e3e,#e0362d,#dd2c26,#8f0a12,#cd372f,#d52d28,#dc433b,#d6302a,#f34a36,#fc8e6e,#fcb195,#fee2d4)"></i>
<i style="background:linear-gradient(90deg,#fa684a,#dd332b,#ec5543,#e23b2f,#df2f28,#920a13,#d23e34,#d9322a,#df4b41,#da362d,#f34935,#fc9071,#fcb296,#fee2d5)"></i>
<i style="background:linear-gradient(90deg,#fa694b,#e0382d,#ee5b48,#e53f32,#e23229,#950b13,#d74639,#dc372d,#e35447,#de3b2f,#f34935,#fc9273,#fcb398,#fee2d5)"></i>
<i style="background:linear-gradient(90deg,#fa6b4c,#e33c30,#f0624d,#e84434,#e4342a,#990c14,#dc4d3d,#e03b2f,#e75d4d,#e24032,#f24834,#fc9576,#fcb499,#fee3d6)"></i>
<i style="background:linear-gradient(90deg,#fa6c4d,#e74132,#f26952,#eb4937,#e6372c,#9c0d14,#e25542,#e44032,#ea6653,#e54635,#f24834,#fc9778,#fcb59a,#fee3d6)"></i>
<i style="background:linear-gradient(90deg,#fa6d4e,#ea4535,#f47057,#ee4e3a,#e83a2d,#9f0e15,#e75c47,#e84534,#ee6f59,#e94b38,#f24734,#fc997b,#fcb69c,#fee3d7)"></i>
<i style="background:linear-gradient(90deg,#fb6e4f,#ed4a37,#f6765c,#f0533c,#eb3c2e,#a30e15,#ec644c,#eb4a37,#f17860,#ed513b,#f24633,#fc9c7d,#fcb79d,#fee4d7)"></i>
<i style="background:linear-gradient(90deg,#fb7050,#f04f3a,#f87d61,#f3573f,#ed3f30,#a60f16,#f16b51,#ef4f39,#f58166,#f1563e,#f24633,#fc9e80,#fcb99e,#fee4d8)"></i>
<i style="background:linear-gradient(90deg,#fb7151,#f3533c,#fa8466,#f65c42,#ef4231,#a91016,#f77355,#f3533c,#f98a6c,#f55c41,#f24532,#fca082,#fcba9f,#fee4d8)"></i>
<i style="background:linear-gradient(90deg,#fb7252,#f6583e,#fc8a6a,#f96044,#f14432,#ac1117,#fb7a5a,#f6583e,#fc9272,#f96044,#f14432,#fca285,#fcbba1,#fee5d8)"></i>
</div>
<div class="sp" style="left:57px;top:525px;width:339px;height:411px"></div>
<b style="left:57px;top:938px;width:1px;height:5px"></b>
<span class="tl xt" style="left:57.40px;top:946.50px;">−1.0</span>
<b style="left:109px;top:938px;width:1px;height:5px"></b>
<span class="tl xt" style="left:109.72px;top:946.50px;">−0.5</span>
<b style="left:162px;top:938px;width:1px;height:5px"></b>
<span class="tl xt" style="left:162.05px;top:946.50px;">0.0</span>
<b style="left:214px;top:938px;width:1px;height:5px"></b>
<span class="tl xt" style="left:214.37px;top:946.50px;">0.5</span>
<b style="left:266px;top:938px;width:1px;height:5px"></b>
<span class="tl xt" style="left:266.69px;top:946.50px;">1.0</span>
<b style="left:319px;top:938px;width:1px;height:5px"></b>
<span class="tl xt" style="left:319.02px;top:946.50px;">1.5</span>
<b style="left:371px;top:938px;width:1px;height:5px"></b>
<span class="tl xt" style="left:371.34px;top:946.50px;">2.0</span>
<b style="left:52px;top:937px;width:5px;height:1px"></b>
<span class="tl yt" style="left:46.50px;top:931.60px;">0</span>
<b style="left:52px;top:869px;width:5px;height:1px"></b>
<span class="tl yt" style="left:46.50px;top:862.93px;">5</span>
<b style="left:52px;top:800px;width:5px;height:1px"></b>
<span class="tl yt" style="left:46.50px;top:794.27px;">10</span>
<b style="left:52px;top:731px;width:5px;height:1px"></b>
<span class="tl yt" style="left:46.50px;top:725.60px;">15</span>
<b style="left:52px;top:663px;width:5px;height:1px"></b>
<span class="tl yt" style="left:46.50px;top:656.93px;">20</span>
<b style="left:52px;top:594px;width:5px;height:1px"></b>
<span class="tl yt" style="left:46.50px;top:588.27px;">25</span>
<b style="left:52px;top:525px;width:5px;height:1px"></b>
<span class="tl yt" style="left:46.50px;top:519.60px;">30</span>
<div class="cb" style="left:419px;top:525px;width:21px;height:413px;background:linear-gradient(0deg,#fff5f0 0.00%,#feeae1 6.25%,#fee0d2 12.50%,#fdcdb9 18.75%,#fcbba1 25.00%,#fca689 31.25%,#fc9272 37.50%,#fb7d5d 43.75%,#fb694a 50.00%,#f5523a 56.25%,#ee3a2c 62.50%,#dc2924 68.75%,#ca181d 75.00%,#b71319 81.25%,#a30f15 87.50%,#840711 93.75%,#67000d 100.00%)"></div>
<div class="sp" style="left:419px;top:525px;width:19px;height:411px;background:none"></div>
<b style="left:440px;top:937px;width:5px;height:1px"></b>
<span class="tl cl" style="left:450.00px;top:931.60px;">0.00</span>
<b style="left:440px;top:886px;width:5px;height:1px"></b>
<span class="tl cl" style="left:450.00px;top:880.10px;">0.25</span>
<b style="left:440px;top:834px;width:5px;height:1px"></b>
<span class="tl cl" style="left:450.00px;top:828.60px;">0.50</span>
<b style="left:440px;top:783px;width:5px;height:1px"></b>
<span class="tl cl" style="left:450.00px;top:777.10px;">0.75</span>
<b style="left:440px;top:731px;width:5px;height:1px"></b>
<span class="tl cl" style="left:450.00px;top:725.60px;">1.00</span>
<b style="left:440px;top:680px;width:5px;height:1px"></b>
<span class="tl cl" style="left:450.00px;top:674.10px;">1.25</span>
<b style="left:440px;top:628px;width:5px;height:1px"></b>
<span class="tl cl" style="left:450.00px;top:622.60px;">1.50</span>
<b style="left:440px;top:577px;width:5px;height:1px"></b>
<span class="tl cl" style="left:450.00px;top:571.10px;">1.75</span>
<b style="left:440px;top:525px;width:5px;height:1px"></b>
<span class="tl cl" style="left:450.00px;top:519.60px;">2.00</span>
<span class="tl of" style="left:402.50px;top:510.00px;">1e−5</span>
<span class="xl" style="left:227.45px;top:965.70px;">Time [s]</span>
<span class="yl" style="left:15.60px;top:732.60px;">Frequency [Hz]</span>
<span class="tt" style="left:227.45px;top:501.80px;">C4 left</span>
<div class="hm" style="left:549px;top:525px;width:341px;height:413px">
<i style="background:linear-gradient(90deg,#ffece4,#fee8de,#fee8de,#fee8de,#fee8de,#fee8de,#fee8de,#fee8de,#fee8de,#fee8de,#fee8de,#fee8de,#ffebe2,#ffede5)"></i>
<i style="background:linear-gradient(90deg,#ffece4,#fee8de,#fee8de,#fee8de,#fee8de,#fee8de,#fee8de,#fee8de,#fee8de,#fee8de,#fee8de,#fee8de,#ffebe2,#ffede5)"></i>
<i style="background:linear-gradient(90deg,#ffece3,#fee8de,#fee8dd,#fee8dd,#fee8dd,#fee8de,#fee8de,#fee8de,#fee8de,#fee8de,#fee8de,#fee8dd,#ffebe1,#ffede5)"></i>
<i style="background:linear-gradient(90deg,#ffece3,#fee8dd,#fee8dd,#fee8dd,#fee8dd,#fee8dd,#fee8dd,#fee8dd,#fee8dd,#fee8dd,#fee8dd,#fee8dd,#ffebe1,#ffede5)"></i>
<i style="background:linear-gradient(90deg,#ffece3,#fee8dd,#fee7dd,#fee7dd,#fee7dd,#fee8dd,#fee8dd,#fee8dd,#fee8dd,#fee8dd,#fee8dd,#fee7dd,#ffebe1,#ffede5)"></i>
<i style="background:linear-gradient(90deg,#ffece3,#fee8dd,#fee7dc,#fee7dc,#fee7dc,#fee8dd,#fee8dd,#fee8dd,#fee8dd,#fee8dd,#fee8dd,#fee7dc,#feeae1,#ffede5)"></i>
<i style="background:linear-gradient(90deg,#ffece3,#fee7dc,#fee7dc,#fee7dc,#fee7dc,#fee7dc,#fee8dd,#fee8dd,#fee8dd,#fee8dd,#fee7dc,#fee7dc,#feeae1,#ffede5)"></i>
<i style="background:linear-gradient(90deg,#ffebe2,#fee7dc,#fee7dc,#fee7dc,#fee7dc,#fee7dc,#fee7dd,#fee7dd,#fee7dd,#fee7dd,#fee7dc,#fee7dc,#feeae0,#ffede5)"></i>
<i style="background:linear-gradient(90deg,#ffebe2,#fee7dc,#fee7db,#fee7db,#fee7db,#fee7dc,#fee7dc,#fee7dc,#fee7dc,#fee7dc,#fee7dc,#fee7db,#feeae0,#ffede5)"></i>
<i style="background:linear-gradient(90deg,#ffebe2,#fee7dc,#fee6db,#fee6db,#fee6db,#fee7dc,#fee7dc,#fee7dc,#fee7dc,#fee7dc,#fee7dc,#fee6db,#feeae0,#ffede5)"></i>
<i style="background:linear-gradient(90deg,#ffebe2,#fee7db,#fee6db,#fee6db,#fee6db,#fee7db,#fee7dc,#fee7dc,#fee7dc,#fee7dc,#fee7db,#fee6db,#feeae0,#ffede5)"></i>
<i style="background:linear-gradient(90deg,#ffebe1,#fee6db,#fee6da,#fee6da,#fee6da,#fee6db,#fee7dc,#fee7dc,#fee7dc,#fee7dc,#fee6db,#fee6da,#feeae0,#ffede5)"></i>
<i style="background:linear-gradient(90deg,#ffebe1,#fee6db,#fee6da,#fee6da,#fee6da,#fee6db,#fee7dc,#fee7dc,#fee7dc,#fee7dc,#fee6db,#fee6da,#fee9df,#ffede5)"></i>
<i style="background:linear-gradient(90deg,#ffebe1,#fee6db,#fee5da,#fee5da,#fee5da,#fee6db,#fee7db,#fee7db,#fee7db,#fee7db,#fee6db,#fee5da,#fee9df,#ffede5)"></i>
<i style="background:linear-gradient(90deg,#feeae1,#fee6da,#fee5d9,#fee5d9,#fee5d9,#fee6da,#fee6db,#fee6db,#fee6db,#fee6db,#fee6da,#fee5d9,#fee9df,#ffede5)"></i>
<i style="background:linear-gradient(90deg,#feeae1,#fee6da,#fee5d9,#fee5d9,#fee5d9,#fee6da,#fee6db,#fee6db,#fee6db,#fee6db,#fee6da,#fee5d9,#fee9df,#ffede5)"></i>
<i style="background:linear-gradient(90deg,#feeae1,#fee5da,#fee4d8,#fee4d8,#fee4d8,#fee5da,#fee6db,#fee6db,#fee6db,#fee6db,#fee5da,#fee5d9,#fee9de,#ffede5)"></i>
<i style="background:linear-gradient(90deg,#feeae0,#fee5d9,#fee4d8,#fee4d8,#fee4d8,#fee5d9,#fee6db,#fee6db,#fee6db,#fee6db,#fee5d9,#fee4d8,#fee8de,#ffede5)"></i>
<i style="background:linear-gradient(90deg,#feeae0,#fee5d9,#fee4d7,#fee3d7,#fee4d7,#fee5d9,#fee6da,#fee6da,#fee6da,#fee6da,#fee5d9,#fee4d8,#fee8de,#ffede5)"></i>
<i style="background:linear-gradient(90deg,#feeae0,#fee5d9,#fee3d7,#fee3d6,#fee3d7,#fee5d9,#fee6da,#fee6da,#fee6da,#fee6da,#fee5d9,#fee4d8,#fee8de,#ffede5)"></i>
<i style="background:linear-gradient(90deg,#feeae0,#fee4d8,#fee3d6,#fee3d6,#fee3d6,#fee4d8,#fee6da,#fee6da,#fee6da,#fee6da,#fee5d9,#fee4d7,#fee8dd,#ffede5)"></i>
<i style="background:linear-gradient(90deg,#feeae0,#fee4d8,#fee3d6,#fee2d5,#fee3d6,#fee4d8,#fee5da,#fee5da,#fee5da,#fee5da,#fee4d8,#fee3d7,#fee8dd,#ffede5)"></i>
<i style="background:linear-gradient(90deg,#feeae0,#fee4d7,#fee2d5,#fee2d5,#fee2d5,#fee4d7,#fee5da,#fee5da,#fee5da,#fee5da,#fee4d8,#fee3d7,#fee8dd,#ffede5)"></i>
<i style="background:linear-gradient(90deg,#feeae0,#fee4d7,#fee2d5,#fee2d4,#fee2d5,#fee4d7,#fee5d9,#fee5d9,#fee5d9,#fee5d9,#fee4d8,#fee3d6,#fee7dc,#ffede5)"></i>
<i style="background:linear-gradient(90deg,#fee9e0,#fee3d7,#fee2d4,#fee1d4,#fee2d4,#fee3d7,#fee5d9,#fee5d9,#fee5d9,#fee5d9,#fee4d8,#fee3d6,#fee7dc,#ffede5)"></i>
<i style="background:linear-gradient(90deg,#fee9df,#fee3d6,#fee1d4,#fee1d3,#fee1d4,#fee3d6,#fee5d9,#fee5d9,#fee5d9,#fee5d9,#fee4d7,#fee2d6,#fee7dc,#ffede5)"></i>
<i style="background:linear-gradient(90deg,#fee9df,#fee3d6,#fee1d3,#fee0d3,#fee1d3,#fee3d6,#fee5d9,#fee5d9,#fee5d9,#fee5d9,#fee3d7,#fee2d5,#fee7dc,#ffede5)"></i>
<i style="background:linear-gradient(90deg,#fee9df,#fee3d6,#fee1d3,#fee0d2,#fee1d3,#fee3d6,#fee5d9,#fee5d9,#fee5d9,#fee5d9,#fee3d7,#fee2d5,#fee7db,#ffede5)"></i>
<i style="background:linear-gradient(90deg,#fee9df,#fee2d6,#fee0d3,#fee0d2,#fee0d3,#fee2d6,#fee4d8,#fee4d8,#fee4d8,#fee4d8,#fee3d7,#fee2d5,#fee6db,#ffede5)"></i>
<i style="background:linear-gradient(90deg,#fee9df,#fee2d5,#fee0d2,#fedfd1,#fee0d2,#fee2d5,#fee4d8,#fee4d8,#fee4d8,#fee4d8,#fee3d6,#fee2d5,#fee6db,#ffede5)"></i>
<i style="background:linear-gradient(90deg,#fee9df,#fee2d5,#fee0d2,#fedfd1,#fee0d2,#fee2d5,#fee4d8,#fee4d8,#fee4d8,#fee4d8,#fee3d6,#fee2d5,#fee6db,#ffede5)"></i>
<i style="background:linear-gradient(90deg,#fee9df,#fee2d5,#fee0d2,#fedfd1,#fee0d2,#fee2d5,#fee4d8,#fee4d8,#fee4d8,#fee4d8,#fee3d6,#fee2d4,#fee6db,#ffede5)"></i>
<i style="background:linear-gradient(90deg,#fee9de,#fee2d5,#fee0d1,#fedfd0,#fee0d1,#fee2d5,#fee4d8,#fee4d8,#fee4d8,#fee4d8,#fee3d6,#fee2d4,#fee6db,#ffede5)"></i>
<i style="background:linear-gradient(90deg,#fee9de,#fee2d4,#fedfd1,#feded0,#fedfd1,#fee2d4,#fee4d7,#fee4d7,#fee4d7,#fee4d7,#fee3d6,#fee2d4,#fee6db,#ffede5)"></i>
<i style="background:linear-gradient(90deg,#fee9de,#fee2d4,#fedfd1,#feded0,#fedfd1,#fee2d4,#fee4d7,#fee4d7,#fee4d7,#fee4d7,#fee3d6,#fee2d4,#fee6db,#ffede5)"></i>
<i style="background:linear-gradient(90deg,#fee8de,#fee1d4,#fedfd1,#fedecf,#fedfd1,#fee1d4,#fee3d7,#fee3d7,#fee3d7,#fee3d7,#fee2d6,#fee2d4,#fee6db,#ffede5)"></i>
<i style="background:linear-gradient(90deg,#fee8de,#fee1d4,#fedfd0,#fedecf,#fedfd0,#fee1d4,#fee3d7,#fee3d7,#fee3d7,#fee3d7,#fee2d5,#fee1d4,#fee6db,#ffede5)"></i>
<i style="background:linear-gradient(90deg,#fee8de,#fee1d4,#feded0,#feddcf,#feded0,#fee1d4,#fee3d6,#fee3d6,#fee3d6,#fee3d6,#fee2d5,#fee1d4,#fee6db,#ffede5)"></i>
<i style="background:linear-gradient(90deg,#fee8de,#fee1d3,#feded0,#feddce,#feded0,#fee1d3,#fee3d6,#fee3d6,#fee3d6,#fee3d6,#fee2d5,#fee1d4,#fee6db,#ffede5)"></i>
<i style="background:linear-gradient(90deg,#fee8dd,#fee1d3,#fedecf,#feddce,#fedecf,#fee1d3,#fee3d6,#fee3d6,#fee3d6,#fee3d6,#fee2d5,#fee1d4,#fee6da,#ffede5)"></i>
<i style="background:linear-gradient(90deg,#fee8dd,#fee1d3,#fedecf,#feddce,#fedecf,#fee1d3,#fee3d6,#fee3d6,#fee3d6,#fee3d6,#fee2d5,#fee1d4,#fee6da,#ffede5)"></i>
<i style="background:linear-gradient(90deg,#fee8dd,#fee1d3,#fedecf,#fedccd,#fedecf,#fee1d3,#fee3d6,#fee3d6,#fee3d6,#fee3d6,#fee2d5,#fee1d4,#fee6da,#ffede5)"></i>
<i style="background:linear-gradient(90deg,#fee8dd,#fee1d3,#fedecf,#feddce,#fedecf,#fee1d3,#fee3d6,#fee3d6,#fee3d6,#fee3d6,#fee2d5,#fee1d4,#fee6da,#ffede5)"></i>
<i style="background:linear-gradient(90deg,#fee8dd,#fee1d3,#fedecf,#feddce,#fedecf,#fee1d3,#fee3d6,#fee3d6,#fee3d6,#fee3d6,#fee2d5,#fee1d4,#fee6da,#ffede5)"></i>
<i style="background:linear-gradient(90deg,#fee8dd,#fee1d3,#feded0,#feddcf,#feded0,#fee1d3,#fee3d6,#fee3d6,#fee3d6,#fee3d6,#fee2d5,#fee2d4,#fee6db,#ffede5)"></i>
<i style="background:linear-gradient(90deg,#fee8dd,#fee1d3,#fedfd0,#fedecf,#fedfd0,#fee1d3,#fee3d6,#fee3d6,#fee3d6,#fee3d6,#fee2d5,#fee2d4,#fee6db,#ffede5)"></i>
<i style="background:linear-gradient(90deg,#fee8dd,#fee1d3,#fedfd1,#feded0,#fedfd1,#fee1d3,#fee3d6,#fee3d6,#fee3d6,#fee3d6,#fee2d5,#fee2d4,#fee6db,#ffede5)"></i>
<i style="background:linear-gradient(90deg,#fee8dd,#fee1d4,#fedfd1,#feded0,#fedfd1,#fee1d4,#fee3d6,#fee3d6,#fee3d6,#fee3d6,#fee2d5,#fee2d5,#fee6db,#ffede5)"></i>
<i style="background:linear-gradient(90deg,#fee8dd,#fee1d4,#fedfd1,#fedfd0,#fedfd1,#fee1d4,#fee3d6,#fee3d6,#fee3d6,#fee3d6,#fee2d5,#fee2d5,#fee6db,#ffede5)"></i>
<i style="background:linear-gradient(90deg,#fee8dd,#fee1d4,#fee0d2,#fedfd1,#fee0d2,#fee1d4,#fee3d6,#fee3d6,#fee3d6,#fee3d6,#fee2d5,#fee2d5,#fee6db,#ffede5)"></i>
<i style="background:linear-gradient(90deg,#fee8dd,#fee1d4,#fee0d2,#fee0d1,#fee0d2,#fee1d4,#fee3d6,#fee3d6,#fee3d6,#fee3d6,#fee2d5,#fee2d5,#fee6db,#ffede5)"></i>
<i style="background:linear-gradient(90deg,#fee8dd,#fee2d4,#fee0d2,#fee0d2,#fee0d2,#fee2d4,#fee3d6,#fee3d6,#fee3d6,#fee3d6,#fee2d5,#fee2d5,#fee6db,#ffede5)"></i>
<i style="background:linear-gradient(90deg,#fee8dd,#fee2d4,#fee0d3,#fee0d2,#fee0d3,#fee2d4,#fee3d6,#fee3d6,#fee3d6,#fee3d6,#fee2d5,#fee2d5,#fee6db,#ffede5)"></i>
<i style="background:linear-gradient(90deg,#fee8dd,#fee2d4,#fee1d3,#fee1d3,#fee1d3,#fee2d4,#fee3d6,#fee3d6,#fee3d6,#fee3d6,#fee2d6,#fee2d5,#fee6db,#ffede5)"></i>
<i style="background:linear-gradient(90deg,#fee8dd,#fee2d5,#fee1d3,#fee1d3,#fee1d3,#fee2d5,#fee3d6,#fee3d6,#fee3d6,#fee3d6,#fee3d6,#fee2d6,#fee6db,#ffede5)"></i>
<i style="background:linear-gradient(90deg,#fee8dd,#fee2d5,#fee1d4,#fee1d4,#fee1d4,#fee2d5,#fee3d6,#fee3d6,#fee3d6,#fee3d6,#fee3d6,#fee3d6,#fee7db,#ffede5)"></i>
<i style="background:linear-gradient(90deg,#fee8dd,#fee2d5,#fee1d4,#fee1d4,#fee1d4,#fee2d5,#fee3d6,#fee3d6,#fee3d6,#fee3d6,#fee3d6,#fee3d6,#fee7db,#ffede5)"></i>
<i style="background:linear-gradient(90deg,#fee8dd,#fee2d5,#fee1d4,#fee1d4,#fee1d4,#fee2d5,#fee3d6,#fee3d6,#fee3d6,#fee3d6,#fee3d6,#fee3d6,#fee7db,#ffede5)"></i>
<i style="background:linear-gradient(90deg,#fee8dd,#fee2d5,#fee2d4,#fee2d4,#fee2d4,#fee2d5,#fee3d6,#fee3d6,#fee3d6,#fee3d6,#fee3d6,#fee3d6,#fee7db,#ffede5)"></i>
<i style="background:linear-gradient(90deg,#fee8dd,#fee2d5,#fee2d4,#fee2d4,#fee2d4,#fee2d5,#fee3d6,#fee3d6,#fee3d6,#fee3d6,#fee3d6,#fee3d6,#fee7db,#ffede5)"></i>
<i style="background:linear-gradient(90deg,#fee8dd,#fee2d5,#fee2d4,#fee2d4,#fee2d4,#fee2d5,#fee3d6,#fee3d6,#fee3d6,#fee3d6,#fee3d6,#fee3d6,#fee7db,#ffede5)"></i>
<i style="background:linear-gradient(90deg,#fee8dd,#fee2d5,#fee2d5,#fee2d5,#fee2d5,#fee2d5,#fee3d6,#fee3d6,#fee3d6,#fee3d6,#fee3d6,#fee3d6,#fee7db,#ffede5)"></i>
<i style="background:linear-gradient(90deg,#fee8dd,#fee2d5,#fee2d5,#fee2d5,#fee2d5,#fee2d5,#fee3d6,#fee3d6,#fee3d6,#fee3d6,#fee3d6,#fee3d6,#fee7db,#ffede5)"></i>
<i style="background:linear-gradient(90deg,#fee8dd,#fee2d5,#fee2d5,#fee2d5,#fee2d5,#fee2d5,#fee3d6,#fee3d6,#fee3d6,#fee3d6,#fee3d6,#fee3d6,#fee7db,#ffede5)"></i>
<i style="background:linear-gradient(90deg,#fee8dd,#fee2d5,#fee2d5,#fee2d5,#fee2d5,#fee2d5,#fee3d6,#fee3d6,#fee3d6,#fee3d6,#fee3d6,#fee3d6,#fee7db,#ffede5)"></i>
<i style="background:linear-gradient(90deg,#fee8dd,#fee2d5,#fee2d5,#fee2d5,#fee2d5,#fee2d5,#fee3d6,#fee3d6,#fee3d6,#fee3d6,#fee3d6,#fee3d6,#fee7db,#ffede5)"></i>
<i style="background:linear-gradient(90deg,#fee8dd,#fee2d5,#fee2d5,#fee2d5,#fee2d5,#fee2d5,#fee3d6,#fee3d6,#fee3d6,#fee3d6,#fee3d6,#fee3d6,#fee7db,#ffede5)"></i>
<i style="background:linear-gradient(90deg,#fee8dd,#fee2d6,#fee2d5,#fee2d5,#fee2d5,#fee2d6,#fee3d6,#fee3d6,#fee3d6,#fee3d6,#fee3d6,#fee3d6,#fee7db,#ffede5)"></i>
<i style="background:linear-gradient(90deg,#fee8dd,#fee3d6,#fee2d6,#fee2d6,#fee2d6,#fee3d6,#fee3d6,#fee3d6,#fee3d6,#fee3d6,#fee3d6,#fee3d6,#fee7db,#ffede5)"></i>
<i style="background:linear-gradient(90deg,#fee8dd,#fee3d6,#fee3d6,#fee3d6,#fee3d6,#fee3d6,#fee3d6,#fee3d6,#fee3d6,#fee3d6,#fee3d6,#fee3d6,#fee7db,#ffede5)"></i>
<i style="background:linear-gradient(90deg,#fee8dd,#fee3d6,#fee3d6,#fee3d6,#fee2d6,#fee2d6,#fee2d6,#fee2d6,#fee2d6,#fee2d6,#fee2d6,#fee3d6,#fee7db,#ffede5)"></i>
<i style="background:linear-gradient(90deg,#fee8dd,#fee3d6,#fee3d6,#fee3d6,#fee2d5,#fee2d5,#fee2d5,#fee2d5,#fee2d5,#fee2d5,#fee2d5,#fee3d6,#fee7db,#ffede5)"></i>
<i style="background:linear-gradient(90deg,#fee8dd,#fee3d6,#fee3d6,#fee3d6,#fee2d5,#fee2d5,#fee2d5,#fee2d5,#fee2d5,#fee2d5,#fee2d5,#fee3d6,#fee7db,#ffede5)"></i>
<i style="background:linear-gradient(90deg,#fee8dd,#fee3d6,#fee3d6,#fee3d6,#fee2d5,#fee2d5,#fee2d5,#fee2d5,#fee2d5,#fee2d5,#fee2d5,#fee3d6,#fee7db,#ffede5)"></i>
<i style="background:linear-gradient(90deg,#fee8dd,#fee3d6,#fee3d6,#fee3d6,#fee2d5,#fee2d5,#fee2d5,#fee2d5,#fee2d5,#fee2d5,#fee2d5,#fee3d6,#fee7db,#ffede5)"></i>
<i style="background:linear-gradient(90deg,#fee8dd,#fee3d6,#fee3d6,#fee3d6,#fee2d5,#fee2d5,#fee2d5,#fee2d5,#fee2d5,#fee2d5,#fee2d5,#fee3d6,#fee7db,#ffede5)"></i>
<i style="background:linear-gradient(90deg,#fee8dd,#fee3d6,#fee3d6,#fee3d6,#fee2d5,#fee2d5,#fee2d5,#fee2d5,#fee2d5,#fee2d5,#fee2d5,#fee3d6,#fee7db,#ffede5)"></i>
<i style="background:linear-gradient(90deg,#fee8dd,#fee3d6,#fee3d6,#fee3d6,#fee2d5,#fee2d5,#fee2d5,#fee2d5,#fee2d5,#fee2d5,#fee2d5,#fee3d6,#fee7db,#ffede5)"></i>
<i style="background:linear-gradient(90deg,#fee8dd,#fee3d6,#fee3d6,#fee3d6,#fee2d5,#fee2d5,#fee2d5,#fee2d5,#fee2d5,#fee2d5,#fee2d5,#fee3d6,#fee7db,#ffede5)"></i>
<i style="background:linear-gradient(90deg,#fee8dd,#fee3d6,#fee3d6,#fee3d6,#fee2d5,#fee2d5,#fee2d5,#fee2d5,#fee2d5,#fee2d5,#fee2d5,#fee3d6,#fee7db,#ffede5)"></i>
<i style="background:linear-gradient(90deg,#fee8dd,#fee3d6,#fee3d6,#fee3d6,#fee2d5,#fee2d5,#fee2d5,#fee2d5,#fee2d5,#fee2d5,#fee2d5,#fee3d6,#fee7db,#ffede5)"></i>
<i style="background:linear-gradient(90deg,#fee8dd,#fee3d6,#fee3d6,#fee3d6,#fee2d5,#fee2d5,#fee2d5,#fee2d5,#fee2d5,#fee2d5,#fee2d5,#fee3d6,#fee7db,#ffede5)"></i>
<i style="background:linear-gradient(90deg,#fee8dd,#fee3d6,#fee3d6,#fee3d6,#fee2d5,#fee2d5,#fee2d5,#fee2d5,#fee2d5,#fee2d5,#fee2d5,#fee3d6,#fee7db,#ffede5)"></i>
<i style="background:linear-gradient(90deg,#fee8dd,#fee3d6,#fee3d6,#fee2d6,#fee2d5,#fee2d4,#fee2d4,#fee2d4,#fee2d4,#fee2d4,#fee2d4,#fee2d6,#fee6db,#ffede5)"></i>
<i style="background:linear-gradient(90deg,#fee8dd,#fee3d6,#fee2d6,#fee2d5,#fee2d4,#fee1d4,#fee1d4,#fee1d4,#fee1d4,#fee1d4,#fee1d4,#fee2d5,#fee6db,#ffede5)"></i>
<i style="background:linear-gradient(90deg,#fee8dd,#fee3d6,#fee2d5,#fee2d5,#fee1d4,#fee1d4,#fee1d4,#fee1d4,#fee1d4,#fee1d4,#fee1d4,#fee2d5,#fee6db,#ffede5)"></i>
<i style="background:linear-gradient(90deg,#fee8dd,#fee3d6,#fee2d5,#fee2d5,#fee1d4,#fee1d4,#fee1d4,#fee1d4,#fee1d3,#fee1d3,#fee1d4,#fee2d5,#fee6db,#ffede5)"></i>
<i style="background:linear-gradient(90deg,#fee8dd,#fee3d6,#fee2d5,#fee2d5,#fee1d4,#fee1d3,#fee1d3,#fee1d3,#fee0d3,#fee0d3,#fee1d3,#fee2d5,#fee6db,#ffede5)"></i>
<i style="background:linear-gradient(90deg,#fee8dd,#fee3d6,#fee2d5,#fee2d5,#fee1d4,#fee1d3,#fee1d3,#fee1d3,#fee0d2,#fee0d2,#fee1d3,#fee2d4,#fee6db,#ffede5)"></i>
<i style="background:linear-gradient(90deg,#fee8dd,#fee3d6,#fee2d5,#fee2d5,#fee1d3,#fee0d3,#fee0d3,#fee0d3,#fee0d2,#fee0d2,#fee0d3,#fee2d4,#fee6db,#ffede5)"></i>
<i style="background:linear-gradient(90deg,#fee8dd,#fee3d6,#fee2d5,#fee2d5,#fee1d3,#fee0d2,#fee0d2,#fee0d2,#fedfd1,#fedfd1,#fee0d2,#fee1d4,#fee6db,#ffede5)"></i>
<i style="background:linear-gradient(90deg,#fee8dd,#fee3d6,#fee2d5,#fee2d4,#fee1d3,#fee0d2,#fee0d2,#fee0d2,#fedfd1,#fedfd1,#fee0d2,#fee1d4,#fee6db,#ffede5)"></i>
<i style="background:linear-gradient(90deg,#fee8dd,#fee3d6,#fee2d5,#fee2d4,#fee0d3,#fee0d2,#fee0d2,#fee0d2,#fedfd0,#fedfd0,#fee0d2,#fee1d4,#fee6db,#ffede5)"></i>
<i style="background:linear-gradient(90deg,#fee8dd,#fee3d6,#fee2d5,#fee2d4,#fee0d2,#fedfd1,#fedfd1,#fedfd1,#feded0,#feded0,#fedfd1,#fee1d3,#fee6db,#ffede5)"></i>
<i style="background:linear-gradient(90deg,#fee8dd,#fee3d6,#fee2d5,#fee1d4,#fee0d2,#fedfd1,#fedfd1,#fedfd1,#feded0,#feded0,#fedfd1,#fee1d3,#fee6da,#ffede5)"></i>
<i style="background:linear-gradient(90deg,#fee8dd,#fee3d6,#fee2d5,#fee1d4,#fee0d2,#fedfd1,#fedfd1,#fedfd1,#fedecf,#fedecf,#fedfd1,#fee1d3,#fee6da,#ffede5)"></i>
<i style="background:linear-gradient(90deg,#fee8dd,#fee3d6,#fee2d5,#fee1d4,#fee0d2,#fedfd0,#fedfd0,#fedfd0,#fedecf,#fedecf,#fedfd0,#fee1d3,#fee6da,#ffede5)"></i>
<i style="background:linear-gradient(90deg,#fee8dd,#fee3d6,#fee2d5,#fee1d4,#fee0d1,#feded0,#feded0,#feded0,#feddce,#feddce,#feded0,#fee0d3,#fee6da,#ffede5)"></i>
<i style="background:linear-gradient(90deg,#fee8dd,#fee2d6,#fee2d5,#fee1d3,#fedfd1,#fedecf,#fedecf,#fedecf,#feddce,#feddce,#feded0,#fee0d2,#fee6da,#ffede5)"></i>
<i style="background:linear-gradient(90deg,#fee8dd,#fee2d5,#fee2d5,#fee1d3,#fedfd1,#fedecf,#fedecf,#fedecf,#feddcd,#feddcd,#fedecf,#fee0d2,#fee6da,#ffede5)"></i>
<i style="background:linear-gradient(90deg,#fee8dd,#fee2d5,#fee2d4,#fee1d3,#fedfd0,#feddce,#feddce,#feddce,#fedccd,#fedccd,#fedecf,#fee0d2,#fee6da,#ffede5)"></i>
<i style="background:linear-gradient(90deg,#fee8dd,#fee2d5,#fee2d4,#fee1d3,#fedfd0,#feddce,#feddce,#feddce,#fedccd,#fedccd,#feddcf,#fee0d2,#fee6da,#ffede5)"></i>
<i style="background:linear-gradient(90deg,#fee8dd,#fee2d5,#fee2d4,#fee1d3,#feded0,#feddce,#feddce,#feddce,#fedccc,#fedccc,#feddce,#fee0d2,#fee6da,#ffede5)"></i>
<i style="background:linear-gradient(90deg,#fee8dd,#fee2d5,#fee2d4,#fee1d3,#fedecf,#fedccd,#fedccd,#fedccd,#fedbcc,#fedbcc,#feddce,#fee0d2,#fee6da,#ffede5)"></i>
<i style="background:linear-gradient(90deg,#fee8dd,#fee2d5,#fee2d4,#fee0d3,#fedecf,#fedccd,#fedccd,#fedccd,#fedbcb,#fedbcb,#feddce,#fedfd1,#fee5da,#ffede5)"></i>
<i style="background:linear-gradient(90deg,#fee8dd,#fee2d5,#fee1d4,#fee0d2,#fedecf,#fedccc,#fedccc,#fedccc,#fedbcb,#fedbcb,#fedccd,#fedfd1,#fee5da,#ffede5)"></i>
<i style="background:linear-gradient(90deg,#fee8dd,#fee2d5,#fee1d4,#fee0d2,#feddce,#fedbcc,#fedbcc,#fedbcc,#fedaca,#fedaca,#fedccd,#fedfd1,#fee5da,#ffede5)"></i>
<i style="background:linear-gradient(90deg,#fee8dd,#fee2d5,#fee1d4,#fee0d2,#feddce,#fedbcb,#fedbcb,#fedbcb,#fedaca,#fedaca,#fedccd,#fedfd1,#fee5da,#ffede5)"></i>
<i style="background:linear-gradient(90deg,#fee8dd,#fee2d5,#fee1d4,#fee0d2,#feddce,#fedbcb,#fedbcb,#fedbcb,#fed9c9,#fed9c9,#fedccc,#fedfd1,#fee5da,#ffede5)"></i>
<i style="background:linear-gradient(90deg,#fee8dd,#fee2d5,#fee1d4,#fee0d2,#feddcd,#fedaca,#fedaca,#fedaca,#fed9c9,#fed9c9,#fedbcc,#fedfd0,#fee5d9,#ffede5)"></i>
<i style="background:linear-gradient(90deg,#fee8dd,#fee2d5,#fee1d4,#fee0d2,#fedccd,#fedaca,#fedaca,#fedaca,#fed9c9,#fed9c9,#fedbcc,#fedfd0,#fee5d9,#ffede5)"></i>
<i style="background:linear-gradient(90deg,#fee8dd,#fee2d5,#fee1d4,#fee0d2,#feddce,#fedacb,#fedaca,#fedaca,#fed9c9,#fed9c9,#fedccc,#fedfd0,#fee5d9,#ffede5)"></i>
<i style="background:linear-gradient(90deg,#fee8dd,#fee2d5,#fee1d4,#fee0d2,#feddce,#fedbcb,#fedacb,#fedaca,#fed9c9,#fed9c9,#fedccc,#fedfd1,#fee5da,#ffede5)"></i>
<i style="background:linear-gradient(90deg,#fee8dd,#fee2d5,#fee1d4,#fee0d2,#feddce,#fedbcb,#fedbcb,#fedaca,#fed9c9,#fedaca,#fedccd,#fedfd1,#fee5da,#ffede5)"></i>
<i style="background:linear-gradient(90deg,#fee8dd,#fee2d5,#fee1d4,#fee0d2,#feddcf,#fedbcc,#fedbcb,#fedacb,#fedaca,#fedaca,#fedccd,#fedfd1,#fee5da,#ffede5)"></i>
<i style="background:linear-gradient(90deg,#fee8dd,#fee2d5,#fee1d4,#fee0d2,#fedecf,#fedbcc,#fedbcb,#fedacb,#fedaca,#fedaca,#feddcd,#fedfd1,#fee5da,#ffede5)"></i>
<i style="background:linear-gradient(90deg,#fee8dd,#fee2d5,#fee1d4,#fee0d2,#fedecf,#fedccc,#fedbcc,#fedbcb,#fedaca,#fedacb,#feddce,#fee0d1,#fee5da,#ffede5)"></i>
<i style="background:linear-gradient(90deg,#fee8dd,#fee2d5,#fee1d4,#fee0d2,#feded0,#fedccd,#fedbcc,#fedbcb,#fedaca,#fedbcb,#feddce,#fee0d2,#fee6da,#ffede5)"></i>
<i style="background:linear-gradient(90deg,#fee8dd,#fee2d5,#fee1d4,#fee0d2,#feded0,#fedccd,#fedbcc,#fedbcb,#fedaca,#fedbcb,#feddce,#fee0d2,#fee6da,#ffede5)"></i>
<i style="background:linear-gradient(90deg,#fee8dd,#fee2d5,#fee1d4,#fee0d2,#fedfd0,#fedccd,#fedccc,#fedbcb,#fedacb,#fedbcc,#fedecf,#fee0d2,#fee6da,#ffede5)"></i>
<i style="background:linear-gradient(90deg,#fee8dd,#fee2d5,#fee1d4,#fee0d3,#fedfd1,#feddce,#fedccc,#fedbcb,#fedbcb,#fedbcc,#fedecf,#fee0d2,#fee6da,#ffede5)"></i>
<i style="background:linear-gradient(90deg,#fee8dd,#fee2d5,#fee1d4,#fee0d3,#fedfd1,#feddce,#fedccd,#fedbcb,#fedbcb,#fedccc,#fedecf,#fee0d2,#fee6da,#ffede5)"></i>
<i style="background:linear-gradient(90deg,#fee8dd,#fee2d5,#fee1d4,#fee0d3,#fedfd1,#feddce,#fedccd,#fedbcb,#fedbcb,#fedccd,#feded0,#fee0d3,#fee6da,#ffede5)"></i>
<i style="background:linear-gradient(90deg,#fee8dd,#fee2d5,#fee1d4,#fee1d3,#fee0d2,#feddcf,#fedccd,#fedbcc,#fedbcc,#fedccd,#fedfd0,#fee1d3,#fee6da,#ffede5)"></i>
<i style="background:linear-gradient(90deg,#fee8dd,#fee2d5,#fee1d4,#fee1d3,#fee0d2,#fedecf,#fedccd,#fedbcc,#fedbcc,#feddcd,#fedfd0,#fee1d3,#fee6da,#ffede5)"></i>
<i style="background:linear-gradient(90deg,#fee8dd,#fee2d5,#fee1d4,#fee0d3,#fee0d2,#fedecf,#feddce,#fedbcc,#fedbcc,#feddce,#fedfd1,#fee1d3,#fee6da,#ffede5)"></i>
<i style="background:linear-gradient(90deg,#fee8dd,#fee2d4,#fee1d3,#fee0d3,#fee0d2,#feded0,#feddce,#fedbcc,#fedccc,#feddce,#fedfd1,#fee1d3,#fee6da,#ffede5)"></i>
<i style="background:linear-gradient(90deg,#fee8dd,#fee2d4,#fee1d3,#fee0d3,#fee0d2,#feded0,#feddce,#fedbcc,#fedccc,#feddcf,#fee0d1,#fee1d3,#fee6da,#ffede5)"></i>
<i style="background:linear-gradient(90deg,#fee8dd,#fee1d4,#fee1d3,#fee0d2,#fee0d2,#fedfd0,#feddce,#fedbcc,#fedccd,#fedecf,#fee0d2,#fee1d3,#fee6da,#ffede5)"></i>
<i style="background:linear-gradient(90deg,#fee8dd,#fee1d4,#fee1d3,#fee0d2,#fee0d3,#fedfd1,#feddce,#fedbcc,#fedccd,#fedecf,#fee0d2,#fee1d4,#fee6da,#ffede5)"></i>
<i style="background:linear-gradient(90deg,#fee8dd,#fee1d4,#fee1d3,#fee0d2,#fee1d3,#fedfd1,#feddcf,#fedbcc,#fedccd,#feded0,#fee0d2,#fee1d4,#fee6da,#ffede5)"></i>
<i style="background:linear-gradient(90deg,#fee7dd,#fee1d4,#fee0d3,#fee0d2,#fee1d3,#fee0d1,#fedecf,#fedbcc,#fedccd,#fedfd0,#fee0d3,#fee1d4,#fee6da,#ffede5)"></i>
<i style="background:linear-gradient(90deg,#fee7dd,#fee1d4,#fee0d3,#fee0d2,#fee1d3,#fee0d2,#fedecf,#fedbcc,#feddce,#fedfd1,#fee1d3,#fee1d4,#fee6da,#ffede5)"></i>
<i style="background:linear-gradient(90deg,#fee7dd,#fee1d3,#fee0d2,#fee0d2,#fee1d3,#fee0d2,#fedecf,#fedbcc,#feddce,#fedfd1,#fee1d3,#fee1d4,#fee6da,#ffede5)"></i>
<i style="background:linear-gradient(90deg,#fee7dc,#fee1d3,#fee0d2,#fee0d2,#fee1d3,#fee0d3,#feded0,#fedbcc,#feddce,#fee0d1,#fee1d4,#fee2d4,#fee6da,#ffede5)"></i>
<i style="background:linear-gradient(90deg,#fee7dc,#fee1d3,#fee0d2,#fee0d2,#fee1d3,#fee1d3,#feded0,#fedbcc,#feddce,#fee0d2,#fee1d4,#fee2d4,#fee6da,#ffede5)"></i>
<i style="background:linear-gradient(90deg,#fee7dc,#fee1d3,#fee0d2,#fee0d2,#fee1d4,#fee1d3,#feded0,#fedbcc,#feddce,#fee0d2,#fee2d4,#fee2d5,#fee6da,#ffede5)"></i>
<i style="background:linear-gradient(90deg,#fee7dc,#fee1d3,#fee0d2,#fee0d2,#fee1d4,#fee1d4,#fedfd0,#fedbcc,#feddcf,#fee1d3,#fee2d5,#fee2d5,#fee6da,#ffede5)"></i>
<i style="background:linear-gradient(90deg,#fee7dc,#fee0d2,#fedfd1,#fee0d1,#fee1d4,#fee1d4,#fedfd0,#fedbcc,#fedecf,#fee1d3,#fee2d5,#fee2d5,#fee6da,#ffede5)"></i>
<i style="background:linear-gradient(90deg,#fee7dc,#fee0d2,#fedfd0,#fedfd1,#fee1d4,#fee1d4,#fedfd0,#fedbcc,#fedecf,#fee1d3,#fee2d5,#fee2d5,#fee6da,#ffede5)"></i>
<i style="background:linear-gradient(90deg,#fee7dc,#fedfd1,#fedecf,#fedfd1,#fee1d3,#fee1d4,#fedfd1,#fedbcc,#fedecf,#fee1d3,#fee2d5,#fee2d5,#fee6da,#ffede5)"></i>
<i style="background:linear-gradient(90deg,#fee7dc,#fedfd1,#feddce,#fedfd0,#fee1d3,#fee1d4,#fedfd1,#fedccc,#fedecf,#fee1d3,#fee2d5,#fee2d5,#fee6da,#ffede5)"></i>
<i style="background:linear-gradient(90deg,#fee7dc,#fedfd0,#feddce,#feded0,#fee1d3,#fee1d4,#fedfd1,#fedccc,#fedecf,#fee1d3,#fee2d5,#fee2d5,#fee6da,#ffede5)"></i>
<i style="background:linear-gradient(90deg,#fee7db,#feded0,#fedccd,#fedecf,#fee1d3,#fee1d4,#fedfd1,#fedccc,#fedecf,#fee1d3,#fee2d5,#fee2d5,#fee6da,#ffede5)"></i>
<i style="background:linear-gradient(90deg,#fee7db,#fedecf,#fedbcc,#fedecf,#fee1d3,#fee1d4,#fedfd1,#fedccc,#fedecf,#fee1d3,#fee2d5,#fee2d5,#fee6da,#ffede5)"></i>
<i style="background:linear-gradient(90deg,#fee6db,#fedecf,#fedbcb,#feddce,#fee0d3,#fee1d4,#fedfd1,#fedccd,#fedecf,#fee1d3,#fee2d5,#fee2d5,#fee6da,#ffede5)"></i>
<i style="background:linear-gradient(90deg,#fee6db,#feddce,#fedaca,#feddce,#fee0d3,#fee1d4,#fedfd1,#fedccd,#fedecf,#fee1d3,#fee2d5,#fee2d5,#fee6da,#ffede5)"></i>
<i style="background:linear-gradient(90deg,#fee6db,#feddce,#fed9c9,#feddcd,#fee0d2,#fee1d4,#fee0d1,#fedccd,#fedecf,#fee1d3,#fee2d5,#fee2d5,#fee6da,#ffede5)"></i>
<i style="background:linear-gradient(90deg,#fee6db,#fedccd,#fed9c8,#fedccd,#fee0d2,#fee1d4,#fee0d1,#fedccd,#fedecf,#fee1d4,#fee2d5,#fee2d5,#fee6da,#ffede5)"></i>
<i style="background:linear-gradient(90deg,#fee6db,#fedccd,#fed8c7,#fedccd,#fee0d2,#fee1d4,#fee0d2,#fedccd,#fedecf,#fee1d4,#fee2d5,#fee2d5,#fee6da,#ffede5)"></i>
<i style="background:linear-gradient(90deg,#fee6da,#fedccc,#fed7c6,#fedccc,#fee0d2,#fee1d4,#fee0d2,#fedccd,#fedecf,#fee1d4,#fee2d5,#fee2d5,#fee6da,#ffede5)"></i>
<i style="background:linear-gradient(90deg,#fee6da,#fedbcc,#fdd7c6,#fedbcc,#fee0d2,#fee1d4,#fee0d2,#fedccd,#fedecf,#fee1d4,#fee2d5,#fee2d5,#fee6da,#ffede5)"></i>
<i style="background:linear-gradient(90deg,#fee6da,#fedbcc,#fdd7c6,#fedbcb,#fee0d2,#fee1d4,#fee0d2,#feddcd,#fedecf,#fee1d4,#fee2d4,#fee2d5,#fee6da,#ffede5)"></i>
<i style="background:linear-gradient(90deg,#fee6da,#fedbcb,#fdd7c6,#fedbcb,#fee0d1,#fee1d3,#fee0d2,#feddce,#fedecf,#fee1d3,#fee2d4,#fee2d5,#fee6da,#ffede5)"></i>
<i style="background:linear-gradient(90deg,#fee6da,#fedbcb,#fdd7c6,#fedbcb,#fedfd1,#fee1d3,#fee0d1,#feddce,#fedecf,#fee1d3,#fee1d4,#fee2d4,#fee6da,#ffede5)"></i>
<i style="background:linear-gradient(90deg,#fee6da,#fedbcb,#fdd7c6,#fedbcb,#fedfd1,#fee0d3,#fee0d1,#feddce,#fedecf,#fee0d3,#fee1d4,#fee2d4,#fee6da,#ffede5)"></i>
<i style="background:linear-gradient(90deg,#fee6da,#fedbcb,#fdd7c6,#fedacb,#fedfd1,#fee0d2,#fedfd1,#feddce,#fedecf,#fee0d2,#fee1d4,#fee2d4,#fee6da,#ffede5)"></i>
<i style="background:linear-gradient(90deg,#fee6da,#fedbcb,#fdd7c6,#fedaca,#fedfd0,#fee0d2,#fedfd1,#feddcf,#fedecf,#fee0d2,#fee1d3,#fee2d4,#fee6da,#ffede5)"></i>
<i style="background:linear-gradient(90deg,#fee6da,#fedbcb,#fdd7c6,#fedaca,#fedfd0,#fee0d2,#fedfd1,#fedecf,#feded0,#fee0d2,#fee1d3,#fee2d4,#fee6da,#ffede5)"></i>
<i style="background:linear-gradient(90deg,#fee6da,#fedbcb,#fdd7c6,#fedaca,#feded0,#fee0d2,#fedfd1,#fedecf,#feded0,#fee0d2,#fee1d3,#fee2d4,#fee6da,#ffede5)"></i>
<i style="background:linear-gradient(90deg,#fee6da,#fedacb,#fdd7c6,#fedaca,#feded0,#fee0d1,#fedfd1,#fedecf,#feded0,#fee0d1,#fee1d3,#fee1d4,#fee6da,#ffede5)"></i>
<i style="background:linear-gradient(90deg,#fee6da,#fedacb,#fdd7c6,#fedac9,#feded0,#fedfd1,#fedfd1,#fedecf,#feded0,#fedfd1,#fee0d3,#fee1d4,#fee6da,#ffede5)"></i>
<i style="background:linear-gradient(90deg,#fee6da,#fedaca,#fdd7c6,#fed9c9,#fedecf,#fedfd1,#fedfd1,#feded0,#feded0,#fedfd1,#fee0d2,#fee1d4,#fee6da,#ffede5)"></i>
<i style="background:linear-gradient(90deg,#fee6da,#fedaca,#fdd7c6,#fed9c9,#fedecf,#fedfd1,#fedfd0,#feded0,#fedfd0,#fedfd1,#fee0d2,#fee1d4,#fee6da,#ffede5)"></i>
<i style="background:linear-gradient(90deg,#fee6da,#fedaca,#fdd7c6,#fed9c9,#fedecf,#fedfd0,#fedfd0,#fedfd0,#fedfd0,#fedfd0,#fee0d2,#fee1d4,#fee6da,#ffede5)"></i>
<i style="background:linear-gradient(90deg,#fee6da,#fedaca,#fdd7c6,#fed9c9,#feddcf,#fedfd0,#fedfd0,#fedfd0,#fedfd0,#feded0,#fee0d2,#fee1d4,#fee6da,#ffede5)"></i>
<i style="background:linear-gradient(90deg,#fee6da,#fedacb,#fed7c6,#fed9c9,#feddce,#fedecf,#feded0,#feded0,#feded0,#fedecf,#fedfd1,#fee1d3,#fee6da,#ffede5)"></i>
<i style="background:linear-gradient(90deg,#fee6db,#fedbcb,#fed8c7,#fed9c9,#feddce,#fedecf,#fedecf,#feded0,#fedecf,#feddce,#feded0,#fee1d3,#fee6da,#ffede5)"></i>
<i style="background:linear-gradient(90deg,#fee6db,#fedbcc,#fed8c7,#fedaca,#fedccd,#feddce,#fedecf,#feded0,#fedecf,#fedccd,#fedecf,#fee0d3,#fee6da,#ffede5)"></i>
<i style="background:linear-gradient(90deg,#fee6db,#fedccc,#fed8c8,#fedaca,#fedccd,#feddcd,#feddce,#fedecf,#feddce,#fedccc,#feddce,#fee0d2,#fee5da,#ffede5)"></i>
<i style="background:linear-gradient(90deg,#fee6db,#fedccc,#fed9c8,#fedaca,#fedccc,#fedccd,#feddce,#fedecf,#feddce,#fedbcc,#fedccd,#fee0d2,#fee5da,#ffede5)"></i>
<i style="background:linear-gradient(90deg,#fee6db,#fedccd,#fed9c9,#fedacb,#fedbcc,#fedbcc,#feddcd,#fedecf,#feddcd,#fedacb,#fedccc,#fee0d1,#fee5d9,#ffede5)"></i>
<i style="background:linear-gradient(90deg,#fee6db,#feddcd,#fedaca,#fedbcb,#fedbcb,#fedbcb,#fedccd,#feddcf,#fedccd,#fedaca,#fedbcb,#fedfd1,#fee5d9,#ffede5)"></i>
<i style="background:linear-gradient(90deg,#fee6db,#feddce,#fedaca,#fedbcb,#fedbcb,#fedacb,#fedccd,#feddce,#fedccd,#fed9c9,#fedaca,#fedfd1,#fee5d9,#ffede5)"></i>
<i style="background:linear-gradient(90deg,#fee6db,#feddce,#fedacb,#fedbcc,#fedacb,#fedaca,#fedccc,#feddce,#fedccc,#fed8c8,#fedac9,#fedfd0,#fee5d9,#ffede5)"></i>
<i style="background:linear-gradient(90deg,#fee6db,#fedecf,#fedbcb,#fedccc,#fedaca,#fed9c9,#fedbcc,#feddce,#fedbcc,#fed8c7,#fed9c9,#feded0,#fee5d9,#ffede5)"></i>
<i style="background:linear-gradient(90deg,#fee6db,#fedecf,#fedbcc,#fedccc,#fedaca,#fed9c9,#fedbcb,#feddce,#fedbcb,#fed7c6,#fed8c8,#feded0,#fee5d9,#ffede5)"></i>
<i style="background:linear-gradient(90deg,#fee6db,#feded0,#fedccc,#fedccd,#fed9c9,#fed8c8,#fedbcb,#feddce,#fedbcb,#fdd6c5,#fed8c7,#fedecf,#fee5d9,#ffede5)"></i>
<i style="background:linear-gradient(90deg,#fee6db,#fedfd0,#fedccd,#fedccd,#fed9c9,#fed8c7,#fedaca,#fedccd,#fedaca,#fdd6c4,#fed7c6,#fedecf,#fee5d9,#ffede5)"></i>
<i style="background:linear-gradient(90deg,#fee6db,#fedfd0,#fedccd,#fedccd,#fed9c9,#fed8c7,#fedaca,#fedccd,#fedaca,#fdd5c4,#fdd6c5,#feddcf,#fee5d8,#ffede5)"></i>
<i style="background:linear-gradient(90deg,#fee6db,#fedfd0,#feddce,#fedccd,#fed9c8,#fed7c6,#fed9c9,#fedccc,#fedac9,#fdd5c3,#fdd6c5,#feddce,#fee4d8,#ffede5)"></i>
<i style="background:linear-gradient(90deg,#fee6db,#fedfd0,#feddce,#fedccd,#fed9c8,#fed7c6,#fed9c8,#fedbcb,#fed9c9,#fdd5c3,#fdd6c5,#feddce,#fee4d8,#ffede5)"></i>
<i style="background:linear-gradient(90deg,#fee6db,#fedfd0,#feddce,#fedccd,#fed9c8,#fdd7c5,#fed8c7,#fedbcb,#fed9c9,#fdd5c3,#fdd6c5,#feddce,#fee4d8,#ffede5)"></i>
<i style="background:linear-gradient(90deg,#fee6db,#fedfd0,#feddce,#fedccd,#fed9c8,#fdd6c5,#fed7c7,#fedaca,#fed9c8,#fdd4c2,#fdd6c4,#feddce,#fee4d8,#ffede5)"></i>
<i style="background:linear-gradient(90deg,#fee6db,#fedfd0,#feddce,#fedccd,#fed8c8,#fdd6c5,#fed7c6,#fedac9,#fed8c8,#fdd4c2,#fdd6c4,#feddcd,#fee4d8,#ffede5)"></i>
<i style="background:linear-gradient(90deg,#fee6db,#fedfd0,#feddcf,#fedccd,#fed8c8,#fdd6c4,#fdd6c5,#fed9c9,#fed8c7,#fdd4c2,#fdd5c4,#fedccd,#fee4d8,#ffede5)"></i>
<i style="background:linear-gradient(90deg,#fee6db,#fedfd0,#fedecf,#fedccd,#fed8c8,#fdd5c4,#fdd6c4,#fed9c8,#fed7c7,#fdd3c1,#fdd5c4,#fedccd,#fee4d8,#ffede5)"></i>
<i style="background:linear-gradient(90deg,#fee6db,#fedfd0,#fedecf,#fedccd,#fed8c8,#fdd5c3,#fdd5c3,#fed8c7,#fed7c6,#fdd3c1,#fdd5c4,#fedccd,#fee4d8,#ffede5)"></i>
<i style="background:linear-gradient(90deg,#fee6db,#fedfd0,#fedecf,#fedccd,#fed8c8,#fdd4c3,#fdd4c3,#fed8c7,#fed7c6,#fdd3c1,#fdd5c3,#fedccd,#fee4d8,#ffede5)"></i>
<i style="background:linear-gradient(90deg,#fee6db,#fedfd0,#feded0,#fedccd,#fed8c7,#fdd4c2,#fdd4c2,#fed7c6,#fdd6c5,#fdd3c0,#fdd5c3,#fedccc,#fee4d8,#ffede5)"></i>
<i style="background:linear-gradient(90deg,#fee6db,#fedfd0,#feded0,#fedccd,#fed8c7,#fdd4c2,#fdd3c1,#fdd7c5,#fdd6c5,#fdd2c0,#fdd5c3,#fedccc,#fee4d8,#ffede5)"></i>
<i style="background:linear-gradient(90deg,#fee6da,#fedfd0,#feded0,#fedccd,#fed8c7,#fdd3c1,#fdd3c0,#fdd6c5,#fdd6c4,#fdd2c0,#fdd4c3,#fedbcc,#fee4d8,#ffede5)"></i>
<i style="background:linear-gradient(90deg,#fee6da,#fedfd0,#fedfd0,#fedccd,#fed8c7,#fdd3c1,#fdd2bf,#fdd5c4,#fdd5c4,#fdd2bf,#fdd4c2,#fedbcc,#fee4d8,#ffede5)"></i>
<i style="background:linear-gradient(90deg,#fee6da,#feded0,#feded0,#fedccd,#fed8c7,#fdd3c1,#fdd2bf,#fdd5c3,#fdd5c4,#fdd2c0,#fdd4c3,#fedbcb,#fee4d7,#ffede5)"></i>
<i style="background:linear-gradient(90deg,#fee5da,#fedecf,#fedecf,#fedccd,#fed8c7,#fdd3c1,#fdd1be,#fdd4c2,#fdd5c4,#fdd2c0,#fdd5c3,#fedbcb,#fee4d7,#ffede5)"></i>
<i style="background:linear-gradient(90deg,#fee5da,#fedecf,#fedecf,#fedccc,#fed7c7,#fdd3c1,#fdd0bd,#fdd3c1,#fdd5c3,#fdd3c0,#fdd5c3,#fedbcb,#fee3d7,#ffede5)"></i>
<i style="background:linear-gradient(90deg,#fee5d9,#feddcf,#feddcf,#fedbcc,#fed7c7,#fdd3c0,#fdd0bd,#fdd3c1,#fdd5c3,#fdd3c1,#fdd5c3,#fedbcb,#fee3d7,#ffede5)"></i>
<i style="background:linear-gradient(90deg,#fee5d9,#feddce,#feddce,#fedbcc,#fed7c7,#fdd3c0,#fdcfbc,#fdd2c0,#fdd5c3,#fdd3c1,#fdd5c4,#fedacb,#fee3d7,#ffede5)"></i>
<i style="background:linear-gradient(90deg,#fee5d9,#feddce,#feddce,#fedbcb,#fed7c6,#fdd3c0,#fdcfbb,#fdd1bf,#fdd4c3,#fdd3c1,#fdd5c4,#fedaca,#fee3d6,#ffede5)"></i>
<i style="background:linear-gradient(90deg,#fee5d8,#fedccd,#fedccd,#fedbcb,#fed7c6,#fdd3c0,#fdcebb,#fdd1be,#fdd4c2,#fdd4c2,#fdd5c4,#fedaca,#fee3d6,#ffede5)"></i>
<i style="background:linear-gradient(90deg,#fee4d8,#fedccd,#fedccd,#fedacb,#fed7c6,#fdd2c0,#fdceba,#fdd0bd,#fdd4c2,#fdd4c2,#fdd6c4,#fedaca,#fee3d6,#ffede5)"></i>
<i style="background:linear-gradient(90deg,#fee4d8,#fedccc,#fedccc,#fedaca,#fed7c6,#fdd2c0,#fdcdb9,#fdcfbc,#fdd4c2,#fdd4c2,#fdd6c4,#fedaca,#fee3d6,#ffede5)"></i>
<i style="background:linear-gradient(90deg,#fee4d8,#fedbcc,#fedbcc,#fedaca,#fed7c6,#fdd2c0,#fdcdb9,#fdcfbb,#fdd4c2,#fdd4c3,#fdd6c5,#fedac9,#fee2d6,#ffede5)"></i>
<i style="background:linear-gradient(90deg,#fee4d7,#fedbcb,#fedbcb,#fedaca,#fed7c6,#fdd2c0,#fdccb8,#fdceba,#fdd4c2,#fdd5c3,#fdd6c5,#fed9c9,#fee2d5,#ffede5)"></i>
<i style="background:linear-gradient(90deg,#fee4d7,#fedbcb,#fedbcb,#fed9c9,#fdd7c6,#fdd2c0,#fdccb7,#fdcdb9,#fdd3c1,#fdd5c3,#fdd6c5,#fed9c9,#fee2d5,#ffede5)"></i>
<i style="background:linear-gradient(90deg,#fee3d7,#fedacb,#fedacb,#fed9c9,#fdd7c6,#fdd2bf,#fdcbb7,#fdcdb8,#fdd3c1,#fdd5c4,#fdd6c5,#fed9c9,#fee2d5,#ffede5)"></i>
<i style="background:linear-gradient(90deg,#fee3d7,#fedaca,#fedaca,#fed9c8,#fdd6c5,#fdd2bf,#fdcbb6,#fdccb8,#fdd3c1,#fdd5c4,#fdd7c5,#fed9c9,#fee2d5,#ffede5)"></i>
<i style="background:linear-gradient(90deg,#fee3d7,#fedaca,#fed9c9,#fed8c7,#fdd6c4,#fdd1be,#fdcab5,#fdcdb8,#fdd3c1,#fdd6c5,#fdd6c5,#fed8c8,#fee2d4,#ffede4)"></i>
<i style="background:linear-gradient(90deg,#fee3d7,#fedaca,#fed9c8,#fdd7c6,#fdd5c3,#fdd1be,#fdcab4,#fdcdb9,#fdd3c1,#fdd6c5,#fdd6c5,#fed8c7,#fee2d4,#ffede4)"></i>
<i style="background:linear-gradient(90deg,#fee4d7,#fedaca,#fed8c8,#fdd5c4,#fdd4c2,#fdd0bd,#fdc9b4,#fdcdb9,#fdd3c1,#fed7c6,#fdd6c4,#fed7c7,#fee1d4,#ffede4)"></i>
<i style="background:linear-gradient(90deg,#fee4d7,#fedaca,#fed8c7,#fdd4c3,#fdd3c0,#fdcfbc,#fdc9b3,#fdceba,#fdd3c0,#fed7c7,#fdd5c4,#fed7c6,#fee1d4,#ffede4)"></i>
<i style="background:linear-gradient(90deg,#fee4d7,#fedaca,#fed7c6,#fdd3c1,#fdd2bf,#fdcfbb,#fdc8b2,#fdcebb,#fdd3c0,#fed8c7,#fdd5c3,#fdd6c5,#fee1d4,#ffece4)"></i>
<i style="background:linear-gradient(90deg,#fee4d7,#fedac9,#fdd6c5,#fdd2c0,#fdd1be,#fdcebb,#fdc7b1,#fdcfbb,#fdd3c0,#fed9c8,#fdd5c3,#fdd6c4,#fee1d3,#ffece3)"></i>
<i style="background:linear-gradient(90deg,#fee4d8,#fed9c9,#fdd6c5,#fdd1be,#fdd0bd,#fdceba,#fdc7b1,#fdcfbc,#fdd2c0,#fed9c9,#fdd4c2,#fdd5c4,#fee1d3,#ffece3)"></i>
<i style="background:linear-gradient(90deg,#fee4d8,#fed9c9,#fdd5c4,#fdd0bd,#fdcfbc,#fdcdb9,#fdc6b0,#fdd0bc,#fdd2c0,#fedac9,#fdd4c2,#fdd5c3,#fee1d3,#ffece3)"></i>
<i style="background:linear-gradient(90deg,#fee4d8,#fed9c9,#fdd5c3,#fdcfbb,#fdceba,#fdcdb8,#fdc6af,#fdd0bd,#fdd2c0,#fedaca,#fdd3c1,#fdd4c2,#fee1d3,#ffece3)"></i>
<i style="background:linear-gradient(90deg,#fee4d8,#fed9c9,#fdd4c2,#fdceba,#fdcdb9,#fdccb7,#fdc5ae,#fdd0bd,#fdd2c0,#fedbcb,#fdd3c1,#fdd4c2,#fee0d3,#ffece3)"></i>
<i style="background:linear-gradient(90deg,#fee4d8,#fed9c9,#fdd3c1,#fdcdb8,#fdccb8,#fdcbb7,#fdc4ad,#fdd1be,#fdd2c0,#fedbcb,#fdd3c1,#fdd3c1,#fee0d2,#ffebe2)"></i>
<i style="background:linear-gradient(90deg,#fee4d8,#fed9c9,#fdd3c1,#fdccb7,#fdcbb7,#fdcbb6,#fcc4ad,#fdd1be,#fdd2c0,#fedccc,#fdd2c0,#fdd3c0,#fee0d2,#ffebe2)"></i>
<i style="background:linear-gradient(90deg,#fee4d8,#fed9c9,#fdd2c0,#fdcab6,#fdcab5,#fdcab5,#fcc3ac,#fdd2bf,#fdd2bf,#fedccd,#fdd2c0,#fdd2c0,#fee0d2,#ffebe2)"></i>
<i style="background:linear-gradient(90deg,#fee4d8,#fed9c8,#fdd2bf,#fdc9b4,#fdc9b4,#fdc9b4,#fcc3ab,#fdd2bf,#fdd2bf,#fedccd,#fdd2bf,#fdd2bf,#fee0d2,#ffebe2)"></i>
<i style="background:linear-gradient(90deg,#fee4d8,#fed8c8,#fdd0bd,#fdc8b3,#fdc8b2,#fdc8b3,#fcc2aa,#fdd2bf,#fdd1be,#fedccd,#fdd1be,#fdd1be,#fedfd1,#ffebe2)"></i>
<i style="background:linear-gradient(90deg,#fee4d7,#fed8c7,#fdcfbc,#fdc7b1,#fdc7b1,#fdc7b1,#fcc1aa,#fdd2bf,#fdd1be,#fedccc,#fdd1be,#fdd1be,#fedfd0,#ffebe2)"></i>
<i style="background:linear-gradient(90deg,#fee3d7,#fed7c6,#fdceba,#fdc6b0,#fdc5af,#fdc6b0,#fcc1a9,#fdd2bf,#fdd0bd,#fedccc,#fdd0bd,#fdd0bd,#feded0,#ffebe2)"></i>
<i style="background:linear-gradient(90deg,#fee3d6,#fdd7c6,#fdcdb9,#fdc5ae,#fdc4ad,#fdc5ae,#fcc0a8,#fdd2bf,#fdcfbc,#fedbcc,#fdcfbc,#fdcfbc,#fedecf,#ffebe2)"></i>
<i style="background:linear-gradient(90deg,#fee3d6,#fdd6c5,#fdccb8,#fcc4ad,#fcc3ac,#fcc4ad,#fcc0a7,#fdd2bf,#fdcfbb,#fedbcb,#fdcfbb,#fdcfbb,#feddce,#ffebe2)"></i>
<i style="background:linear-gradient(90deg,#fee2d5,#fdd6c4,#fdcbb6,#fcc3ab,#fcc2aa,#fcc3ab,#fcbfa6,#fdd2bf,#fdceba,#fedbcb,#fdceba,#fdceba,#feddce,#ffebe2)"></i>
<i style="background:linear-gradient(90deg,#fee2d5,#fdd5c4,#fdcab5,#fcc2aa,#fcc0a8,#fcc2aa,#fcbea6,#fdd2bf,#fdceba,#fedbcb,#fdceba,#fdceba,#fedccd,#ffebe2)"></i>
<i style="background:linear-gradient(90deg,#fee2d4,#fdd5c3,#fdc9b3,#fcc1a8,#fcbfa7,#fcc1a8,#fcbea5,#fdd2bf,#fdcdb9,#fedaca,#fdcdb9,#fdcdb9,#fedccc,#ffebe2)"></i>
<i style="background:linear-gradient(90deg,#fee1d4,#fdd4c2,#fdc8b2,#fcbfa7,#fcbea5,#fcbfa7,#fcbda4,#fdd2bf,#fdccb8,#fedaca,#fdccb8,#fdccb8,#fedbcc,#ffebe2)"></i>
<i style="background:linear-gradient(90deg,#fee1d3,#fdd4c2,#fdc7b0,#fcbea6,#fcbca3,#fcbea6,#fcbda3,#fdd2bf,#fdccb7,#fedaca,#fdccb7,#fdccb7,#fedbcb,#ffebe2)"></i>
<i style="background:linear-gradient(90deg,#fee1d3,#fdd3c1,#fdc5af,#fcbda4,#fcbba2,#fcbda4,#fcbca2,#fdd2bf,#fdcbb6,#fed9c9,#fdcbb6,#fdcbb6,#fedaca,#ffebe2)"></i>
<i style="background:linear-gradient(90deg,#fee0d2,#fdd3c0,#fdc4ad,#fcbca3,#fcbaa0,#fcbca3,#fcbba2,#fdd2bf,#fdcbb6,#fed9c9,#fdcbb6,#fdcbb6,#fedaca,#ffebe2)"></i>
<i style="background:linear-gradient(90deg,#fee0d2,#fdd2c0,#fcc3ac,#fcbba1,#fcb99e,#fcbba1,#fcbba1,#fdd2bf,#fdcab5,#fed9c9,#fdcab5,#fdcab5,#fed9c9,#ffebe2)"></i>
<i style="background:linear-gradient(90deg,#fee0d2,#fdd2c0,#fcc3ac,#fcbba1,#fcb99e,#fcbba1,#fcbba1,#fdd2c0,#fdcab5,#fed9c8,#fdcab5,#fdcab6,#fed9c9,#ffebe2)"></i>
<i style="background:linear-gradient(90deg,#fee0d2,#fdd3c0,#fcc4ac,#fcbca2,#fcb99f,#fcbca2,#fcbca2,#fdd3c0,#fdcbb6,#fed8c7,#fdcbb6,#fdccb7,#fedaca,#ffebe2)"></i>
<i style="background:linear-gradient(90deg,#fee0d2,#fdd3c1,#fcc4ad,#fcbca3,#fcbaa0,#fcbca3,#fcbca3,#fdd3c1,#fdcbb7,#fed8c7,#fdcbb7,#fdcdb8,#fedaca,#ffebe2)"></i>
<i style="background:linear-gradient(90deg,#fee0d2,#fdd4c2,#fdc5ae,#fcbda3,#fcbba1,#fcbda3,#fcbda3,#fdd4c2,#fdccb7,#fed7c6,#fdccb7,#fdceba,#fedbcb,#ffebe2)"></i>
<i style="background:linear-gradient(90deg,#fee0d2,#fdd4c2,#fdc5ae,#fcbda4,#fcbca2,#fcbda4,#fcbda4,#fdd4c2,#fdcdb8,#fdd7c5,#fdcdb8,#fdcfbb,#fedbcc,#ffebe2)"></i>
<i style="background:linear-gradient(90deg,#fee0d2,#fdd5c3,#fdc6af,#fcbea5,#fcbda3,#fcbea5,#fcbea5,#fdd5c3,#fdcdb9,#fdd6c5,#fdcdb9,#fdd0bd,#fedccc,#ffebe2)"></i>
<i style="background:linear-gradient(90deg,#fee0d2,#fdd5c4,#fdc6b0,#fcbfa6,#fcbda4,#fcbfa6,#fcbfa6,#fdd5c4,#fdceba,#fdd6c4,#fdceba,#fdd1be,#fedccd,#ffebe2)"></i>
<i style="background:linear-gradient(90deg,#fee0d2,#fdd6c4,#fdc7b1,#fcbfa7,#fcbea5,#fcbfa7,#fcbfa7,#fdd6c4,#fdcebb,#fdd5c3,#fdcebb,#fdd2c0,#feddce,#ffebe2)"></i>
<i style="background:linear-gradient(90deg,#fee0d2,#fdd6c5,#fdc7b1,#fcc0a7,#fcbfa6,#fcc0a7,#fcc0a7,#fdd6c5,#fdcfbb,#fdd5c3,#fdcfbb,#fdd3c1,#feddce,#ffebe2)"></i>
<i style="background:linear-gradient(90deg,#fee0d2,#fed7c6,#fdc8b2,#fcc0a8,#fcc0a7,#fcc0a8,#fcc0a8,#fed7c6,#fdcfbc,#fdd4c2,#fdcfbc,#fdd4c3,#fedecf,#ffebe2)"></i>
<i style="background:linear-gradient(90deg,#fee0d2,#fed7c7,#fdc8b3,#fcc1a9,#fcc0a8,#fcc1a9,#fcc1a9,#fed7c7,#fdd0bd,#fdd3c1,#fdd0bd,#fdd5c4,#feded0,#ffebe2)"></i>
<i style="background:linear-gradient(90deg,#fee0d2,#fed8c7,#fdc9b3,#fcc2aa,#fcc1a9,#fcc2aa,#fcc2aa,#fed8c7,#fdd1be,#fdd3c1,#fdd1be,#fdd7c6,#fedfd0,#ffebe2)"></i>
<i style="background:linear-gradient(90deg,#fee0d2,#fed8c8,#fdc9b4,#fcc2ab,#fcc2aa,#fcc2ab,#fcc2ab,#fed8c8,#fdd1be,#fdd2c0,#fdd1be,#fed8c7,#fedfd1,#ffebe2)"></i>
<i style="background:linear-gradient(90deg,#fee0d2,#fed9c9,#fdcab5,#fcc3ab,#fcc3ab,#fcc3ab,#fcc3ab,#fed9c9,#fdd2bf,#fdd2bf,#fdd2bf,#fed9c8,#fee0d2,#ffebe2)"></i>
<i style="background:linear-gradient(90deg,#fee0d2,#fed8c8,#fdcab5,#fcc4ad,#fcc4ad,#fcc3ab,#fcc4ad,#fed9c9,#fdd2bf,#fdd2bf,#fdd2bf,#fed9c9,#fee0d2,#ffebe2)"></i>
<i style="background:linear-gradient(90deg,#fee0d2,#fed8c7,#fdcbb6,#fdc5ae,#fdc5ae,#fcc3ab,#fdc5ae,#fed9c9,#fdd2bf,#fdd2bf,#fdd2bf,#fed9c9,#fee0d2,#ffebe2)"></i>
<i style="background:linear-gradient(90deg,#fee0d2,#fed7c7,#fdccb7,#fdc6b0,#fdc6b0,#fcc3ab,#fdc6b0,#fed9c9,#fdd2bf,#fdd2bf,#fdd2bf,#fed9c9,#fee0d2,#ffebe2)"></i>
<i style="background:linear-gradient(90deg,#fee0d2,#fed7c6,#fdccb8,#fdc7b1,#fdc7b1,#fcc3ab,#fdc7b1,#fed9c9,#fdd2bf,#fdd2bf,#fdd2bf,#fed9c9,#fee0d2,#ffebe2)"></i>
<i style="background:linear-gradient(90deg,#fee0d2,#fdd6c5,#fdcdb8,#fdc8b3,#fdc8b3,#fcc3ab,#fdc8b3,#fed9c9,#fdd2bf,#fdd2bf,#fdd2bf,#fed9c9,#fee0d2,#ffebe2)"></i>
<i style="background:linear-gradient(90deg,#fee0d2,#fdd6c5,#fdcdb9,#fdc9b4,#fdc9b4,#fcc3ab,#fdc9b4,#fed9c9,#fdd2bf,#fdd2bf,#fdd2bf,#fed9c9,#fee0d2,#ffebe2)"></i>
<i style="background:linear-gradient(90deg,#fee0d2,#fdd5c4,#fdceba,#fdcab5,#fdcab5,#fcc3ab,#fdcab5,#fed9c9,#fdd2bf,#fdd2bf,#fdd2bf,#fed9c9,#fee0d2,#ffebe2)"></i>
<i style="background:linear-gradient(90deg,#fee0d2,#fdd5c3,#fdcebb,#fdccb7,#fdccb7,#fcc3ab,#fdccb7,#fed9c9,#fdd2bf,#fdd2bf,#fdd2bf,#fed9c9,#fee0d2,#ffebe2)"></i>
<i style="background:linear-gradient(90deg,#fee0d2,#fdd4c3,#fdcfbc,#fdcdb8,#fdcdb8,#fcc3ab,#fdcdb8,#fed9c9,#fdd2bf,#fdd2bf,#fdd2bf,#fed9c9,#fee0d2,#ffebe2)"></i>
<i style="background:linear-gradient(90deg,#fee0d2,#fdd4c2,#fdd0bc,#fdceba,#fdceba,#fcc3ab,#fdceba,#fed9c9,#fdd2bf,#fdd2bf,#fdd2bf,#fed9c9,#fee0d2,#ffebe2)"></i>
<i style="background:linear-gradient(90deg,#fee0d2,#fdd3c1,#fdd0bd,#fdcfbb,#fdcfbb,#fcc3ab,#fdcfbb,#fed9c9,#fdd2bf,#fdd2bf,#fdd2bf,#fed9c9,#fee0d2,#ffebe2)"></i>
<i style="background:linear-gradient(90deg,#fee0d2,#fdd3c1,#fdd1be,#fdd0bd,#fdd0bd,#fcc3ab,#fdd0bd,#fed9c9,#fdd2bf,#fdd2bf,#fdd2bf,#fed9c9,#fee0d2,#ffebe2)"></i>
<i style="background:linear-gradient(90deg,#fee0d2,#fdd2c0,#fdd1bf,#fdd1be,#fdd1be,#fcc3ab,#fdd1be,#fed9c9,#fdd2bf,#fdd2bf,#fdd2bf,#fed9c9,#fee0d2,#ffebe2)"></i>
<i style="background:linear-gradient(90deg,#fee0d2,#fdd2bf,#fdd2bf,#fdd2bf,#fdd2bf,#fcc3ab,#fdd2bf,#fed9c8,#fdd2bf,#fdd2bf,#fdd2bf,#fed9c8,#fee0d2,#ffebe2)"></i>
<i style="background:linear-gradient(90deg,#fee0d2,#fdd1be,#fdd1be,#fdd2c0,#fdd2bf,#fcc3ac,#fdd3c0,#fed8c8,#fdd2bf,#fdd2bf,#fdd2bf,#fed8c8,#fedfd1,#ffebe2)"></i>
<i style="background:linear-gradient(90deg,#fee0d2,#fdd1be,#fdd1be,#fdd3c0,#fdd2bf,#fcc4ad,#fdd3c1,#fed8c7,#fdd2bf,#fdd2bf,#fdd2bf,#fed8c7,#fedfd0,#ffebe2)"></i>
<i style="background:linear-gradient(90deg,#fee0d2,#fdd0bd,#fdd0bd,#fdd3c1,#fdd2bf,#fdc4ae,#fdd4c1,#fed7c6,#fdd2bf,#fdd2bf,#fdd2bf,#fed7c6,#feded0,#ffebe2)"></i>
<i style="background:linear-gradient(90deg,#fee0d2,#fdcfbc,#fdcfbc,#fdd3c1,#fdd2bf,#fdc5ae,#fdd4c2,#fed7c6,#fdd2bf,#fdd2bf,#fdd2bf,#fed7c6,#fedecf,#ffebe2)"></i>
<i style="background:linear-gradient(90deg,#fee0d2,#fdcfbb,#fdcfbb,#fdd4c2,#fdd2bf,#fdc5af,#fdd5c3,#fdd6c5,#fdd2bf,#fdd2bf,#fdd2bf,#fdd6c5,#feddce,#ffebe2)"></i>
<i style="background:linear-gradient(90deg,#fee0d2,#fdcebb,#fdcebb,#fdd4c2,#fdd2bf,#fdc6b0,#fdd5c4,#fdd6c4,#fdd2bf,#fdd2bf,#fdd2bf,#fdd6c4,#feddce,#ffebe2)"></i>
<i style="background:linear-gradient(90deg,#fee0d2,#fdceba,#fdceba,#fdd4c3,#fdd2bf,#fdc6b0,#fdd6c4,#fdd5c4,#fdd2bf,#fdd2bf,#fdd2bf,#fdd5c4,#fedccd,#ffebe2)"></i>
<i style="background:linear-gradient(90deg,#fee0d2,#fdcdb9,#fdcdb9,#fdd5c3,#fdd2bf,#fdc7b1,#fdd6c5,#fdd5c3,#fdd2bf,#fdd2bf,#fdd2bf,#fdd5c3,#fedccc,#ffebe2)"></i>
<i style="background:linear-gradient(90deg,#fee0d2,#fdcdb8,#fdcdb8,#fdd5c3,#fdd2bf,#fdc7b2,#fdd7c6,#fdd4c2,#fdd2bf,#fdd2bf,#fdd2bf,#fdd4c2,#fedbcc,#ffebe2)"></i>
<i style="background:linear-gradient(90deg,#fee0d2,#fdccb7,#fdccb7,#fdd5c4,#fdd2bf,#fdc8b2,#fed7c6,#fdd4c2,#fdd2bf,#fdd2bf,#fdd2bf,#fdd4c2,#fedbcb,#ffebe2)"></i>
<i style="background:linear-gradient(90deg,#fee0d2,#fdcbb7,#fdcbb7,#fdd6c4,#fdd2bf,#fdc8b3,#fed8c7,#fdd3c1,#fdd2bf,#fdd2bf,#fdd2bf,#fdd3c1,#fedaca,#ffebe2)"></i>
<i style="background:linear-gradient(90deg,#fee0d2,#fdcbb6,#fdcbb6,#fdd6c5,#fdd2bf,#fdc9b4,#fed8c8,#fdd3c0,#fdd2bf,#fdd2bf,#fdd2bf,#fdd3c0,#fedaca,#ffebe2)"></i>
<i style="background:linear-gradient(90deg,#fee0d2,#fdcab5,#fdcab5,#fdd6c5,#fdd2bf,#fdcab4,#fed9c8,#fdd2c0,#fdd2bf,#fdd2bf,#fdd2bf,#fdd2c0,#fed9c9,#ffebe2)"></i>
<i style="background:linear-gradient(90deg,#fee0d2,#fdcab5,#fdc9b4,#fdd7c6,#fdd2bf,#fdcab4,#fed9c8,#fdd2bf,#fdd1bf,#fdd1be,#fdd1be,#fdd1bf,#fed9c8,#ffebe2)"></i>
<i style="background:linear-gradient(90deg,#fedfd1,#fdcab5,#fdc8b3,#fed7c6,#fdd1be,#fdc9b4,#fed9c8,#fdd2bf,#fdd0bd,#fdcfbc,#fdcfbc,#fdd0bd,#fed8c8,#ffebe1)"></i>
<i style="background:linear-gradient(90deg,#fedfd0,#fdcab5,#fdc7b1,#fed7c6,#fdd0bd,#fdc9b3,#fed8c8,#fdd2bf,#fdcfbc,#fdceba,#fdceba,#fdcfbc,#fed8c7,#ffebe1)"></i>
<i style="background:linear-gradient(90deg,#feded0,#fdcab5,#fdc6b0,#fed7c6,#fdd0bd,#fdc8b2,#fed8c8,#fdd2bf,#fdceba,#fdccb8,#fdccb8,#fdceba,#fed7c6,#feeae1)"></i>
<i style="background:linear-gradient(90deg,#fedecf,#fdcab5,#fdc5ae,#fed7c7,#fdcfbc,#fdc8b2,#fed8c8,#fdd2bf,#fdcdb9,#fdcab5,#fdcab5,#fdcdb9,#fdd7c6,#feeae1)"></i>
<i style="background:linear-gradient(90deg,#feddce,#fdcab5,#fcc4ad,#fed7c7,#fdcfbb,#fdc7b1,#fed8c7,#fdd2bf,#fdccb7,#fdc9b3,#fdc9b3,#fdccb7,#fdd6c5,#feeae0)"></i>
<i style="background:linear-gradient(90deg,#feddcd,#fdcab5,#fcc3ab,#fed8c7,#fdceba,#fdc7b0,#fed8c7,#fdd2bf,#fdcbb6,#fdc7b1,#fdc7b1,#fdcbb6,#fdd6c4,#feeae0)"></i>
<i style="background:linear-gradient(90deg,#fedccd,#fdcab5,#fcc2aa,#fed8c7,#fdceba,#fdc6b0,#fed8c7,#fdd2bf,#fdcab5,#fdc5af,#fdc5af,#fdcab5,#fdd5c4,#feeae0)"></i>
<i style="background:linear-gradient(90deg,#fedccc,#fdcab5,#fcc1a8,#fed8c7,#fdcdb9,#fdc6af,#fed7c7,#fdd2bf,#fdc9b3,#fcc4ac,#fcc4ac,#fdc9b3,#fdd5c3,#fee9e0)"></i>
<i style="background:linear-gradient(90deg,#fedbcb,#fdcab5,#fcbfa7,#fed8c8,#fdccb8,#fdc5ae,#fed7c6,#fdd2bf,#fdc8b2,#fcc2aa,#fcc2aa,#fdc8b2,#fdd4c2,#fee9df)"></i>
<i style="background:linear-gradient(90deg,#fedbcb,#fdcab5,#fcbea5,#fed8c8,#fdccb7,#fdc5ae,#fed7c6,#fdd2bf,#fdc6b0,#fcc0a8,#fcc0a8,#fdc6b0,#fdd4c2,#fee9df)"></i>
<i style="background:linear-gradient(90deg,#fedaca,#fdcab5,#fcbda4,#fed9c8,#fdcbb6,#fcc4ad,#fed7c6,#fdd2bf,#fdc5af,#fcbfa6,#fcbfa6,#fdc5af,#fdd3c1,#fee9df)"></i>
<i style="background:linear-gradient(90deg,#fedac9,#fdcab5,#fcbca3,#fed9c8,#fdcbb6,#fcc3ac,#fed7c6,#fdd2bf,#fdc4ad,#fcbda4,#fcbda4,#fdc4ad,#fdd3c0,#fee9de)"></i>
<i style="background:linear-gradient(90deg,#fed9c9,#fdcab5,#fcbba1,#fed9c9,#fdcab5,#fcc3ac,#fdd7c6,#fdd2bf,#fcc3ac,#fcbba1,#fcbba1,#fcc3ac,#fdd2c0,#fee9de)"></i>
<i style="background:linear-gradient(90deg,#fed9c9,#fdc9b4,#fcbaa0,#fed8c8,#fdcab5,#fcc3ab,#fdd6c4,#fdd1be,#fcc3ab,#fcbba1,#fcbba1,#fcc3ab,#fdd2bf,#fee8de)"></i>
<i style="background:linear-gradient(90deg,#fed9c9,#fdc9b3,#fcbaa0,#fed7c6,#fdcab5,#fcc3ab,#fdd4c2,#fdd0bd,#fcc3ab,#fcbba1,#fcbba1,#fcc3ab,#fdd2bf,#fee8de)"></i>
<i style="background:linear-gradient(90deg,#fed9c9,#fdc8b3,#fcb99f,#fdd6c5,#fdcab5,#fcc3ab,#fdd3c0,#fdcfbb,#fcc3ab,#fcbba1,#fcbba1,#fcc3ab,#fdd2bf,#fee8de)"></i>
<i style="background:linear-gradient(90deg,#fed9c9,#fdc8b2,#fcb99e,#fdd5c3,#fdcab5,#fcc3ab,#fdd1be,#fdceba,#fcc3ab,#fcbba1,#fcbba1,#fcc3ab,#fdd2bf,#fee8de)"></i>
<i style="background:linear-gradient(90deg,#fed9c9,#fdc7b1,#fcb89e,#fdd4c2,#fdcab5,#fcc3ab,#fdd0bd,#fdcdb9,#fcc3ab,#fcbba1,#fcbba1,#fcc3ab,#fdd2bf,#fee8de)"></i>
<i style="background:linear-gradient(90deg,#fed9c9,#fdc7b1,#fcb79d,#fdd3c0,#fdcab5,#fcc3ab,#fdcebb,#fdccb7,#fcc3ab,#fcbba1,#fcbba1,#fcc3ab,#fdd2bf,#fee8de)"></i>
<i style="background:linear-gradient(90deg,#fed9c9,#fdc6b0,#fcb79c,#fdd2bf,#fdcab5,#fcc3ab,#fdcdb9,#fdcbb6,#fcc3ab,#fcbba1,#fcbba1,#fcc3ab,#fdd2bf,#fee8de)"></i>
<i style="background:linear-gradient(90deg,#fed9c9,#fdc6af,#fcb69c,#fdd0bd,#fdcab5,#fcc3ab,#fdccb7,#fdc9b4,#fcc3ab,#fcbba1,#fcbba1,#fcc3ab,#fdd2bf,#fee8de)"></i>
<i style="background:linear-gradient(90deg,#fed9c9,#fdc5af,#fcb69b,#fdcfbc,#fdcab5,#fcc3ab,#fdcab5,#fdc8b3,#fcc3ab,#fcbba1,#fcbba1,#fcc3ab,#fdd2bf,#fee8de)"></i>
<i style="background:linear-gradient(90deg,#fed9c9,#fdc5ae,#fcb59a,#fdceba,#fdcab5,#fcc3ab,#fdc9b3,#fdc7b1,#fcc3ab,#fcbba1,#fcbba1,#fcc3ab,#fdd2bf,#fee8de)"></i>
<i style="background:linear-gradient(90deg,#fed9c9,#fdc4ad,#fcb59a,#fdcdb9,#fdcab5,#fcc3ab,#fdc7b1,#fdc6b0,#fcc3ab,#fcbba1,#fcbba1,#fcc3ab,#fdd2bf,#fee8de)"></i>
<i style="background:linear-gradient(90deg,#fed9c9,#fcc4ad,#fcb499,#fdccb8,#fdcab5,#fcc3ab,#fdc6af,#fdc5ae,#fcc3ab,#fcbba1,#fcbba1,#fcc3ab,#fdd2bf,#fee8de)"></i>
<i style="background:linear-gradient(90deg,#fed9c9,#fcc3ac,#fcb498,#fdcbb6,#fdcab5,#fcc3ab,#fdc4ad,#fcc4ad,#fcc3ab,#fcbba1,#fcbba1,#fcc3ab,#fdd2bf,#fee8de)"></i>
<i style="background:linear-gradient(90deg,#fed9c9,#fcc3ab,#fcb398,#fdcab5,#fdcab5,#fcc3ab,#fcc3ab,#fcc3ab,#fcc3ab,#fcbba1,#fcbba1,#fcc3ab,#fdd2bf,#fee8de)"></i>
<i style="background:linear-gradient(90deg,#fed8c8,#fcc3ab,#fcb499,#fdc9b4,#fdcab5,#fcc3ac,#fcc3ab,#fcc4ad,#fcc3ab,#fcbaa0,#fcbaa0,#fcc2ab,#fdd1be,#fee8de)"></i>
<i style="background:linear-gradient(90deg,#fed8c7,#fcc3ab,#fcb59b,#fdc9b3,#fdcab5,#fcc4ad,#fcc3ab,#fdc5ae,#fcc3ab,#fcba9f,#fcba9f,#fcc2aa,#fdd0bc,#fee8de)"></i>
<i style="background:linear-gradient(90deg,#fed7c7,#fcc3ab,#fcb69c,#fdc8b3,#fdcab5,#fdc4ad,#fcc3ab,#fdc6b0,#fcc3ab,#fcb99f,#fcb99f,#fcc1a9,#fdcfbb,#fee8dd)"></i>
<i style="background:linear-gradient(90deg,#fed7c6,#fcc3ab,#fcb89d,#fdc8b2,#fdcab5,#fdc5ae,#fcc3ab,#fdc7b1,#fcc3ab,#fcb89e,#fcb89e,#fcc0a8,#fdceba,#fee8dd)"></i>
<i style="background:linear-gradient(90deg,#fdd6c5,#fcc3ab,#fcb99f,#fdc7b1,#fdcab5,#fdc5af,#fcc3ab,#fdc8b3,#fcc3ab,#fcb89d,#fcb89d,#fcc0a7,#fdccb8,#fee8dd)"></i>
<i style="background:linear-gradient(90deg,#fdd6c5,#fcc3ab,#fcbaa0,#fdc7b1,#fdcab5,#fdc6af,#fcc3ab,#fdc9b4,#fcc3ab,#fcb79d,#fcb79d,#fcbfa7,#fdcbb7,#fee7dc)"></i>
<i style="background:linear-gradient(90deg,#fdd5c4,#fcc3ab,#fcbba2,#fdc6b0,#fdcab5,#fdc6b0,#fcc3ab,#fdcab6,#fcc3ab,#fcb79c,#fcb79c,#fcbfa6,#fdcab5,#fee7dc)"></i>
<i style="background:linear-gradient(90deg,#fdd5c3,#fcc3ab,#fcbca3,#fdc6af,#fdcab5,#fdc7b1,#fcc3ab,#fdccb7,#fcc3ab,#fcb69b,#fcb69b,#fcbea5,#fdc9b4,#fee7dc)"></i>
<i style="background:linear-gradient(90deg,#fdd4c3,#fcc3ab,#fcbda5,#fdc5af,#fdcab5,#fdc7b1,#fcc3ab,#fdcdb8,#fcc3ab,#fcb69b,#fcb69b,#fcbea4,#fdc8b2,#fee7dc)"></i>
<i style="background:linear-gradient(90deg,#fdd4c2,#fcc3ab,#fcbea6,#fdc5ae,#fdcab5,#fdc8b2,#fcc3ab,#fdceba,#fcc3ab,#fcb59a,#fcb59a,#fcbda4,#fdc7b1,#fee7db)"></i>
<i style="background:linear-gradient(90deg,#fdd3c1,#fcc3ab,#fcc0a7,#fcc4ad,#fdcab5,#fdc8b3,#fcc3ab,#fdcfbb,#fcc3ab,#fcb59a,#fcb59a,#fcbca3,#fdc6af,#fee6db)"></i>
<i style="background:linear-gradient(90deg,#fdd3c1,#fcc3ab,#fcc1a9,#fcc4ad,#fdcab5,#fdc9b3,#fcc3ab,#fdd0bd,#fcc3ab,#fcb499,#fcb499,#fcbca2,#fdc5ae,#fee6db)"></i>
<i style="background:linear-gradient(90deg,#fdd2c0,#fcc3ab,#fcc2aa,#fcc3ac,#fdcab5,#fdc9b4,#fcc3ab,#fdd1be,#fcc3ab,#fcb398,#fcb398,#fcbba1,#fcc4ac,#fee6db)"></i>
<i style="background:linear-gradient(90deg,#fdd2bf,#fcc3ab,#fcc3ab,#fcc3ab,#fdcab4,#fdcab5,#fcc3ab,#fdd2bf,#fcc3ab,#fcb398,#fcb398,#fcbba0,#fcc3ab,#fee6da)"></i>
<i style="background:linear-gradient(90deg,#fdd2bf,#fcc3ab,#fcc3ab,#fcc3ab,#fdc9b4,#fdcab5,#fcc3ab,#fdd2bf,#fcc1aa,#fcb297,#fcb398,#fcbaa0,#fcc2aa,#fee6da)"></i>
<i style="background:linear-gradient(90deg,#fdd2bf,#fcc3ab,#fcc3ab,#fcc3ab,#fdc9b3,#fdcab5,#fcc3ab,#fdd1be,#fcc0a8,#fcb296,#fcb398,#fcb99f,#fcc2aa,#fee6da)"></i>
<i style="background:linear-gradient(90deg,#fdd2bf,#fcc3ab,#fcc3ab,#fcc3ab,#fdc8b2,#fdcab5,#fcc3ab,#fdd1be,#fcbfa7,#fcb196,#fcb398,#fcb99f,#fcc1a9,#fee6da)"></i>
<i style="background:linear-gradient(90deg,#fdd2bf,#fcc3ab,#fcc3ab,#fcc3ab,#fdc8b2,#fdcab5,#fcc3ab,#fdd0bd,#fcbea5,#fcb195,#fcb398,#fcb89e,#fcc0a8,#fee5da)"></i>
<i style="background:linear-gradient(90deg,#fdd2bf,#fcc3ab,#fcc3ab,#fcc3ab,#fdc7b1,#fdcab5,#fcc3ab,#fdd0bd,#fcbda4,#fcb094,#fcb398,#fcb89d,#fcc0a7,#fee5da)"></i>
<i style="background:linear-gradient(90deg,#fdd2bf,#fcc3ab,#fcc3ab,#fcc3ab,#fdc7b0,#fdcab5,#fcc3ab,#fdd0bd,#fcbca2,#fcaf94,#fcb398,#fcb79d,#fcbfa6,#fee5d9)"></i>
<i style="background:linear-gradient(90deg,#fdd2bf,#fcc3ab,#fcc3ab,#fcc3ab,#fdc6b0,#fdcab5,#fcc3ab,#fdcfbc,#fcbaa1,#fcaf93,#fcb398,#fcb79c,#fcbfa6,#fee5d9)"></i>
<i style="background:linear-gradient(90deg,#fdd2bf,#fcc3ab,#fcc3ab,#fcc3ab,#fdc6af,#fdcab5,#fcc3ab,#fdcfbc,#fcb9a0,#fcae92,#fcb398,#fcb69b,#fcbea5,#fee5d9)"></i>
<i style="background:linear-gradient(90deg,#fdd2bf,#fcc3ab,#fcc3ab,#fcc3ab,#fdc5ae,#fdcab5,#fcc3ab,#fdcfbb,#fcb89e,#fcae92,#fcb398,#fcb59b,#fcbda4,#fee5d9)"></i>
<i style="background:linear-gradient(90deg,#fdd2bf,#fcc3ab,#fcc3ab,#fcc3ab,#fdc5ae,#fdcab5,#fcc3ab,#fdcebb,#fcb79d,#fcad91,#fcb398,#fcb59a,#fcbda3,#fee5d9)"></i>
<i style="background:linear-gradient(90deg,#fdd2bf,#fcc3ab,#fcc3ab,#fcc3ab,#fcc4ad,#fdcab5,#fcc3ab,#fdceba,#fcb69b,#fcad91,#fcb398,#fcb499,#fcbca3,#fee5d9)"></i>
<i style="background:linear-gradient(90deg,#fdd2bf,#fcc3ab,#fcc3ab,#fcc3ab,#fcc4ac,#fdcab5,#fcc3ab,#fdceba,#fcb59a,#fcac90,#fcb398,#fcb499,#fcbca2,#fee5d9)"></i>
<i style="background:linear-gradient(90deg,#fdd2bf,#fcc3ab,#fcc3ab,#fcc3ab,#fcc3ac,#fdcab5,#fcc3ab,#fdcdb9,#fcb498,#fcac8f,#fcb398,#fcb398,#fcbba1,#fee5d9)"></i>
<i style="background:linear-gradient(90deg,#fdd2bf,#fcc3ab,#fcc3ab,#fcc3ab,#fcc2ab,#fdcab5,#fcc3ab,#fdcbb7,#fcb297,#fcaa8e,#fcb297,#fcb297,#fcbaa0,#fee4d8)"></i>
<i style="background:linear-gradient(90deg,#fdd1be,#fcc3ab,#fcc2aa,#fcc2aa,#fcc1a9,#fdcab5,#fcc3ab,#fdc8b3,#fcb095,#fca88c,#fcb095,#fcb196,#fcb99f,#fee4d8)"></i>
<i style="background:linear-gradient(90deg,#fdd0bd,#fcc3ab,#fcc1a9,#fcc1a9,#fcc0a8,#fdcab5,#fcc3ab,#fdc4ae,#fcaf93,#fca78a,#fcaf93,#fcb094,#fcb89d,#fee4d8)"></i>
<i style="background:linear-gradient(90deg,#fdd0bd,#fcc3ab,#fcc1a9,#fcc1a9,#fcbfa6,#fdcab5,#fcc3ab,#fdc0aa,#fcad91,#fca587,#fcad91,#fcaf93,#fcb79c,#fee4d8)"></i>
<i style="background:linear-gradient(90deg,#fdcfbc,#fcc3ab,#fcc0a8,#fcc0a8,#fcbea5,#fdcab5,#fcc3ab,#fdbda5,#fcab8f,#fca385,#fcab8f,#fcad92,#fcb69b,#fee4d8)"></i>
<i style="background:linear-gradient(90deg,#fdcfbb,#fcc3ab,#fcc0a7,#fcc0a7,#fcbca4,#fdcab5,#fcc3ab,#fdb9a1,#fca98d,#fca183,#fca98d,#fcac90,#fcb49a,#fee4d7)"></i>
<i style="background:linear-gradient(90deg,#fdceba,#fcc3ab,#fcbfa6,#fcbfa6,#fcbba2,#fdcab5,#fcc3ab,#fdb59c,#fca78b,#fc9f81,#fca78b,#fcab8f,#fcb398,#fee4d7)"></i>
<i style="background:linear-gradient(90deg,#fdcdb9,#fcc3ab,#fcbea6,#fcbea6,#fcbaa1,#fdcab5,#fcc3ab,#fcb298,#fca688,#fc9d7f,#fca688,#fcaa8d,#fcb297,#fee3d7)"></i>
<i style="background:linear-gradient(90deg,#fdcdb9,#fcc3ab,#fcbea5,#fcbea5,#fcb99f,#fdcab5,#fcc3ab,#fcae93,#fca486,#fc9b7d,#fca486,#fca98c,#fcb196,#fee3d7)"></i>
<i style="background:linear-gradient(90deg,#fdccb8,#fcc3ab,#fcbda4,#fcbda4,#fcb89e,#fdcab5,#fcc3ab,#fcaa8f,#fca284,#fc997b,#fca284,#fca78b,#fcb094,#fee3d7)"></i>
<i style="background:linear-gradient(90deg,#fdccb7,#fcc3ab,#fcbda3,#fcbda3,#fcb79c,#fdcab5,#fcc3ab,#fca68a,#fca082,#fc9878,#fca082,#fca689,#fcaf93,#fee3d6)"></i>
<i style="background:linear-gradient(90deg,#fdcbb6,#fcc3ab,#fcbca2,#fcbca2,#fcb69b,#fdcab5,#fcc3ab,#fca386,#fc9e80,#fc9676,#fc9e80,#fca588,#fcae92,#fee3d6)"></i>
<i style="background:linear-gradient(90deg,#fdcbb6,#fcc3ab,#fcbba2,#fcbba2,#fcb49a,#fdcab5,#fcc3ab,#fc9f81,#fc9d7e,#fc9474,#fc9d7e,#fca486,#fcad91,#fee3d6)"></i>
<i style="background:linear-gradient(90deg,#fdcab5,#fcc3ab,#fcbba1,#fcbba1,#fcb398,#fdcab5,#fcc3ab,#fc9b7d,#fc9b7c,#fc9272,#fc9b7c,#fca385,#fcac8f,#fee3d6)"></i>
<i style="background:linear-gradient(90deg,#fdc9b3,#fcc0a8,#fcb89e,#fcb99f,#fcb397,#fdc7b1,#fcc0a8,#fc9a7b,#fc9a7b,#fc9171,#fc9879,#fca183,#fcab8e,#fee2d5)"></i>
<i style="background:linear-gradient(90deg,#fdc7b1,#fcbca4,#fcb59b,#fcb79c,#fcb297,#fdc4ad,#fcbca4,#fc997a,#fc9879,#fc9171,#fc9475,#fc9f81,#fcaa8e,#fee2d5)"></i>
<i style="background:linear-gradient(90deg,#fdc5af,#fcb9a0,#fcb297,#fcb499,#fcb196,#fdc0a9,#fcb9a0,#fc997a,#fc9778,#fc9070,#fc9172,#fc9d7f,#fca98d,#fee2d5)"></i>
<i style="background:linear-gradient(90deg,#fdc4ad,#fcb59c,#fcaf94,#fcb297,#fcb195,#fdbda5,#fcb59c,#fc9879,#fc9677,#fc8f6f,#fc8d6e,#fc9c7d,#fca98c,#fee2d5)"></i>
<i style="background:linear-gradient(90deg,#fdc2ab,#fcb297,#fcac90,#fcb094,#fcb095,#fdb9a1,#fcb297,#fc9778,#fc9576,#fc8f6f,#fc896a,#fc9a7b,#fca88b,#fee2d4)"></i>
<i style="background:linear-gradient(90deg,#fcc0a9,#fcae93,#fca98d,#fcad91,#fcb094,#fcb69d,#fcae93,#fc9777,#fc9474,#fc8e6e,#fc8667,#fc9879,#fca78b,#fee1d4)"></i>
<i style="background:linear-gradient(90deg,#fcbfa6,#fcab8f,#fca689,#fcab8e,#fcaf93,#fcb399,#fcab8f,#fc9677,#fc9273,#fc8e6e,#fb8263,#fc9678,#fca78a,#fee1d4)"></i>
<i style="background:linear-gradient(90deg,#fcbda4,#fca78b,#fca386,#fca88c,#fcaf93,#fcaf94,#fca78b,#fc9576,#fc9172,#fc8d6d,#fb7f5f,#fc9576,#fca689,#fee1d3)"></i>
<i style="background:linear-gradient(90deg,#fcbba2,#fca386,#fca083,#fca689,#fcae92,#fcac90,#fca386,#fc9575,#fc9070,#fc8d6d,#fb7b5c,#fc9374,#fca588,#fee1d3)"></i>
<i style="background:linear-gradient(90deg,#fcbaa0,#fca082,#fc9d7f,#fca486,#fcad91,#fca88c,#fca082,#fc9474,#fc8f6f,#fc8c6c,#fb7758,#fc9172,#fca588,#fee1d3)"></i>
<i style="background:linear-gradient(90deg,#fcb89e,#fc9c7e,#fc9a7c,#fca184,#fcad91,#fca588,#fc9c7e,#fc9374,#fc8e6e,#fc8c6c,#fb7454,#fc8f70,#fca487,#fee0d3)"></i>
<i style="background:linear-gradient(90deg,#fcb69c,#fc997a,#fc9778,#fc9f81,#fcac90,#fca184,#fc997a,#fc9373,#fc8c6d,#fc8b6b,#fb7051,#fc8d6e,#fca486,#fee0d2)"></i>
<i style="background:linear-gradient(90deg,#fcb59a,#fc9576,#fc9475,#fc9d7e,#fcac90,#fc9e80,#fc9576,#fc9272,#fc8b6b,#fc8b6b,#fb6d4d,#fc8c6c,#fca385,#fee0d2)"></i>
<i style="background:linear-gradient(90deg,#fcb398,#fc9171,#fc9171,#fc9a7c,#fcab8f,#fc9a7c,#fc9171,#fc9171,#fc8a6a,#fc8a6a,#fb6949,#fc8a6a,#fca285,#fee0d2)"></i>
<i style="background:linear-gradient(90deg,#fcb095,#fc8e6f,#fc8e6f,#fc9879,#fca98d,#fc9879,#fc8e6e,#fc8e6e,#fb8566,#fb8667,#f96547,#fc8868,#fca082,#fedfd1)"></i>
<i style="background:linear-gradient(90deg,#fcae92,#fc8c6c,#fc8c6c,#fc9677,#fca78b,#fc9677,#fb8a6b,#fb8a6b,#fb8163,#fb8364,#f86145,#fc8565,#fc9e80,#fedfd0)"></i>
<i style="background:linear-gradient(90deg,#fcac8f,#fc8969,#fc8969,#fc9374,#fca688,#fc9374,#fb8767,#fb8767,#fa7d5f,#fb7f60,#f75d42,#fc8363,#fc9b7d,#feded0)"></i>
<i style="background:linear-gradient(90deg,#fca98d,#fc8666,#fc8666,#fc9172,#fca486,#fc9172,#fb8364,#fb8364,#f9785b,#fa7b5d,#f55a40,#fc8060,#fc997b,#fedecf)"></i>
<i style="background:linear-gradient(90deg,#fca78a,#fc8363,#fc8363,#fc8e6f,#fca284,#fc8e6f,#fb8061,#fb8061,#f97458,#fa785a,#f4563e,#fb7e5e,#fc9778,#feddce)"></i>
<i style="background:linear-gradient(90deg,#fca487,#fb8060,#fb8060,#fc8c6d,#fca082,#fc8c6d,#fa7c5d,#fa7c5d,#f86f54,#f97457,#f2523b,#fb7c5c,#fc9476,#feddce)"></i>
<i style="background:linear-gradient(90deg,#fca284,#fb7d5d,#fb7d5d,#fc8a6a,#fc9e80,#fc8a6a,#fa785a,#fa785a,#f86b50,#f97054,#f14e39,#fb7959,#fc9273,#fedccd)"></i>
<i style="background:linear-gradient(90deg,#fc9f81,#fb7a5a,#fb7a5a,#fc8768,#fc9c7e,#fc8768,#fa7557,#fa7557,#f7664d,#f96d50,#f04a36,#fb7757,#fc9071,#fedccc)"></i>
<i style="background:linear-gradient(90deg,#fc9d7f,#fb7757,#fb7757,#fc8565,#fc9a7c,#fc8565,#fa7154,#fa7154,#f66249,#f8694d,#ee4634,#fb7455,#fc8d6e,#fedbcc)"></i>
<i style="background:linear-gradient(90deg,#fc9b7c,#fb7454,#fb7454,#fc8363,#fc9879,#fc8363,#f96e50,#f96e50,#f65e45,#f8654a,#ed4232,#fb7252,#fc8b6c,#fedbcb)"></i>
<i style="background:linear-gradient(90deg,#fc9879,#fb7151,#fb7151,#fc8060,#fc9777,#fc8060,#f96a4d,#f96a4d,#f55942,#f76147,#eb3e2f,#fb7050,#fc8969,#fedaca)"></i>
<i style="background:linear-gradient(90deg,#fc9676,#fb6e4e,#fb6e4e,#fb7e5e,#fc9575,#fb7e5e,#f9664a,#f9664a,#f5553e,#f75e44,#ea3a2d,#fb6d4e,#fc8667,#fedaca)"></i>
<i style="background:linear-gradient(90deg,#fc9373,#fb6b4c,#fb6b4c,#fb7b5b,#fc9373,#fb7b5b,#f96346,#f96346,#f4503a,#f75a40,#e9362b,#fb6b4b,#fc8464,#fed9c9)"></i>
<i style="background:linear-gradient(90deg,#fc9171,#fa6849,#fa6749,#fb7859,#fc9171,#fb7959,#f85f43,#f75f43,#f24c37,#f5563e,#e73329,#fb6849,#fc8262,#fed9c8)"></i>
<i style="background:linear-gradient(90deg,#fc8f6f,#f86446,#f66245,#fa7455,#fc8e6e,#fb7758,#f65b41,#f35940,#ee4835,#f2523b,#e53228,#fa6547,#fc8161,#fed8c8)"></i>
<i style="background:linear-gradient(90deg,#fc8c6c,#f65f44,#f35c42,#f96f52,#fc8b6b,#fb7556,#f3573e,#ee543d,#ea4433,#ef4d39,#e43027,#f96145,#fc8060,#fed8c7)"></i>
<i style="background:linear-gradient(90deg,#fc8a6a,#f55b41,#ef563f,#f86a4f,#fc8868,#fb7454,#f1523c,#ea4e3a,#e64030,#ec4836,#e22f27,#f85e42,#fc7f5f,#fed7c6)"></i>
<i style="background:linear-gradient(90deg,#fc8868,#f3563e,#ec503c,#f7664b,#fc8565,#fb7253,#ef4e3a,#e64937,#e23b2e,#e84434,#e12d26,#f75b40,#fb7d5d,#fdd7c6)"></i>
<i style="background:linear-gradient(90deg,#fc8565,#f1523c,#e84a38,#f66148,#fc8262,#fa7051,#ec4a37,#e14334,#de372c,#e53f31,#df2c25,#f6573e,#fb7c5c,#fdd6c5)"></i>
<i style="background:linear-gradient(90deg,#fc8363,#ef4e39,#e44435,#f55d45,#fb7f5f,#fa6e50,#ea4535,#dd3e31,#da332a,#e23a2f,#de2a25,#f5543c,#fb7b5b,#fdd6c4)"></i>
<i style="background:linear-gradient(90deg,#fc8161,#ed4937,#e13e32,#f45841,#fb7c5c,#fa6c4e,#e84132,#d8382e,#d62f28,#df362c,#dc2924,#f4503a,#fb7a5a,#fdd5c4)"></i>
<i style="background:linear-gradient(90deg,#fc7f5f,#eb4534,#dd382f,#f3533e,#fb7959,#fa6a4d,#e53d30,#d4322a,#d22b26,#dc312a,#db2723,#f34d38,#fb7959,#fdd5c3)"></i>
<i style="background:linear-gradient(90deg,#fb7c5c,#e94132,#da322b,#f34f3b,#fb7656,#f9694b,#e3382d,#cf2d27,#ce2723,#d82c28,#d92623,#f24935,#fb7757,#fdd4c2)"></i>
<i style="background:linear-gradient(90deg,#fb7a5a,#e73c2f,#d62c28,#f24a37,#fb7354,#f96749,#e1342b,#cb2724,#ca2321,#d52825,#d72422,#f14633,#fb7656,#fdd4c2)"></i>
<i style="background:linear-gradient(90deg,#fb7858,#e5382c,#d32625,#f14634,#fb7051,#f96548,#de3029,#c72221,#c61e1f,#d22323,#d62322,#f14331,#fb7555,#fdd3c1)"></i>
<i style="background:linear-gradient(90deg,#fb7555,#e3332a,#cf2021,#f04131,#fb6d4e,#f96346,#dc2c26,#c21c1e,#c21a1d,#cf1e20,#d42121,#f03f2f,#fb7454,#fdd3c0)"></i>
<i style="background:linear-gradient(90deg,#fb7353,#e22f27,#cc1a1e,#ef3c2d,#fb6b4b,#f96145,#da2724,#be171b,#be161b,#cc1a1e,#d32020,#ef3c2d,#fb7353,#fdd2c0)"></i>
<i style="background:linear-gradient(90deg,#fb7252,#e12d26,#cb181d,#ee3a2c,#fb6949,#f86044,#d92623,#bb141a,#b81419,#c6171c,#d11f20,#ec392b,#fb7252,#fdd2bf)"></i>
<i style="background:linear-gradient(90deg,#fb7252,#e22e26,#cc191d,#ee3a2c,#fb6849,#f85f43,#db2723,#bb141a,#b21218,#c0151b,#d01e1f,#e9362a,#fb7151,#fdd1be)"></i>
<i style="background:linear-gradient(90deg,#fb7252,#e22e27,#cd1a1e,#ee3a2c,#fa6848,#f85f43,#dc2824,#ba1419,#ac1117,#ba141a,#cf1d1f,#e53328,#fb7051,#fdd0bd)"></i>
<i style="background:linear-gradient(90deg,#fb7252,#e32f27,#ce1b1e,#ee3a2c,#fa6748,#f85e42,#dd2924,#ba1419,#a60f16,#b31219,#ce1d1f,#e13027,#fb7050,#fdd0bd)"></i>
<i style="background:linear-gradient(90deg,#fb7252,#e32f27,#cf1c1f,#ee3a2c,#fa6648,#f85d42,#de2a25,#b91419,#a00e16,#ad1118,#cd1c1e,#de2e26,#fb6f4f,#fdcfbc)"></i>
<i style="background:linear-gradient(90deg,#fb7252,#e33027,#d01d1f,#ee3a2c,#fa6647,#f85d42,#df2b25,#b81419,#990c15,#a70f17,#cc1b1e,#da2b24,#fb6f4f,#fdcfbb)"></i>
<i style="background:linear-gradient(90deg,#fb7252,#e43027,#d11e20,#ee3a2c,#fa6547,#f75c41,#e02c26,#b81319,#930b14,#a00e16,#cb1b1e,#d62823,#fb6e4e,#fdceba)"></i>
<i style="background:linear-gradient(90deg,#fb7252,#e43128,#d21f20,#ee3a2c,#fa6446,#f75c41,#e12d26,#b71319,#8d0913,#9a0c15,#ca1a1d,#d22522,#fb6d4d,#fdcdb9)"></i>
<i style="background:linear-gradient(90deg,#fb7252,#e53128,#d32021,#ee3a2c,#f96446,#f75b40,#e22e27,#b71319,#870812,#940b14,#c9191d,#cf2321,#fb6d4d,#fdcdb9)"></i>
<i style="background:linear-gradient(90deg,#fb7252,#e53228,#d42121,#ee3a2c,#f96346,#f75a40,#e32f27,#b61319,#810611,#8d0913,#c8191d,#cb201f,#fb6c4c,#fdccb8)"></i>
<i style="background:linear-gradient(90deg,#fb7252,#e63228,#d52221,#ee3a2c,#f96245,#f75a40,#e43027,#b51318,#7b0510,#870812,#c6181c,#c71d1e,#fb6b4c,#fdccb7)"></i>
<i style="background:linear-gradient(90deg,#fb7252,#e63328,#d72322,#ee3a2c,#f96245,#f7593f,#e53128,#b51318,#74030f,#800611,#c5171c,#c41a1d,#fb6b4b,#fdcbb6)"></i>
<i style="background:linear-gradient(90deg,#fb7252,#e73329,#d82422,#ee3a2c,#f96144,#f6583f,#e63328,#b41318,#6e020e,#7a0510,#c4171c,#c0181b,#fb6a4a,#fdcab6)"></i>
<i style="background:linear-gradient(90deg,#fb7252,#e73429,#d92523,#ee3a2c,#f96144,#f6583e,#e73429,#b41218,#68000d,#74030f,#c3161b,#bc151a,#fb694a,#fdcab5)"></i>
<i style="background:linear-gradient(90deg,#fb7454,#e9382c,#db2c27,#ef3d2e,#f96346,#f6583e,#e9392d,#b7151a,#6d010e,#7a0610,#c61c1f,#be161b,#fb6a4a,#fdcab5)"></i>
<i style="background:linear-gradient(90deg,#fb7555,#ea3d2f,#de332c,#f04130,#f96649,#f6583e,#ea4033,#bc191c,#73030f,#820912,#ca2324,#c1181b,#fb6a4b,#fdcbb6)"></i>
<i style="background:linear-gradient(90deg,#fb7757,#ec4233,#e03a31,#f14432,#f9694c,#f6583e,#ec4738,#c01d1d,#7a0510,#8b0d14,#cf2b28,#c31a1c,#fb6b4b,#fdcbb7)"></i>
<i style="background:linear-gradient(90deg,#fb7959,#ed4737,#e34237,#f24734,#f96c4f,#f6583e,#ed4e3d,#c5201f,#810611,#931016,#d3322d,#c61b1d,#fb6c4c,#fdccb8)"></i>
<i style="background:linear-gradient(90deg,#fb7b5b,#ef4c3a,#e5493c,#f34b36,#fa6f51,#f6583e,#ef5542,#c92421,#870812,#9c1418,#d73931,#c91d1e,#fb6c4d,#fdcdb8)"></i>
<i style="background:linear-gradient(90deg,#fb7c5c,#f0513e,#e85041,#f44e38,#fa7254,#f6583e,#f05c48,#ce2823,#8e0913,#a4181a,#db4036,#cb1f1f,#fb6d4d,#fdcdb9)"></i>
<i style="background:linear-gradient(90deg,#fc7e5e,#f15741,#ea5746,#f5523b,#fa7557,#f6583e,#f2624d,#d22b25,#950b14,#ad1b1c,#df483a,#ce2120,#fb6e4e,#fdceba)"></i>
<i style="background:linear-gradient(90deg,#fc8060,#f35c45,#ed5f4b,#f5553d,#fa785a,#f6583e,#f36952,#d72f27,#9b0d15,#b51f1e,#e34f3f,#d12321,#fb6e4e,#fdcebb)"></i>
<i style="background:linear-gradient(90deg,#fc8161,#f46148,#ef6651,#f6593f,#fb7b5c,#f6583e,#f57058,#db3329,#a20e16,#be221f,#e75643,#d42422,#fb6f4f,#fdcfbc)"></i>
<i style="background:linear-gradient(90deg,#fc8363,#f6664c,#f26d56,#f75c41,#fb7e5f,#f6583e,#f6775d,#e0362b,#a91017,#c62621,#eb5d48,#d62623,#fb7050,#fdd0bc)"></i>
<i style="background:linear-gradient(90deg,#fc8565,#f76b4f,#f4755b,#f85f43,#fb8162,#f6583e,#f87e62,#e43a2d,#b01118,#cf2923,#ef654d,#d92823,#fb7050,#fdd0bd)"></i>
<i style="background:linear-gradient(90deg,#fc8767,#f97053,#f77c60,#f96345,#fb8465,#f6583e,#f98567,#e93d2e,#b61319,#d72d25,#f46c51,#dc2a24,#fb7151,#fdd1be)"></i>
<i style="background:linear-gradient(90deg,#fc8868,#fa7556,#fa8365,#fa6648,#fc8768,#f6583e,#fb8b6d,#ed4130,#bd151a,#e03127,#f87356,#de2c25,#fb7252,#fdd1bf)"></i>
<i style="background:linear-gradient(90deg,#fc8a6a,#fb7a5a,#fc8a6a,#fb694a,#fc8a6a,#f6583e,#fc9272,#f14432,#c3161b,#e83429,#fb7a5a,#e12d26,#fb7252,#fdd2bf)"></i>
</div>
<div class="sp" style="left:549px;top:525px;width:339px;height:411px"></div>
<b style="left:549px;top:938px;width:1px;height:5px"></b>
<span class="tl xt" style="left:549.40px;top:946.50px;">−1.0</span>
<b style="left:601px;top:938px;width:1px;height:5px"></b>
<span class="tl xt" style="left:601.72px;top:946.50px;">−0.5</span>
<b style="left:654px;top:938px;width:1px;height:5px"></b>
<span class="tl xt" style="left:654.05px;top:946.50px;">0.0</span>
<b style="left:706px;top:938px;width:1px;height:5px"></b>
<span class="tl xt" style="left:706.37px;top:946.50px;">0.5</span>
<b style="left:758px;top:938px;width:1px;height:5px"></b>
<span class="tl xt" style="left:758.69px;top:946.50px;">1.0</span>
<b style="left:811px;top:938px;width:1px;height:5px"></b>
<span class="tl xt" style="left:811.02px;top:946.50px;">1.5</span>
<b style="left:863px;top:938px;width:1px;height:5px"></b>
<span class="tl xt" style="left:863.34px;top:946.50px;">2.0</span>
<b style="left:544px;top:937px;width:5px;height:1px"></b>
<span class="tl yt" style="left:538.50px;top:931.60px;">0</span>
<b style="left:544px;top:869px;width:5px;height:1px"></b>
<span class="tl yt" style="left:538.50px;top:862.93px;">5</span>
<b style="left:544px;top:800px;width:5px;height:1px"></b>
<span class="tl yt" style="left:538.50px;top:794.27px;">10</span>
<b style="left:544px;top:731px;width:5px;height:1px"></b>
<span class="tl yt" style="left:538.50px;top:725.60px;">15</span>
<b style="left:544px;top:663px;width:5px;height:1px"></b>
<span class="tl yt" style="left:538.50px;top:656.93px;">20</span>
<b style="left:544px;top:594px;width:5px;height:1px"></b>
<span class="tl yt" style="left:538.50px;top:588.27px;">25</span>
<b style="left:544px;top:525px;width:5px;height:1px"></b>
<span class="tl yt" style="left:538.50px;top:519.60px;">30</span>
<div class="cb" style="left:911px;top:525px;width:21px;height:413px;background:linear-gradient(0deg,#fff5f0 0.00%,#feeae1 6.25%,#fee0d2 12.50%,#fdcdb9 18.75%,#fcbba1 25.00%,#fca689 31.25%,#fc9272 37.50%,#fb7d5d 43.75%,#fb694a 50.00%,#f5523a 56.25%,#ee3a2c 62.50%,#dc2924 68.75%,#ca181d 75.00%,#b71319 81.25%,#a30f15 87.50%,#840711 93.75%,#67000d 100.00%)"></div>
<div class="sp" style="left:911px;top:525px;width:19px;height:411px;background:none"></div>
<b style="left:932px;top:937px;width:5px;height:1px"></b>
<span class="tl cl" style="left:942.00px;top:931.60px;">0.00</span>
<b style="left:932px;top:886px;width:5px;height:1px"></b>
<span class="tl cl" style="left:942.00px;top:880.10px;">0.25</span>
<b style="left:932px;top:834px;width:5px;height:1px"></b>
<span class="tl cl" style="left:942.00px;top:828.60px;">0.50</span>
<b style="left:932px;top:783px;width:5px;height:1px"></b>
<span class="tl cl" style="left:942.00px;top:777.10px;">0.75</span>
<b style="left:932px;top:731px;width:5px;height:1px"></b>
<span class="tl cl" style="left:942.00px;top:725.60px;">1.00</span>
<b style="left:932px;top:680px;width:5px;height:1px"></b>
<span class="tl cl" style="left:942.00px;top:674.10px;">1.25</span>
<b style="left:932px;top:628px;width:5px;height:1px"></b>
<span class="tl cl" style="left:942.00px;top:622.60px;">1.50</span>
<b style="left:932px;top:577px;width:5px;height:1px"></b>
<span class="tl cl" style="left:942.00px;top:571.10px;">1.75</span>
<b style="left:932px;top:525px;width:5px;height:1px"></b>
<span class="tl cl" style="left:942.00px;top:519.60px;">2.00</span>
<span class="tl of" style="left:894.50px;top:510.00px;">1e−5</span>
<span class="xl" style="left:719.45px;top:965.70px;">Time [s]</span>
<span class="yl" style="left:507.60px;top:732.60px;">Frequency [Hz]</span>
<span class="tt" style="left:719.45px;top:501.80px;">C4 right</span>
</body></html>
